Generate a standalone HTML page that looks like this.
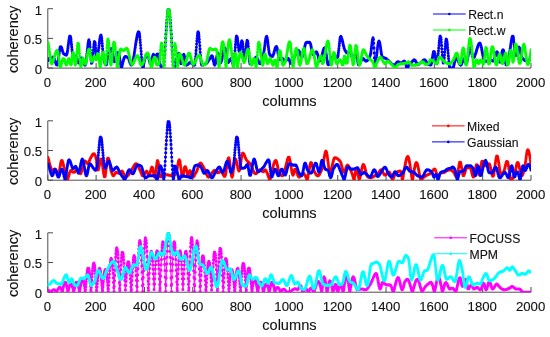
<!DOCTYPE html>
<html><head><meta charset="utf-8"><style>
html,body{margin:0;padding:0;background:#fff;width:550px;height:337px;overflow:hidden}
svg{display:block;filter:blur(0.45px)}
text{font-family:"Liberation Sans", Arial, sans-serif;fill:#111;stroke:#111;stroke-width:0.12px}
.tl{font-size:13.2px}
.lb{font-size:14.6px}
.lg{font-size:12.2px}
</style></head><body>
<svg width="550" height="337" viewBox="0 0 550 337">
<path d="M47.8 8.7V68.1H531.0" fill="none" stroke="#4d4d4d" stroke-width="1"/>
<path d="M47.8 68.10h5.2M47.8 38.40h5.2M47.8 8.70h5.2M47.80 68.1v-5.2M96.12 68.1v-5.2M144.44 68.1v-5.2M192.76 68.1v-5.2M241.08 68.1v-5.2M289.40 68.1v-5.2M337.72 68.1v-5.2M386.04 68.1v-5.2M434.36 68.1v-5.2M482.68 68.1v-5.2M531.00 68.1v-5.2" fill="none" stroke="#4d4d4d" stroke-width="1"/>
<clipPath id="cp0"><rect x="47.8" y="8.2" width="483.2" height="59.9"/></clipPath><g clip-path="url(#cp0)">
<path d="M47.8 60.7 48.0 60.0 48.3 59.4 48.5 58.9 48.8 58.5 49.0 58.4 49.2 58.5 49.5 58.6 49.7 58.8 50.0 59.0 50.2 59.3 50.5 59.5 50.7 59.7 50.9 59.7 51.2 59.7 51.4 59.5 51.7 59.1 51.9 58.6 52.1 58.1 52.4 57.7 52.6 57.3 52.9 57.1 53.1 57.1 53.4 57.2 53.6 57.5 53.8 57.9 54.1 58.5 54.3 59.1 54.6 59.7 54.8 60.4 55.0 61.2 55.3 61.9 55.5 62.6 55.8 63.2 56.0 63.8 56.3 64.3 56.5 64.7 56.7 65.0 57.0 65.1 57.2 64.9 57.5 64.3 57.7 63.4 57.9 62.1 58.2 60.5 58.4 58.8 58.7 57.0 58.9 55.1 59.2 53.2 59.4 51.5 59.6 49.9 59.9 48.5 60.1 47.4 60.4 46.7 60.6 46.4 60.8 46.5 61.1 46.8 61.3 47.2 61.6 47.8 61.8 48.6 62.1 49.3 62.3 50.2 62.5 51.0 62.8 51.8 63.0 52.5 63.3 53.0 63.5 53.5 63.7 53.8 64.0 54.0 64.2 54.1 64.5 54.3 64.7 54.5 65.0 54.6 65.2 54.8 65.4 54.9 65.7 55.0 65.9 55.0 66.2 55.1 66.4 55.1 66.6 54.8 66.9 54.1 67.1 53.1 67.4 51.7 67.6 50.2 67.9 48.4 68.1 46.6 68.3 44.7 68.6 42.9 68.8 41.1 69.1 39.5 69.3 38.1 69.5 36.9 69.8 36.1 70.0 35.7 70.3 35.8 70.5 36.6 70.8 38.0 71.0 39.8 71.2 42.0 71.5 44.4 71.7 46.8 72.0 49.2 72.2 51.4 72.4 53.3 72.7 54.7 72.9 55.6 73.2 55.8 73.4 55.9 73.7 55.9 73.9 56.0 74.1 56.0 74.4 56.1 74.6 56.1 74.9 56.2 75.1 56.2 75.3 56.3 75.6 56.3 75.8 56.5 76.1 56.7 76.3 57.1 76.6 57.6 76.8 58.2 77.0 58.9 77.3 59.5 77.5 60.2 77.8 60.9 78.0 61.6 78.2 62.1 78.5 62.6 78.7 62.9 79.0 63.1 79.2 63.0 79.4 62.8 79.7 62.4 79.9 61.8 80.2 61.1 80.4 60.4 80.7 59.7 80.9 59.0 81.1 58.4 81.4 58.0 81.6 57.8 81.9 57.8 82.1 58.0 82.3 58.4 82.6 58.9 82.8 59.6 83.1 60.3 83.3 61.1 83.6 61.9 83.8 62.6 84.0 63.4 84.3 64.0 84.5 64.5 84.8 64.9 85.0 65.1 85.2 65.0 85.5 64.4 85.7 63.4 86.0 61.9 86.2 60.2 86.5 58.3 86.7 56.1 86.9 53.9 87.2 51.6 87.4 49.3 87.7 47.1 87.9 45.1 88.1 43.3 88.4 41.8 88.6 40.7 88.9 39.9 89.1 39.7 89.4 40.3 89.6 41.9 89.8 44.2 90.1 47.0 90.3 50.2 90.6 53.4 90.8 56.6 91.0 59.4 91.3 61.7 91.5 63.2 91.8 63.8 92.0 63.3 92.3 62.1 92.5 60.3 92.7 58.0 93.0 55.4 93.2 52.6 93.5 49.9 93.7 47.2 93.9 44.9 94.2 43.0 94.4 41.6 94.7 41.1 94.9 41.5 95.2 42.9 95.4 45.2 95.6 48.0 95.9 50.9 96.1 53.7 96.4 56.1 96.6 57.8 96.8 58.4 97.1 58.2 97.3 57.5 97.6 56.5 97.8 55.1 98.1 53.5 98.3 51.7 98.5 49.8 98.8 47.7 99.0 45.6 99.3 43.6 99.5 41.6 99.7 39.8 100.0 38.2 100.2 36.9 100.5 35.9 100.7 35.2 101.0 35.0 101.2 35.5 101.4 36.7 101.7 38.4 101.9 40.7 102.2 43.2 102.4 45.9 102.6 48.7 102.9 51.4 103.1 53.9 103.4 56.1 103.6 57.7 103.9 58.9 104.1 59.9 104.3 60.9 104.6 61.9 104.8 62.8 105.1 63.5 105.3 64.2 105.5 64.7 105.8 65.0 106.0 65.1 106.3 64.8 106.5 63.9 106.8 62.8 107.0 61.3 107.2 59.8 107.5 58.3 107.7 57.0 108.0 55.9 108.2 55.2 108.4 54.4 108.7 53.7 108.9 52.9 109.2 52.2 109.4 51.5 109.6 50.9 109.9 50.3 110.1 49.8 110.4 49.3 110.6 48.9 110.9 48.6 111.1 48.5 111.3 48.4 111.6 48.6 111.8 49.1 112.1 49.9 112.3 51.0 112.5 52.3 112.8 53.6 113.0 55.1 113.3 56.5 113.5 57.9 113.8 59.2 114.0 60.2 114.2 61.1 114.5 61.6 114.7 61.7 115.0 61.6 115.2 61.2 115.4 60.6 115.7 59.8 115.9 58.9 116.2 57.9 116.4 56.9 116.7 55.9 116.9 54.9 117.1 54.1 117.4 53.3 117.6 52.8 117.9 52.5 118.1 52.4 118.3 52.7 118.6 53.3 118.8 54.1 119.1 55.2 119.3 56.4 119.6 57.8 119.8 59.3 120.0 60.8 120.3 62.3 120.5 63.8 120.8 65.2 121.0 66.5 121.2 67.6 121.5 67.7 121.7 66.8 122.0 65.9 122.2 64.9 122.5 63.9 122.7 63.0 122.9 62.1 123.2 61.2 123.4 60.3 123.7 59.5 123.9 58.8 124.1 58.1 124.4 57.6 124.6 57.1 124.9 56.7 125.1 56.5 125.4 56.4 125.6 56.4 125.8 56.5 126.1 56.5 126.3 56.6 126.6 56.7 126.8 56.8 127.0 57.0 127.3 57.2 127.5 57.3 127.8 57.5 128.0 57.7 128.3 57.9 128.5 58.3 128.7 58.9 129.0 59.5 129.2 60.2 129.5 60.9 129.7 61.7 129.9 62.4 130.2 63.1 130.4 63.7 130.7 64.3 130.9 64.7 131.2 65.0 131.4 65.1 131.6 65.0 131.9 64.7 132.1 64.2 132.4 63.5 132.6 62.7 132.8 61.8 133.1 60.7 133.3 59.4 133.6 58.1 133.8 56.7 134.1 55.2 134.3 53.7 134.5 52.1 134.8 50.5 135.0 48.8 135.3 47.2 135.5 45.5 135.7 43.9 136.0 42.3 136.2 40.8 136.5 39.4 136.7 38.0 137.0 36.7 137.2 35.6 137.4 34.5 137.7 33.6 137.9 32.9 138.2 32.3 138.4 31.9 138.6 31.7 138.9 31.8 139.1 32.4 139.4 33.6 139.6 35.3 139.8 37.3 140.1 39.7 140.3 42.4 140.6 45.3 140.8 48.3 141.1 51.3 141.3 54.3 141.5 57.3 141.8 60.0 142.0 62.6 142.3 64.8 142.5 66.6 142.7 68.0 143.0 67.0 143.2 65.9 143.5 64.8 143.7 63.8 144.0 62.7 144.2 61.7 144.4 60.7 144.7 59.7 144.9 58.8 145.2 58.0 145.4 57.2 145.6 56.5 145.9 55.8 146.1 55.3 146.4 54.8 146.6 54.4 146.9 54.1 147.1 53.8 147.3 53.7 147.6 53.8 147.8 54.2 148.1 54.8 148.3 55.7 148.5 56.7 148.8 57.8 149.0 59.0 149.3 60.2 149.5 61.3 149.8 62.2 150.0 63.0 150.2 63.5 150.5 63.8 150.7 63.6 151.0 63.2 151.2 62.4 151.4 61.5 151.7 60.5 151.9 59.3 152.2 58.2 152.4 57.1 152.7 56.1 152.9 55.3 153.1 54.7 153.4 54.4 153.6 54.5 153.9 54.9 154.1 55.4 154.3 56.0 154.6 56.6 154.8 57.0 155.1 57.1 155.3 56.9 155.6 56.7 155.8 56.4 156.0 56.0 156.3 55.5 156.5 55.1 156.8 54.6 157.0 54.3 157.2 54.0 157.5 53.8 157.7 53.7 158.0 54.1 158.2 54.8 158.5 55.8 158.7 57.1 158.9 58.5 159.2 59.9 159.4 61.4 159.7 62.7 159.9 63.8 160.1 64.6 160.4 65.2 160.6 65.5 160.9 65.8 161.1 66.2 161.4 66.5 161.6 66.8 161.8 67.0 162.1 67.3 162.3 67.5 162.6 67.7 162.8 67.8 163.0 67.9 163.3 68.0 163.5 68.1 163.8 68.1 164.0 65.0 164.3 61.6 164.5 58.0 164.7 54.2 165.0 50.3 165.2 46.2 165.5 42.2 165.7 38.1 165.9 34.1 166.2 30.3 166.4 26.6 166.7 23.1 166.9 20.0 167.2 17.1 167.4 14.6 167.6 12.5 167.9 10.9 168.1 9.7 168.4 8.9 168.6 8.7 168.8 8.9 169.1 9.7 169.3 10.9 169.6 12.5 169.8 14.6 170.0 17.1 170.3 20.0 170.5 23.1 170.8 26.6 171.0 30.3 171.3 34.1 171.5 38.1 171.7 42.2 172.0 46.2 172.2 50.3 172.5 54.2 172.7 58.0 172.9 61.6 173.2 65.0 173.4 68.1 173.7 68.0 173.9 67.8 174.2 67.4 174.4 66.9 174.6 66.3 174.9 65.6 175.1 64.8 175.4 64.0 175.6 63.1 175.8 62.2 176.1 61.2 176.3 60.2 176.6 59.3 176.8 58.3 177.1 57.4 177.3 56.6 177.5 55.8 177.8 55.0 178.0 54.4 178.3 53.9 178.5 53.5 178.7 53.2 179.0 53.1 179.2 53.3 179.5 54.3 179.7 55.8 180.0 57.6 180.2 59.5 180.4 61.3 180.7 62.8 180.9 63.6 181.2 63.7 181.4 63.3 181.6 62.6 181.9 61.6 182.1 60.5 182.4 59.2 182.6 57.9 182.9 56.8 183.1 55.7 183.3 55.0 183.6 54.5 183.8 54.4 184.1 54.9 184.3 55.7 184.5 56.8 184.8 58.1 185.0 59.5 185.3 60.9 185.5 62.3 185.8 63.5 186.0 64.4 186.2 65.0 186.5 65.1 186.7 65.0 187.0 65.0 187.2 64.8 187.4 64.6 187.7 64.4 187.9 64.2 188.2 64.0 188.4 63.8 188.7 63.5 188.9 63.3 189.1 63.1 189.4 62.9 189.6 62.7 189.9 62.6 190.1 62.5 190.3 62.4 190.6 62.4 190.8 62.5 191.1 62.6 191.3 62.8 191.6 62.9 191.8 63.2 192.0 63.4 192.3 63.6 192.5 63.9 192.8 64.1 193.0 64.3 193.2 64.5 193.5 64.7 193.7 64.9 194.0 65.0 194.2 65.1 194.5 65.1 194.7 64.6 194.9 63.4 195.2 61.6 195.4 59.3 195.7 56.6 195.9 53.6 196.1 50.4 196.4 47.2 196.6 44.0 196.9 40.9 197.1 38.2 197.4 35.7 197.6 33.8 197.8 32.4 198.1 31.7 198.3 31.9 198.6 32.8 198.8 34.4 199.0 36.6 199.3 39.3 199.5 42.3 199.8 45.6 200.0 48.9 200.2 52.3 200.5 55.4 200.7 58.4 201.0 60.9 201.2 63.0 201.5 64.4 201.7 65.0 201.9 65.1 202.2 65.1 202.4 65.0 202.7 65.0 202.9 65.0 203.1 64.9 203.4 64.8 203.6 64.7 203.9 64.6 204.1 64.6 204.4 64.5 204.6 64.3 204.8 64.2 205.1 64.1 205.3 64.0 205.6 63.9 205.8 63.7 206.0 63.6 206.3 63.4 206.5 63.2 206.8 62.9 207.0 62.7 207.3 62.4 207.5 62.0 207.7 61.7 208.0 61.4 208.2 61.0 208.5 60.6 208.7 60.3 208.9 59.9 209.2 59.5 209.4 59.2 209.7 58.9 209.9 58.5 210.2 58.2 210.4 57.8 210.6 57.4 210.9 57.0 211.1 56.6 211.4 56.2 211.6 55.9 211.8 55.8 212.1 55.8 212.3 56.1 212.6 56.8 212.8 57.8 213.1 58.9 213.3 60.2 213.5 61.4 213.8 62.6 214.0 63.7 214.3 64.5 214.5 65.0 214.7 65.1 215.0 64.8 215.2 64.2 215.5 63.4 215.7 62.3 216.0 61.2 216.2 59.9 216.4 58.6 216.7 57.3 216.9 56.1 217.2 55.0 217.4 54.1 217.6 53.5 217.9 53.1 218.1 53.1 218.4 53.5 218.6 54.2 218.9 55.2 219.1 56.4 219.3 57.6 219.6 58.9 219.8 60.1 220.1 61.1 220.3 61.9 220.5 62.3 220.8 62.4 221.0 62.1 221.3 61.6 221.5 60.8 221.8 59.9 222.0 58.8 222.2 57.6 222.5 56.3 222.7 54.9 223.0 53.6 223.2 52.3 223.4 51.1 223.7 50.1 223.9 49.1 224.2 48.4 224.4 47.9 224.7 47.7 224.9 47.9 225.1 48.4 225.4 49.3 225.6 50.4 225.9 51.8 226.1 53.3 226.3 54.9 226.6 56.5 226.8 58.0 227.1 59.4 227.3 60.6 227.6 61.6 227.8 62.2 228.0 62.4 228.3 62.4 228.5 62.2 228.8 61.9 229.0 61.6 229.2 61.2 229.5 60.8 229.7 60.4 230.0 60.0 230.2 59.5 230.4 59.2 230.7 58.9 230.9 58.6 231.2 58.5 231.4 58.4 231.7 58.8 231.9 59.5 232.1 60.6 232.4 61.7 232.6 62.9 232.9 64.0 233.1 64.7 233.3 65.1 233.6 64.8 233.8 63.7 234.1 61.9 234.3 59.5 234.6 56.8 234.8 53.8 235.0 50.6 235.3 47.4 235.5 44.4 235.8 41.6 236.0 39.2 236.2 37.3 236.5 36.1 236.7 35.7 237.0 36.1 237.2 37.1 237.5 38.6 237.7 40.5 237.9 42.6 238.2 44.8 238.4 46.9 238.7 48.7 238.9 50.3 239.1 51.3 239.4 51.7 239.6 51.5 239.9 50.8 240.1 49.7 240.4 48.4 240.6 46.9 240.8 45.4 241.1 43.9 241.3 42.6 241.6 41.4 241.8 40.7 242.0 40.4 242.3 40.8 242.5 42.1 242.8 44.0 243.0 46.5 243.3 49.2 243.5 51.8 243.7 54.3 244.0 56.4 244.2 57.8 244.5 58.4 244.7 58.1 244.9 57.1 245.2 55.7 245.4 53.8 245.7 51.7 245.9 49.4 246.2 47.1 246.4 44.9 246.6 43.0 246.9 41.4 247.1 40.2 247.4 39.7 247.6 40.0 247.8 41.3 248.1 43.5 248.3 46.2 248.6 49.2 248.8 52.5 249.1 55.7 249.3 58.6 249.5 61.1 249.8 62.8 250.0 63.7 250.3 63.7 250.5 63.7 250.7 63.6 251.0 63.6 251.2 63.4 251.5 63.3 251.7 63.2 252.0 63.0 252.2 62.8 252.4 62.7 252.7 62.5 252.9 62.3 253.2 62.0 253.4 61.6 253.6 61.1 253.9 60.6 254.1 60.1 254.4 59.6 254.6 59.0 254.9 58.5 255.1 58.1 255.3 57.7 255.6 57.4 255.8 57.2 256.1 57.1 256.3 57.1 256.5 57.3 256.8 57.6 257.0 58.0 257.3 58.4 257.5 59.0 257.8 59.5 258.0 60.1 258.2 60.7 258.5 61.3 258.7 61.9 259.0 62.4 259.2 62.9 259.4 63.3 259.7 63.5 259.9 63.7 260.2 63.8 260.4 63.6 260.6 63.4 260.9 63.0 261.1 62.5 261.4 61.9 261.6 61.2 261.9 60.4 262.1 59.6 262.3 58.7 262.6 57.8 262.8 56.8 263.1 55.9 263.3 55.0 263.5 54.0 263.8 52.8 264.0 51.3 264.3 49.7 264.5 47.9 264.8 46.0 265.0 44.1 265.2 42.3 265.5 40.6 265.7 39.1 266.0 37.9 266.2 37.0 266.4 36.5 266.7 36.4 266.9 36.9 267.2 37.9 267.4 39.3 267.7 40.9 267.9 42.8 268.1 44.9 268.4 46.9 268.6 48.9 268.9 50.7 269.1 52.3 269.3 53.5 269.6 54.2 269.8 54.6 270.1 54.9 270.3 55.2 270.6 55.4 270.8 55.7 271.0 55.9 271.3 56.0 271.5 56.2 271.8 56.3 272.0 56.4 272.2 56.4 272.5 56.4 272.7 56.2 273.0 55.8 273.2 55.2 273.5 54.5 273.7 53.8 273.9 52.9 274.2 52.0 274.4 51.1 274.7 50.2 274.9 49.4 275.1 48.6 275.4 47.9 275.6 47.3 275.9 46.8 276.1 46.5 276.4 46.4 276.6 46.6 276.8 47.1 277.1 48.0 277.3 49.1 277.6 50.3 277.8 51.7 278.0 53.2 278.3 54.6 278.5 56.0 278.8 57.2 279.0 58.3 279.3 59.1 279.5 59.6 279.7 59.7 280.0 59.7 280.2 59.6 280.5 59.5 280.7 59.3 280.9 59.1 281.2 59.0 281.4 58.8 281.7 58.6 281.9 58.5 282.2 58.4 282.4 58.4 282.6 58.5 282.9 58.7 283.1 58.9 283.4 59.2 283.6 59.6 283.8 59.9 284.1 60.3 284.3 60.6 284.6 60.9 284.8 61.0 285.1 61.1 285.3 61.0 285.5 60.9 285.8 60.8 286.0 60.5 286.3 60.3 286.5 60.0 286.7 59.7 287.0 59.4 287.2 59.2 287.5 58.9 287.7 58.7 288.0 58.5 288.2 58.4 288.4 58.4 288.7 58.6 288.9 59.0 289.2 59.5 289.4 60.1 289.6 60.8 289.9 61.6 290.1 62.3 290.4 62.9 290.6 63.3 290.8 63.7 291.1 63.8 291.3 63.6 291.6 63.4 291.8 63.0 292.1 62.5 292.3 61.9 292.5 61.3 292.8 60.7 293.0 60.0 293.3 59.4 293.5 58.9 293.7 58.4 294.0 57.9 294.2 57.4 294.5 56.9 294.7 56.4 295.0 55.8 295.2 55.3 295.4 54.7 295.7 54.2 295.9 53.6 296.2 53.1 296.4 52.6 296.6 52.2 296.9 51.8 297.1 51.4 297.4 51.1 297.6 50.8 297.9 50.6 298.1 50.5 298.3 50.4 298.6 50.4 298.8 50.7 299.1 51.1 299.3 51.6 299.5 52.2 299.8 52.9 300.0 53.6 300.3 54.3 300.5 55.0 300.8 55.6 301.0 56.2 301.2 56.7 301.5 56.9 301.7 57.1 302.0 57.0 302.2 56.7 302.4 56.2 302.7 55.5 302.9 54.7 303.2 53.8 303.4 52.8 303.7 51.7 303.9 50.6 304.1 49.5 304.4 48.4 304.6 47.3 304.9 46.2 305.1 45.2 305.3 44.4 305.6 43.6 305.8 43.0 306.1 42.6 306.3 42.4 306.6 42.4 306.8 42.4 307.0 42.4 307.3 42.4 307.5 42.4 307.8 42.4 308.0 42.4 308.2 42.4 308.5 42.4 308.7 42.4 309.0 42.4 309.2 42.4 309.5 42.4 309.7 42.4 309.9 42.5 310.2 42.9 310.4 43.6 310.7 44.5 310.9 45.6 311.1 46.8 311.4 48.1 311.6 49.4 311.9 50.7 312.1 51.8 312.4 52.8 312.6 53.6 312.8 54.2 313.1 54.4 313.3 54.4 313.6 54.3 313.8 54.1 314.0 53.9 314.3 53.6 314.5 53.4 314.8 53.1 315.0 52.8 315.3 52.5 315.5 52.3 315.7 52.0 316.0 51.9 316.2 51.8 316.5 51.7 316.7 51.9 316.9 52.3 317.2 52.9 317.4 53.7 317.7 54.5 317.9 55.5 318.2 56.5 318.4 57.5 318.6 58.5 318.9 59.4 319.1 60.1 319.4 60.7 319.6 61.0 319.8 61.1 320.1 60.9 320.3 60.6 320.6 60.2 320.8 59.6 321.0 58.9 321.3 58.1 321.5 57.2 321.8 56.3 322.0 55.3 322.3 54.3 322.5 53.3 322.7 52.4 323.0 51.4 323.2 50.6 323.5 49.8 323.7 49.1 323.9 48.5 324.2 48.1 324.4 47.8 324.7 47.7 324.9 47.9 325.2 48.5 325.4 49.5 325.6 50.7 325.9 52.2 326.1 53.8 326.4 55.4 326.6 57.2 326.8 58.8 327.1 60.4 327.3 61.9 327.6 63.1 327.8 64.0 328.1 64.6 328.3 64.8 328.5 64.7 328.8 64.5 329.0 64.1 329.3 63.7 329.5 63.1 329.7 62.5 330.0 61.8 330.2 61.1 330.5 60.4 330.7 59.7 331.0 59.0 331.2 58.4 331.4 57.9 331.7 57.5 331.9 57.2 332.2 57.0 332.4 56.8 332.6 56.6 332.9 56.4 333.1 56.3 333.4 56.1 333.6 56.0 333.9 55.9 334.1 55.8 334.3 55.8 334.6 55.7 334.8 55.7 335.1 55.8 335.3 56.0 335.5 56.2 335.8 56.5 336.0 56.7 336.3 57.0 336.5 57.3 336.8 57.5 337.0 57.6 337.2 57.7 337.5 57.7 337.7 57.1 338.0 56.0 338.2 54.4 338.4 52.5 338.7 50.4 338.9 48.2 339.2 45.8 339.4 43.6 339.7 41.5 339.9 39.6 340.1 38.1 340.4 37.0 340.6 36.4 340.9 36.4 341.1 36.7 341.3 37.1 341.6 37.7 341.8 38.5 342.1 39.4 342.3 40.4 342.6 41.4 342.8 42.5 343.0 43.6 343.3 44.7 343.5 45.8 343.8 46.8 344.0 47.7 344.2 48.5 344.5 49.2 344.7 49.7 345.0 50.2 345.2 50.6 345.5 51.0 345.7 51.4 345.9 51.8 346.2 52.1 346.4 52.4 346.7 52.7 346.9 52.9 347.1 53.0 347.4 53.1 347.6 53.0 347.9 52.9 348.1 52.7 348.4 52.5 348.6 52.2 348.8 51.9 349.1 51.7 349.3 51.4 349.6 51.3 349.8 51.1 350.0 51.1 350.3 51.2 350.5 51.6 350.8 52.2 351.0 52.9 351.2 53.8 351.5 54.8 351.7 55.8 352.0 56.8 352.2 57.6 352.5 58.4 352.7 59.0 352.9 59.4 353.2 59.5 353.4 59.3 353.7 58.9 353.9 58.3 354.1 57.6 354.4 56.7 354.6 55.9 354.9 55.0 355.1 54.2 355.4 53.5 355.6 52.9 355.8 52.5 356.1 52.4 356.3 52.7 356.6 53.5 356.8 54.7 357.0 56.2 357.3 57.8 357.5 59.5 357.8 61.2 358.0 62.7 358.3 63.9 358.5 64.8 358.7 65.1 359.0 65.0 359.2 64.8 359.5 64.5 359.7 64.1 359.9 63.7 360.2 63.1 360.4 62.6 360.7 62.0 360.9 61.4 361.2 60.8 361.4 60.2 361.6 59.7 361.9 59.2 362.1 58.9 362.4 58.6 362.6 58.4 362.8 58.4 363.1 58.5 363.3 58.6 363.6 58.8 363.8 59.0 364.1 59.3 364.3 59.6 364.5 59.9 364.8 60.2 365.0 60.4 365.3 60.7 365.5 60.9 365.7 61.0 366.0 61.1 366.2 61.1 366.5 61.0 366.7 60.9 367.0 60.8 367.2 60.6 367.4 60.4 367.7 60.1 367.9 59.8 368.2 59.5 368.4 59.1 368.6 58.7 368.9 58.3 369.1 57.8 369.4 57.3 369.6 56.8 369.9 56.3 370.1 55.8 370.3 55.0 370.6 53.9 370.8 52.4 371.1 50.6 371.3 48.7 371.5 46.7 371.8 44.8 372.0 42.9 372.3 41.1 372.5 39.7 372.8 38.6 373.0 37.9 373.2 37.7 373.5 39.5 373.7 43.1 374.0 47.9 374.2 53.0 374.4 57.9 374.7 61.7 374.9 63.6 375.2 63.6 375.4 63.1 375.7 62.2 375.9 60.9 376.1 59.3 376.4 57.6 376.6 55.6 376.9 53.6 377.1 51.6 377.3 49.6 377.6 47.6 377.8 45.8 378.1 44.2 378.3 42.9 378.6 41.9 378.8 41.2 379.0 41.0 379.3 41.3 379.5 42.0 379.8 43.0 380.0 44.3 380.2 45.8 380.5 47.4 380.7 49.1 381.0 50.7 381.2 52.4 381.4 53.9 381.7 55.1 381.9 56.1 382.2 56.8 382.4 57.1 382.7 57.3 382.9 57.4 383.1 57.5 383.4 57.6 383.6 57.7 383.9 57.8 384.1 57.9 384.3 57.9 384.6 58.0 384.8 58.1 385.1 58.1 385.3 58.2 385.6 58.3 385.8 58.5 386.0 58.6 386.3 58.8 386.5 58.9 386.8 59.1 387.0 59.3 387.2 59.5 387.5 59.7 387.7 59.9 388.0 60.1 388.2 60.3 388.5 60.6 388.7 60.8 388.9 61.0 389.2 61.2 389.4 61.5 389.7 61.7 389.9 62.0 390.1 62.2 390.4 62.5 390.6 62.8 390.9 63.0 391.1 63.3 391.4 63.5 391.6 63.7 391.8 63.8 392.1 64.0 392.3 64.2 392.6 64.3 392.8 64.5 393.0 64.6 393.3 64.8 393.5 64.9 393.8 65.0 394.0 65.1 394.3 65.1 394.5 65.1 394.7 65.0 395.0 64.8 395.2 64.6 395.5 64.3 395.7 63.9 395.9 63.6 396.2 63.2 396.4 62.9 396.7 62.5 396.9 62.2 397.2 62.0 397.4 61.8 397.6 61.8 397.9 61.8 398.1 61.8 398.4 61.9 398.6 62.0 398.8 62.1 399.1 62.2 399.3 62.4 399.6 62.5 399.8 62.7 400.1 62.8 400.3 62.9 400.5 63.0 400.8 63.1 401.0 63.1 401.3 63.1 401.5 63.0 401.7 62.9 402.0 62.7 402.2 62.5 402.5 62.3 402.7 62.1 403.0 61.9 403.2 61.7 403.4 61.5 403.7 61.3 403.9 61.2 404.2 61.1 404.4 61.1 404.6 61.2 404.9 61.6 405.1 62.1 405.4 62.8 405.6 63.6 405.9 64.4 406.1 65.3 406.3 66.1 406.6 66.9 406.8 67.6 407.1 68.1 407.3 67.7 407.5 67.3 407.8 67.0 408.0 66.6 408.3 66.3 408.5 66.0 408.8 65.7 409.0 65.4 409.2 65.1 409.5 64.8 409.7 64.5 410.0 64.3 410.2 64.0 410.4 63.7 410.7 63.4 410.9 63.1 411.2 62.8 411.4 62.5 411.6 62.2 411.9 61.9 412.1 61.5 412.4 61.2 412.6 60.9 412.9 60.7 413.1 60.4 413.3 60.2 413.6 60.0 413.8 59.9 414.1 59.8 414.3 59.8 414.5 59.8 414.8 59.9 415.0 60.2 415.3 60.5 415.5 60.9 415.8 61.4 416.0 61.9 416.2 62.4 416.5 62.9 416.7 63.3 417.0 63.7 417.2 64.1 417.4 64.3 417.7 64.4 417.9 64.4 418.2 64.4 418.4 64.3 418.7 64.2 418.9 64.1 419.1 63.9 419.4 63.7 419.6 63.6 419.9 63.4 420.1 63.2 420.3 63.0 420.6 62.8 420.8 62.6 421.1 62.4 421.3 62.3 421.6 62.1 421.8 61.8 422.0 61.6 422.3 61.3 422.5 61.1 422.8 60.8 423.0 60.6 423.2 60.3 423.5 60.1 423.7 60.0 424.0 59.9 424.2 59.8 424.5 59.7 424.7 59.8 424.9 59.9 425.2 60.2 425.4 60.4 425.7 60.8 425.9 61.1 426.1 61.5 426.4 61.9 426.6 62.3 426.9 62.7 427.1 63.0 427.4 63.4 427.6 63.6 427.8 63.8 428.1 63.9 428.3 64.1 428.6 64.3 428.8 64.4 429.0 64.6 429.3 64.7 429.5 64.8 429.8 64.9 430.0 65.0 430.3 65.0 430.5 65.1 430.7 65.1 431.0 64.8 431.2 64.1 431.5 63.1 431.7 61.9 431.9 60.5 432.2 59.0 432.4 57.5 432.7 56.0 432.9 54.6 433.2 53.4 433.4 52.3 433.6 51.5 433.9 51.1 434.1 51.1 434.4 51.7 434.6 52.7 434.8 54.0 435.1 55.6 435.3 57.3 435.6 59.0 435.8 60.6 436.1 62.0 436.3 63.0 436.5 63.6 436.8 63.7 437.0 63.1 437.3 62.0 437.5 60.3 437.7 58.3 438.0 55.9 438.2 53.4 438.5 50.7 438.7 48.0 439.0 45.3 439.2 42.8 439.4 40.5 439.7 38.6 439.9 37.1 440.2 36.1 440.4 35.7 440.6 36.1 440.9 37.5 441.1 39.6 441.4 42.3 441.6 45.4 441.8 48.8 442.1 52.1 442.3 55.3 442.6 58.2 442.8 60.6 443.1 62.3 443.3 63.0 443.5 62.8 443.8 61.8 444.0 60.0 444.3 57.7 444.5 55.0 444.7 52.1 445.0 49.1 445.2 46.3 445.5 43.7 445.7 41.5 446.0 40.0 446.2 39.1 446.4 39.1 446.7 39.9 446.9 41.2 447.2 42.9 447.4 45.1 447.6 47.6 447.9 50.3 448.1 53.1 448.4 55.9 448.6 58.6 448.9 61.2 449.1 63.4 449.3 65.4 449.6 66.9 449.8 67.8 450.1 68.1 450.3 68.1 450.5 68.1 450.8 68.1 451.0 68.1 451.3 68.1 451.5 68.1 451.8 68.1 452.0 68.1 452.2 68.1 452.5 68.1 452.7 68.1 453.0 67.9 453.2 67.5 453.4 66.8 453.7 66.0 453.9 65.0 454.2 63.9 454.4 62.8 454.7 61.7 454.9 60.6 455.1 59.7 455.4 58.9 455.6 58.2 455.9 57.8 456.1 57.7 456.3 57.8 456.6 58.0 456.8 58.3 457.1 58.6 457.3 59.0 457.6 59.5 457.8 60.0 458.0 60.6 458.3 61.1 458.5 61.7 458.8 62.3 459.0 62.8 459.2 63.3 459.5 63.8 459.7 64.2 460.0 64.6 460.2 64.8 460.5 65.0 460.7 65.1 460.9 65.0 461.2 64.8 461.4 64.4 461.7 63.9 461.9 63.3 462.1 62.6 462.4 61.9 462.6 61.3 462.9 60.6 463.1 60.0 463.4 59.5 463.6 59.0 463.8 58.8 464.1 58.7 464.3 58.9 464.6 59.4 464.8 60.2 465.0 61.1 465.3 62.0 465.5 62.8 465.8 63.4 466.0 63.7 466.3 63.7 466.5 63.3 466.7 62.7 467.0 61.8 467.2 60.8 467.5 59.6 467.7 58.3 467.9 56.9 468.2 55.5 468.4 54.1 468.7 52.8 468.9 51.6 469.2 50.5 469.4 49.6 469.6 48.9 469.9 48.5 470.1 48.4 470.4 48.6 470.6 49.0 470.8 49.6 471.1 50.4 471.3 51.3 471.6 52.2 471.8 53.3 472.0 54.3 472.3 55.2 472.5 56.1 472.8 56.8 473.0 57.3 473.3 57.7 473.5 57.7 473.7 57.6 474.0 57.4 474.2 57.1 474.5 56.7 474.7 56.2 474.9 55.6 475.2 54.9 475.4 54.2 475.7 53.5 475.9 52.7 476.2 51.8 476.4 51.0 476.6 50.2 476.9 49.3 477.1 48.5 477.4 47.7 477.6 46.9 477.8 46.2 478.1 45.5 478.3 44.9 478.6 44.3 478.8 43.9 479.1 43.5 479.3 43.2 479.5 43.1 479.8 43.1 480.0 43.2 480.3 43.6 480.5 44.2 480.7 45.0 481.0 45.9 481.2 46.9 481.5 48.0 481.7 49.2 482.0 50.5 482.2 51.8 482.4 53.1 482.7 54.3 482.9 55.5 483.2 56.7 483.4 57.8 483.6 58.7 483.9 59.6 484.1 60.2 484.4 60.7 484.6 61.0 484.9 61.1 485.1 61.1 485.3 61.1 485.6 61.1 485.8 61.1 486.1 61.1 486.3 61.1 486.5 61.1 486.8 61.1 487.0 61.1 487.3 61.1 487.5 61.1 487.8 61.1 488.0 61.0 488.2 60.9 488.5 60.8 488.7 60.6 489.0 60.4 489.2 60.3 489.4 60.1 489.7 59.9 489.9 59.8 490.2 59.8 490.4 59.7 490.7 59.8 490.9 59.9 491.1 60.0 491.4 60.2 491.6 60.4 491.9 60.5 492.1 60.7 492.3 60.9 492.6 61.0 492.8 61.1 493.1 61.1 493.3 60.9 493.6 60.6 493.8 60.2 494.0 59.6 494.3 58.9 494.5 58.1 494.8 57.3 495.0 56.5 495.2 55.6 495.5 54.8 495.7 54.0 496.0 53.3 496.2 52.7 496.5 52.3 496.7 51.9 496.9 51.7 497.2 51.8 497.4 52.3 497.7 53.2 497.9 54.4 498.1 55.8 498.4 57.2 498.6 58.6 498.9 60.0 499.1 61.1 499.4 61.9 499.6 62.4 499.8 62.4 500.1 62.0 500.3 61.3 500.6 60.3 500.8 59.2 501.0 57.9 501.3 56.6 501.5 55.2 501.8 53.9 502.0 52.6 502.2 51.5 502.5 50.6 502.7 50.0 503.0 49.7 503.2 49.8 503.5 50.4 503.7 51.3 503.9 52.5 504.2 53.9 504.4 55.4 504.7 57.1 504.9 58.8 505.1 60.4 505.4 61.8 505.6 63.1 505.9 64.1 506.1 64.8 506.4 65.1 506.6 65.0 506.8 64.6 507.1 64.1 507.3 63.3 507.6 62.4 507.8 61.4 508.0 60.4 508.3 59.2 508.5 58.1 508.8 57.0 509.0 55.9 509.3 54.8 509.5 53.5 509.7 52.1 510.0 50.5 510.2 48.8 510.5 47.1 510.7 45.3 510.9 43.6 511.2 42.0 511.4 40.4 511.7 39.0 511.9 37.8 512.2 36.9 512.4 36.2 512.6 35.8 512.9 35.7 513.1 36.4 513.4 37.6 513.6 39.4 513.8 41.5 514.1 43.9 514.3 46.4 514.6 48.8 514.8 51.0 515.1 53.0 515.3 54.5 515.5 55.5 515.8 55.7 516.0 55.6 516.3 55.2 516.5 54.6 516.7 53.8 517.0 53.0 517.2 52.1 517.5 51.1 517.7 50.2 518.0 49.3 518.2 48.5 518.4 47.9 518.7 47.4 518.9 47.1 519.2 47.1 519.4 47.4 519.6 48.1 519.9 49.0 520.1 50.1 520.4 51.3 520.6 52.6 520.9 53.8 521.1 55.0 521.3 55.9 521.6 56.7 521.8 57.2 522.1 57.6 522.3 57.9 522.5 58.2 522.8 58.5 523.0 58.8 523.3 59.1 523.5 59.3 523.8 59.6 524.0 59.8 524.2 59.9 524.5 60.1 524.7 60.2 525.0 60.4 525.2 60.5 525.4 60.5 525.7 60.6 525.9 60.7 526.2 60.8 526.4 60.9 526.7 60.9 526.9 61.0 527.1 61.0 527.4 61.1 527.6 61.1 527.9 61.1 528.1 61.0 528.3 60.9 528.6 60.8 528.8 60.5 529.1 60.3 529.3 60.0 529.6 59.6 529.8 59.3 530.0 58.9 530.3 58.4 530.5 57.9 530.8 57.4 531.0 56.9" fill="none" stroke="#0000ff" stroke-width="1" stroke-linejoin="round"/><path d="M47.8 60.7h0M48.0 60.0h0M48.5 58.9h0M49.2 58.5h0M50.0 59.0h0M50.7 59.7h0M51.4 59.5h0M51.9 58.6h0M52.4 57.7h0M52.9 57.1h0M53.6 57.5h0M54.1 58.5h0M54.6 59.7h0M54.8 60.4h0M55.0 61.2h0M55.3 61.9h0M55.5 62.6h0M56.0 63.8h0M56.5 64.7h0M57.2 64.9h0M57.7 63.4h0M57.9 62.1h0M58.2 60.5h0M58.4 58.8h0M58.7 57.0h0M58.9 55.1h0M59.2 53.2h0M59.4 51.5h0M59.6 49.9h0M59.9 48.5h0M60.1 47.4h0M60.4 46.7h0M61.1 46.8h0M61.6 47.8h0M61.8 48.6h0M62.1 49.3h0M62.3 50.2h0M62.5 51.0h0M62.8 51.8h0M63.0 52.5h0M63.5 53.5h0M64.2 54.1h0M65.0 54.6h0M65.7 55.0h0M66.4 55.1h0M66.9 54.1h0M67.1 53.1h0M67.4 51.7h0M67.6 50.2h0M67.9 48.4h0M68.1 46.6h0M68.3 44.7h0M68.6 42.9h0M68.8 41.1h0M69.1 39.5h0M69.3 38.1h0M69.5 36.9h0M69.8 36.1h0M70.5 36.6h0M70.8 38.0h0M71.0 39.8h0M71.2 42.0h0M71.5 44.4h0M71.7 46.8h0M72.0 49.2h0M72.2 51.4h0M72.4 53.3h0M72.7 54.7h0M72.9 55.6h0M73.7 55.9h0M74.4 56.1h0M75.1 56.2h0M75.8 56.5h0M76.3 57.1h0M76.8 58.2h0M77.3 59.5h0M77.5 60.2h0M77.8 60.9h0M78.2 62.1h0M78.7 62.9h0M79.4 62.8h0M79.9 61.8h0M80.2 61.1h0M80.4 60.4h0M80.7 59.7h0M80.9 59.0h0M81.4 58.0h0M82.1 58.0h0M82.6 58.9h0M83.1 60.3h0M83.3 61.1h0M83.6 61.9h0M83.8 62.6h0M84.0 63.4h0M84.5 64.5h0M85.0 65.1h0M85.5 64.4h0M85.7 63.4h0M86.0 61.9h0M86.2 60.2h0M86.5 58.3h0M86.7 56.1h0M86.9 53.9h0M87.2 51.6h0M87.4 49.3h0M87.7 47.1h0M87.9 45.1h0M88.1 43.3h0M88.4 41.8h0M88.6 40.7h0M88.9 39.9h0M89.6 41.9h0M89.8 44.2h0M90.1 47.0h0M90.3 50.2h0M90.6 53.4h0M90.8 56.6h0M91.0 59.4h0M91.3 61.7h0M91.5 63.2h0M92.3 62.1h0M92.5 60.3h0M92.7 58.0h0M93.0 55.4h0M93.2 52.6h0M93.5 49.9h0M93.7 47.2h0M93.9 44.9h0M94.2 43.0h0M94.4 41.6h0M95.2 42.9h0M95.4 45.2h0M95.6 48.0h0M95.9 50.9h0M96.1 53.7h0M96.4 56.1h0M96.6 57.8h0M97.3 57.5h0M97.6 56.5h0M97.8 55.1h0M98.1 53.5h0M98.3 51.7h0M98.5 49.8h0M98.8 47.7h0M99.0 45.6h0M99.3 43.6h0M99.5 41.6h0M99.7 39.8h0M100.0 38.2h0M100.2 36.9h0M100.5 35.9h0M101.0 35.0h0M101.4 36.7h0M101.7 38.4h0M101.9 40.7h0M102.2 43.2h0M102.4 45.9h0M102.6 48.7h0M102.9 51.4h0M103.1 53.9h0M103.4 56.1h0M103.6 57.7h0M103.9 58.9h0M104.1 59.9h0M104.3 60.9h0M104.6 61.9h0M104.8 62.8h0M105.1 63.5h0M105.5 64.7h0M106.3 64.8h0M106.5 63.9h0M106.8 62.8h0M107.0 61.3h0M107.2 59.8h0M107.5 58.3h0M107.7 57.0h0M108.0 55.9h0M108.2 55.2h0M108.4 54.4h0M108.7 53.7h0M108.9 52.9h0M109.2 52.2h0M109.4 51.5h0M109.9 50.3h0M110.4 49.3h0M110.9 48.6h0M111.6 48.6h0M112.1 49.9h0M112.3 51.0h0M112.5 52.3h0M112.8 53.6h0M113.0 55.1h0M113.3 56.5h0M113.5 57.9h0M113.8 59.2h0M114.0 60.2h0M114.2 61.1h0M114.7 61.7h0M115.2 61.2h0M115.7 59.8h0M115.9 58.9h0M116.2 57.9h0M116.4 56.9h0M116.7 55.9h0M116.9 54.9h0M117.1 54.1h0M117.4 53.3h0M117.9 52.5h0M118.6 53.3h0M118.8 54.1h0M119.1 55.2h0M119.3 56.4h0M119.6 57.8h0M119.8 59.3h0M120.0 60.8h0M120.3 62.3h0M120.5 63.8h0M120.8 65.2h0M121.0 66.5h0M121.2 67.6h0M121.7 66.8h0M122.0 65.9h0M122.2 64.9h0M122.5 63.9h0M122.7 63.0h0M122.9 62.1h0M123.2 61.2h0M123.4 60.3h0M123.7 59.5h0M123.9 58.8h0M124.1 58.1h0M124.6 57.1h0M125.1 56.5h0M125.8 56.5h0M126.6 56.7h0M127.3 57.2h0M128.0 57.7h0M128.5 58.3h0M129.0 59.5h0M129.2 60.2h0M129.5 60.9h0M129.7 61.7h0M129.9 62.4h0M130.2 63.1h0M130.7 64.3h0M131.2 65.0h0M131.9 64.7h0M132.4 63.5h0M132.6 62.7h0M132.8 61.8h0M133.1 60.7h0M133.3 59.4h0M133.6 58.1h0M133.8 56.7h0M134.1 55.2h0M134.3 53.7h0M134.5 52.1h0M134.8 50.5h0M135.0 48.8h0M135.3 47.2h0M135.5 45.5h0M135.7 43.9h0M136.0 42.3h0M136.2 40.8h0M136.5 39.4h0M136.7 38.0h0M137.0 36.7h0M137.2 35.6h0M137.4 34.5h0M137.7 33.6h0M137.9 32.9h0M138.4 31.9h0M139.1 32.4h0M139.4 33.6h0M139.6 35.3h0M139.8 37.3h0M140.1 39.7h0M140.3 42.4h0M140.6 45.3h0M140.8 48.3h0M141.1 51.3h0M141.3 54.3h0M141.5 57.3h0M141.8 60.0h0M142.0 62.6h0M142.3 64.8h0M142.5 66.6h0M142.7 68.0h0M143.0 67.0h0M143.2 65.9h0M143.5 64.8h0M143.7 63.8h0M144.0 62.7h0M144.2 61.7h0M144.4 60.7h0M144.7 59.7h0M144.9 58.8h0M145.2 58.0h0M145.4 57.2h0M145.6 56.5h0M146.1 55.3h0M146.6 54.4h0M147.1 53.8h0M147.8 54.2h0M148.3 55.7h0M148.5 56.7h0M148.8 57.8h0M149.0 59.0h0M149.3 60.2h0M149.5 61.3h0M149.8 62.2h0M150.0 63.0h0M150.5 63.8h0M151.0 63.2h0M151.2 62.4h0M151.4 61.5h0M151.7 60.5h0M151.9 59.3h0M152.2 58.2h0M152.4 57.1h0M152.7 56.1h0M152.9 55.3h0M153.4 54.4h0M154.1 55.4h0M154.6 56.6h0M155.3 56.9h0M155.8 56.4h0M156.3 55.5h0M156.8 54.6h0M157.2 54.0h0M158.0 54.1h0M158.2 54.8h0M158.5 55.8h0M158.7 57.1h0M158.9 58.5h0M159.2 59.9h0M159.4 61.4h0M159.7 62.7h0M159.9 63.8h0M160.1 64.6h0M160.6 65.5h0M161.1 66.2h0M161.6 66.8h0M162.3 67.5h0M163.0 67.9h0M163.8 68.1h0M164.0 65.0h0M164.3 61.6h0M164.5 58.0h0M164.7 54.2h0M165.0 50.3h0M165.2 46.2h0M165.5 42.2h0M165.7 38.1h0M165.9 34.1h0M166.2 30.3h0M166.4 26.6h0M166.7 23.1h0M166.9 20.0h0M167.2 17.1h0M167.4 14.6h0M167.6 12.5h0M167.9 10.9h0M168.1 9.7h0M168.4 8.9h0M169.1 9.7h0M169.3 10.9h0M169.6 12.5h0M169.8 14.6h0M170.0 17.1h0M170.3 20.0h0M170.5 23.1h0M170.8 26.6h0M171.0 30.3h0M171.3 34.1h0M171.5 38.1h0M171.7 42.2h0M172.0 46.2h0M172.2 50.3h0M172.5 54.2h0M172.7 58.0h0M172.9 61.6h0M173.2 65.0h0M173.4 68.1h0M174.2 67.4h0M174.6 66.3h0M174.9 65.6h0M175.1 64.8h0M175.4 64.0h0M175.6 63.1h0M175.8 62.2h0M176.1 61.2h0M176.3 60.2h0M176.6 59.3h0M176.8 58.3h0M177.1 57.4h0M177.3 56.6h0M177.5 55.8h0M177.8 55.0h0M178.3 53.9h0M178.7 53.2h0M179.5 54.3h0M179.7 55.8h0M180.0 57.6h0M180.2 59.5h0M180.4 61.3h0M180.7 62.8h0M180.9 63.6h0M181.6 62.6h0M181.9 61.6h0M182.1 60.5h0M182.4 59.2h0M182.6 57.9h0M182.9 56.8h0M183.1 55.7h0M183.3 55.0h0M183.8 54.4h0M184.3 55.7h0M184.5 56.8h0M184.8 58.1h0M185.0 59.5h0M185.3 60.9h0M185.5 62.3h0M185.8 63.5h0M186.0 64.4h0M186.5 65.1h0M187.2 64.8h0M187.9 64.2h0M188.7 63.5h0M189.4 62.9h0M190.1 62.5h0M190.8 62.5h0M191.6 62.9h0M192.3 63.6h0M193.0 64.3h0M193.7 64.9h0M194.5 65.1h0M194.9 63.4h0M195.2 61.6h0M195.4 59.3h0M195.7 56.6h0M195.9 53.6h0M196.1 50.4h0M196.4 47.2h0M196.6 44.0h0M196.9 40.9h0M197.1 38.2h0M197.4 35.7h0M197.6 33.8h0M197.8 32.4h0M198.1 31.7h0M198.6 32.8h0M198.8 34.4h0M199.0 36.6h0M199.3 39.3h0M199.5 42.3h0M199.8 45.6h0M200.0 48.9h0M200.2 52.3h0M200.5 55.4h0M200.7 58.4h0M201.0 60.9h0M201.2 63.0h0M201.5 64.4h0M201.7 65.0h0M202.4 65.0h0M203.1 64.9h0M203.9 64.6h0M204.6 64.3h0M205.3 64.0h0M206.0 63.6h0M206.8 62.9h0M207.3 62.4h0M207.7 61.7h0M208.2 61.0h0M208.7 60.3h0M209.2 59.5h0M209.7 58.9h0M210.2 58.2h0M210.6 57.4h0M211.1 56.6h0M211.6 55.9h0M212.3 56.1h0M212.6 56.8h0M212.8 57.8h0M213.1 58.9h0M213.3 60.2h0M213.5 61.4h0M213.8 62.6h0M214.0 63.7h0M214.3 64.5h0M214.7 65.1h0M215.2 64.2h0M215.5 63.4h0M215.7 62.3h0M216.0 61.2h0M216.2 59.9h0M216.4 58.6h0M216.7 57.3h0M216.9 56.1h0M217.2 55.0h0M217.4 54.1h0M217.9 53.1h0M218.6 54.2h0M218.9 55.2h0M219.1 56.4h0M219.3 57.6h0M219.6 58.9h0M219.8 60.1h0M220.1 61.1h0M220.3 61.9h0M220.8 62.4h0M221.3 61.6h0M221.5 60.8h0M221.8 59.9h0M222.0 58.8h0M222.2 57.6h0M222.5 56.3h0M222.7 54.9h0M223.0 53.6h0M223.2 52.3h0M223.4 51.1h0M223.7 50.1h0M223.9 49.1h0M224.2 48.4h0M224.7 47.7h0M225.1 48.4h0M225.4 49.3h0M225.6 50.4h0M225.9 51.8h0M226.1 53.3h0M226.3 54.9h0M226.6 56.5h0M226.8 58.0h0M227.1 59.4h0M227.3 60.6h0M227.6 61.6h0M228.0 62.4h0M228.8 61.9h0M229.2 61.2h0M229.7 60.4h0M230.2 59.5h0M230.7 58.9h0M231.4 58.4h0M231.9 59.5h0M232.1 60.6h0M232.4 61.7h0M232.6 62.9h0M232.9 64.0h0M233.1 64.7h0M233.8 63.7h0M234.1 61.9h0M234.3 59.5h0M234.6 56.8h0M234.8 53.8h0M235.0 50.6h0M235.3 47.4h0M235.5 44.4h0M235.8 41.6h0M236.0 39.2h0M236.2 37.3h0M236.5 36.1h0M237.2 37.1h0M237.5 38.6h0M237.7 40.5h0M237.9 42.6h0M238.2 44.8h0M238.4 46.9h0M238.7 48.7h0M238.9 50.3h0M239.1 51.3h0M239.9 50.8h0M240.1 49.7h0M240.4 48.4h0M240.6 46.9h0M240.8 45.4h0M241.1 43.9h0M241.3 42.6h0M241.6 41.4h0M241.8 40.7h0M242.5 42.1h0M242.8 44.0h0M243.0 46.5h0M243.3 49.2h0M243.5 51.8h0M243.7 54.3h0M244.0 56.4h0M244.2 57.8h0M244.9 57.1h0M245.2 55.7h0M245.4 53.8h0M245.7 51.7h0M245.9 49.4h0M246.2 47.1h0M246.4 44.9h0M246.6 43.0h0M246.9 41.4h0M247.1 40.2h0M247.8 41.3h0M248.1 43.5h0M248.3 46.2h0M248.6 49.2h0M248.8 52.5h0M249.1 55.7h0M249.3 58.6h0M249.5 61.1h0M249.8 62.8h0M250.0 63.7h0M250.7 63.6h0M251.5 63.3h0M252.2 62.8h0M252.9 62.3h0M253.4 61.6h0M253.9 60.6h0M254.4 59.6h0M254.9 58.5h0M255.3 57.7h0M255.8 57.2h0M256.5 57.3h0M257.0 58.0h0M257.5 59.0h0M258.0 60.1h0M258.5 61.3h0M259.0 62.4h0M259.4 63.3h0M260.2 63.8h0M260.9 63.0h0M261.4 61.9h0M261.6 61.2h0M261.9 60.4h0M262.1 59.6h0M262.3 58.7h0M262.6 57.8h0M262.8 56.8h0M263.1 55.9h0M263.3 55.0h0M263.5 54.0h0M263.8 52.8h0M264.0 51.3h0M264.3 49.7h0M264.5 47.9h0M264.8 46.0h0M265.0 44.1h0M265.2 42.3h0M265.5 40.6h0M265.7 39.1h0M266.0 37.9h0M266.2 37.0h0M266.7 36.4h0M267.2 37.9h0M267.4 39.3h0M267.7 40.9h0M267.9 42.8h0M268.1 44.9h0M268.4 46.9h0M268.6 48.9h0M268.9 50.7h0M269.1 52.3h0M269.3 53.5h0M269.6 54.2h0M270.1 54.9h0M270.6 55.4h0M271.3 56.0h0M272.0 56.4h0M272.7 56.2h0M273.2 55.2h0M273.5 54.5h0M273.7 53.8h0M273.9 52.9h0M274.2 52.0h0M274.4 51.1h0M274.7 50.2h0M274.9 49.4h0M275.1 48.6h0M275.4 47.9h0M275.9 46.8h0M276.6 46.6h0M277.1 48.0h0M277.3 49.1h0M277.6 50.3h0M277.8 51.7h0M278.0 53.2h0M278.3 54.6h0M278.5 56.0h0M278.8 57.2h0M279.0 58.3h0M279.3 59.1h0M279.7 59.7h0M280.5 59.5h0M281.2 59.0h0M281.9 58.5h0M282.6 58.5h0M283.4 59.2h0M283.8 59.9h0M284.3 60.6h0M285.1 61.1h0M285.8 60.8h0M286.5 60.0h0M287.0 59.4h0M287.5 58.9h0M288.2 58.4h0M288.9 59.0h0M289.4 60.1h0M289.6 60.8h0M289.9 61.6h0M290.1 62.3h0M290.6 63.3h0M291.3 63.6h0M291.8 63.0h0M292.3 61.9h0M292.8 60.7h0M293.3 59.4h0M293.7 58.4h0M294.2 57.4h0M294.7 56.4h0M295.2 55.3h0M295.7 54.2h0M296.2 53.1h0M296.6 52.2h0M297.1 51.4h0M297.6 50.8h0M298.3 50.4h0M299.1 51.1h0M299.5 52.2h0M299.8 52.9h0M300.0 53.6h0M300.3 54.3h0M300.5 55.0h0M301.0 56.2h0M301.5 56.9h0M302.2 56.7h0M302.7 55.5h0M302.9 54.7h0M303.2 53.8h0M303.4 52.8h0M303.7 51.7h0M303.9 50.6h0M304.1 49.5h0M304.4 48.4h0M304.6 47.3h0M304.9 46.2h0M305.1 45.2h0M305.3 44.4h0M305.6 43.6h0M306.1 42.6h0M306.8 42.4h0M307.5 42.4h0M308.2 42.4h0M309.0 42.4h0M309.7 42.4h0M310.4 43.6h0M310.7 44.5h0M310.9 45.6h0M311.1 46.8h0M311.4 48.1h0M311.6 49.4h0M311.9 50.7h0M312.1 51.8h0M312.4 52.8h0M312.6 53.6h0M313.1 54.4h0M313.8 54.1h0M314.5 53.4h0M315.0 52.8h0M315.5 52.3h0M316.2 51.8h0M316.9 52.3h0M317.4 53.7h0M317.7 54.5h0M317.9 55.5h0M318.2 56.5h0M318.4 57.5h0M318.6 58.5h0M318.9 59.4h0M319.1 60.1h0M319.6 61.0h0M320.3 60.6h0M320.8 59.6h0M321.0 58.9h0M321.3 58.1h0M321.5 57.2h0M321.8 56.3h0M322.0 55.3h0M322.3 54.3h0M322.5 53.3h0M322.7 52.4h0M323.0 51.4h0M323.2 50.6h0M323.5 49.8h0M323.7 49.1h0M324.2 48.1h0M324.9 47.9h0M325.4 49.5h0M325.6 50.7h0M325.9 52.2h0M326.1 53.8h0M326.4 55.4h0M326.6 57.2h0M326.8 58.8h0M327.1 60.4h0M327.3 61.9h0M327.6 63.1h0M327.8 64.0h0M328.3 64.8h0M329.0 64.1h0M329.5 63.1h0M330.0 61.8h0M330.2 61.1h0M330.5 60.4h0M330.7 59.7h0M331.2 58.4h0M331.7 57.5h0M332.2 57.0h0M332.9 56.4h0M333.6 56.0h0M334.3 55.8h0M335.1 55.8h0M335.8 56.5h0M336.3 57.0h0M337.0 57.6h0M337.7 57.1h0M338.0 56.0h0M338.2 54.4h0M338.4 52.5h0M338.7 50.4h0M338.9 48.2h0M339.2 45.8h0M339.4 43.6h0M339.7 41.5h0M339.9 39.6h0M340.1 38.1h0M340.4 37.0h0M340.9 36.4h0M341.3 37.1h0M341.8 38.5h0M342.1 39.4h0M342.3 40.4h0M342.6 41.4h0M342.8 42.5h0M343.0 43.6h0M343.3 44.7h0M343.5 45.8h0M343.8 46.8h0M344.0 47.7h0M344.2 48.5h0M344.5 49.2h0M345.0 50.2h0M345.5 51.0h0M345.9 51.8h0M346.4 52.4h0M347.1 53.0h0M347.9 52.9h0M348.6 52.2h0M349.1 51.7h0M349.8 51.1h0M350.5 51.6h0M351.0 52.9h0M351.2 53.8h0M351.5 54.8h0M351.7 55.8h0M352.0 56.8h0M352.2 57.6h0M352.5 58.4h0M352.9 59.4h0M353.7 58.9h0M354.1 57.6h0M354.4 56.7h0M354.6 55.9h0M354.9 55.0h0M355.1 54.2h0M355.4 53.5h0M355.8 52.5h0M356.6 53.5h0M356.8 54.7h0M357.0 56.2h0M357.3 57.8h0M357.5 59.5h0M357.8 61.2h0M358.0 62.7h0M358.3 63.9h0M358.5 64.8h0M359.2 64.8h0M359.7 64.1h0M360.2 63.1h0M360.7 62.0h0M361.2 60.8h0M361.6 59.7h0M362.1 58.9h0M362.8 58.4h0M363.6 58.8h0M364.3 59.6h0M364.8 60.2h0M365.5 60.9h0M366.2 61.1h0M367.0 60.8h0M367.7 60.1h0M368.2 59.5h0M368.6 58.7h0M369.1 57.8h0M369.6 56.8h0M370.1 55.8h0M370.3 55.0h0M370.6 53.9h0M370.8 52.4h0M371.1 50.6h0M371.3 48.7h0M371.5 46.7h0M371.8 44.8h0M372.0 42.9h0M372.3 41.1h0M372.5 39.7h0M372.8 38.6h0M373.0 37.9h0M373.5 39.5h0M373.7 43.1h0M374.0 47.9h0M374.2 53.0h0M374.4 57.9h0M374.7 61.7h0M374.9 63.6h0M375.4 63.1h0M375.7 62.2h0M375.9 60.9h0M376.1 59.3h0M376.4 57.6h0M376.6 55.6h0M376.9 53.6h0M377.1 51.6h0M377.3 49.6h0M377.6 47.6h0M377.8 45.8h0M378.1 44.2h0M378.3 42.9h0M378.6 41.9h0M379.0 41.0h0M379.5 42.0h0M379.8 43.0h0M380.0 44.3h0M380.2 45.8h0M380.5 47.4h0M380.7 49.1h0M381.0 50.7h0M381.2 52.4h0M381.4 53.9h0M381.7 55.1h0M381.9 56.1h0M382.2 56.8h0M382.9 57.4h0M383.6 57.7h0M384.3 57.9h0M385.1 58.1h0M385.8 58.5h0M386.5 58.9h0M387.2 59.5h0M388.0 60.1h0M388.7 60.8h0M389.4 61.5h0M389.9 62.0h0M390.4 62.5h0M390.9 63.0h0M391.6 63.7h0M392.3 64.2h0M393.0 64.6h0M393.8 65.0h0M394.5 65.1h0M395.2 64.6h0M395.7 63.9h0M396.2 63.2h0M396.7 62.5h0M397.2 62.0h0M397.9 61.8h0M398.6 62.0h0M399.3 62.4h0M400.1 62.8h0M400.8 63.1h0M401.5 63.0h0M402.2 62.5h0M403.0 61.9h0M403.7 61.3h0M404.4 61.1h0M405.1 62.1h0M405.4 62.8h0M405.6 63.6h0M405.9 64.4h0M406.1 65.3h0M406.3 66.1h0M406.6 66.9h0M406.8 67.6h0M407.5 67.3h0M408.0 66.6h0M408.5 66.0h0M409.0 65.4h0M409.5 64.8h0M410.0 64.3h0M410.4 63.7h0M410.9 63.1h0M411.4 62.5h0M411.9 61.9h0M412.4 61.2h0M412.9 60.7h0M413.6 60.0h0M414.3 59.8h0M415.0 60.2h0M415.5 60.9h0M416.0 61.9h0M416.5 62.9h0M417.0 63.7h0M417.4 64.3h0M418.2 64.4h0M418.9 64.1h0M419.6 63.6h0M420.3 63.0h0M421.1 62.4h0M421.8 61.8h0M422.5 61.1h0M423.2 60.3h0M424.0 59.9h0M424.7 59.8h0M425.4 60.4h0M425.9 61.1h0M426.4 61.9h0M426.9 62.7h0M427.4 63.4h0M428.1 63.9h0M428.8 64.4h0M429.5 64.8h0M430.3 65.0h0M431.0 64.8h0M431.2 64.1h0M431.5 63.1h0M431.7 61.9h0M431.9 60.5h0M432.2 59.0h0M432.4 57.5h0M432.7 56.0h0M432.9 54.6h0M433.2 53.4h0M433.4 52.3h0M433.6 51.5h0M434.4 51.7h0M434.6 52.7h0M434.8 54.0h0M435.1 55.6h0M435.3 57.3h0M435.6 59.0h0M435.8 60.6h0M436.1 62.0h0M436.3 63.0h0M436.8 63.7h0M437.3 62.0h0M437.5 60.3h0M437.7 58.3h0M438.0 55.9h0M438.2 53.4h0M438.5 50.7h0M438.7 48.0h0M439.0 45.3h0M439.2 42.8h0M439.4 40.5h0M439.7 38.6h0M439.9 37.1h0M440.2 36.1h0M440.9 37.5h0M441.1 39.6h0M441.4 42.3h0M441.6 45.4h0M441.8 48.8h0M442.1 52.1h0M442.3 55.3h0M442.6 58.2h0M442.8 60.6h0M443.1 62.3h0M443.3 63.0h0M443.8 61.8h0M444.0 60.0h0M444.3 57.7h0M444.5 55.0h0M444.7 52.1h0M445.0 49.1h0M445.2 46.3h0M445.5 43.7h0M445.7 41.5h0M446.0 40.0h0M446.2 39.1h0M446.7 39.9h0M446.9 41.2h0M447.2 42.9h0M447.4 45.1h0M447.6 47.6h0M447.9 50.3h0M448.1 53.1h0M448.4 55.9h0M448.6 58.6h0M448.9 61.2h0M449.1 63.4h0M449.3 65.4h0M449.6 66.9h0M449.8 67.8h0M450.5 68.1h0M451.3 68.1h0M452.0 68.1h0M452.7 68.1h0M453.2 67.5h0M453.4 66.8h0M453.7 66.0h0M453.9 65.0h0M454.2 63.9h0M454.4 62.8h0M454.7 61.7h0M454.9 60.6h0M455.1 59.7h0M455.4 58.9h0M455.9 57.8h0M456.6 58.0h0M457.1 58.6h0M457.6 59.5h0M458.0 60.6h0M458.5 61.7h0M459.0 62.8h0M459.5 63.8h0M460.0 64.6h0M460.7 65.1h0M461.4 64.4h0M461.9 63.3h0M462.1 62.6h0M462.4 61.9h0M462.6 61.3h0M462.9 60.6h0M463.4 59.5h0M463.8 58.8h0M464.6 59.4h0M464.8 60.2h0M465.0 61.1h0M465.3 62.0h0M465.5 62.8h0M466.0 63.7h0M466.7 62.7h0M467.0 61.8h0M467.2 60.8h0M467.5 59.6h0M467.7 58.3h0M467.9 56.9h0M468.2 55.5h0M468.4 54.1h0M468.7 52.8h0M468.9 51.6h0M469.2 50.5h0M469.4 49.6h0M469.6 48.9h0M470.1 48.4h0M470.6 49.0h0M471.1 50.4h0M471.3 51.3h0M471.6 52.2h0M471.8 53.3h0M472.0 54.3h0M472.3 55.2h0M472.5 56.1h0M472.8 56.8h0M473.3 57.7h0M474.0 57.4h0M474.5 56.7h0M474.9 55.6h0M475.4 54.2h0M475.7 53.5h0M475.9 52.7h0M476.2 51.8h0M476.4 51.0h0M476.6 50.2h0M476.9 49.3h0M477.1 48.5h0M477.4 47.7h0M477.6 46.9h0M477.8 46.2h0M478.1 45.5h0M478.6 44.3h0M479.1 43.5h0M479.8 43.1h0M480.3 43.6h0M480.7 45.0h0M481.0 45.9h0M481.2 46.9h0M481.5 48.0h0M481.7 49.2h0M482.0 50.5h0M482.2 51.8h0M482.4 53.1h0M482.7 54.3h0M482.9 55.5h0M483.2 56.7h0M483.4 57.8h0M483.6 58.7h0M483.9 59.6h0M484.1 60.2h0M484.6 61.0h0M485.3 61.1h0M486.1 61.1h0M486.8 61.1h0M487.5 61.1h0M488.2 60.9h0M489.0 60.4h0M489.7 59.9h0M490.4 59.7h0M491.1 60.0h0M491.9 60.5h0M492.6 61.0h0M493.3 60.9h0M493.8 60.2h0M494.3 58.9h0M494.5 58.1h0M494.8 57.3h0M495.0 56.5h0M495.2 55.6h0M495.5 54.8h0M495.7 54.0h0M496.0 53.3h0M496.5 52.3h0M496.9 51.7h0M497.4 52.3h0M497.7 53.2h0M497.9 54.4h0M498.1 55.8h0M498.4 57.2h0M498.6 58.6h0M498.9 60.0h0M499.1 61.1h0M499.4 61.9h0M500.1 62.0h0M500.3 61.3h0M500.6 60.3h0M500.8 59.2h0M501.0 57.9h0M501.3 56.6h0M501.5 55.2h0M501.8 53.9h0M502.0 52.6h0M502.2 51.5h0M502.5 50.6h0M503.0 49.7h0M503.5 50.4h0M503.7 51.3h0M503.9 52.5h0M504.2 53.9h0M504.4 55.4h0M504.7 57.1h0M504.9 58.8h0M505.1 60.4h0M505.4 61.8h0M505.6 63.1h0M505.9 64.1h0M506.1 64.8h0M506.8 64.6h0M507.3 63.3h0M507.6 62.4h0M507.8 61.4h0M508.0 60.4h0M508.3 59.2h0M508.5 58.1h0M508.8 57.0h0M509.0 55.9h0M509.3 54.8h0M509.5 53.5h0M509.7 52.1h0M510.0 50.5h0M510.2 48.8h0M510.5 47.1h0M510.7 45.3h0M510.9 43.6h0M511.2 42.0h0M511.4 40.4h0M511.7 39.0h0M511.9 37.8h0M512.2 36.9h0M512.4 36.2h0M513.1 36.4h0M513.4 37.6h0M513.6 39.4h0M513.8 41.5h0M514.1 43.9h0M514.3 46.4h0M514.6 48.8h0M514.8 51.0h0M515.1 53.0h0M515.3 54.5h0M515.5 55.5h0M516.3 55.2h0M516.7 53.8h0M517.0 53.0h0M517.2 52.1h0M517.5 51.1h0M517.7 50.2h0M518.0 49.3h0M518.2 48.5h0M518.4 47.9h0M518.9 47.1h0M519.6 48.1h0M519.9 49.0h0M520.1 50.1h0M520.4 51.3h0M520.6 52.6h0M520.9 53.8h0M521.1 55.0h0M521.3 55.9h0M521.6 56.7h0M522.1 57.6h0M522.5 58.2h0M523.0 58.8h0M523.5 59.3h0M524.2 59.9h0M525.0 60.4h0M525.7 60.6h0M526.4 60.9h0M527.1 61.0h0M527.9 61.1h0M528.6 60.8h0M529.3 60.0h0M529.8 59.3h0M530.3 58.4h0M530.8 57.4h0" fill="none" stroke="#0000ff" stroke-width="3.1" stroke-linecap="round"/>
<path d="M47.8 42.2 48.0 43.0 48.3 44.1 48.5 45.4 48.8 47.0 49.0 48.7 49.2 50.5 49.5 52.3 49.7 54.2 50.0 56.0 50.2 57.8 50.5 59.4 50.7 60.8 50.9 62.0 51.2 62.9 51.4 63.5 51.7 63.8 51.9 63.7 52.1 63.4 52.4 62.9 52.6 62.4 52.9 61.7 53.1 60.9 53.4 60.2 53.6 59.3 53.8 58.6 54.1 57.8 54.3 57.2 54.6 56.5 54.8 55.8 55.0 55.0 55.3 54.2 55.5 53.4 55.8 52.6 56.0 51.9 56.3 51.3 56.5 50.9 56.7 50.5 57.0 50.4 57.2 50.5 57.5 51.0 57.7 51.9 57.9 53.0 58.2 54.3 58.4 55.9 58.7 57.5 58.9 59.2 59.2 60.9 59.4 62.6 59.6 64.3 59.9 65.7 60.1 67.0 60.4 68.1 60.6 67.2 60.8 66.2 61.1 65.3 61.3 64.3 61.6 63.4 61.8 62.5 62.1 61.6 62.3 60.9 62.5 60.1 62.8 59.5 63.0 59.1 63.3 58.7 63.5 58.5 63.7 58.4 64.0 58.6 64.2 59.1 64.5 59.7 64.7 60.5 65.0 61.4 65.2 62.3 65.4 63.2 65.7 63.9 65.9 64.6 66.2 65.0 66.4 65.1 66.6 64.9 66.9 64.5 67.1 63.8 67.4 63.0 67.6 62.2 67.9 61.2 68.1 60.4 68.3 59.6 68.6 59.0 68.8 58.6 69.1 58.4 69.3 58.7 69.5 59.4 69.8 60.4 70.0 61.6 70.3 62.8 70.5 63.9 70.8 64.7 71.0 65.1 71.2 64.8 71.5 63.7 71.7 61.9 72.0 59.7 72.2 57.4 72.4 55.3 72.7 53.6 72.9 52.6 73.2 52.5 73.4 53.1 73.7 54.3 73.9 55.9 74.1 57.7 74.4 59.6 74.6 61.4 74.9 63.1 75.1 64.3 75.3 65.0 75.6 65.0 75.8 64.0 76.1 62.3 76.3 59.9 76.6 57.2 76.8 54.2 77.0 51.3 77.3 48.5 77.5 46.1 77.8 44.3 78.0 43.2 78.2 43.1 78.5 43.9 78.7 45.5 79.0 47.7 79.2 50.3 79.4 53.3 79.7 56.3 79.9 59.4 80.2 62.3 80.4 64.9 80.7 67.0 80.9 67.6 81.1 66.2 81.4 64.7 81.6 63.3 81.9 62.0 82.1 60.9 82.3 59.9 82.6 59.1 82.8 58.6 83.1 58.4 83.3 58.6 83.6 59.2 83.8 60.1 84.0 61.2 84.3 62.3 84.5 63.2 84.8 64.0 85.0 64.4 85.2 64.4 85.5 64.0 85.7 63.4 86.0 62.5 86.2 61.5 86.5 60.3 86.7 59.0 86.9 57.6 87.2 56.2 87.4 54.9 87.7 53.6 87.9 52.3 88.1 51.2 88.4 50.3 88.6 49.6 88.9 49.2 89.1 49.1 89.4 49.4 89.6 50.2 89.8 51.4 90.1 52.9 90.3 54.6 90.6 56.3 90.8 58.0 91.0 59.4 91.3 60.6 91.5 61.5 91.8 61.7 92.0 61.6 92.3 61.2 92.5 60.6 92.7 59.9 93.0 59.1 93.2 58.3 93.5 57.5 93.7 56.9 93.9 56.5 94.2 56.4 94.4 56.5 94.7 56.8 94.9 57.3 95.2 57.8 95.4 58.4 95.6 59.0 95.9 59.4 96.1 59.8 96.4 60.0 96.6 59.8 96.8 58.6 97.1 56.8 97.3 55.0 97.6 53.6 97.8 53.1 98.1 53.4 98.3 54.4 98.5 55.7 98.8 57.4 99.0 59.4 99.3 61.4 99.5 63.5 99.7 65.4 100.0 67.2 100.2 67.5 100.5 66.0 100.7 64.3 101.0 62.6 101.2 60.9 101.4 59.2 101.7 57.6 101.9 56.2 102.2 54.9 102.4 53.8 102.6 53.0 102.9 52.5 103.1 52.4 103.4 53.0 103.6 54.2 103.9 55.8 104.1 57.8 104.3 59.8 104.6 61.7 104.8 63.4 105.1 64.5 105.3 65.1 105.5 64.7 105.8 63.2 106.0 60.9 106.3 57.9 106.5 54.6 106.8 51.1 107.0 47.6 107.2 44.5 107.5 41.8 107.7 40.0 108.0 39.1 108.2 39.3 108.4 40.5 108.7 42.4 108.9 44.9 109.2 47.9 109.4 51.0 109.6 54.2 109.9 57.3 110.1 60.1 110.4 62.4 110.6 64.1 110.9 65.0 111.1 64.9 111.3 64.1 111.6 62.6 111.8 60.6 112.1 58.2 112.3 55.5 112.5 52.8 112.8 50.1 113.0 47.5 113.3 45.3 113.5 43.5 113.8 42.2 114.0 41.7 114.2 41.9 114.5 42.7 114.7 43.9 115.0 45.5 115.2 47.4 115.4 49.6 115.7 52.0 115.9 54.5 116.2 57.1 116.4 59.6 116.7 62.0 116.9 64.3 117.1 66.4 117.4 68.0 117.6 66.4 117.9 64.6 118.1 62.8 118.3 60.9 118.6 59.1 118.8 57.3 119.1 55.6 119.3 54.0 119.6 52.6 119.8 51.4 120.0 50.4 120.3 49.6 120.5 49.2 120.8 49.1 121.0 49.1 121.2 49.2 121.5 49.3 121.7 49.5 122.0 49.7 122.2 49.8 122.5 50.0 122.7 50.2 122.9 50.3 123.2 50.4 123.4 50.4 123.7 50.4 123.9 50.3 124.1 50.1 124.4 50.0 124.6 49.8 124.9 49.6 125.1 49.3 125.4 49.1 125.6 48.9 125.8 48.7 126.1 48.6 126.3 48.5 126.6 48.4 126.8 48.4 127.0 48.5 127.3 48.9 127.5 49.4 127.8 50.0 128.0 50.7 128.3 51.6 128.5 52.5 128.7 53.5 129.0 54.5 129.2 55.6 129.5 56.7 129.7 57.8 129.9 58.8 130.2 59.8 130.4 60.8 130.7 61.7 130.9 62.5 131.2 63.2 131.4 63.7 131.6 64.1 131.9 64.4 132.1 64.4 132.4 64.4 132.6 64.2 132.8 63.9 133.1 63.6 133.3 63.2 133.6 62.8 133.8 62.3 134.1 61.7 134.3 61.2 134.5 60.6 134.8 60.0 135.0 59.4 135.3 58.8 135.5 58.3 135.7 57.8 136.0 57.3 136.2 56.8 136.5 56.5 136.7 56.2 137.0 55.9 137.2 55.8 137.4 55.7 137.7 55.8 137.9 56.1 138.2 56.6 138.4 57.1 138.6 57.8 138.9 58.6 139.1 59.4 139.4 60.2 139.6 61.1 139.8 61.9 140.1 62.7 140.3 63.4 140.6 64.0 140.8 64.5 141.1 64.9 141.3 65.1 141.5 65.1 141.8 65.0 142.0 64.8 142.3 64.5 142.5 64.1 142.7 63.6 143.0 63.1 143.2 62.5 143.5 61.9 143.7 61.2 144.0 60.5 144.2 59.8 144.4 59.1 144.7 58.3 144.9 57.6 145.2 56.9 145.4 56.3 145.6 55.6 145.9 55.1 146.1 54.5 146.4 54.1 146.6 53.7 146.9 53.4 147.1 53.2 147.3 53.1 147.6 53.1 147.8 53.3 148.1 53.8 148.3 54.3 148.5 55.1 148.8 56.0 149.0 56.9 149.3 58.0 149.5 59.2 149.8 60.3 150.0 61.5 150.2 62.7 150.5 63.9 150.7 65.1 151.0 66.2 151.2 67.2 151.4 68.1 151.7 67.2 151.9 66.3 152.2 65.2 152.4 64.2 152.7 63.1 152.9 62.1 153.1 61.1 153.4 60.1 153.6 59.2 153.9 58.5 154.1 57.9 154.3 57.4 154.6 57.1 154.8 57.1 155.1 57.4 155.3 58.2 155.6 59.3 155.8 60.5 156.0 61.8 156.3 63.1 156.5 64.1 156.8 64.8 157.0 65.1 157.2 65.1 157.5 65.0 157.7 64.9 158.0 64.7 158.2 64.6 158.5 64.3 158.7 64.1 158.9 63.8 159.2 63.3 159.4 62.1 159.7 60.2 159.9 57.9 160.1 55.3 160.4 52.5 160.6 49.9 160.9 47.4 161.1 45.4 161.4 43.9 161.6 43.1 161.8 43.4 162.1 45.0 162.3 47.6 162.6 51.0 162.8 54.9 163.0 58.7 163.3 62.3 163.5 65.3 163.8 67.3 164.0 68.1 164.3 64.8 164.5 61.2 164.7 57.4 165.0 53.4 165.2 49.2 165.5 45.0 165.7 40.7 165.9 36.4 166.2 32.3 166.4 28.3 166.7 24.6 166.9 21.1 167.2 18.0 167.4 15.2 167.6 12.9 167.9 11.1 168.1 9.8 168.4 9.0 168.6 8.7 168.8 9.0 169.1 9.8 169.3 11.1 169.6 12.9 169.8 15.2 170.0 18.0 170.3 21.1 170.5 24.6 170.8 28.3 171.0 32.3 171.3 36.4 171.5 40.7 171.7 45.0 172.0 49.2 172.2 53.4 172.5 57.4 172.7 61.2 172.9 64.8 173.2 68.1 173.4 66.9 173.7 63.9 173.9 59.6 174.2 54.8 174.4 50.1 174.6 46.1 174.9 43.6 175.1 43.1 175.4 44.0 175.6 45.7 175.8 48.1 176.1 51.1 176.3 54.4 176.6 57.7 176.8 61.1 177.1 64.1 177.3 66.8 177.5 67.4 177.8 65.4 178.0 63.3 178.3 61.3 178.5 59.3 178.7 57.5 179.0 56.0 179.2 54.8 179.5 54.0 179.7 53.7 180.0 53.8 180.2 54.1 180.4 54.4 180.7 55.0 180.9 55.6 181.2 56.3 181.4 57.1 181.6 57.9 181.9 58.8 182.1 59.7 182.4 60.5 182.6 61.4 182.9 62.2 183.1 62.9 183.3 63.6 183.6 64.2 183.8 64.6 184.1 64.9 184.3 65.1 184.5 65.1 184.8 64.9 185.0 64.5 185.3 64.0 185.5 63.4 185.8 62.7 186.0 61.8 186.2 61.0 186.5 60.1 186.7 59.1 187.0 58.2 187.2 57.3 187.4 56.4 187.7 55.6 187.9 54.9 188.2 54.2 188.4 53.7 188.7 53.3 188.9 53.1 189.1 53.1 189.4 53.2 189.6 53.6 189.9 54.2 190.1 54.9 190.3 55.7 190.6 56.7 190.8 57.7 191.1 58.7 191.3 59.7 191.6 60.7 191.8 61.6 192.0 62.5 192.3 63.2 192.5 63.8 192.8 64.2 193.0 64.4 193.2 64.4 193.5 64.3 193.7 64.1 194.0 63.9 194.2 63.6 194.5 63.2 194.7 62.8 194.9 62.3 195.2 61.8 195.4 61.3 195.7 60.8 195.9 60.2 196.1 59.6 196.4 59.1 196.6 58.5 196.9 58.0 197.1 57.5 197.4 57.0 197.6 56.5 197.8 56.1 198.1 55.8 198.3 55.5 198.6 55.3 198.8 55.1 199.0 55.1 199.3 55.1 199.5 55.3 199.8 55.7 200.0 56.2 200.2 56.9 200.5 57.6 200.7 58.3 201.0 59.2 201.2 60.0 201.5 60.8 201.7 61.7 201.9 62.5 202.2 63.2 202.4 63.8 202.7 64.4 202.9 64.8 203.1 65.0 203.4 65.1 203.6 65.1 203.9 65.0 204.1 64.9 204.4 64.8 204.6 64.7 204.8 64.5 205.1 64.3 205.3 64.2 205.6 63.9 205.8 63.7 206.0 63.4 206.3 62.8 206.5 62.0 206.8 61.1 207.0 60.0 207.3 58.9 207.5 57.6 207.7 56.4 208.0 55.1 208.2 53.9 208.5 52.7 208.7 51.6 208.9 50.6 209.2 49.8 209.4 49.1 209.7 48.6 209.9 48.4 210.2 48.4 210.4 48.5 210.6 48.6 210.9 48.7 211.1 48.9 211.4 49.1 211.6 49.3 211.8 49.4 212.1 49.6 212.3 49.7 212.6 49.7 212.8 49.7 213.1 49.7 213.3 49.7 213.5 49.6 213.8 49.6 214.0 49.5 214.3 49.4 214.5 49.3 214.7 49.3 215.0 49.2 215.2 49.1 215.5 49.1 215.7 49.1 216.0 49.1 216.2 49.2 216.4 49.7 216.7 50.6 216.9 51.8 217.2 53.2 217.4 54.9 217.6 56.7 217.9 58.7 218.1 60.7 218.4 62.6 218.6 64.6 218.9 66.4 219.1 68.1 219.3 66.3 219.6 64.3 219.8 62.2 220.1 59.9 220.3 57.6 220.5 55.2 220.8 52.9 221.0 50.6 221.3 48.5 221.5 46.6 221.8 45.0 222.0 43.6 222.2 42.5 222.5 41.9 222.7 41.7 223.0 42.0 223.2 42.8 223.4 44.0 223.7 45.6 223.9 47.5 224.2 49.6 224.4 51.9 224.7 54.4 224.9 56.9 225.1 59.4 225.4 61.9 225.6 64.3 225.9 66.6 226.1 67.6 226.3 65.4 226.6 62.9 226.8 60.3 227.1 57.6 227.3 54.9 227.6 52.2 227.8 49.6 228.0 47.1 228.3 44.9 228.5 43.0 228.8 41.5 229.0 40.4 229.2 39.8 229.5 39.7 229.7 40.1 230.0 40.8 230.2 41.9 230.4 43.2 230.7 44.7 230.9 46.5 231.2 48.5 231.4 50.5 231.7 52.7 231.9 55.0 232.1 57.3 232.4 59.5 232.6 61.8 232.9 63.9 233.1 65.9 233.3 67.8 233.6 66.5 233.8 64.2 234.1 61.8 234.3 59.5 234.6 57.2 234.8 55.3 235.0 53.9 235.3 53.2 235.5 53.2 235.8 54.1 236.0 55.7 236.2 57.7 236.5 60.1 236.7 62.5 237.0 64.8 237.2 66.9 237.5 67.7 237.7 66.3 237.9 64.7 238.2 63.2 238.4 61.7 238.7 60.2 238.9 58.7 239.1 57.3 239.4 56.1 239.6 55.0 239.9 54.0 240.1 53.3 240.4 52.7 240.6 52.4 240.8 52.4 241.1 52.7 241.3 53.2 241.6 53.9 241.8 54.8 242.0 55.8 242.3 56.9 242.5 58.0 242.8 59.0 243.0 60.0 243.3 60.9 243.5 61.6 243.7 62.1 244.0 62.4 244.2 62.4 244.5 62.1 244.7 61.5 244.9 60.8 245.2 59.9 245.4 58.9 245.7 57.8 245.9 56.6 246.2 55.4 246.4 54.2 246.6 53.0 246.9 52.0 247.1 51.0 247.4 50.2 247.6 49.6 247.8 49.2 248.1 49.1 248.3 49.3 248.6 50.0 248.8 51.0 249.1 52.3 249.3 53.8 249.5 55.5 249.8 57.2 250.0 58.9 250.3 60.6 250.5 62.1 250.7 63.4 251.0 64.3 251.2 64.9 251.5 65.1 251.7 64.9 252.0 64.4 252.2 63.8 252.4 63.0 252.7 62.1 252.9 61.2 253.2 60.3 253.4 59.5 253.6 58.9 253.9 58.5 254.1 58.4 254.4 58.7 254.6 59.4 254.9 60.4 255.1 61.6 255.3 63.1 255.6 64.6 255.8 66.2 256.1 67.8 256.3 66.6 256.5 64.3 256.8 61.6 257.0 58.5 257.3 55.4 257.5 52.3 257.8 49.3 258.0 46.7 258.2 44.6 258.5 43.1 258.7 42.4 259.0 42.5 259.2 43.1 259.4 44.0 259.7 45.3 259.9 46.9 260.2 48.7 260.4 50.6 260.6 52.6 260.9 54.7 261.1 56.7 261.4 58.6 261.6 60.4 261.9 62.0 262.1 63.3 262.3 64.3 262.6 64.9 262.8 65.1 263.1 64.6 263.3 63.5 263.5 62.0 263.8 60.2 264.0 58.3 264.3 56.6 264.5 55.1 264.8 54.1 265.0 53.7 265.2 54.0 265.5 54.6 265.7 55.5 266.0 56.7 266.2 58.0 266.4 59.4 266.7 60.7 266.9 61.9 267.2 62.8 267.4 63.5 267.7 63.8 267.9 63.6 268.1 63.3 268.4 62.8 268.6 62.2 268.9 61.5 269.1 60.8 269.3 60.1 269.6 59.5 269.8 58.9 270.1 58.6 270.3 58.4 270.6 58.5 270.8 58.9 271.0 59.5 271.3 60.3 271.5 61.2 271.8 62.1 272.0 62.9 272.2 63.7 272.5 64.4 272.7 64.9 273.0 65.1 273.2 64.9 273.5 64.4 273.7 63.7 273.9 62.7 274.2 61.8 274.4 60.9 274.7 60.2 274.9 59.8 275.1 59.8 275.4 60.2 275.6 60.9 275.9 61.9 276.1 63.1 276.4 64.4 276.6 65.8 276.8 67.1 277.1 67.8 277.3 66.3 277.6 64.5 277.8 62.5 278.0 60.4 278.3 58.2 278.5 56.2 278.8 54.3 279.0 52.6 279.3 51.4 279.5 50.6 279.7 50.4 280.0 50.7 280.2 51.3 280.5 52.3 280.7 53.6 280.9 55.0 281.2 56.5 281.4 58.1 281.7 59.7 281.9 61.2 282.2 62.5 282.4 63.6 282.6 64.5 282.9 65.0 283.1 65.1 283.4 65.0 283.6 64.8 283.8 64.5 284.1 64.2 284.3 63.8 284.6 63.3 284.8 62.9 285.1 62.4 285.3 61.8 285.5 61.0 285.8 60.1 286.0 58.9 286.3 57.7 286.5 56.3 286.7 54.9 287.0 53.4 287.2 51.9 287.5 50.4 287.7 49.0 288.0 47.6 288.2 46.3 288.4 45.1 288.7 44.0 288.9 43.1 289.2 42.4 289.4 41.9 289.6 41.7 289.9 41.8 290.1 42.5 290.4 43.6 290.6 45.1 290.8 47.0 291.1 49.1 291.3 51.5 291.6 54.0 291.8 56.5 292.1 59.0 292.3 61.5 292.5 63.9 292.8 66.0 293.0 67.8 293.3 66.7 293.5 64.9 293.7 63.0 294.0 61.1 294.2 59.2 294.5 57.3 294.7 55.6 295.0 53.9 295.2 52.4 295.4 51.0 295.7 49.9 295.9 49.1 296.2 48.6 296.4 48.4 296.6 48.6 296.9 49.3 297.1 50.4 297.4 51.8 297.6 53.4 297.9 55.1 298.1 56.9 298.3 58.7 298.6 60.4 298.8 62.0 299.1 63.3 299.3 64.3 299.5 64.9 299.8 65.1 300.0 64.8 300.3 64.3 300.5 63.5 300.8 62.4 301.0 61.2 301.2 59.9 301.5 58.4 301.7 56.9 302.0 55.4 302.2 53.9 302.4 52.6 302.7 51.3 302.9 50.2 303.2 49.3 303.4 48.7 303.7 48.4 303.9 48.5 304.1 48.9 304.4 49.8 304.6 51.0 304.9 52.3 305.1 53.9 305.3 55.5 305.6 57.2 305.8 58.8 306.1 60.3 306.3 61.6 306.6 62.7 306.8 63.4 307.0 63.7 307.3 63.7 307.5 63.5 307.8 63.2 308.0 62.7 308.2 62.1 308.5 61.4 308.7 60.6 309.0 59.8 309.2 58.9 309.5 58.0 309.7 57.0 309.9 56.1 310.2 55.1 310.4 54.2 310.7 53.4 310.9 52.5 311.1 51.8 311.4 51.1 311.6 50.6 311.9 50.2 312.1 49.9 312.4 49.7 312.6 49.8 312.8 50.1 313.1 50.7 313.3 51.5 313.6 52.5 313.8 53.6 314.0 54.9 314.3 56.3 314.5 57.7 314.8 59.2 315.0 60.7 315.3 62.2 315.5 63.6 315.7 64.9 316.0 66.1 316.2 67.2 316.5 68.1 316.7 67.2 316.9 66.4 317.2 65.5 317.4 64.6 317.7 63.7 317.9 62.9 318.2 62.0 318.4 61.2 318.6 60.4 318.9 59.6 319.1 58.9 319.4 58.2 319.6 57.6 319.8 57.1 320.1 56.6 320.3 56.3 320.6 56.0 320.8 55.8 321.0 55.7 321.3 56.2 321.5 57.4 321.8 59.0 322.0 60.8 322.3 62.4 322.5 63.5 322.7 63.7 323.0 63.5 323.2 63.1 323.5 62.4 323.7 61.5 323.9 60.5 324.2 59.3 324.4 58.0 324.7 56.6 324.9 55.1 325.2 53.6 325.4 52.1 325.6 50.5 325.9 49.0 326.1 47.6 326.4 46.2 326.6 45.0 326.8 43.8 327.1 42.9 327.3 42.1 327.6 41.5 327.8 41.1 328.1 41.0 328.3 41.5 328.5 42.6 328.8 44.2 329.0 46.2 329.3 48.6 329.5 51.1 329.7 53.7 330.0 56.3 330.2 58.7 330.5 60.9 330.7 62.7 331.0 64.1 331.2 64.9 331.4 65.1 331.7 64.6 331.9 63.6 332.2 62.3 332.4 60.8 332.6 59.1 332.9 57.4 333.1 55.8 333.4 54.3 333.6 53.2 333.9 52.6 334.1 52.4 334.3 52.8 334.6 53.6 334.8 54.8 335.1 56.2 335.3 57.7 335.5 59.2 335.8 60.7 336.0 61.9 336.3 63.0 336.5 63.6 336.8 63.8 337.0 63.7 337.2 63.5 337.5 63.2 337.7 62.9 338.0 62.5 338.2 62.1 338.4 61.6 338.7 61.2 338.9 60.8 339.2 60.4 339.4 60.1 339.7 59.9 339.9 59.8 340.1 59.8 340.4 60.0 340.6 60.4 340.9 60.9 341.1 61.6 341.3 62.3 341.6 63.0 341.8 63.7 342.1 64.3 342.3 64.8 342.6 65.0 342.8 65.1 343.0 64.5 343.3 63.3 343.5 61.8 343.8 60.1 344.0 58.5 344.2 57.1 344.5 56.1 344.7 55.7 345.0 56.1 345.2 56.9 345.5 58.1 345.7 59.6 345.9 61.0 346.2 62.3 346.4 63.2 346.7 63.7 346.9 63.6 347.1 63.0 347.4 61.9 347.6 60.4 347.9 58.7 348.1 56.8 348.4 54.8 348.6 52.8 348.8 50.8 349.1 49.0 349.3 47.5 349.6 46.2 349.8 45.4 350.0 45.0 350.3 45.3 350.5 46.1 350.8 47.3 351.0 48.9 351.2 50.8 351.5 52.9 351.7 55.0 352.0 57.2 352.2 59.2 352.5 61.1 352.7 62.8 352.9 64.0 353.2 64.8 353.4 65.1 353.7 64.6 353.9 63.3 354.1 61.3 354.4 59.0 354.6 56.3 354.9 53.6 355.1 51.0 355.4 48.7 355.6 46.8 355.8 45.5 356.1 45.0 356.3 45.3 356.6 46.2 356.8 47.5 357.0 49.1 357.3 51.0 357.5 53.1 357.8 55.3 358.0 57.4 358.3 59.5 358.5 61.3 358.7 62.9 359.0 64.1 359.2 64.9 359.5 65.1 359.7 64.9 359.9 64.4 360.2 63.6 360.4 62.7 360.7 61.5 360.9 60.3 361.2 59.0 361.4 57.6 361.6 56.2 361.9 54.8 362.1 53.6 362.4 52.4 362.6 51.4 362.8 50.6 363.1 50.0 363.3 49.8 363.6 49.7 363.8 49.9 364.1 50.1 364.3 50.5 364.5 50.9 364.8 51.4 365.0 51.9 365.3 52.5 365.5 53.1 365.7 53.6 366.0 54.2 366.2 54.7 366.5 55.2 366.7 55.6 367.0 56.0 367.2 56.4 367.4 56.7 367.7 57.1 367.9 57.4 368.2 57.7 368.4 58.0 368.6 58.3 368.9 58.5 369.1 58.7 369.4 58.9 369.6 59.1 369.9 59.3 370.1 59.4 370.3 59.6 370.6 59.7 370.8 59.9 371.1 60.1 371.3 60.3 371.5 60.5 371.8 60.7 372.0 61.0 372.3 61.3 372.5 61.7 372.8 62.1 373.0 62.7 373.2 63.2 373.5 63.9 373.7 64.5 374.0 65.2 374.2 65.9 374.4 66.6 374.7 67.2 374.9 67.9 375.2 67.6 375.4 66.9 375.7 66.2 375.9 65.5 376.1 64.7 376.4 64.0 376.6 63.3 376.9 62.7 377.1 62.2 377.3 61.7 377.6 61.2 377.8 60.6 378.1 60.1 378.3 59.6 378.6 59.1 378.8 58.7 379.0 58.2 379.3 57.9 379.5 57.6 379.8 57.3 380.0 57.2 380.2 57.1 380.5 57.1 380.7 57.2 381.0 57.5 381.2 57.8 381.4 58.2 381.7 58.6 381.9 59.1 382.2 59.6 382.4 60.1 382.7 60.5 382.9 60.9 383.1 61.3 383.4 61.7 383.6 62.1 383.9 62.5 384.1 62.9 384.3 63.3 384.6 63.5 384.8 63.7 385.1 63.8 385.3 63.7 385.6 63.5 385.8 63.2 386.0 62.9 386.3 62.5 386.5 62.2 386.8 61.8 387.0 61.5 387.2 61.3 387.5 61.1 387.7 61.1 388.0 61.1 388.2 61.2 388.5 61.3 388.7 61.5 388.9 61.7 389.2 61.9 389.4 62.1 389.7 62.3 389.9 62.6 390.1 62.8 390.4 63.1 390.6 63.4 390.9 63.6 391.1 63.8 391.4 64.1 391.6 64.3 391.8 64.5 392.1 64.8 392.3 65.0 392.6 65.3 392.8 65.6 393.0 65.8 393.3 66.1 393.5 66.4 393.8 66.7 394.0 66.9 394.3 67.2 394.5 67.5 394.7 67.8 395.0 68.0 395.2 67.9 395.5 67.6 395.7 67.3 395.9 67.0 396.2 66.7 396.4 66.3 396.7 66.0 396.9 65.7 397.2 65.4 397.4 65.1 397.6 64.9 397.9 64.7 398.1 64.5 398.4 64.4 398.6 64.4 398.8 64.3 399.1 64.2 399.3 64.2 399.6 64.1 399.8 64.1 400.1 64.0 400.3 64.0 400.5 63.9 400.8 63.9 401.0 63.9 401.3 63.8 401.5 63.8 401.7 63.8 402.0 63.7 402.2 63.7 402.5 63.6 402.7 63.6 403.0 63.6 403.2 63.5 403.4 63.5 403.7 63.5 403.9 63.4 404.2 63.4 404.4 63.4 404.6 63.3 404.9 63.3 405.1 63.2 405.4 63.2 405.6 63.1 405.9 63.1 406.1 63.0 406.3 62.8 406.6 62.7 406.8 62.5 407.1 62.3 407.3 62.2 407.5 62.0 407.8 61.9 408.0 61.8 408.3 61.8 408.5 61.8 408.8 61.8 409.0 62.0 409.2 62.3 409.5 62.6 409.7 62.9 410.0 63.2 410.2 63.6 410.4 64.0 410.7 64.3 410.9 64.6 411.2 64.8 411.4 65.0 411.6 65.1 411.9 65.1 412.1 65.1 412.4 65.1 412.6 65.1 412.9 65.1 413.1 65.1 413.3 65.1 413.6 65.1 413.8 65.1 414.1 65.1 414.3 65.1 414.5 65.1 414.8 65.1 415.0 65.1 415.3 65.1 415.5 65.1 415.8 65.1 416.0 65.1 416.2 65.0 416.5 65.0 416.7 64.9 417.0 64.8 417.2 64.7 417.4 64.6 417.7 64.5 417.9 64.4 418.2 64.2 418.4 64.1 418.7 64.0 418.9 63.9 419.1 63.7 419.4 63.6 419.6 63.4 419.9 63.3 420.1 63.1 420.3 62.9 420.6 62.7 420.8 62.5 421.1 62.3 421.3 62.2 421.6 62.0 421.8 61.9 422.0 61.8 422.3 61.8 422.5 61.8 422.8 61.8 423.0 62.0 423.2 62.1 423.5 62.4 423.7 62.6 424.0 62.9 424.2 63.2 424.5 63.5 424.7 63.8 424.9 64.0 425.2 64.2 425.4 64.3 425.7 64.4 425.9 64.4 426.1 64.4 426.4 64.4 426.6 64.3 426.9 64.3 427.1 64.2 427.4 64.2 427.6 64.1 427.8 63.9 428.1 63.8 428.3 63.7 428.6 63.5 428.8 63.3 429.0 63.2 429.3 62.7 429.5 61.5 429.8 60.3 430.0 59.7 430.3 59.8 430.5 59.8 430.7 59.8 431.0 59.9 431.2 60.0 431.5 60.1 431.7 60.2 431.9 60.3 432.2 60.4 432.4 60.6 432.7 60.7 432.9 60.8 433.2 61.0 433.4 61.1 433.6 61.3 433.9 61.5 434.1 61.7 434.4 61.9 434.6 62.2 434.8 62.5 435.1 62.7 435.3 63.0 435.6 63.2 435.8 63.4 436.1 63.6 436.3 63.7 436.5 63.7 436.8 63.7 437.0 63.5 437.3 63.0 437.5 62.3 437.7 61.4 438.0 60.5 438.2 59.6 438.5 58.8 438.7 58.1 439.0 57.5 439.2 57.1 439.4 57.1 439.7 57.1 439.9 57.2 440.2 57.3 440.4 57.5 440.6 57.7 440.9 57.9 441.1 58.1 441.4 58.4 441.6 58.6 441.8 58.9 442.1 59.2 442.3 59.4 442.6 59.6 442.8 59.9 443.1 60.1 443.3 60.4 443.5 60.7 443.8 60.9 444.0 61.2 444.3 61.5 444.5 61.8 444.7 62.1 445.0 62.4 445.2 62.6 445.5 62.8 445.7 62.9 446.0 63.1 446.2 63.1 446.4 63.2 446.7 63.3 446.9 63.3 447.2 63.4 447.4 63.4 447.6 63.5 447.9 63.5 448.1 63.6 448.4 63.6 448.6 63.7 448.9 63.7 449.1 63.7 449.3 63.7 449.6 63.7 449.8 63.8 450.1 63.8 450.3 63.7 450.5 63.6 450.8 63.4 451.0 63.2 451.3 63.0 451.5 62.7 451.8 62.3 452.0 62.0 452.2 61.6 452.5 61.2 452.7 60.8 453.0 60.4 453.2 60.0 453.4 59.7 453.7 59.2 453.9 58.7 454.2 58.1 454.4 57.5 454.7 56.9 454.9 56.2 455.1 55.6 455.4 55.0 455.6 54.4 455.9 53.9 456.1 53.5 456.3 53.2 456.6 53.1 456.8 53.1 457.1 53.4 457.3 53.9 457.6 54.7 457.8 55.6 458.0 56.7 458.3 57.8 458.5 59.0 458.8 60.1 459.0 61.2 459.2 62.1 459.5 62.9 459.7 63.4 460.0 63.7 460.2 63.7 460.5 63.2 460.7 62.3 460.9 61.1 461.2 59.6 461.4 58.0 461.7 56.3 461.9 54.6 462.1 52.9 462.4 51.3 462.6 49.9 462.9 48.8 463.1 48.1 463.4 47.7 463.6 48.0 463.8 48.9 464.1 50.4 464.3 52.4 464.6 54.6 464.8 57.0 465.0 59.3 465.3 61.4 465.5 63.2 465.8 64.4 466.0 65.1 466.3 65.0 466.5 64.3 466.7 63.2 467.0 61.7 467.2 59.9 467.5 57.8 467.7 55.5 467.9 53.2 468.2 50.8 468.4 48.4 468.7 46.1 468.9 44.0 469.2 42.1 469.4 40.5 469.6 39.3 469.9 38.6 470.1 38.4 470.4 38.7 470.6 39.4 470.8 40.6 471.1 42.1 471.3 44.0 471.6 46.0 471.8 48.3 472.0 50.6 472.3 53.1 472.5 55.5 472.8 58.0 473.0 60.3 473.3 62.5 473.5 64.4 473.7 66.2 474.0 67.6 474.2 67.6 474.5 66.5 474.7 65.4 474.9 64.4 475.2 63.4 475.4 62.5 475.7 61.7 475.9 61.0 476.2 60.4 476.4 60.0 476.6 59.8 476.9 59.8 477.1 60.1 477.4 60.6 477.6 61.2 477.8 62.0 478.1 62.7 478.3 63.2 478.6 63.6 478.8 63.8 479.1 63.5 479.3 63.1 479.5 62.5 479.8 61.7 480.0 61.0 480.3 60.4 480.5 60.0 480.7 59.7 481.0 59.8 481.2 60.1 481.5 60.5 481.7 61.1 482.0 61.7 482.2 62.3 482.4 62.9 482.7 63.5 482.9 63.9 483.2 64.3 483.4 64.4 483.6 64.2 483.9 63.1 484.1 61.5 484.4 59.5 484.6 57.2 484.9 54.8 485.1 52.5 485.3 50.4 485.6 48.7 485.8 47.5 486.1 47.1 486.3 47.4 486.5 48.3 486.8 49.7 487.0 51.4 487.3 53.4 487.5 55.5 487.8 57.6 488.0 59.6 488.2 61.5 488.5 62.9 488.7 64.0 489.0 64.4 489.2 64.2 489.4 63.6 489.7 62.5 489.9 61.1 490.2 59.4 490.4 57.6 490.7 55.6 490.9 53.7 491.1 51.8 491.4 50.1 491.6 48.6 491.9 47.4 492.1 46.7 492.3 46.4 492.6 46.6 492.8 47.1 493.1 48.0 493.3 49.1 493.6 50.4 493.8 51.9 494.0 53.5 494.3 55.2 494.5 56.9 494.8 58.5 495.0 60.1 495.2 61.5 495.5 62.8 495.7 63.8 496.0 64.6 496.2 65.0 496.5 65.1 496.7 64.8 496.9 64.2 497.2 63.4 497.4 62.4 497.7 61.3 497.9 60.1 498.1 58.8 498.4 57.6 498.6 56.5 498.9 55.5 499.1 54.7 499.4 54.1 499.6 53.8 499.8 53.8 500.1 54.3 500.3 55.1 500.6 56.2 500.8 57.4 501.0 58.8 501.3 60.1 501.5 61.4 501.8 62.4 502.0 63.2 502.2 63.7 502.5 63.7 502.7 63.4 503.0 62.8 503.2 62.1 503.5 61.1 503.7 60.0 503.9 58.9 504.2 57.7 504.4 56.6 504.7 55.6 504.9 54.6 505.1 53.9 505.4 53.3 505.6 53.1 505.9 53.3 506.1 54.3 506.4 56.0 506.6 58.0 506.8 60.2 507.1 62.2 507.3 63.9 507.6 64.9 507.8 65.1 508.0 64.7 508.3 63.9 508.5 62.8 508.8 61.5 509.0 59.9 509.3 58.3 509.5 56.7 509.7 55.0 510.0 53.5 510.2 52.1 510.5 51.0 510.7 50.2 510.9 49.8 511.2 49.9 511.4 50.9 511.7 52.6 511.9 54.7 512.2 57.0 512.4 59.1 512.6 60.9 512.9 62.1 513.1 62.4 513.4 61.8 513.6 60.4 513.8 58.5 514.1 56.3 514.3 53.8 514.6 51.3 514.8 48.9 515.1 46.7 515.3 45.1 515.5 44.0 515.8 43.7 516.0 44.0 516.3 44.7 516.5 45.6 516.7 46.9 517.0 48.3 517.2 50.0 517.5 51.7 517.7 53.5 518.0 55.3 518.2 57.1 518.4 58.7 518.7 60.3 518.9 61.6 519.2 62.6 519.4 63.3 519.6 63.7 519.9 63.7 520.1 63.3 520.4 62.5 520.6 61.4 520.9 60.1 521.1 58.6 521.3 57.0 521.6 55.3 521.8 53.6 522.1 51.8 522.3 50.2 522.5 48.6 522.8 47.2 523.0 46.1 523.3 45.2 523.5 44.6 523.8 44.4 524.0 44.6 524.2 45.2 524.5 46.1 524.7 47.3 525.0 48.7 525.2 50.3 525.4 52.1 525.7 53.8 525.9 55.7 526.2 57.4 526.4 59.1 526.7 60.6 526.9 62.0 527.1 63.1 527.4 63.9 527.6 64.3 527.9 64.4 528.1 64.3 528.3 63.9 528.6 63.5 528.8 62.8 529.1 62.0 529.3 61.0 529.6 59.9 529.8 58.6 530.0 57.2 530.3 55.6 530.5 53.8 530.8 51.9 531.0 49.9" fill="none" stroke="#00ff00" stroke-width="1" stroke-linejoin="round"/><path d="M47.8 42.2h0M48.0 43.0h0M48.3 44.1h0M48.5 45.4h0M48.8 47.0h0M49.0 48.7h0M49.2 50.5h0M49.5 52.3h0M49.7 54.2h0M50.0 56.0h0M50.2 57.8h0M50.5 59.4h0M50.7 60.8h0M50.9 62.0h0M51.2 62.9h0M51.7 63.8h0M52.4 62.9h0M52.9 61.7h0M53.1 60.9h0M53.4 60.2h0M53.6 59.3h0M53.8 58.6h0M54.1 57.8h0M54.3 57.2h0M54.8 55.8h0M55.0 55.0h0M55.3 54.2h0M55.5 53.4h0M55.8 52.6h0M56.0 51.9h0M56.5 50.9h0M57.2 50.5h0M57.7 51.9h0M57.9 53.0h0M58.2 54.3h0M58.4 55.9h0M58.7 57.5h0M58.9 59.2h0M59.2 60.9h0M59.4 62.6h0M59.6 64.3h0M59.9 65.7h0M60.1 67.0h0M60.4 68.1h0M60.6 67.2h0M60.8 66.2h0M61.1 65.3h0M61.3 64.3h0M61.6 63.4h0M61.8 62.5h0M62.1 61.6h0M62.3 60.9h0M62.5 60.1h0M63.0 59.1h0M63.5 58.5h0M64.2 59.1h0M64.5 59.7h0M64.7 60.5h0M65.0 61.4h0M65.2 62.3h0M65.4 63.2h0M65.7 63.9h0M66.2 65.0h0M66.9 64.5h0M67.4 63.0h0M67.6 62.2h0M67.9 61.2h0M68.1 60.4h0M68.3 59.6h0M68.8 58.6h0M69.5 59.4h0M69.8 60.4h0M70.0 61.6h0M70.3 62.8h0M70.5 63.9h0M70.8 64.7h0M71.5 63.7h0M71.7 61.9h0M72.0 59.7h0M72.2 57.4h0M72.4 55.3h0M72.7 53.6h0M72.9 52.6h0M73.4 53.1h0M73.7 54.3h0M73.9 55.9h0M74.1 57.7h0M74.4 59.6h0M74.6 61.4h0M74.9 63.1h0M75.1 64.3h0M75.3 65.0h0M75.8 64.0h0M76.1 62.3h0M76.3 59.9h0M76.6 57.2h0M76.8 54.2h0M77.0 51.3h0M77.3 48.5h0M77.5 46.1h0M77.8 44.3h0M78.0 43.2h0M78.5 43.9h0M78.7 45.5h0M79.0 47.7h0M79.2 50.3h0M79.4 53.3h0M79.7 56.3h0M79.9 59.4h0M80.2 62.3h0M80.4 64.9h0M80.7 67.0h0M81.1 66.2h0M81.4 64.7h0M81.6 63.3h0M81.9 62.0h0M82.1 60.9h0M82.3 59.9h0M82.6 59.1h0M83.1 58.4h0M83.6 59.2h0M83.8 60.1h0M84.0 61.2h0M84.3 62.3h0M84.5 63.2h0M84.8 64.0h0M85.5 64.0h0M86.0 62.5h0M86.2 61.5h0M86.5 60.3h0M86.7 59.0h0M86.9 57.6h0M87.2 56.2h0M87.4 54.9h0M87.7 53.6h0M87.9 52.3h0M88.1 51.2h0M88.4 50.3h0M88.6 49.6h0M89.1 49.1h0M89.6 50.2h0M89.8 51.4h0M90.1 52.9h0M90.3 54.6h0M90.6 56.3h0M90.8 58.0h0M91.0 59.4h0M91.3 60.6h0M91.5 61.5h0M92.3 61.2h0M92.7 59.9h0M93.0 59.1h0M93.2 58.3h0M93.5 57.5h0M93.9 56.5h0M94.7 56.8h0M95.2 57.8h0M95.6 59.0h0M96.1 59.8h0M96.8 58.6h0M97.1 56.8h0M97.3 55.0h0M97.6 53.6h0M98.3 54.4h0M98.5 55.7h0M98.8 57.4h0M99.0 59.4h0M99.3 61.4h0M99.5 63.5h0M99.7 65.4h0M100.0 67.2h0M100.5 66.0h0M100.7 64.3h0M101.0 62.6h0M101.2 60.9h0M101.4 59.2h0M101.7 57.6h0M101.9 56.2h0M102.2 54.9h0M102.4 53.8h0M102.6 53.0h0M103.1 52.4h0M103.6 54.2h0M103.9 55.8h0M104.1 57.8h0M104.3 59.8h0M104.6 61.7h0M104.8 63.4h0M105.1 64.5h0M105.8 63.2h0M106.0 60.9h0M106.3 57.9h0M106.5 54.6h0M106.8 51.1h0M107.0 47.6h0M107.2 44.5h0M107.5 41.8h0M107.7 40.0h0M108.0 39.1h0M108.4 40.5h0M108.7 42.4h0M108.9 44.9h0M109.2 47.9h0M109.4 51.0h0M109.6 54.2h0M109.9 57.3h0M110.1 60.1h0M110.4 62.4h0M110.6 64.1h0M110.9 65.0h0M111.3 64.1h0M111.6 62.6h0M111.8 60.6h0M112.1 58.2h0M112.3 55.5h0M112.5 52.8h0M112.8 50.1h0M113.0 47.5h0M113.3 45.3h0M113.5 43.5h0M113.8 42.2h0M114.5 42.7h0M114.7 43.9h0M115.0 45.5h0M115.2 47.4h0M115.4 49.6h0M115.7 52.0h0M115.9 54.5h0M116.2 57.1h0M116.4 59.6h0M116.7 62.0h0M116.9 64.3h0M117.1 66.4h0M117.4 68.0h0M117.6 66.4h0M117.9 64.6h0M118.1 62.8h0M118.3 60.9h0M118.6 59.1h0M118.8 57.3h0M119.1 55.6h0M119.3 54.0h0M119.6 52.6h0M119.8 51.4h0M120.0 50.4h0M120.3 49.6h0M120.8 49.1h0M121.5 49.3h0M122.2 49.8h0M122.9 50.3h0M123.7 50.4h0M124.4 50.0h0M125.1 49.3h0M125.8 48.7h0M126.6 48.4h0M127.3 48.9h0M127.8 50.0h0M128.0 50.7h0M128.3 51.6h0M128.5 52.5h0M128.7 53.5h0M129.0 54.5h0M129.2 55.6h0M129.5 56.7h0M129.7 57.8h0M129.9 58.8h0M130.2 59.8h0M130.4 60.8h0M130.7 61.7h0M130.9 62.5h0M131.2 63.2h0M131.6 64.1h0M132.4 64.4h0M133.1 63.6h0M133.6 62.8h0M134.1 61.7h0M134.5 60.6h0M135.0 59.4h0M135.5 58.3h0M136.0 57.3h0M136.5 56.5h0M137.0 55.9h0M137.7 55.8h0M138.2 56.6h0M138.6 57.8h0M138.9 58.6h0M139.1 59.4h0M139.4 60.2h0M139.6 61.1h0M139.8 61.9h0M140.1 62.7h0M140.3 63.4h0M140.8 64.5h0M141.3 65.1h0M142.0 64.8h0M142.5 64.1h0M143.0 63.1h0M143.5 61.9h0M143.7 61.2h0M144.0 60.5h0M144.2 59.8h0M144.4 59.1h0M144.7 58.3h0M144.9 57.6h0M145.2 56.9h0M145.4 56.3h0M145.9 55.1h0M146.4 54.1h0M146.9 53.4h0M147.6 53.1h0M148.1 53.8h0M148.5 55.1h0M148.8 56.0h0M149.0 56.9h0M149.3 58.0h0M149.5 59.2h0M149.8 60.3h0M150.0 61.5h0M150.2 62.7h0M150.5 63.9h0M150.7 65.1h0M151.0 66.2h0M151.2 67.2h0M151.4 68.1h0M151.7 67.2h0M151.9 66.3h0M152.2 65.2h0M152.4 64.2h0M152.7 63.1h0M152.9 62.1h0M153.1 61.1h0M153.4 60.1h0M153.6 59.2h0M153.9 58.5h0M154.3 57.4h0M155.1 57.4h0M155.3 58.2h0M155.6 59.3h0M155.8 60.5h0M156.0 61.8h0M156.3 63.1h0M156.5 64.1h0M156.8 64.8h0M157.5 65.0h0M158.2 64.6h0M158.9 63.8h0M159.4 62.1h0M159.7 60.2h0M159.9 57.9h0M160.1 55.3h0M160.4 52.5h0M160.6 49.9h0M160.9 47.4h0M161.1 45.4h0M161.4 43.9h0M161.6 43.1h0M162.1 45.0h0M162.3 47.6h0M162.6 51.0h0M162.8 54.9h0M163.0 58.7h0M163.3 62.3h0M163.5 65.3h0M163.8 67.3h0M164.0 68.1h0M164.3 64.8h0M164.5 61.2h0M164.7 57.4h0M165.0 53.4h0M165.2 49.2h0M165.5 45.0h0M165.7 40.7h0M165.9 36.4h0M166.2 32.3h0M166.4 28.3h0M166.7 24.6h0M166.9 21.1h0M167.2 18.0h0M167.4 15.2h0M167.6 12.9h0M167.9 11.1h0M168.1 9.8h0M168.4 9.0h0M169.1 9.8h0M169.3 11.1h0M169.6 12.9h0M169.8 15.2h0M170.0 18.0h0M170.3 21.1h0M170.5 24.6h0M170.8 28.3h0M171.0 32.3h0M171.3 36.4h0M171.5 40.7h0M171.7 45.0h0M172.0 49.2h0M172.2 53.4h0M172.5 57.4h0M172.7 61.2h0M172.9 64.8h0M173.2 68.1h0M173.4 66.9h0M173.7 63.9h0M173.9 59.6h0M174.2 54.8h0M174.4 50.1h0M174.6 46.1h0M174.9 43.6h0M175.6 45.7h0M175.8 48.1h0M176.1 51.1h0M176.3 54.4h0M176.6 57.7h0M176.8 61.1h0M177.1 64.1h0M177.3 66.8h0M177.8 65.4h0M178.0 63.3h0M178.3 61.3h0M178.5 59.3h0M178.7 57.5h0M179.0 56.0h0M179.2 54.8h0M179.5 54.0h0M180.2 54.1h0M180.7 55.0h0M181.2 56.3h0M181.4 57.1h0M181.6 57.9h0M181.9 58.8h0M182.1 59.7h0M182.4 60.5h0M182.6 61.4h0M182.9 62.2h0M183.1 62.9h0M183.3 63.6h0M183.8 64.6h0M184.5 65.1h0M185.0 64.5h0M185.5 63.4h0M185.8 62.7h0M186.0 61.8h0M186.2 61.0h0M186.5 60.1h0M186.7 59.1h0M187.0 58.2h0M187.2 57.3h0M187.4 56.4h0M187.7 55.6h0M187.9 54.9h0M188.4 53.7h0M188.9 53.1h0M189.6 53.6h0M190.1 54.9h0M190.3 55.7h0M190.6 56.7h0M190.8 57.7h0M191.1 58.7h0M191.3 59.7h0M191.6 60.7h0M191.8 61.6h0M192.0 62.5h0M192.3 63.2h0M192.8 64.2h0M193.5 64.3h0M194.2 63.6h0M194.7 62.8h0M195.2 61.8h0M195.7 60.8h0M196.1 59.6h0M196.6 58.5h0M197.1 57.5h0M197.6 56.5h0M198.1 55.8h0M198.6 55.3h0M199.3 55.1h0M199.8 55.7h0M200.2 56.9h0M200.5 57.6h0M200.7 58.3h0M201.0 59.2h0M201.2 60.0h0M201.5 60.8h0M201.7 61.7h0M201.9 62.5h0M202.2 63.2h0M202.7 64.4h0M203.1 65.0h0M203.9 65.0h0M204.6 64.7h0M205.3 64.2h0M206.0 63.4h0M206.5 62.0h0M206.8 61.1h0M207.0 60.0h0M207.3 58.9h0M207.5 57.6h0M207.7 56.4h0M208.0 55.1h0M208.2 53.9h0M208.5 52.7h0M208.7 51.6h0M208.9 50.6h0M209.2 49.8h0M209.4 49.1h0M209.9 48.4h0M210.6 48.6h0M211.4 49.1h0M212.1 49.6h0M212.8 49.7h0M213.5 49.6h0M214.3 49.4h0M215.0 49.2h0M215.7 49.1h0M216.4 49.7h0M216.7 50.6h0M216.9 51.8h0M217.2 53.2h0M217.4 54.9h0M217.6 56.7h0M217.9 58.7h0M218.1 60.7h0M218.4 62.6h0M218.6 64.6h0M218.9 66.4h0M219.1 68.1h0M219.3 66.3h0M219.6 64.3h0M219.8 62.2h0M220.1 59.9h0M220.3 57.6h0M220.5 55.2h0M220.8 52.9h0M221.0 50.6h0M221.3 48.5h0M221.5 46.6h0M221.8 45.0h0M222.0 43.6h0M222.2 42.5h0M222.7 41.7h0M223.2 42.8h0M223.4 44.0h0M223.7 45.6h0M223.9 47.5h0M224.2 49.6h0M224.4 51.9h0M224.7 54.4h0M224.9 56.9h0M225.1 59.4h0M225.4 61.9h0M225.6 64.3h0M225.9 66.6h0M226.1 67.6h0M226.3 65.4h0M226.6 62.9h0M226.8 60.3h0M227.1 57.6h0M227.3 54.9h0M227.6 52.2h0M227.8 49.6h0M228.0 47.1h0M228.3 44.9h0M228.5 43.0h0M228.8 41.5h0M229.0 40.4h0M229.5 39.7h0M230.0 40.8h0M230.2 41.9h0M230.4 43.2h0M230.7 44.7h0M230.9 46.5h0M231.2 48.5h0M231.4 50.5h0M231.7 52.7h0M231.9 55.0h0M232.1 57.3h0M232.4 59.5h0M232.6 61.8h0M232.9 63.9h0M233.1 65.9h0M233.3 67.8h0M233.6 66.5h0M233.8 64.2h0M234.1 61.8h0M234.3 59.5h0M234.6 57.2h0M234.8 55.3h0M235.0 53.9h0M235.3 53.2h0M235.8 54.1h0M236.0 55.7h0M236.2 57.7h0M236.5 60.1h0M236.7 62.5h0M237.0 64.8h0M237.2 66.9h0M237.5 67.7h0M237.7 66.3h0M237.9 64.7h0M238.2 63.2h0M238.4 61.7h0M238.7 60.2h0M238.9 58.7h0M239.1 57.3h0M239.4 56.1h0M239.6 55.0h0M239.9 54.0h0M240.1 53.3h0M240.6 52.4h0M241.3 53.2h0M241.6 53.9h0M241.8 54.8h0M242.0 55.8h0M242.3 56.9h0M242.5 58.0h0M242.8 59.0h0M243.0 60.0h0M243.3 60.9h0M243.5 61.6h0M244.0 62.4h0M244.7 61.5h0M244.9 60.8h0M245.2 59.9h0M245.4 58.9h0M245.7 57.8h0M245.9 56.6h0M246.2 55.4h0M246.4 54.2h0M246.6 53.0h0M246.9 52.0h0M247.1 51.0h0M247.4 50.2h0M247.8 49.2h0M248.6 50.0h0M248.8 51.0h0M249.1 52.3h0M249.3 53.8h0M249.5 55.5h0M249.8 57.2h0M250.0 58.9h0M250.3 60.6h0M250.5 62.1h0M250.7 63.4h0M251.0 64.3h0M251.5 65.1h0M252.0 64.4h0M252.2 63.8h0M252.4 63.0h0M252.7 62.1h0M252.9 61.2h0M253.2 60.3h0M253.4 59.5h0M253.9 58.5h0M254.6 59.4h0M254.9 60.4h0M255.1 61.6h0M255.3 63.1h0M255.6 64.6h0M255.8 66.2h0M256.1 67.8h0M256.3 66.6h0M256.5 64.3h0M256.8 61.6h0M257.0 58.5h0M257.3 55.4h0M257.5 52.3h0M257.8 49.3h0M258.0 46.7h0M258.2 44.6h0M258.5 43.1h0M258.7 42.4h0M259.2 43.1h0M259.4 44.0h0M259.7 45.3h0M259.9 46.9h0M260.2 48.7h0M260.4 50.6h0M260.6 52.6h0M260.9 54.7h0M261.1 56.7h0M261.4 58.6h0M261.6 60.4h0M261.9 62.0h0M262.1 63.3h0M262.3 64.3h0M262.8 65.1h0M263.3 63.5h0M263.5 62.0h0M263.8 60.2h0M264.0 58.3h0M264.3 56.6h0M264.5 55.1h0M264.8 54.1h0M265.5 54.6h0M265.7 55.5h0M266.0 56.7h0M266.2 58.0h0M266.4 59.4h0M266.7 60.7h0M266.9 61.9h0M267.2 62.8h0M267.4 63.5h0M268.1 63.3h0M268.6 62.2h0M268.9 61.5h0M269.1 60.8h0M269.3 60.1h0M269.8 58.9h0M270.3 58.4h0M271.0 59.5h0M271.3 60.3h0M271.5 61.2h0M271.8 62.1h0M272.0 62.9h0M272.2 63.7h0M272.5 64.4h0M273.0 65.1h0M273.5 64.4h0M273.7 63.7h0M273.9 62.7h0M274.2 61.8h0M274.4 60.9h0M274.7 60.2h0M275.4 60.2h0M275.6 60.9h0M275.9 61.9h0M276.1 63.1h0M276.4 64.4h0M276.6 65.8h0M276.8 67.1h0M277.1 67.8h0M277.3 66.3h0M277.6 64.5h0M277.8 62.5h0M278.0 60.4h0M278.3 58.2h0M278.5 56.2h0M278.8 54.3h0M279.0 52.6h0M279.3 51.4h0M279.5 50.6h0M280.2 51.3h0M280.5 52.3h0M280.7 53.6h0M280.9 55.0h0M281.2 56.5h0M281.4 58.1h0M281.7 59.7h0M281.9 61.2h0M282.2 62.5h0M282.4 63.6h0M282.6 64.5h0M283.1 65.1h0M283.8 64.5h0M284.3 63.8h0M284.8 62.9h0M285.3 61.8h0M285.5 61.0h0M285.8 60.1h0M286.0 58.9h0M286.3 57.7h0M286.5 56.3h0M286.7 54.9h0M287.0 53.4h0M287.2 51.9h0M287.5 50.4h0M287.7 49.0h0M288.0 47.6h0M288.2 46.3h0M288.4 45.1h0M288.7 44.0h0M288.9 43.1h0M289.2 42.4h0M289.6 41.7h0M290.1 42.5h0M290.4 43.6h0M290.6 45.1h0M290.8 47.0h0M291.1 49.1h0M291.3 51.5h0M291.6 54.0h0M291.8 56.5h0M292.1 59.0h0M292.3 61.5h0M292.5 63.9h0M292.8 66.0h0M293.0 67.8h0M293.3 66.7h0M293.5 64.9h0M293.7 63.0h0M294.0 61.1h0M294.2 59.2h0M294.5 57.3h0M294.7 55.6h0M295.0 53.9h0M295.2 52.4h0M295.4 51.0h0M295.7 49.9h0M295.9 49.1h0M296.4 48.4h0M296.9 49.3h0M297.1 50.4h0M297.4 51.8h0M297.6 53.4h0M297.9 55.1h0M298.1 56.9h0M298.3 58.7h0M298.6 60.4h0M298.8 62.0h0M299.1 63.3h0M299.3 64.3h0M299.8 65.1h0M300.3 64.3h0M300.5 63.5h0M300.8 62.4h0M301.0 61.2h0M301.2 59.9h0M301.5 58.4h0M301.7 56.9h0M302.0 55.4h0M302.2 53.9h0M302.4 52.6h0M302.7 51.3h0M302.9 50.2h0M303.2 49.3h0M303.7 48.4h0M304.1 48.9h0M304.4 49.8h0M304.6 51.0h0M304.9 52.3h0M305.1 53.9h0M305.3 55.5h0M305.6 57.2h0M305.8 58.8h0M306.1 60.3h0M306.3 61.6h0M306.6 62.7h0M306.8 63.4h0M307.5 63.5h0M308.0 62.7h0M308.5 61.4h0M308.7 60.6h0M309.0 59.8h0M309.2 58.9h0M309.5 58.0h0M309.7 57.0h0M309.9 56.1h0M310.2 55.1h0M310.4 54.2h0M310.7 53.4h0M310.9 52.5h0M311.1 51.8h0M311.6 50.6h0M312.1 49.9h0M312.8 50.1h0M313.3 51.5h0M313.6 52.5h0M313.8 53.6h0M314.0 54.9h0M314.3 56.3h0M314.5 57.7h0M314.8 59.2h0M315.0 60.7h0M315.3 62.2h0M315.5 63.6h0M315.7 64.9h0M316.0 66.1h0M316.2 67.2h0M316.5 68.1h0M316.7 67.2h0M316.9 66.4h0M317.2 65.5h0M317.4 64.6h0M317.7 63.7h0M317.9 62.9h0M318.2 62.0h0M318.4 61.2h0M318.6 60.4h0M318.9 59.6h0M319.1 58.9h0M319.4 58.2h0M319.8 57.1h0M320.3 56.3h0M321.0 55.7h0M321.5 57.4h0M321.8 59.0h0M322.0 60.8h0M322.3 62.4h0M322.5 63.5h0M323.2 63.1h0M323.5 62.4h0M323.7 61.5h0M323.9 60.5h0M324.2 59.3h0M324.4 58.0h0M324.7 56.6h0M324.9 55.1h0M325.2 53.6h0M325.4 52.1h0M325.6 50.5h0M325.9 49.0h0M326.1 47.6h0M326.4 46.2h0M326.6 45.0h0M326.8 43.8h0M327.1 42.9h0M327.3 42.1h0M327.8 41.1h0M328.5 42.6h0M328.8 44.2h0M329.0 46.2h0M329.3 48.6h0M329.5 51.1h0M329.7 53.7h0M330.0 56.3h0M330.2 58.7h0M330.5 60.9h0M330.7 62.7h0M331.0 64.1h0M331.2 64.9h0M331.9 63.6h0M332.2 62.3h0M332.4 60.8h0M332.6 59.1h0M332.9 57.4h0M333.1 55.8h0M333.4 54.3h0M333.6 53.2h0M333.9 52.6h0M334.6 53.6h0M334.8 54.8h0M335.1 56.2h0M335.3 57.7h0M335.5 59.2h0M335.8 60.7h0M336.0 61.9h0M336.3 63.0h0M336.8 63.8h0M337.5 63.2h0M338.0 62.5h0M338.4 61.6h0M338.9 60.8h0M339.4 60.1h0M340.1 59.8h0M340.6 60.4h0M341.1 61.6h0M341.3 62.3h0M341.6 63.0h0M341.8 63.7h0M342.3 64.8h0M343.0 64.5h0M343.3 63.3h0M343.5 61.8h0M343.8 60.1h0M344.0 58.5h0M344.2 57.1h0M344.5 56.1h0M345.2 56.9h0M345.5 58.1h0M345.7 59.6h0M345.9 61.0h0M346.2 62.3h0M346.4 63.2h0M347.1 63.0h0M347.4 61.9h0M347.6 60.4h0M347.9 58.7h0M348.1 56.8h0M348.4 54.8h0M348.6 52.8h0M348.8 50.8h0M349.1 49.0h0M349.3 47.5h0M349.6 46.2h0M349.8 45.4h0M350.5 46.1h0M350.8 47.3h0M351.0 48.9h0M351.2 50.8h0M351.5 52.9h0M351.7 55.0h0M352.0 57.2h0M352.2 59.2h0M352.5 61.1h0M352.7 62.8h0M352.9 64.0h0M353.2 64.8h0M353.9 63.3h0M354.1 61.3h0M354.4 59.0h0M354.6 56.3h0M354.9 53.6h0M355.1 51.0h0M355.4 48.7h0M355.6 46.8h0M355.8 45.5h0M356.6 46.2h0M356.8 47.5h0M357.0 49.1h0M357.3 51.0h0M357.5 53.1h0M357.8 55.3h0M358.0 57.4h0M358.3 59.5h0M358.5 61.3h0M358.7 62.9h0M359.0 64.1h0M359.2 64.9h0M359.9 64.4h0M360.2 63.6h0M360.4 62.7h0M360.7 61.5h0M360.9 60.3h0M361.2 59.0h0M361.4 57.6h0M361.6 56.2h0M361.9 54.8h0M362.1 53.6h0M362.4 52.4h0M362.6 51.4h0M362.8 50.6h0M363.3 49.8h0M364.1 50.1h0M364.5 50.9h0M365.0 51.9h0M365.5 53.1h0M366.0 54.2h0M366.5 55.2h0M367.0 56.0h0M367.4 56.7h0M367.9 57.4h0M368.4 58.0h0M368.9 58.5h0M369.6 59.1h0M370.3 59.6h0M371.1 60.1h0M371.8 60.7h0M372.3 61.3h0M372.8 62.1h0M373.2 63.2h0M373.7 64.5h0M374.0 65.2h0M374.2 65.9h0M374.4 66.6h0M374.7 67.2h0M374.9 67.9h0M375.4 66.9h0M375.7 66.2h0M375.9 65.5h0M376.1 64.7h0M376.4 64.0h0M376.6 63.3h0M377.1 62.2h0M377.6 61.2h0M378.1 60.1h0M378.6 59.1h0M379.0 58.2h0M379.5 57.6h0M380.2 57.1h0M381.0 57.5h0M381.4 58.2h0M381.9 59.1h0M382.4 60.1h0M382.9 60.9h0M383.4 61.7h0M383.9 62.5h0M384.3 63.3h0M385.1 63.8h0M385.8 63.2h0M386.3 62.5h0M386.8 61.8h0M387.2 61.3h0M388.0 61.1h0M388.7 61.5h0M389.4 62.1h0M390.1 62.8h0M390.6 63.4h0M391.4 64.1h0M392.1 64.8h0M392.6 65.3h0M393.0 65.8h0M393.5 66.4h0M394.0 66.9h0M394.5 67.5h0M395.0 68.0h0M395.7 67.3h0M396.2 66.7h0M396.7 66.0h0M397.2 65.4h0M397.9 64.7h0M398.6 64.4h0M399.3 64.2h0M400.1 64.0h0M400.8 63.9h0M401.5 63.8h0M402.2 63.7h0M403.0 63.6h0M403.7 63.5h0M404.4 63.4h0M405.1 63.2h0M405.9 63.1h0M406.6 62.7h0M407.3 62.2h0M408.0 61.8h0M408.8 61.8h0M409.5 62.6h0M410.0 63.2h0M410.4 64.0h0M410.9 64.6h0M411.6 65.1h0M412.4 65.1h0M413.1 65.1h0M413.8 65.1h0M414.5 65.1h0M415.3 65.1h0M416.0 65.1h0M416.7 64.9h0M417.4 64.6h0M418.2 64.2h0M418.9 63.9h0M419.6 63.4h0M420.3 62.9h0M421.1 62.3h0M421.8 61.9h0M422.5 61.8h0M423.2 62.1h0M424.0 62.9h0M424.5 63.5h0M425.2 64.2h0M425.9 64.4h0M426.6 64.3h0M427.4 64.2h0M428.1 63.8h0M428.8 63.3h0M429.3 62.7h0M429.5 61.5h0M429.8 60.3h0M430.3 59.8h0M431.0 59.9h0M431.7 60.2h0M432.4 60.6h0M433.2 61.0h0M433.9 61.5h0M434.6 62.2h0M435.1 62.7h0M435.8 63.4h0M436.5 63.7h0M437.3 63.0h0M437.5 62.3h0M437.7 61.4h0M438.0 60.5h0M438.2 59.6h0M438.5 58.8h0M438.7 58.1h0M439.2 57.1h0M439.9 57.2h0M440.6 57.7h0M441.4 58.4h0M441.8 58.9h0M442.6 59.6h0M443.3 60.4h0M443.8 60.9h0M444.3 61.5h0M444.7 62.1h0M445.5 62.8h0M446.2 63.1h0M446.9 63.3h0M447.6 63.5h0M448.4 63.6h0M449.1 63.7h0M449.8 63.8h0M450.5 63.6h0M451.3 63.0h0M451.8 62.3h0M452.2 61.6h0M452.7 60.8h0M453.2 60.0h0M453.7 59.2h0M454.2 58.1h0M454.7 56.9h0M455.1 55.6h0M455.6 54.4h0M456.1 53.5h0M456.8 53.1h0M457.3 53.9h0M457.6 54.7h0M457.8 55.6h0M458.0 56.7h0M458.3 57.8h0M458.5 59.0h0M458.8 60.1h0M459.0 61.2h0M459.2 62.1h0M459.5 62.9h0M460.0 63.7h0M460.5 63.2h0M460.7 62.3h0M460.9 61.1h0M461.2 59.6h0M461.4 58.0h0M461.7 56.3h0M461.9 54.6h0M462.1 52.9h0M462.4 51.3h0M462.6 49.9h0M462.9 48.8h0M463.1 48.1h0M463.8 48.9h0M464.1 50.4h0M464.3 52.4h0M464.6 54.6h0M464.8 57.0h0M465.0 59.3h0M465.3 61.4h0M465.5 63.2h0M465.8 64.4h0M466.3 65.0h0M466.7 63.2h0M467.0 61.7h0M467.2 59.9h0M467.5 57.8h0M467.7 55.5h0M467.9 53.2h0M468.2 50.8h0M468.4 48.4h0M468.7 46.1h0M468.9 44.0h0M469.2 42.1h0M469.4 40.5h0M469.6 39.3h0M469.9 38.6h0M470.6 39.4h0M470.8 40.6h0M471.1 42.1h0M471.3 44.0h0M471.6 46.0h0M471.8 48.3h0M472.0 50.6h0M472.3 53.1h0M472.5 55.5h0M472.8 58.0h0M473.0 60.3h0M473.3 62.5h0M473.5 64.4h0M473.7 66.2h0M474.0 67.6h0M474.5 66.5h0M474.7 65.4h0M474.9 64.4h0M475.2 63.4h0M475.4 62.5h0M475.7 61.7h0M475.9 61.0h0M476.4 60.0h0M477.1 60.1h0M477.6 61.2h0M477.8 62.0h0M478.1 62.7h0M478.6 63.6h0M479.3 63.1h0M479.8 61.7h0M480.0 61.0h0M480.5 60.0h0M481.2 60.1h0M481.7 61.1h0M482.2 62.3h0M482.7 63.5h0M483.2 64.3h0M483.9 63.1h0M484.1 61.5h0M484.4 59.5h0M484.6 57.2h0M484.9 54.8h0M485.1 52.5h0M485.3 50.4h0M485.6 48.7h0M485.8 47.5h0M486.5 48.3h0M486.8 49.7h0M487.0 51.4h0M487.3 53.4h0M487.5 55.5h0M487.8 57.6h0M488.0 59.6h0M488.2 61.5h0M488.5 62.9h0M488.7 64.0h0M489.4 63.6h0M489.7 62.5h0M489.9 61.1h0M490.2 59.4h0M490.4 57.6h0M490.7 55.6h0M490.9 53.7h0M491.1 51.8h0M491.4 50.1h0M491.6 48.6h0M491.9 47.4h0M492.1 46.7h0M492.8 47.1h0M493.1 48.0h0M493.3 49.1h0M493.6 50.4h0M493.8 51.9h0M494.0 53.5h0M494.3 55.2h0M494.5 56.9h0M494.8 58.5h0M495.0 60.1h0M495.2 61.5h0M495.5 62.8h0M495.7 63.8h0M496.0 64.6h0M496.7 64.8h0M497.2 63.4h0M497.4 62.4h0M497.7 61.3h0M497.9 60.1h0M498.1 58.8h0M498.4 57.6h0M498.6 56.5h0M498.9 55.5h0M499.1 54.7h0M499.6 53.8h0M500.3 55.1h0M500.6 56.2h0M500.8 57.4h0M501.0 58.8h0M501.3 60.1h0M501.5 61.4h0M501.8 62.4h0M502.0 63.2h0M502.7 63.4h0M503.2 62.1h0M503.5 61.1h0M503.7 60.0h0M503.9 58.9h0M504.2 57.7h0M504.4 56.6h0M504.7 55.6h0M504.9 54.6h0M505.1 53.9h0M505.6 53.1h0M506.1 54.3h0M506.4 56.0h0M506.6 58.0h0M506.8 60.2h0M507.1 62.2h0M507.3 63.9h0M507.6 64.9h0M508.3 63.9h0M508.5 62.8h0M508.8 61.5h0M509.0 59.9h0M509.3 58.3h0M509.5 56.7h0M509.7 55.0h0M510.0 53.5h0M510.2 52.1h0M510.5 51.0h0M510.7 50.2h0M511.4 50.9h0M511.7 52.6h0M511.9 54.7h0M512.2 57.0h0M512.4 59.1h0M512.6 60.9h0M512.9 62.1h0M513.6 60.4h0M513.8 58.5h0M514.1 56.3h0M514.3 53.8h0M514.6 51.3h0M514.8 48.9h0M515.1 46.7h0M515.3 45.1h0M515.5 44.0h0M516.3 44.7h0M516.5 45.6h0M516.7 46.9h0M517.0 48.3h0M517.2 50.0h0M517.5 51.7h0M517.7 53.5h0M518.0 55.3h0M518.2 57.1h0M518.4 58.7h0M518.7 60.3h0M518.9 61.6h0M519.2 62.6h0M519.4 63.3h0M520.1 63.3h0M520.4 62.5h0M520.6 61.4h0M520.9 60.1h0M521.1 58.6h0M521.3 57.0h0M521.6 55.3h0M521.8 53.6h0M522.1 51.8h0M522.3 50.2h0M522.5 48.6h0M522.8 47.2h0M523.0 46.1h0M523.3 45.2h0M523.8 44.4h0M524.2 45.2h0M524.5 46.1h0M524.7 47.3h0M525.0 48.7h0M525.2 50.3h0M525.4 52.1h0M525.7 53.8h0M525.9 55.7h0M526.2 57.4h0M526.4 59.1h0M526.7 60.6h0M526.9 62.0h0M527.1 63.1h0M527.4 63.9h0M527.9 64.4h0M528.6 63.5h0M529.1 62.0h0M529.3 61.0h0M529.6 59.9h0M529.8 58.6h0M530.0 57.2h0M530.3 55.6h0M530.5 53.8h0M530.8 51.9h0M531.0 49.9h0" fill="none" stroke="#00ff00" stroke-width="3.1" stroke-linecap="round"/>
</g>
<text x="42.2" y="73.90" text-anchor="end" class="tl">0</text>
<text x="42.2" y="44.20" text-anchor="end" class="tl">0.5</text>
<text x="42.2" y="14.50" text-anchor="end" class="tl">1</text>
<text x="47.40" y="86.50" text-anchor="middle" class="tl">0</text>
<text x="95.72" y="86.50" text-anchor="middle" class="tl">200</text>
<text x="144.04" y="86.50" text-anchor="middle" class="tl">400</text>
<text x="192.36" y="86.50" text-anchor="middle" class="tl">600</text>
<text x="240.68" y="86.50" text-anchor="middle" class="tl">800</text>
<text x="289.00" y="86.50" text-anchor="middle" class="tl">1000</text>
<text x="337.32" y="86.50" text-anchor="middle" class="tl">1200</text>
<text x="385.64" y="86.50" text-anchor="middle" class="tl">1400</text>
<text x="433.96" y="86.50" text-anchor="middle" class="tl">1600</text>
<text x="482.28" y="86.50" text-anchor="middle" class="tl">1800</text>
<text x="530.60" y="86.50" text-anchor="middle" class="tl">2000</text>
<text x="289.40" y="106.10" text-anchor="middle" class="lb">columns</text>
<text transform="translate(18 39.30) rotate(-90)" text-anchor="middle" class="lb">coherency</text>
<path d="M433 14.0H465.7" stroke="#0000ff" stroke-width="1"/>
<circle cx="449.35" cy="14.0" r="1.3" fill="#0000ff"/>
<text x="468.2" y="18.80" class="lg">Rect.n</text>
<path d="M433 30.0H465.7" stroke="#00ff00" stroke-width="1"/>
<circle cx="449.35" cy="30.0" r="1.3" fill="#00ff00"/>
<text x="468.2" y="34.80" class="lg">Rect.w</text>
<path d="M47.8 120.8V180.2H531.0" fill="none" stroke="#4d4d4d" stroke-width="1"/>
<path d="M47.8 180.20h5.2M47.8 150.50h5.2M47.8 120.80h5.2M47.80 180.2v-5.2M96.12 180.2v-5.2M144.44 180.2v-5.2M192.76 180.2v-5.2M241.08 180.2v-5.2M289.40 180.2v-5.2M337.72 180.2v-5.2M386.04 180.2v-5.2M434.36 180.2v-5.2M482.68 180.2v-5.2M531.00 180.2v-5.2" fill="none" stroke="#4d4d4d" stroke-width="1"/>
<clipPath id="cp1"><rect x="47.8" y="120.3" width="483.2" height="59.9"/></clipPath><g clip-path="url(#cp1)">
<path d="M47.8 157.4 48.0 157.9 48.3 158.6 48.5 159.4 48.8 160.4 49.0 161.4 49.2 162.4 49.5 163.4 49.7 164.4 50.0 165.3 50.2 166.1 50.5 166.7 50.7 167.3 50.9 168.0 51.2 168.6 51.4 169.2 51.7 169.7 51.9 170.1 52.1 170.3 52.4 170.4 52.6 170.4 52.9 170.3 53.1 170.1 53.4 170.0 53.6 169.8 53.8 169.6 54.1 169.5 54.3 169.3 54.6 169.2 54.8 169.1 55.0 169.1 55.3 169.2 55.5 169.4 55.8 169.8 56.0 170.2 56.3 170.7 56.5 171.3 56.7 171.9 57.0 172.4 57.2 173.0 57.5 173.5 57.7 173.9 57.9 174.2 58.2 174.4 58.4 174.4 58.7 174.1 58.9 173.4 59.2 172.4 59.4 171.2 59.6 169.8 59.9 168.4 60.1 166.9 60.4 165.4 60.6 163.9 60.8 162.7 61.1 161.6 61.3 160.9 61.6 160.5 61.8 160.4 62.1 160.6 62.3 161.0 62.5 161.6 62.8 162.3 63.0 163.2 63.3 164.2 63.5 165.2 63.7 166.2 64.0 167.3 64.2 168.4 64.5 169.5 64.7 170.5 65.0 171.4 65.2 172.3 65.4 173.1 65.7 174.0 65.9 174.9 66.2 175.8 66.4 176.6 66.6 177.5 66.9 178.4 67.1 179.2 67.4 179.9 67.6 179.7 67.9 178.9 68.1 178.0 68.3 177.2 68.6 176.3 68.8 175.4 69.1 174.6 69.3 173.8 69.5 173.0 69.8 172.3 70.0 171.7 70.3 171.2 70.5 170.8 70.8 170.5 71.0 170.4 71.2 170.4 71.5 170.5 71.7 170.7 72.0 170.9 72.2 171.2 72.4 171.5 72.7 171.7 72.9 172.0 73.2 172.2 73.4 172.3 73.7 172.4 73.9 172.4 74.1 172.3 74.4 172.2 74.6 171.9 74.9 171.7 75.1 171.4 75.3 171.1 75.6 170.9 75.8 170.6 76.1 170.3 76.3 170.1 76.6 169.9 76.8 169.8 77.0 169.7 77.3 169.8 77.5 169.9 77.8 170.2 78.0 170.5 78.2 170.9 78.5 171.3 78.7 171.7 79.0 172.1 79.2 172.6 79.4 172.9 79.7 173.3 79.9 173.5 80.2 173.7 80.4 173.7 80.7 173.6 80.9 173.4 81.1 172.9 81.4 172.3 81.6 171.6 81.9 170.8 82.1 170.0 82.3 169.0 82.6 168.1 82.8 167.1 83.1 166.1 83.3 165.2 83.6 164.3 83.8 163.4 84.0 162.7 84.3 162.1 84.5 161.6 84.8 161.2 85.0 161.1 85.2 161.1 85.5 161.2 85.7 161.4 86.0 161.7 86.2 162.1 86.5 162.4 86.7 162.8 86.9 163.1 87.2 163.4 87.4 163.6 87.7 163.7 87.9 163.7 88.1 163.5 88.4 163.2 88.6 162.7 88.9 162.2 89.1 161.6 89.4 160.9 89.6 160.3 89.8 159.7 90.1 159.1 90.3 158.6 90.6 158.2 90.8 157.7 91.0 157.3 91.3 156.8 91.5 156.4 91.8 155.9 92.0 155.5 92.3 155.1 92.5 154.7 92.7 154.4 93.0 154.1 93.2 153.9 93.5 153.8 93.7 153.7 93.9 153.7 94.2 153.9 94.4 154.2 94.7 154.5 94.9 155.0 95.2 155.5 95.4 156.0 95.6 156.7 95.9 157.4 96.1 158.7 96.4 160.5 96.6 162.7 96.8 165.0 97.1 167.1 97.3 168.8 97.6 170.0 97.8 170.4 98.1 170.2 98.3 169.7 98.5 168.9 98.8 167.9 99.0 166.8 99.3 165.6 99.5 164.3 99.7 163.1 100.0 161.9 100.2 160.9 100.5 160.1 100.7 159.4 101.0 159.1 101.2 159.1 101.4 159.6 101.7 160.4 101.9 161.6 102.2 163.0 102.4 164.6 102.6 166.4 102.9 168.2 103.1 170.0 103.4 171.7 103.6 173.3 103.9 174.7 104.1 175.8 104.3 176.6 104.6 177.0 104.8 177.0 105.1 176.4 105.3 175.3 105.5 173.9 105.8 172.1 106.0 170.2 106.3 168.1 106.5 166.0 106.8 164.0 107.0 162.1 107.2 160.4 107.5 159.1 107.7 158.2 108.0 157.7 108.2 157.8 108.4 158.2 108.7 158.9 108.9 159.8 109.2 160.9 109.4 162.1 109.6 163.4 109.9 164.8 110.1 166.2 110.4 167.5 110.6 168.8 110.9 169.9 111.1 170.9 111.3 171.7 111.6 172.3 111.8 173.0 112.1 173.7 112.3 174.3 112.5 174.8 112.8 175.3 113.0 175.6 113.3 175.7 113.5 175.7 113.8 175.6 114.0 175.3 114.2 174.9 114.5 174.5 114.7 174.0 115.0 173.6 115.2 173.2 115.4 172.8 115.7 172.6 115.9 172.4 116.2 172.4 116.4 172.4 116.7 172.5 116.9 172.6 117.1 172.7 117.4 172.8 117.6 172.8 117.9 172.9 118.1 173.0 118.3 173.0 118.6 173.1 118.8 173.1 119.1 173.0 119.3 172.9 119.6 172.8 119.8 172.6 120.0 172.4 120.3 172.2 120.5 172.0 120.8 171.7 121.0 171.5 121.2 171.4 121.5 171.2 121.7 171.1 122.0 171.1 122.2 171.1 122.5 171.3 122.7 171.7 122.9 172.1 123.2 172.7 123.4 173.3 123.7 173.9 123.9 174.6 124.1 175.2 124.4 175.8 124.6 176.3 124.9 176.7 125.1 177.0 125.4 177.1 125.6 177.1 125.8 177.0 126.1 176.9 126.3 176.8 126.6 176.6 126.8 176.4 127.0 176.2 127.3 176.0 127.5 175.7 127.8 175.5 128.0 175.2 128.3 174.9 128.5 174.7 128.7 174.4 129.0 174.1 129.2 173.8 129.5 173.5 129.7 173.1 129.9 172.7 130.2 172.3 130.4 171.9 130.7 171.4 130.9 171.0 131.2 170.6 131.4 170.2 131.6 169.8 131.9 169.4 132.1 169.0 132.4 168.6 132.6 168.2 132.8 167.8 133.1 167.4 133.3 167.0 133.6 166.5 133.8 166.1 134.1 165.7 134.3 165.3 134.5 165.0 134.8 164.6 135.0 164.4 135.3 164.1 135.5 163.9 135.7 163.8 136.0 163.7 136.2 163.7 136.5 163.8 136.7 164.0 137.0 164.3 137.2 164.6 137.4 164.9 137.7 165.4 137.9 165.8 138.2 166.3 138.4 166.8 138.6 167.3 138.9 167.9 139.1 168.4 139.4 168.9 139.6 169.5 139.8 169.9 140.1 170.4 140.3 170.9 140.6 171.5 140.8 172.1 141.1 172.7 141.3 173.4 141.5 174.0 141.8 174.5 142.0 175.0 142.3 175.4 142.5 175.7 142.7 175.8 143.0 175.7 143.2 175.6 143.5 175.4 143.7 175.1 144.0 174.8 144.2 174.4 144.4 174.0 144.7 173.6 144.9 173.1 145.2 172.7 145.4 172.3 145.6 172.0 145.9 171.7 146.1 171.4 146.4 171.2 146.6 171.1 146.9 171.1 147.1 171.4 147.3 172.0 147.6 172.7 147.8 173.6 148.1 174.4 148.3 175.1 148.5 175.6 148.8 175.8 149.0 175.6 149.3 175.2 149.5 174.7 149.8 174.0 150.0 173.1 150.2 172.2 150.5 171.3 150.7 170.4 151.0 169.5 151.2 168.7 151.4 168.0 151.7 167.5 151.9 167.1 152.2 167.1 152.4 167.4 152.7 168.1 152.9 169.1 153.1 170.3 153.4 171.7 153.6 173.0 153.9 174.3 154.1 175.4 154.3 176.3 154.6 176.9 154.8 177.1 155.1 176.6 155.3 175.6 155.6 174.2 155.8 172.4 156.0 170.4 156.3 168.3 156.5 166.3 156.8 164.3 157.0 162.7 157.2 161.4 157.5 160.6 157.7 160.4 158.0 161.0 158.2 162.1 158.5 163.8 158.7 165.8 158.9 168.1 159.2 170.3 159.4 172.5 159.7 174.4 159.9 175.9 160.1 176.8 160.4 177.1 160.6 177.0 160.9 176.8 161.1 176.6 161.4 176.2 161.6 175.9 161.8 175.5 162.1 175.2 162.3 174.9 162.6 174.6 162.8 174.5 163.0 174.4 163.3 174.4 163.5 174.4 163.8 174.4 164.0 174.5 164.3 174.5 164.5 174.5 164.7 174.5 165.0 174.5 165.2 174.6 165.5 174.6 165.7 174.6 165.9 174.7 166.2 174.7 166.4 174.7 166.7 174.8 166.9 174.8 167.2 174.9 167.4 174.9 167.6 175.0 167.9 175.0 168.1 175.0 168.4 175.1 168.6 175.1 168.8 175.2 169.1 175.2 169.3 175.3 169.6 175.3 169.8 175.4 170.0 175.4 170.3 175.4 170.5 175.5 170.8 175.5 171.0 175.5 171.3 175.6 171.5 175.6 171.7 175.6 172.0 175.7 172.2 175.7 172.5 175.7 172.7 175.7 172.9 175.7 173.2 175.7 173.4 175.8 173.7 175.8 173.9 175.7 174.2 175.6 174.4 175.4 174.6 175.1 174.9 174.7 175.1 174.3 175.4 173.9 175.6 173.4 175.8 172.9 176.1 172.4 176.3 171.9 176.6 171.2 176.8 170.4 177.1 169.3 177.3 168.0 177.5 166.7 177.8 165.3 178.0 164.0 178.3 162.7 178.5 161.6 178.7 160.7 179.0 160.1 179.2 159.7 179.5 159.8 179.7 160.5 180.0 161.6 180.2 163.1 180.4 164.9 180.7 166.9 180.9 168.9 181.2 171.0 181.4 172.8 181.6 174.5 181.9 175.8 182.1 176.7 182.4 177.1 182.6 176.9 182.9 176.3 183.1 175.3 183.3 174.0 183.6 172.7 183.8 171.2 184.1 169.8 184.3 168.5 184.5 167.5 184.8 166.7 185.0 166.4 185.3 166.5 185.5 166.9 185.8 167.4 186.0 168.2 186.2 169.0 186.5 170.0 186.7 171.0 187.0 172.0 187.2 173.0 187.4 173.9 187.7 174.6 187.9 175.2 188.2 175.6 188.4 175.8 188.7 175.4 188.9 174.6 189.1 173.5 189.4 172.3 189.6 171.2 189.9 170.5 190.1 170.4 190.3 170.7 190.6 171.2 190.8 171.9 191.1 172.7 191.3 173.6 191.6 174.5 191.8 175.4 192.0 176.1 192.3 176.7 192.5 177.0 192.8 177.1 193.0 177.0 193.2 176.9 193.5 176.7 193.7 176.4 194.0 176.1 194.2 175.8 194.5 175.4 194.7 175.0 194.9 174.5 195.2 174.1 195.4 173.6 195.7 173.2 195.9 172.7 196.1 172.3 196.4 171.8 196.6 171.4 196.9 170.9 197.1 170.3 197.4 169.6 197.6 169.0 197.8 168.3 198.1 167.6 198.3 166.9 198.6 166.2 198.8 165.5 199.0 164.9 199.3 164.4 199.5 163.9 199.8 163.5 200.0 163.3 200.2 163.1 200.5 163.1 200.7 163.1 201.0 163.2 201.2 163.4 201.5 163.7 201.7 164.0 201.9 164.4 202.2 164.8 202.4 165.2 202.7 165.6 202.9 166.1 203.1 166.6 203.4 167.1 203.6 167.5 203.9 168.0 204.1 168.5 204.4 168.9 204.6 169.3 204.8 169.8 205.1 170.4 205.3 171.0 205.6 171.6 205.8 172.2 206.0 172.9 206.3 173.5 206.5 174.1 206.8 174.7 207.0 175.3 207.3 175.8 207.5 176.2 207.7 176.6 208.0 176.9 208.2 177.0 208.5 177.1 208.7 177.1 208.9 177.0 209.2 176.8 209.4 176.6 209.7 176.4 209.9 176.2 210.2 175.9 210.4 175.5 210.6 175.2 210.9 174.8 211.1 174.5 211.4 174.1 211.6 173.7 211.8 173.3 212.1 172.9 212.3 172.5 212.6 172.2 212.8 171.8 213.1 171.5 213.3 171.3 213.5 171.0 213.8 170.8 214.0 170.6 214.3 170.5 214.5 170.4 214.7 170.4 215.0 170.5 215.2 170.6 215.5 170.8 215.7 171.0 216.0 171.2 216.2 171.4 216.4 171.7 216.7 172.0 216.9 172.2 217.2 172.4 217.4 172.6 217.6 172.7 217.9 172.8 218.1 172.8 218.4 172.7 218.6 172.6 218.9 172.4 219.1 172.2 219.3 172.0 219.6 171.7 219.8 171.5 220.1 171.3 220.3 171.2 220.5 171.1 220.8 171.1 221.0 171.2 221.3 171.4 221.5 171.7 221.8 172.0 222.0 172.4 222.2 172.8 222.5 173.3 222.7 173.8 223.0 174.3 223.2 174.7 223.4 175.2 223.7 175.6 223.9 175.9 224.2 176.2 224.4 176.3 224.7 176.4 224.9 176.3 225.1 175.8 225.4 175.0 225.6 173.9 225.9 172.6 226.1 171.2 226.3 169.6 226.6 167.9 226.8 166.2 227.1 164.6 227.3 163.0 227.6 161.5 227.8 160.2 228.0 159.1 228.3 158.3 228.5 157.8 228.8 157.7 229.0 158.1 229.2 159.0 229.5 160.4 229.7 162.0 230.0 163.9 230.2 165.9 230.4 168.0 230.7 170.1 230.9 172.0 231.2 173.8 231.4 175.3 231.7 176.4 231.9 177.0 232.1 177.1 232.4 176.6 232.6 175.7 232.9 174.4 233.1 172.8 233.3 171.0 233.6 169.1 233.8 167.2 234.1 165.3 234.3 163.5 234.6 161.9 234.8 160.6 235.0 159.6 235.3 159.1 235.5 159.1 235.8 159.4 236.0 159.9 236.2 160.7 236.5 161.6 236.7 162.6 237.0 163.7 237.2 164.8 237.5 166.0 237.7 167.1 237.9 168.2 238.2 169.1 238.4 169.9 238.7 170.6 238.9 170.9 239.1 171.1 239.4 170.8 239.6 170.1 239.9 169.1 240.1 167.8 240.4 166.3 240.6 164.6 240.8 162.8 241.1 161.0 241.3 159.2 241.6 157.5 241.8 156.0 242.0 154.8 242.3 153.8 242.5 153.2 242.8 153.0 243.0 153.1 243.3 153.3 243.5 153.6 243.7 153.9 244.0 154.4 244.2 154.9 244.5 155.4 244.7 156.0 244.9 156.6 245.2 157.2 245.4 157.8 245.7 158.3 245.9 158.9 246.2 159.4 246.4 159.8 246.6 160.2 246.9 160.5 247.1 160.8 247.4 161.1 247.6 161.3 247.8 161.6 248.1 161.8 248.3 162.0 248.6 162.2 248.8 162.4 249.1 162.6 249.3 162.8 249.5 163.1 249.8 163.4 250.0 163.6 250.3 164.0 250.5 164.3 250.7 164.8 251.0 165.3 251.2 165.8 251.5 166.3 251.7 166.9 252.0 167.5 252.2 168.1 252.4 168.8 252.7 169.4 252.9 170.0 253.2 170.6 253.4 171.1 253.6 171.6 253.9 172.1 254.1 172.5 254.4 172.9 254.6 173.2 254.9 173.5 255.1 173.7 255.3 173.7 255.6 173.7 255.8 173.7 256.1 173.6 256.3 173.4 256.5 173.2 256.8 172.9 257.0 172.7 257.3 172.4 257.5 172.1 257.8 171.8 258.0 171.5 258.2 171.2 258.5 170.9 258.7 170.6 259.0 170.4 259.2 170.1 259.4 170.0 259.7 169.8 259.9 169.8 260.2 169.7 260.4 169.8 260.6 169.9 260.9 170.0 261.1 170.2 261.4 170.4 261.6 170.6 261.9 170.8 262.1 171.0 262.3 171.2 262.6 171.4 262.8 171.6 263.1 171.7 263.3 171.7 263.5 171.7 263.8 171.5 264.0 171.1 264.3 170.7 264.5 170.2 264.8 169.9 265.0 169.7 265.2 169.8 265.5 169.9 265.7 170.2 266.0 170.5 266.2 170.9 266.4 171.3 266.7 171.8 266.9 172.4 267.2 173.0 267.4 173.6 267.7 174.3 267.9 175.0 268.1 175.7 268.4 176.4 268.6 177.2 268.9 177.9 269.1 178.6 269.3 179.3 269.6 180.0 269.8 179.8 270.1 179.0 270.3 178.2 270.6 177.4 270.8 176.4 271.0 175.5 271.3 174.4 271.5 173.4 271.8 172.4 272.0 171.3 272.2 170.2 272.5 169.2 272.7 168.1 273.0 167.1 273.2 166.1 273.5 165.2 273.7 164.3 273.9 163.5 274.2 162.8 274.4 162.1 274.7 161.5 274.9 161.1 275.1 160.7 275.4 160.5 275.6 160.4 275.9 160.5 276.1 160.8 276.4 161.3 276.6 162.0 276.8 162.9 277.1 163.9 277.3 164.9 277.6 166.1 277.8 167.2 278.0 168.4 278.3 169.5 278.5 170.5 278.8 171.4 279.0 172.2 279.3 172.8 279.5 173.2 279.7 173.5 280.0 173.8 280.2 174.1 280.5 174.4 280.7 174.7 280.9 175.0 281.2 175.2 281.4 175.4 281.7 175.5 281.9 175.7 282.2 175.7 282.4 175.8 282.6 175.6 282.9 175.3 283.1 174.9 283.4 174.3 283.6 173.7 283.8 172.9 284.1 172.1 284.3 171.3 284.6 170.5 284.8 169.8 285.1 169.1 285.3 168.3 285.5 167.5 285.8 166.6 286.0 165.6 286.3 164.5 286.5 163.5 286.7 162.5 287.0 161.5 287.2 160.5 287.5 159.6 287.7 158.8 288.0 158.2 288.2 157.6 288.4 157.3 288.7 157.1 288.9 157.1 289.2 157.4 289.4 158.1 289.6 158.9 289.9 160.0 290.1 161.2 290.4 162.6 290.6 164.1 290.8 165.6 291.1 167.1 291.3 168.6 291.6 170.0 291.8 171.4 292.1 172.6 292.3 173.6 292.5 174.3 292.8 174.9 293.0 175.1 293.3 174.9 293.5 174.3 293.7 173.5 294.0 172.4 294.2 171.3 294.5 170.3 294.7 169.6 295.0 169.1 295.2 169.1 295.4 169.3 295.7 169.6 295.9 170.0 296.2 170.5 296.4 171.2 296.6 171.8 296.9 172.5 297.1 173.3 297.4 174.0 297.6 174.7 297.9 175.3 298.1 175.9 298.3 176.4 298.6 176.8 298.8 177.0 299.1 177.1 299.3 177.1 299.5 176.9 299.8 176.8 300.0 176.5 300.3 176.2 300.5 175.9 300.8 175.6 301.0 175.2 301.2 174.9 301.5 174.5 301.7 174.2 302.0 173.8 302.2 173.6 302.4 173.4 302.7 173.2 302.9 173.1 303.2 173.1 303.4 173.2 303.7 173.3 303.9 173.5 304.1 173.8 304.4 174.1 304.6 174.5 304.9 174.9 305.1 175.4 305.3 175.9 305.6 176.4 305.8 177.0 306.1 177.6 306.3 178.2 306.6 178.8 306.8 179.4 307.0 180.1 307.3 179.7 307.5 178.8 307.8 177.7 308.0 176.5 308.2 175.2 308.5 173.8 308.7 172.3 309.0 170.8 309.2 169.4 309.5 168.0 309.7 166.6 309.9 165.4 310.2 164.4 310.4 163.5 310.7 162.9 310.9 162.5 311.1 162.4 311.4 162.6 311.6 163.0 311.9 163.7 312.1 164.5 312.4 165.4 312.6 166.4 312.8 167.4 313.1 168.3 313.3 169.2 313.6 169.9 313.8 170.5 314.0 170.9 314.3 171.4 314.5 171.8 314.8 172.3 315.0 172.7 315.3 173.2 315.5 173.6 315.7 174.0 316.0 174.3 316.2 174.6 316.5 174.9 316.7 175.2 316.9 175.4 317.2 175.6 317.4 175.7 317.7 175.7 317.9 175.7 318.2 175.7 318.4 175.6 318.6 175.4 318.9 175.1 319.1 174.9 319.4 174.5 319.6 174.2 319.8 173.7 320.1 173.3 320.3 172.8 320.6 172.3 320.8 171.8 321.0 171.3 321.3 170.7 321.5 170.2 321.8 169.6 322.0 169.0 322.3 168.3 322.5 167.4 322.7 166.3 323.0 165.1 323.2 163.7 323.5 162.2 323.7 160.7 323.9 159.2 324.2 157.8 324.4 156.4 324.7 155.0 324.9 153.8 325.2 152.8 325.4 152.0 325.6 151.4 325.9 151.1 326.1 151.1 326.4 151.5 326.6 152.3 326.8 153.5 327.1 154.9 327.3 156.5 327.6 158.4 327.8 160.3 328.1 162.2 328.3 164.2 328.5 166.1 328.8 167.8 329.0 169.4 329.3 170.8 329.5 171.8 329.7 172.5 330.0 172.8 330.2 172.7 330.5 172.4 330.7 171.9 331.0 171.3 331.2 170.4 331.4 169.5 331.7 168.5 331.9 167.4 332.2 166.2 332.4 165.1 332.6 163.9 332.9 162.8 333.1 161.7 333.4 160.7 333.6 159.8 333.9 159.0 334.1 158.4 334.3 158.0 334.6 157.7 334.8 157.7 335.1 157.7 335.3 157.8 335.5 157.8 335.8 157.9 336.0 158.0 336.3 158.1 336.5 158.2 336.8 158.3 337.0 158.4 337.2 158.6 337.5 158.8 337.7 158.9 338.0 159.1 338.2 159.3 338.4 159.5 338.7 159.7 338.9 159.9 339.2 160.2 339.4 160.4 339.7 160.6 339.9 160.9 340.1 161.2 340.4 161.6 340.6 162.1 340.9 162.8 341.1 163.6 341.3 164.5 341.6 165.4 341.8 166.4 342.1 167.3 342.3 168.3 342.6 169.2 342.8 170.0 343.0 170.8 343.3 171.4 343.5 171.9 343.8 172.3 344.0 172.4 344.2 172.3 344.5 172.1 344.7 171.6 345.0 171.1 345.2 170.4 345.5 169.6 345.7 168.8 345.9 168.1 346.2 167.3 346.4 166.6 346.7 166.0 346.9 165.5 347.1 165.2 347.4 165.1 347.6 165.1 347.9 165.2 348.1 165.4 348.4 165.7 348.6 166.1 348.8 166.5 349.1 166.9 349.3 167.4 349.6 167.9 349.8 168.4 350.0 168.9 350.3 169.4 350.5 170.0 350.8 170.5 351.0 171.0 351.2 171.5 351.5 172.1 351.7 172.7 352.0 173.4 352.2 174.1 352.5 174.8 352.7 175.5 352.9 176.2 353.2 177.0 353.4 177.9 353.7 178.7 353.9 179.6 354.1 179.9 354.4 178.7 354.6 177.3 354.9 175.7 355.1 174.1 355.4 172.7 355.6 171.5 355.8 170.7 356.1 170.4 356.3 170.5 356.6 170.8 356.8 171.2 357.0 171.7 357.3 172.4 357.5 173.1 357.8 174.0 358.0 174.9 358.3 175.8 358.5 176.7 358.7 177.7 359.0 178.6 359.2 179.5 359.5 180.1 359.7 179.2 359.9 178.1 360.2 177.0 360.4 175.8 360.7 174.6 360.9 173.3 361.2 172.0 361.4 170.8 361.6 169.6 361.9 168.4 362.1 167.4 362.4 166.5 362.6 165.7 362.8 165.1 363.1 164.6 363.3 164.4 363.6 164.4 363.8 164.7 364.1 165.1 364.3 165.7 364.5 166.5 364.8 167.4 365.0 168.3 365.3 169.3 365.5 170.4 365.7 171.4 366.0 172.4 366.2 173.4 366.5 174.3 366.7 175.0 367.0 175.7 367.2 176.1 367.4 176.4 367.7 176.6 367.9 176.7 368.2 176.9 368.4 177.0 368.6 177.2 368.9 177.3 369.1 177.4 369.4 177.5 369.6 177.6 369.9 177.6 370.1 177.7 370.3 177.7 370.6 177.8 370.8 177.8 371.1 177.7 371.3 177.7 371.5 177.6 371.8 177.6 372.0 177.5 372.3 177.3 372.5 177.2 372.8 177.1 373.0 176.9 373.2 176.8 373.5 176.6 373.7 176.5 374.0 176.3 374.2 176.1 374.4 176.0 374.7 175.8 374.9 175.7 375.2 175.5 375.4 175.4 375.7 175.2 375.9 175.0 376.1 174.9 376.4 174.7 376.6 174.5 376.9 174.4 377.1 174.2 377.3 174.0 377.6 173.8 377.8 173.6 378.1 173.3 378.3 173.1 378.6 172.9 378.8 172.5 379.0 172.2 379.3 171.8 379.5 171.4 379.8 171.0 380.0 170.6 380.2 170.3 380.5 170.0 380.7 169.8 381.0 169.7 381.2 169.8 381.4 169.9 381.7 170.1 381.9 170.5 382.2 170.8 382.4 171.2 382.7 171.7 382.9 172.2 383.1 172.7 383.4 173.1 383.6 173.6 383.9 174.0 384.1 174.4 384.3 174.7 384.6 174.9 384.8 175.1 385.1 175.1 385.3 175.0 385.6 174.9 385.8 174.8 386.0 174.6 386.3 174.4 386.5 174.1 386.8 173.8 387.0 173.6 387.2 173.3 387.5 173.0 387.7 172.8 388.0 172.5 388.2 172.3 388.5 172.2 388.7 172.1 388.9 172.0 389.2 172.0 389.4 172.2 389.7 172.5 389.9 172.9 390.1 173.4 390.4 173.9 390.6 174.6 390.9 175.2 391.1 175.9 391.4 176.7 391.6 177.4 391.8 178.1 392.1 178.8 392.3 179.4 392.6 180.0 392.8 179.8 393.0 179.3 393.3 178.7 393.5 178.1 393.8 177.4 394.0 176.8 394.3 176.2 394.5 175.6 394.7 175.0 395.0 174.5 395.2 174.0 395.5 173.5 395.7 173.1 395.9 172.8 396.2 172.6 396.4 172.4 396.7 172.2 396.9 172.1 397.2 172.0 397.4 171.9 397.6 171.8 397.9 171.7 398.1 171.6 398.4 171.5 398.6 171.4 398.8 171.3 399.1 171.2 399.3 171.2 399.6 171.1 399.8 171.1 400.1 171.1 400.3 171.1 400.5 171.2 400.8 171.7 401.0 172.6 401.3 173.8 401.5 175.1 401.7 176.6 402.0 178.0 402.2 179.4 402.5 179.9 402.7 178.7 403.0 177.5 403.2 176.2 403.4 174.8 403.7 173.4 403.9 172.0 404.2 170.6 404.4 169.1 404.6 167.7 404.9 166.3 405.1 165.0 405.4 163.7 405.6 162.4 405.9 161.3 406.1 160.2 406.3 159.2 406.6 158.4 406.8 157.7 407.1 157.1 407.3 156.7 407.5 156.4 407.8 156.4 408.0 156.6 408.3 157.0 408.5 157.6 408.8 158.4 409.0 159.4 409.2 160.6 409.5 161.9 409.7 163.3 410.0 164.7 410.2 166.3 410.4 167.9 410.7 169.5 410.9 171.2 411.2 172.8 411.4 174.4 411.6 175.9 411.9 177.4 412.1 178.8 412.4 180.0 412.6 179.2 412.9 178.0 413.1 176.6 413.3 175.2 413.6 173.8 413.8 172.4 414.1 170.9 414.3 169.6 414.5 168.2 414.8 167.0 415.0 165.9 415.3 164.8 415.5 164.0 415.8 163.3 416.0 162.8 416.2 162.5 416.5 162.4 416.7 162.6 417.0 163.0 417.2 163.5 417.4 164.3 417.7 165.2 417.9 166.2 418.2 167.4 418.4 168.6 418.7 169.8 418.9 171.1 419.1 172.4 419.4 173.7 419.6 174.9 419.9 176.1 420.1 177.2 420.3 178.1 420.6 179.0 420.8 179.7 421.1 180.1 421.3 179.9 421.6 179.5 421.8 179.2 422.0 178.9 422.3 178.6 422.5 178.4 422.8 178.1 423.0 177.9 423.2 177.6 423.5 177.4 423.7 177.2 424.0 177.0 424.2 176.8 424.5 176.7 424.7 176.5 424.9 176.3 425.2 176.2 425.4 176.0 425.7 175.8 425.9 175.7 426.1 175.5 426.4 175.4 426.6 175.3 426.9 175.2 427.1 175.0 427.4 174.9 427.6 174.8 427.8 174.7 428.1 174.6 428.3 174.5 428.6 174.4 428.8 174.3 429.0 174.2 429.3 174.1 429.5 173.9 429.8 173.8 430.0 173.6 430.3 173.4 430.5 173.2 430.7 172.9 431.0 172.6 431.2 172.3 431.5 172.0 431.7 171.7 431.9 171.4 432.2 171.1 432.4 170.8 432.7 170.5 432.9 170.2 433.2 169.9 433.4 169.7 433.6 169.5 433.9 169.3 434.1 169.2 434.4 169.1 434.6 169.1 434.8 169.1 435.1 169.4 435.3 169.9 435.6 170.5 435.8 171.2 436.1 172.0 436.3 172.9 436.5 173.8 436.8 174.6 437.0 175.4 437.3 176.0 437.5 176.6 437.7 176.9 438.0 177.1 438.2 177.0 438.5 176.8 438.7 176.5 439.0 176.0 439.2 175.6 439.4 175.0 439.7 174.5 439.9 174.0 440.2 173.6 440.4 173.3 440.6 173.1 440.9 173.0 441.1 172.9 441.4 172.9 441.6 172.8 441.8 172.8 442.1 172.8 442.3 172.7 442.6 172.7 442.8 172.7 443.1 172.6 443.3 172.6 443.5 172.5 443.8 172.5 444.0 172.4 444.3 172.3 444.5 172.2 444.7 172.1 445.0 171.9 445.2 171.8 445.5 171.6 445.7 171.4 446.0 171.2 446.2 171.1 446.4 170.9 446.7 170.7 446.9 170.6 447.2 170.5 447.4 170.4 447.6 170.3 447.9 170.2 448.1 170.1 448.4 170.1 448.6 170.0 448.9 169.9 449.1 169.9 449.3 169.8 449.6 169.8 449.8 169.7 450.1 169.7 450.3 169.8 450.5 169.8 450.8 169.9 451.0 170.0 451.3 170.1 451.5 170.2 451.8 170.4 452.0 170.6 452.2 170.8 452.5 171.0 452.7 171.2 453.0 171.4 453.2 171.6 453.4 171.8 453.7 172.1 453.9 172.5 454.2 172.9 454.4 173.4 454.7 173.9 454.9 174.4 455.1 175.0 455.4 175.5 455.6 175.9 455.9 176.3 456.1 176.7 456.3 176.9 456.6 177.1 456.8 177.0 457.1 176.6 457.3 175.8 457.6 174.7 457.8 173.4 458.0 171.9 458.3 170.2 458.5 168.6 458.8 166.9 459.0 165.4 459.2 164.1 459.5 163.0 459.7 162.2 460.0 161.8 460.2 161.8 460.5 162.2 460.7 163.0 460.9 164.1 461.2 165.3 461.4 166.8 461.7 168.2 461.9 169.8 462.1 171.2 462.4 172.6 462.6 173.8 462.9 174.8 463.1 175.4 463.4 175.7 463.6 175.7 463.8 175.4 464.1 174.9 464.3 174.3 464.6 173.6 464.8 172.7 465.0 171.9 465.3 171.0 465.5 170.2 465.8 169.4 466.0 168.7 466.3 168.2 466.5 167.9 466.7 167.7 467.0 167.7 467.2 167.7 467.5 167.7 467.7 167.7 467.9 167.7 468.2 167.7 468.4 167.7 468.7 167.7 468.9 167.7 469.2 167.7 469.4 167.7 469.6 167.7 469.9 167.7 470.1 167.7 470.4 167.9 470.6 168.3 470.8 168.9 471.1 169.7 471.3 170.6 471.6 171.6 471.8 172.6 472.0 173.6 472.3 174.6 472.5 175.4 472.8 176.1 473.0 176.7 473.3 177.0 473.5 177.1 473.7 176.8 474.0 176.2 474.2 175.3 474.5 174.2 474.7 173.0 474.9 171.6 475.2 170.2 475.4 168.9 475.7 167.6 475.9 166.5 476.2 165.5 476.4 164.8 476.6 164.5 476.9 164.4 477.1 164.9 477.4 165.7 477.6 166.9 477.8 168.2 478.1 169.6 478.3 171.1 478.6 172.4 478.8 173.6 479.1 174.5 479.3 175.0 479.5 175.0 479.8 174.5 480.0 173.4 480.3 171.9 480.5 170.2 480.7 168.3 481.0 166.5 481.2 164.7 481.5 163.1 481.7 161.9 482.0 161.2 482.2 161.1 482.4 161.2 482.7 161.4 482.9 161.7 483.2 162.0 483.4 162.5 483.6 162.9 483.9 163.4 484.1 163.9 484.4 164.3 484.6 164.7 484.9 165.1 485.1 165.4 485.3 165.6 485.6 165.7 485.8 165.7 486.1 165.7 486.3 165.5 486.5 165.4 486.8 165.2 487.0 165.0 487.3 164.8 487.5 164.6 487.8 164.4 488.0 164.2 488.2 164.0 488.5 163.9 488.7 163.8 489.0 163.7 489.2 163.8 489.4 164.1 489.7 164.7 489.9 165.4 490.2 166.3 490.4 167.3 490.7 168.4 490.9 169.5 491.1 170.7 491.4 171.8 491.6 172.9 491.9 173.9 492.1 174.7 492.3 175.5 492.6 176.0 492.8 176.3 493.1 176.4 493.3 176.1 493.6 175.4 493.8 174.4 494.0 173.1 494.3 171.6 494.5 169.9 494.8 168.1 495.0 166.2 495.2 164.4 495.5 162.5 495.7 160.8 496.0 159.3 496.2 157.9 496.5 156.9 496.7 156.1 496.9 155.7 497.2 155.8 497.4 156.2 497.7 157.0 497.9 158.0 498.1 159.2 498.4 160.7 498.6 162.3 498.9 163.9 499.1 165.6 499.4 167.3 499.6 168.9 499.8 170.4 500.1 171.7 500.3 172.8 500.6 173.7 500.8 174.2 501.0 174.4 501.3 174.4 501.5 174.3 501.8 174.1 502.0 174.0 502.2 173.7 502.5 173.4 502.7 173.1 503.0 172.8 503.2 172.5 503.5 172.1 503.7 171.8 503.9 171.3 504.2 170.6 504.4 169.8 504.7 168.9 504.9 167.9 505.1 166.8 505.4 165.7 505.6 164.7 505.9 163.7 506.1 162.8 506.4 162.1 506.6 161.5 506.8 161.2 507.1 161.1 507.3 161.3 507.6 161.8 507.8 162.6 508.0 163.7 508.3 164.9 508.5 166.3 508.8 167.9 509.0 169.5 509.3 171.1 509.5 172.7 509.7 174.3 510.0 175.8 510.2 177.1 510.5 178.3 510.7 179.3 510.9 180.0 511.2 180.0 511.4 179.6 511.7 179.3 511.9 179.1 512.2 178.8 512.4 178.6 512.6 178.4 512.9 178.2 513.1 177.9 513.4 177.6 513.6 177.3 513.8 176.9 514.1 176.3 514.3 175.5 514.6 174.5 514.8 173.5 515.1 172.3 515.3 171.1 515.5 169.9 515.8 168.7 516.0 167.5 516.3 166.3 516.5 165.3 516.7 164.3 517.0 163.6 517.2 163.0 517.5 162.6 517.7 162.4 518.0 162.5 518.2 162.9 518.4 163.5 518.7 164.2 518.9 165.2 519.2 166.2 519.4 167.4 519.6 168.6 519.9 169.8 520.1 171.0 520.4 172.1 520.6 173.1 520.9 174.0 521.1 174.8 521.3 175.4 521.6 175.7 521.8 175.7 522.1 175.6 522.3 175.3 522.5 174.9 522.8 174.4 523.0 173.7 523.3 173.0 523.5 172.2 523.8 171.4 524.0 170.6 524.2 169.7 524.5 168.9 524.7 167.8 525.0 166.4 525.2 164.8 525.4 163.1 525.7 161.2 525.9 159.3 526.2 157.4 526.4 155.5 526.7 153.9 526.9 152.4 527.1 151.2 527.4 150.3 527.6 149.8 527.9 149.7 528.1 149.9 528.3 150.2 528.6 150.8 528.8 151.6 529.1 152.5 529.3 153.7 529.6 155.0 529.8 156.5 530.0 158.3 530.3 160.2 530.5 162.4 530.8 164.7 531.0 167.2" fill="none" stroke="#ff0000" stroke-width="1" stroke-linejoin="round"/><path d="M47.8 157.4h0M48.3 158.6h0M48.5 159.4h0M48.8 160.4h0M49.0 161.4h0M49.2 162.4h0M49.5 163.4h0M49.7 164.4h0M50.0 165.3h0M50.2 166.1h0M50.7 167.3h0M51.2 168.6h0M51.7 169.7h0M52.1 170.3h0M52.9 170.3h0M53.6 169.8h0M54.3 169.3h0M55.0 169.1h0M55.8 169.8h0M56.3 170.7h0M56.7 171.9h0M57.2 173.0h0M57.7 173.9h0M58.4 174.4h0M58.9 173.4h0M59.2 172.4h0M59.4 171.2h0M59.6 169.8h0M59.9 168.4h0M60.1 166.9h0M60.4 165.4h0M60.6 163.9h0M60.8 162.7h0M61.1 161.6h0M61.3 160.9h0M62.1 160.6h0M62.5 161.6h0M62.8 162.3h0M63.0 163.2h0M63.3 164.2h0M63.5 165.2h0M63.7 166.2h0M64.0 167.3h0M64.2 168.4h0M64.5 169.5h0M64.7 170.5h0M65.0 171.4h0M65.2 172.3h0M65.4 173.1h0M65.7 174.0h0M65.9 174.9h0M66.2 175.8h0M66.4 176.6h0M66.6 177.5h0M66.9 178.4h0M67.1 179.2h0M67.4 179.9h0M67.9 178.9h0M68.1 178.0h0M68.3 177.2h0M68.6 176.3h0M68.8 175.4h0M69.1 174.6h0M69.3 173.8h0M69.5 173.0h0M69.8 172.3h0M70.3 171.2h0M70.8 170.5h0M71.5 170.5h0M72.2 171.2h0M72.7 171.7h0M73.4 172.3h0M74.1 172.3h0M74.9 171.7h0M75.3 171.1h0M75.8 170.6h0M76.6 169.9h0M77.3 169.8h0M78.0 170.5h0M78.5 171.3h0M79.0 172.1h0M79.4 172.9h0M79.9 173.5h0M80.7 173.6h0M81.1 172.9h0M81.6 171.6h0M81.9 170.8h0M82.1 170.0h0M82.3 169.0h0M82.6 168.1h0M82.8 167.1h0M83.1 166.1h0M83.3 165.2h0M83.6 164.3h0M83.8 163.4h0M84.0 162.7h0M84.5 161.6h0M85.2 161.1h0M86.0 161.7h0M86.5 162.4h0M86.9 163.1h0M87.7 163.7h0M88.4 163.2h0M88.9 162.2h0M89.4 160.9h0M89.8 159.7h0M90.3 158.6h0M90.8 157.7h0M91.3 156.8h0M91.8 155.9h0M92.3 155.1h0M92.7 154.4h0M93.5 153.8h0M94.2 153.9h0M94.7 154.5h0M95.2 155.5h0M95.6 156.7h0M95.9 157.4h0M96.1 158.7h0M96.4 160.5h0M96.6 162.7h0M96.8 165.0h0M97.1 167.1h0M97.3 168.8h0M97.6 170.0h0M98.3 169.7h0M98.5 168.9h0M98.8 167.9h0M99.0 166.8h0M99.3 165.6h0M99.5 164.3h0M99.7 163.1h0M100.0 161.9h0M100.2 160.9h0M100.5 160.1h0M101.0 159.1h0M101.7 160.4h0M101.9 161.6h0M102.2 163.0h0M102.4 164.6h0M102.6 166.4h0M102.9 168.2h0M103.1 170.0h0M103.4 171.7h0M103.6 173.3h0M103.9 174.7h0M104.1 175.8h0M104.3 176.6h0M105.1 176.4h0M105.3 175.3h0M105.5 173.9h0M105.8 172.1h0M106.0 170.2h0M106.3 168.1h0M106.5 166.0h0M106.8 164.0h0M107.0 162.1h0M107.2 160.4h0M107.5 159.1h0M107.7 158.2h0M108.4 158.2h0M108.7 158.9h0M108.9 159.8h0M109.2 160.9h0M109.4 162.1h0M109.6 163.4h0M109.9 164.8h0M110.1 166.2h0M110.4 167.5h0M110.6 168.8h0M110.9 169.9h0M111.1 170.9h0M111.3 171.7h0M111.8 173.0h0M112.3 174.3h0M112.8 175.3h0M113.5 175.7h0M114.2 174.9h0M114.7 174.0h0M115.2 173.2h0M115.7 172.6h0M116.4 172.4h0M117.1 172.7h0M117.9 172.9h0M118.6 173.1h0M119.3 172.9h0M120.0 172.4h0M120.8 171.7h0M121.5 171.2h0M122.2 171.1h0M122.7 171.7h0M123.2 172.7h0M123.7 173.9h0M124.1 175.2h0M124.6 176.3h0M125.1 177.0h0M125.8 177.0h0M126.6 176.6h0M127.3 176.0h0M127.8 175.5h0M128.3 174.9h0M128.7 174.4h0M129.2 173.8h0M129.7 173.1h0M130.2 172.3h0M130.7 171.4h0M131.2 170.6h0M131.6 169.8h0M132.1 169.0h0M132.6 168.2h0M133.1 167.4h0M133.6 166.5h0M134.1 165.7h0M134.5 165.0h0M135.0 164.4h0M135.7 163.8h0M136.5 163.8h0M137.2 164.6h0M137.7 165.4h0M138.2 166.3h0M138.6 167.3h0M139.1 168.4h0M139.6 169.5h0M140.1 170.4h0M140.6 171.5h0M141.1 172.7h0M141.5 174.0h0M142.0 175.0h0M142.5 175.7h0M143.2 175.6h0M144.0 174.8h0M144.4 174.0h0M144.9 173.1h0M145.4 172.3h0M145.9 171.7h0M146.6 171.1h0M147.3 172.0h0M147.6 172.7h0M147.8 173.6h0M148.1 174.4h0M148.3 175.1h0M148.8 175.8h0M149.3 175.2h0M149.8 174.0h0M150.0 173.1h0M150.2 172.2h0M150.5 171.3h0M150.7 170.4h0M151.0 169.5h0M151.2 168.7h0M151.4 168.0h0M151.9 167.1h0M152.7 168.1h0M152.9 169.1h0M153.1 170.3h0M153.4 171.7h0M153.6 173.0h0M153.9 174.3h0M154.1 175.4h0M154.3 176.3h0M154.8 177.1h0M155.3 175.6h0M155.6 174.2h0M155.8 172.4h0M156.0 170.4h0M156.3 168.3h0M156.5 166.3h0M156.8 164.3h0M157.0 162.7h0M157.2 161.4h0M157.5 160.6h0M158.2 162.1h0M158.5 163.8h0M158.7 165.8h0M158.9 168.1h0M159.2 170.3h0M159.4 172.5h0M159.7 174.4h0M159.9 175.9h0M160.1 176.8h0M160.9 176.8h0M161.4 176.2h0M161.8 175.5h0M162.3 174.9h0M163.0 174.4h0M163.8 174.4h0M164.5 174.5h0M165.2 174.6h0M165.9 174.7h0M166.7 174.8h0M167.4 174.9h0M168.1 175.0h0M168.8 175.2h0M169.6 175.3h0M170.3 175.4h0M171.0 175.5h0M171.7 175.6h0M172.5 175.7h0M173.2 175.7h0M173.9 175.7h0M174.6 175.1h0M175.1 174.3h0M175.6 173.4h0M176.1 172.4h0M176.6 171.2h0M176.8 170.4h0M177.1 169.3h0M177.3 168.0h0M177.5 166.7h0M177.8 165.3h0M178.0 164.0h0M178.3 162.7h0M178.5 161.6h0M178.7 160.7h0M179.2 159.7h0M179.7 160.5h0M180.0 161.6h0M180.2 163.1h0M180.4 164.9h0M180.7 166.9h0M180.9 168.9h0M181.2 171.0h0M181.4 172.8h0M181.6 174.5h0M181.9 175.8h0M182.1 176.7h0M182.9 176.3h0M183.1 175.3h0M183.3 174.0h0M183.6 172.7h0M183.8 171.2h0M184.1 169.8h0M184.3 168.5h0M184.5 167.5h0M184.8 166.7h0M185.5 166.9h0M186.0 168.2h0M186.2 169.0h0M186.5 170.0h0M186.7 171.0h0M187.0 172.0h0M187.2 173.0h0M187.4 173.9h0M187.7 174.6h0M188.2 175.6h0M188.9 174.6h0M189.1 173.5h0M189.4 172.3h0M189.6 171.2h0M189.9 170.5h0M190.6 171.2h0M190.8 171.9h0M191.1 172.7h0M191.3 173.6h0M191.6 174.5h0M191.8 175.4h0M192.0 176.1h0M192.5 177.0h0M193.2 176.9h0M194.0 176.1h0M194.5 175.4h0M194.9 174.5h0M195.4 173.6h0M195.9 172.7h0M196.4 171.8h0M196.9 170.9h0M197.4 169.6h0M197.6 169.0h0M197.8 168.3h0M198.1 167.6h0M198.3 166.9h0M198.6 166.2h0M199.0 164.9h0M199.5 163.9h0M200.0 163.3h0M200.7 163.1h0M201.5 163.7h0M201.9 164.4h0M202.4 165.2h0M202.9 166.1h0M203.4 167.1h0M203.9 168.0h0M204.4 168.9h0M204.8 169.8h0M205.3 171.0h0M205.8 172.2h0M206.3 173.5h0M206.8 174.7h0M207.3 175.8h0M207.7 176.6h0M208.5 177.1h0M209.2 176.8h0M209.9 176.2h0M210.4 175.5h0M210.9 174.8h0M211.4 174.1h0M211.8 173.3h0M212.3 172.5h0M212.8 171.8h0M213.3 171.3h0M214.0 170.6h0M214.7 170.4h0M215.5 170.8h0M216.2 171.4h0M216.7 172.0h0M217.4 172.6h0M218.1 172.8h0M218.9 172.4h0M219.6 171.7h0M220.3 171.2h0M221.0 171.2h0M221.8 172.0h0M222.2 172.8h0M222.7 173.8h0M223.2 174.7h0M223.7 175.6h0M224.2 176.2h0M224.9 176.3h0M225.4 175.0h0M225.6 173.9h0M225.9 172.6h0M226.1 171.2h0M226.3 169.6h0M226.6 167.9h0M226.8 166.2h0M227.1 164.6h0M227.3 163.0h0M227.6 161.5h0M227.8 160.2h0M228.0 159.1h0M228.3 158.3h0M228.8 157.7h0M229.2 159.0h0M229.5 160.4h0M229.7 162.0h0M230.0 163.9h0M230.2 165.9h0M230.4 168.0h0M230.7 170.1h0M230.9 172.0h0M231.2 173.8h0M231.4 175.3h0M231.7 176.4h0M232.1 177.1h0M232.6 175.7h0M232.9 174.4h0M233.1 172.8h0M233.3 171.0h0M233.6 169.1h0M233.8 167.2h0M234.1 165.3h0M234.3 163.5h0M234.6 161.9h0M234.8 160.6h0M235.0 159.6h0M235.5 159.1h0M236.0 159.9h0M236.2 160.7h0M236.5 161.6h0M236.7 162.6h0M237.0 163.7h0M237.2 164.8h0M237.5 166.0h0M237.7 167.1h0M237.9 168.2h0M238.2 169.1h0M238.4 169.9h0M238.9 170.9h0M239.6 170.1h0M239.9 169.1h0M240.1 167.8h0M240.4 166.3h0M240.6 164.6h0M240.8 162.8h0M241.1 161.0h0M241.3 159.2h0M241.6 157.5h0M241.8 156.0h0M242.0 154.8h0M242.3 153.8h0M242.8 153.0h0M243.5 153.6h0M244.0 154.4h0M244.5 155.4h0M244.9 156.6h0M245.4 157.8h0M245.9 158.9h0M246.4 159.8h0M246.9 160.5h0M247.4 161.1h0M248.1 161.8h0M248.8 162.4h0M249.5 163.1h0M250.0 163.6h0M250.5 164.3h0M251.0 165.3h0M251.5 166.3h0M252.0 167.5h0M252.4 168.8h0M252.9 170.0h0M253.4 171.1h0M253.9 172.1h0M254.4 172.9h0M254.9 173.5h0M255.6 173.7h0M256.3 173.4h0M257.0 172.7h0M257.5 172.1h0M258.0 171.5h0M258.5 170.9h0M259.0 170.4h0M259.7 169.8h0M260.4 169.8h0M261.1 170.2h0M261.9 170.8h0M262.6 171.4h0M263.3 171.7h0M264.0 171.1h0M264.5 170.2h0M265.2 169.8h0M266.0 170.5h0M266.4 171.3h0M266.9 172.4h0M267.4 173.6h0M267.7 174.3h0M267.9 175.0h0M268.1 175.7h0M268.4 176.4h0M268.6 177.2h0M268.9 177.9h0M269.1 178.6h0M269.3 179.3h0M269.6 180.0h0M270.1 179.0h0M270.3 178.2h0M270.6 177.4h0M270.8 176.4h0M271.0 175.5h0M271.3 174.4h0M271.5 173.4h0M271.8 172.4h0M272.0 171.3h0M272.2 170.2h0M272.5 169.2h0M272.7 168.1h0M273.0 167.1h0M273.2 166.1h0M273.5 165.2h0M273.7 164.3h0M273.9 163.5h0M274.2 162.8h0M274.7 161.5h0M275.1 160.7h0M275.9 160.5h0M276.4 161.3h0M276.6 162.0h0M276.8 162.9h0M277.1 163.9h0M277.3 164.9h0M277.6 166.1h0M277.8 167.2h0M278.0 168.4h0M278.3 169.5h0M278.5 170.5h0M278.8 171.4h0M279.0 172.2h0M279.5 173.2h0M280.0 173.8h0M280.5 174.4h0M280.9 175.0h0M281.7 175.5h0M282.4 175.8h0M283.1 174.9h0M283.6 173.7h0M283.8 172.9h0M284.1 172.1h0M284.3 171.3h0M284.6 170.5h0M284.8 169.8h0M285.1 169.1h0M285.3 168.3h0M285.5 167.5h0M285.8 166.6h0M286.0 165.6h0M286.3 164.5h0M286.5 163.5h0M286.7 162.5h0M287.0 161.5h0M287.2 160.5h0M287.5 159.6h0M287.7 158.8h0M288.0 158.2h0M288.4 157.3h0M289.2 157.4h0M289.6 158.9h0M289.9 160.0h0M290.1 161.2h0M290.4 162.6h0M290.6 164.1h0M290.8 165.6h0M291.1 167.1h0M291.3 168.6h0M291.6 170.0h0M291.8 171.4h0M292.1 172.6h0M292.3 173.6h0M292.5 174.3h0M293.0 175.1h0M293.5 174.3h0M293.7 173.5h0M294.0 172.4h0M294.2 171.3h0M294.5 170.3h0M294.7 169.6h0M295.4 169.3h0M295.9 170.0h0M296.4 171.2h0M296.6 171.8h0M296.9 172.5h0M297.1 173.3h0M297.4 174.0h0M297.6 174.7h0M298.1 175.9h0M298.6 176.8h0M299.3 177.1h0M300.0 176.5h0M300.5 175.9h0M301.0 175.2h0M301.5 174.5h0M302.0 173.8h0M302.7 173.2h0M303.4 173.2h0M304.1 173.8h0M304.6 174.5h0M305.1 175.4h0M305.6 176.4h0M306.1 177.6h0M306.6 178.8h0M307.0 180.1h0M307.5 178.8h0M307.8 177.7h0M308.0 176.5h0M308.2 175.2h0M308.5 173.8h0M308.7 172.3h0M309.0 170.8h0M309.2 169.4h0M309.5 168.0h0M309.7 166.6h0M309.9 165.4h0M310.2 164.4h0M310.4 163.5h0M310.9 162.5h0M311.6 163.0h0M312.1 164.5h0M312.4 165.4h0M312.6 166.4h0M312.8 167.4h0M313.1 168.3h0M313.3 169.2h0M313.6 169.9h0M314.0 170.9h0M314.5 171.8h0M315.0 172.7h0M315.5 173.6h0M316.0 174.3h0M316.5 174.9h0M317.2 175.6h0M317.9 175.7h0M318.6 175.4h0M319.1 174.9h0M319.6 174.2h0M320.1 173.3h0M320.6 172.3h0M321.0 171.3h0M321.5 170.2h0M322.0 169.0h0M322.3 168.3h0M322.5 167.4h0M322.7 166.3h0M323.0 165.1h0M323.2 163.7h0M323.5 162.2h0M323.7 160.7h0M323.9 159.2h0M324.2 157.8h0M324.4 156.4h0M324.7 155.0h0M324.9 153.8h0M325.2 152.8h0M325.4 152.0h0M325.9 151.1h0M326.6 152.3h0M326.8 153.5h0M327.1 154.9h0M327.3 156.5h0M327.6 158.4h0M327.8 160.3h0M328.1 162.2h0M328.3 164.2h0M328.5 166.1h0M328.8 167.8h0M329.0 169.4h0M329.3 170.8h0M329.5 171.8h0M329.7 172.5h0M330.5 172.4h0M331.0 171.3h0M331.2 170.4h0M331.4 169.5h0M331.7 168.5h0M331.9 167.4h0M332.2 166.2h0M332.4 165.1h0M332.6 163.9h0M332.9 162.8h0M333.1 161.7h0M333.4 160.7h0M333.6 159.8h0M333.9 159.0h0M334.3 158.0h0M335.1 157.7h0M335.8 157.9h0M336.5 158.2h0M337.2 158.6h0M338.0 159.1h0M338.7 159.7h0M339.4 160.4h0M340.1 161.2h0M340.6 162.1h0M340.9 162.8h0M341.1 163.6h0M341.3 164.5h0M341.6 165.4h0M341.8 166.4h0M342.1 167.3h0M342.3 168.3h0M342.6 169.2h0M342.8 170.0h0M343.0 170.8h0M343.5 171.9h0M344.2 172.3h0M344.7 171.6h0M345.2 170.4h0M345.5 169.6h0M345.7 168.8h0M345.9 168.1h0M346.2 167.3h0M346.4 166.6h0M346.9 165.5h0M347.6 165.1h0M348.4 165.7h0M348.8 166.5h0M349.3 167.4h0M349.8 168.4h0M350.3 169.4h0M350.8 170.5h0M351.2 171.5h0M351.7 172.7h0M352.2 174.1h0M352.5 174.8h0M352.7 175.5h0M352.9 176.2h0M353.2 177.0h0M353.4 177.9h0M353.7 178.7h0M353.9 179.6h0M354.4 178.7h0M354.6 177.3h0M354.9 175.7h0M355.1 174.1h0M355.4 172.7h0M355.6 171.5h0M355.8 170.7h0M356.6 170.8h0M357.0 171.7h0M357.3 172.4h0M357.5 173.1h0M357.8 174.0h0M358.0 174.9h0M358.3 175.8h0M358.5 176.7h0M358.7 177.7h0M359.0 178.6h0M359.2 179.5h0M359.9 178.1h0M360.2 177.0h0M360.4 175.8h0M360.7 174.6h0M360.9 173.3h0M361.2 172.0h0M361.4 170.8h0M361.6 169.6h0M361.9 168.4h0M362.1 167.4h0M362.4 166.5h0M362.6 165.7h0M363.1 164.6h0M363.8 164.7h0M364.3 165.7h0M364.5 166.5h0M364.8 167.4h0M365.0 168.3h0M365.3 169.3h0M365.5 170.4h0M365.7 171.4h0M366.0 172.4h0M366.2 173.4h0M366.5 174.3h0M366.7 175.0h0M367.2 176.1h0M367.9 176.7h0M368.6 177.2h0M369.4 177.5h0M370.1 177.7h0M370.8 177.8h0M371.5 177.6h0M372.3 177.3h0M373.0 176.9h0M373.7 176.5h0M374.4 176.0h0M375.2 175.5h0M375.9 175.0h0M376.6 174.5h0M377.3 174.0h0M378.1 173.3h0M378.8 172.5h0M379.3 171.8h0M379.8 171.0h0M380.2 170.3h0M381.0 169.7h0M381.7 170.1h0M382.2 170.8h0M382.7 171.7h0M383.1 172.7h0M383.6 173.6h0M384.1 174.4h0M384.6 174.9h0M385.3 175.0h0M386.0 174.6h0M386.8 173.8h0M387.2 173.3h0M387.7 172.8h0M388.5 172.2h0M389.2 172.0h0M389.9 172.9h0M390.4 173.9h0M390.9 175.2h0M391.1 175.9h0M391.4 176.7h0M391.6 177.4h0M391.8 178.1h0M392.1 178.8h0M392.6 180.0h0M393.0 179.3h0M393.5 178.1h0M394.0 176.8h0M394.5 175.6h0M395.0 174.5h0M395.5 173.5h0M395.9 172.8h0M396.7 172.2h0M397.4 171.9h0M398.1 171.6h0M398.8 171.3h0M399.6 171.1h0M400.3 171.1h0M400.8 171.7h0M401.0 172.6h0M401.3 173.8h0M401.5 175.1h0M401.7 176.6h0M402.0 178.0h0M402.2 179.4h0M402.7 178.7h0M403.0 177.5h0M403.2 176.2h0M403.4 174.8h0M403.7 173.4h0M403.9 172.0h0M404.2 170.6h0M404.4 169.1h0M404.6 167.7h0M404.9 166.3h0M405.1 165.0h0M405.4 163.7h0M405.6 162.4h0M405.9 161.3h0M406.1 160.2h0M406.3 159.2h0M406.6 158.4h0M406.8 157.7h0M407.3 156.7h0M408.0 156.6h0M408.5 157.6h0M408.8 158.4h0M409.0 159.4h0M409.2 160.6h0M409.5 161.9h0M409.7 163.3h0M410.0 164.7h0M410.2 166.3h0M410.4 167.9h0M410.7 169.5h0M410.9 171.2h0M411.2 172.8h0M411.4 174.4h0M411.6 175.9h0M411.9 177.4h0M412.1 178.8h0M412.4 180.0h0M412.6 179.2h0M412.9 178.0h0M413.1 176.6h0M413.3 175.2h0M413.6 173.8h0M413.8 172.4h0M414.1 170.9h0M414.3 169.6h0M414.5 168.2h0M414.8 167.0h0M415.0 165.9h0M415.3 164.8h0M415.5 164.0h0M415.8 163.3h0M416.2 162.5h0M417.0 163.0h0M417.4 164.3h0M417.7 165.2h0M417.9 166.2h0M418.2 167.4h0M418.4 168.6h0M418.7 169.8h0M418.9 171.1h0M419.1 172.4h0M419.4 173.7h0M419.6 174.9h0M419.9 176.1h0M420.1 177.2h0M420.3 178.1h0M420.6 179.0h0M420.8 179.7h0M421.6 179.5h0M422.0 178.9h0M422.5 178.4h0M423.2 177.6h0M424.0 177.0h0M424.7 176.5h0M425.4 176.0h0M426.1 175.5h0M426.9 175.2h0M427.6 174.8h0M428.3 174.5h0M429.0 174.2h0M429.8 173.8h0M430.5 173.2h0M431.0 172.6h0M431.5 172.0h0M431.9 171.4h0M432.4 170.8h0M432.9 170.2h0M433.6 169.5h0M434.4 169.1h0M435.1 169.4h0M435.6 170.5h0M435.8 171.2h0M436.1 172.0h0M436.3 172.9h0M436.5 173.8h0M436.8 174.6h0M437.0 175.4h0M437.3 176.0h0M437.7 176.9h0M438.5 176.8h0M439.0 176.0h0M439.4 175.0h0M439.9 174.0h0M440.4 173.3h0M441.1 172.9h0M441.8 172.8h0M442.6 172.7h0M443.3 172.6h0M444.0 172.4h0M444.7 172.1h0M445.5 171.6h0M446.2 171.1h0M446.9 170.6h0M447.6 170.3h0M448.4 170.1h0M449.1 169.9h0M449.8 169.7h0M450.5 169.8h0M451.3 170.1h0M452.0 170.6h0M452.7 171.2h0M453.4 171.8h0M453.9 172.5h0M454.4 173.4h0M454.9 174.4h0M455.4 175.5h0M455.9 176.3h0M456.3 176.9h0M457.1 176.6h0M457.3 175.8h0M457.6 174.7h0M457.8 173.4h0M458.0 171.9h0M458.3 170.2h0M458.5 168.6h0M458.8 166.9h0M459.0 165.4h0M459.2 164.1h0M459.5 163.0h0M459.7 162.2h0M460.5 162.2h0M460.7 163.0h0M460.9 164.1h0M461.2 165.3h0M461.4 166.8h0M461.7 168.2h0M461.9 169.8h0M462.1 171.2h0M462.4 172.6h0M462.6 173.8h0M462.9 174.8h0M463.1 175.4h0M463.8 175.4h0M464.3 174.3h0M464.6 173.6h0M464.8 172.7h0M465.0 171.9h0M465.3 171.0h0M465.5 170.2h0M465.8 169.4h0M466.0 168.7h0M466.5 167.9h0M467.2 167.7h0M467.9 167.7h0M468.7 167.7h0M469.4 167.7h0M470.1 167.7h0M470.6 168.3h0M471.1 169.7h0M471.3 170.6h0M471.6 171.6h0M471.8 172.6h0M472.0 173.6h0M472.3 174.6h0M472.5 175.4h0M472.8 176.1h0M473.3 177.0h0M474.0 176.2h0M474.2 175.3h0M474.5 174.2h0M474.7 173.0h0M474.9 171.6h0M475.2 170.2h0M475.4 168.9h0M475.7 167.6h0M475.9 166.5h0M476.2 165.5h0M476.4 164.8h0M477.1 164.9h0M477.4 165.7h0M477.6 166.9h0M477.8 168.2h0M478.1 169.6h0M478.3 171.1h0M478.6 172.4h0M478.8 173.6h0M479.1 174.5h0M479.5 175.0h0M480.0 173.4h0M480.3 171.9h0M480.5 170.2h0M480.7 168.3h0M481.0 166.5h0M481.2 164.7h0M481.5 163.1h0M481.7 161.9h0M482.0 161.2h0M482.7 161.4h0M483.2 162.0h0M483.6 162.9h0M484.1 163.9h0M484.6 164.7h0M485.1 165.4h0M485.8 165.7h0M486.5 165.4h0M487.3 164.8h0M488.0 164.2h0M488.7 163.8h0M489.4 164.1h0M489.9 165.4h0M490.2 166.3h0M490.4 167.3h0M490.7 168.4h0M490.9 169.5h0M491.1 170.7h0M491.4 171.8h0M491.6 172.9h0M491.9 173.9h0M492.1 174.7h0M492.3 175.5h0M492.8 176.3h0M493.6 175.4h0M493.8 174.4h0M494.0 173.1h0M494.3 171.6h0M494.5 169.9h0M494.8 168.1h0M495.0 166.2h0M495.2 164.4h0M495.5 162.5h0M495.7 160.8h0M496.0 159.3h0M496.2 157.9h0M496.5 156.9h0M496.7 156.1h0M497.4 156.2h0M497.7 157.0h0M497.9 158.0h0M498.1 159.2h0M498.4 160.7h0M498.6 162.3h0M498.9 163.9h0M499.1 165.6h0M499.4 167.3h0M499.6 168.9h0M499.8 170.4h0M500.1 171.7h0M500.3 172.8h0M500.6 173.7h0M501.0 174.4h0M501.8 174.1h0M502.5 173.4h0M503.0 172.8h0M503.5 172.1h0M503.9 171.3h0M504.2 170.6h0M504.4 169.8h0M504.7 168.9h0M504.9 167.9h0M505.1 166.8h0M505.4 165.7h0M505.6 164.7h0M505.9 163.7h0M506.1 162.8h0M506.4 162.1h0M506.8 161.2h0M507.6 161.8h0M507.8 162.6h0M508.0 163.7h0M508.3 164.9h0M508.5 166.3h0M508.8 167.9h0M509.0 169.5h0M509.3 171.1h0M509.5 172.7h0M509.7 174.3h0M510.0 175.8h0M510.2 177.1h0M510.5 178.3h0M510.7 179.3h0M510.9 180.0h0M511.7 179.3h0M512.4 178.6h0M513.1 177.9h0M513.6 177.3h0M514.1 176.3h0M514.3 175.5h0M514.6 174.5h0M514.8 173.5h0M515.1 172.3h0M515.3 171.1h0M515.5 169.9h0M515.8 168.7h0M516.0 167.5h0M516.3 166.3h0M516.5 165.3h0M516.7 164.3h0M517.0 163.6h0M517.5 162.6h0M518.2 162.9h0M518.7 164.2h0M518.9 165.2h0M519.2 166.2h0M519.4 167.4h0M519.6 168.6h0M519.9 169.8h0M520.1 171.0h0M520.4 172.1h0M520.6 173.1h0M520.9 174.0h0M521.1 174.8h0M521.6 175.7h0M522.3 175.3h0M522.8 174.4h0M523.3 173.0h0M523.5 172.2h0M523.8 171.4h0M524.0 170.6h0M524.2 169.7h0M524.5 168.9h0M524.7 167.8h0M525.0 166.4h0M525.2 164.8h0M525.4 163.1h0M525.7 161.2h0M525.9 159.3h0M526.2 157.4h0M526.4 155.5h0M526.7 153.9h0M526.9 152.4h0M527.1 151.2h0M527.4 150.3h0M527.9 149.7h0M528.3 150.2h0M528.8 151.6h0M529.1 152.5h0M529.3 153.7h0M529.6 155.0h0M529.8 156.5h0M530.0 158.3h0M530.3 160.2h0M530.5 162.4h0M530.8 164.7h0M531.0 167.2h0" fill="none" stroke="#ff0000" stroke-width="3.1" stroke-linecap="round"/>
<path d="M47.8 163.9 48.0 164.3 48.3 164.7 48.5 165.3 48.8 166.0 49.0 166.7 49.2 167.5 49.5 168.3 49.7 169.2 50.0 170.1 50.2 171.0 50.5 171.8 50.7 172.6 50.9 173.4 51.2 174.1 51.4 174.6 51.7 175.1 51.9 175.5 52.1 175.7 52.4 175.7 52.6 175.5 52.9 175.1 53.1 174.4 53.4 173.6 53.6 172.7 53.8 171.8 54.1 171.0 54.3 170.2 54.6 169.6 54.8 169.2 55.0 169.1 55.3 169.2 55.5 169.6 55.8 170.1 56.0 170.8 56.3 171.5 56.5 172.4 56.7 173.2 57.0 174.1 57.2 174.9 57.5 175.7 57.7 176.3 57.9 176.7 58.2 177.0 58.4 177.1 58.7 176.9 58.9 176.5 59.2 176.0 59.4 175.3 59.6 174.5 59.9 173.6 60.1 172.8 60.4 171.9 60.6 171.1 60.8 170.4 61.1 169.8 61.3 169.4 61.6 169.1 61.8 169.1 62.1 169.3 62.3 169.7 62.5 170.2 62.8 170.8 63.0 171.6 63.3 172.5 63.5 173.5 63.7 174.5 64.0 175.6 64.2 176.7 64.5 177.7 64.7 178.8 65.0 179.8 65.2 179.6 65.4 178.4 65.7 177.0 65.9 175.6 66.2 174.0 66.4 172.4 66.6 170.7 66.9 169.1 67.1 167.4 67.4 165.9 67.6 164.4 67.9 163.1 68.1 162.0 68.3 161.0 68.6 160.3 68.8 159.9 69.1 159.7 69.3 159.8 69.5 160.1 69.8 160.5 70.0 161.0 70.3 161.6 70.5 162.3 70.8 163.1 71.0 163.8 71.2 164.6 71.5 165.4 71.7 166.1 72.0 166.8 72.2 167.4 72.4 167.8 72.7 168.2 72.9 168.4 73.2 168.4 73.4 168.3 73.7 168.2 73.9 167.9 74.1 167.7 74.4 167.4 74.6 167.2 74.9 166.9 75.1 166.7 75.3 166.5 75.6 166.4 75.8 166.4 76.1 166.7 76.3 167.2 76.6 167.9 76.8 168.7 77.0 169.6 77.3 170.5 77.5 171.3 77.8 172.1 78.0 172.7 78.2 173.0 78.5 173.1 78.7 172.8 79.0 172.3 79.2 171.6 79.4 170.7 79.7 169.7 79.9 168.5 80.2 167.3 80.4 166.1 80.7 164.8 80.9 163.6 81.1 162.4 81.4 161.4 81.6 160.5 81.9 159.8 82.1 159.3 82.3 159.1 82.6 159.1 82.8 159.5 83.1 160.2 83.3 161.2 83.6 162.3 83.8 163.6 84.0 165.0 84.3 166.5 84.5 168.0 84.8 169.5 85.0 170.9 85.2 172.3 85.5 173.4 85.7 174.4 86.0 175.2 86.2 175.6 86.5 175.8 86.7 175.5 86.9 175.0 87.2 174.2 87.4 173.2 87.7 172.0 87.9 170.8 88.1 169.5 88.4 168.2 88.6 167.0 88.9 165.9 89.1 164.9 89.4 164.2 89.6 163.8 89.8 163.7 90.1 163.8 90.3 163.9 90.6 164.1 90.8 164.4 91.0 164.7 91.3 165.1 91.5 165.4 91.8 165.8 92.0 166.2 92.3 166.6 92.5 166.9 92.7 167.3 93.0 167.6 93.2 167.9 93.5 168.2 93.7 168.5 93.9 168.8 94.2 169.1 94.4 169.4 94.7 169.7 94.9 170.0 95.2 170.2 95.4 170.3 95.6 170.4 95.9 170.3 96.1 169.1 96.4 168.3 96.6 168.1 96.8 167.4 97.1 166.2 97.3 164.6 97.6 162.7 97.8 160.4 98.1 158.0 98.3 155.3 98.5 152.6 98.8 149.8 99.0 147.2 99.3 144.7 99.5 142.5 99.7 140.5 100.0 138.9 100.2 137.8 100.5 137.1 100.7 136.8 101.0 137.1 101.2 137.8 101.4 138.9 101.7 140.5 101.9 142.5 102.2 144.7 102.4 147.2 102.6 149.8 102.9 152.6 103.1 155.3 103.4 158.0 103.6 160.4 103.9 162.7 104.1 164.6 104.3 166.2 104.6 167.4 104.8 168.1 105.1 168.3 105.3 168.2 105.5 168.0 105.8 167.6 106.0 167.0 106.3 166.4 106.5 165.8 106.8 165.1 107.0 164.3 107.2 163.6 107.5 162.9 107.7 162.3 108.0 161.8 108.2 161.4 108.4 161.1 108.7 161.1 108.9 161.1 109.2 161.4 109.4 161.9 109.6 162.4 109.9 163.1 110.1 163.8 110.4 164.6 110.6 165.5 110.9 166.3 111.1 167.1 111.3 167.9 111.6 168.6 111.8 169.3 112.1 169.8 112.3 170.2 112.5 170.4 112.8 170.4 113.0 170.3 113.3 170.2 113.5 170.0 113.8 169.8 114.0 169.6 114.2 169.3 114.5 169.0 114.7 168.7 115.0 168.4 115.2 168.1 115.4 167.8 115.7 167.6 115.9 167.4 116.2 167.2 116.4 167.1 116.7 167.1 116.9 167.1 117.1 167.3 117.4 167.5 117.6 167.9 117.9 168.3 118.1 168.8 118.3 169.3 118.6 169.9 118.8 170.5 119.1 171.0 119.3 171.6 119.6 172.1 119.8 172.6 120.0 173.1 120.3 173.5 120.5 173.8 120.8 174.2 121.0 174.6 121.2 174.9 121.5 175.3 121.7 175.6 122.0 176.0 122.2 176.3 122.5 176.7 122.7 177.0 122.9 177.3 123.2 177.7 123.4 178.1 123.7 178.4 123.9 178.8 124.1 179.2 124.4 179.6 124.6 180.0 124.9 179.9 125.1 179.4 125.4 178.8 125.6 178.2 125.8 177.5 126.1 176.8 126.3 176.1 126.6 175.4 126.8 174.7 127.0 174.0 127.3 173.3 127.5 172.6 127.8 172.0 128.0 171.4 128.3 170.9 128.5 170.5 128.7 170.2 129.0 169.9 129.2 169.8 129.5 169.7 129.7 169.8 129.9 170.0 130.2 170.3 130.4 170.6 130.7 171.0 130.9 171.5 131.2 171.9 131.4 172.3 131.6 172.7 131.9 173.1 132.1 173.4 132.4 173.6 132.6 173.7 132.8 173.7 133.1 173.6 133.3 173.4 133.6 173.0 133.8 172.6 134.1 172.1 134.3 171.5 134.5 170.9 134.8 170.2 135.0 169.6 135.3 168.9 135.5 168.2 135.7 167.6 136.0 167.0 136.2 166.5 136.5 166.0 136.7 165.6 137.0 165.3 137.2 165.1 137.4 165.1 137.7 165.1 137.9 165.1 138.2 165.1 138.4 165.1 138.6 165.2 138.9 165.2 139.1 165.3 139.4 165.3 139.6 165.4 139.8 165.4 140.1 165.5 140.3 165.6 140.6 165.7 140.8 165.8 141.1 166.0 141.3 166.3 141.5 166.8 141.8 167.4 142.0 168.1 142.3 168.9 142.5 169.8 142.7 170.6 143.0 171.5 143.2 172.5 143.5 173.4 143.7 174.2 144.0 175.0 144.2 175.8 144.4 176.4 144.7 177.0 144.9 177.4 145.2 177.6 145.4 177.8 145.6 177.7 145.9 177.7 146.1 177.6 146.4 177.5 146.6 177.3 146.9 177.2 147.1 177.0 147.3 176.8 147.6 176.7 147.8 176.5 148.1 176.3 148.3 176.1 148.5 176.0 148.8 175.9 149.0 175.8 149.3 175.8 149.5 175.8 149.8 175.8 150.0 175.8 150.2 175.8 150.5 175.8 150.7 175.8 151.0 175.8 151.2 175.8 151.4 175.8 151.7 175.8 151.9 175.8 152.2 175.8 152.4 175.8 152.7 175.8 152.9 175.8 153.1 175.8 153.4 175.8 153.6 175.8 153.9 175.8 154.1 175.8 154.3 175.8 154.6 175.8 154.8 175.8 155.1 175.9 155.3 176.1 155.6 176.5 155.8 177.0 156.0 177.6 156.3 178.2 156.5 178.9 156.8 179.5 157.0 180.2 157.2 179.4 157.5 178.4 157.7 177.3 158.0 176.0 158.2 174.6 158.5 173.2 158.7 171.7 158.9 170.4 159.2 169.1 159.4 168.0 159.7 167.0 159.9 166.3 160.1 165.9 160.4 165.7 160.6 165.9 160.9 166.3 161.1 166.8 161.4 167.5 161.6 168.3 161.8 169.3 162.1 170.2 162.3 171.3 162.6 172.3 162.8 173.3 163.0 174.8 163.3 176.6 163.5 178.3 163.8 179.7 164.0 180.2 164.3 176.9 164.5 173.3 164.7 169.5 165.0 165.5 165.2 161.3 165.5 157.1 165.7 152.8 165.9 148.5 166.2 144.4 166.4 140.4 166.7 136.7 166.9 133.2 167.2 130.1 167.4 127.3 167.6 125.0 167.9 123.2 168.1 121.9 168.4 121.1 168.6 120.8 168.8 121.1 169.1 121.9 169.3 123.2 169.6 125.0 169.8 127.3 170.0 130.1 170.3 133.2 170.5 136.7 170.8 140.4 171.0 144.4 171.3 148.5 171.5 152.8 171.7 157.1 172.0 161.3 172.2 165.5 172.5 169.5 172.7 173.3 172.9 176.9 173.2 180.2 173.4 179.5 173.7 177.8 173.9 175.3 174.2 172.5 174.4 169.8 174.6 167.5 174.9 166.1 175.1 165.7 175.4 166.0 175.6 166.5 175.8 167.2 176.1 168.1 176.3 169.0 176.6 170.0 176.8 170.9 177.1 171.8 177.3 172.6 177.5 173.5 177.8 174.5 178.0 175.5 178.3 176.5 178.5 177.5 178.7 178.4 179.0 179.2 179.2 180.0 179.5 179.8 179.7 179.2 180.0 178.6 180.2 178.0 180.4 177.4 180.7 176.9 180.9 176.5 181.2 176.1 181.4 175.9 181.6 175.8 181.9 175.8 182.1 175.8 182.4 175.8 182.6 175.8 182.9 175.8 183.1 175.9 183.3 175.9 183.6 176.0 183.8 176.0 184.1 176.1 184.3 176.1 184.5 176.2 184.8 176.2 185.0 176.3 185.3 176.3 185.5 176.4 185.8 176.4 186.0 176.5 186.2 176.5 186.5 176.6 186.7 176.6 187.0 176.6 187.2 176.7 187.4 176.7 187.7 176.8 187.9 176.8 188.2 176.9 188.4 176.9 188.7 177.0 188.9 177.0 189.1 177.1 189.4 177.2 189.6 177.3 189.9 177.4 190.1 177.5 190.3 177.6 190.6 177.7 190.8 177.7 191.1 177.8 191.3 177.7 191.6 177.3 191.8 176.8 192.0 176.1 192.3 175.3 192.5 174.4 192.8 173.4 193.0 172.3 193.2 171.3 193.5 170.2 193.7 169.2 194.0 168.3 194.2 167.5 194.5 166.8 194.7 166.2 194.9 165.8 195.2 165.7 195.4 165.6 195.7 165.5 195.9 165.4 196.1 165.3 196.4 165.3 196.6 165.2 196.9 165.2 197.1 165.1 197.4 165.1 197.6 165.1 197.8 165.1 198.1 165.1 198.3 165.1 198.6 165.2 198.8 165.3 199.0 165.4 199.3 165.6 199.5 165.7 199.8 165.9 200.0 166.1 200.2 166.3 200.5 166.4 200.7 166.7 201.0 167.0 201.2 167.5 201.5 167.9 201.7 168.5 201.9 169.0 202.2 169.6 202.4 170.2 202.7 170.8 202.9 171.3 203.1 171.9 203.4 172.3 203.6 172.7 203.9 173.0 204.1 173.2 204.4 173.3 204.6 173.3 204.8 173.2 205.1 172.9 205.3 172.6 205.6 172.2 205.8 171.8 206.0 171.4 206.3 171.1 206.5 170.8 206.8 170.5 207.0 170.4 207.3 170.4 207.5 170.5 207.7 170.7 208.0 171.0 208.2 171.4 208.5 171.8 208.7 172.2 208.9 172.7 209.2 173.3 209.4 173.8 209.7 174.3 209.9 174.9 210.2 175.4 210.4 175.9 210.6 176.4 210.9 176.8 211.1 177.1 211.4 177.4 211.6 177.6 211.8 177.7 212.1 177.8 212.3 177.7 212.6 177.5 212.8 177.2 213.1 176.8 213.3 176.4 213.5 176.0 213.8 175.5 214.0 175.0 214.3 174.5 214.5 173.9 214.7 173.5 215.0 173.0 215.2 172.6 215.5 172.2 215.7 171.8 216.0 171.4 216.2 171.0 216.4 170.6 216.7 170.2 216.9 169.7 217.2 169.3 217.4 168.9 217.6 168.5 217.9 168.2 218.1 167.9 218.4 167.6 218.6 167.4 218.9 167.2 219.1 167.1 219.3 167.1 219.6 167.1 219.8 167.3 220.1 167.7 220.3 168.1 220.5 168.6 220.8 169.2 221.0 169.7 221.3 170.3 221.5 170.9 221.8 171.4 222.0 171.8 222.2 172.1 222.5 172.3 222.7 172.4 223.0 172.3 223.2 172.0 223.4 171.6 223.7 171.1 223.9 170.5 224.2 169.7 224.4 169.0 224.7 168.1 224.9 167.2 225.1 166.4 225.4 165.5 225.6 164.7 225.9 163.9 226.1 163.1 226.3 162.5 226.6 161.9 226.8 161.5 227.1 161.2 227.3 161.1 227.6 161.1 227.8 161.4 228.0 161.9 228.3 162.6 228.5 163.4 228.8 164.3 229.0 165.3 229.2 166.3 229.5 167.4 229.7 168.4 230.0 169.5 230.2 170.4 230.4 171.2 230.7 171.9 230.9 172.4 231.2 172.7 231.4 172.8 231.7 172.2 231.9 171.1 232.1 169.8 232.4 168.8 232.6 168.3 232.9 168.1 233.1 167.4 233.3 166.2 233.6 164.6 233.8 162.7 234.1 160.4 234.3 158.0 234.6 155.3 234.8 152.6 235.0 149.8 235.3 147.2 235.5 144.7 235.8 142.5 236.0 140.5 236.2 138.9 236.5 137.8 236.7 137.1 237.0 136.8 237.2 137.1 237.5 137.8 237.7 138.9 237.9 140.5 238.2 142.5 238.4 144.7 238.7 147.2 238.9 149.8 239.1 152.6 239.4 155.3 239.6 158.0 239.9 160.4 240.1 162.7 240.4 164.6 240.6 166.2 240.8 167.4 241.1 168.1 241.3 168.3 241.6 168.3 241.8 168.3 242.0 168.3 242.3 168.3 242.5 168.2 242.8 168.2 243.0 168.2 243.3 168.1 243.5 168.1 243.7 168.0 244.0 168.0 244.2 167.9 244.5 167.8 244.7 167.7 244.9 167.6 245.2 167.4 245.4 167.1 245.7 166.7 245.9 166.3 246.2 165.8 246.4 165.4 246.6 165.0 246.9 164.7 247.1 164.5 247.4 164.4 247.6 164.6 247.8 165.2 248.1 166.2 248.3 167.4 248.6 168.9 248.8 170.4 249.1 171.9 249.3 173.3 249.5 174.5 249.8 175.3 250.0 175.7 250.3 175.7 250.5 175.3 250.7 174.6 251.0 173.6 251.2 172.5 251.5 171.2 251.7 169.8 252.0 168.3 252.2 166.8 252.4 165.3 252.7 163.9 252.9 162.5 253.2 161.4 253.4 160.4 253.6 159.7 253.9 159.2 254.1 159.1 254.4 159.2 254.6 159.6 254.9 160.2 255.1 161.0 255.3 161.9 255.6 162.9 255.8 164.0 256.1 165.2 256.3 166.3 256.5 167.4 256.8 168.5 257.0 169.5 257.3 170.3 257.5 171.0 257.8 171.5 258.0 171.7 258.2 171.7 258.5 171.7 258.7 171.6 259.0 171.6 259.2 171.4 259.4 171.3 259.7 171.1 259.9 170.9 260.2 170.7 260.4 170.5 260.6 170.3 260.9 170.0 261.1 169.7 261.4 169.5 261.6 169.2 261.9 168.9 262.1 168.6 262.3 168.3 262.6 168.1 262.8 167.8 263.1 167.5 263.3 167.2 263.5 167.0 263.8 166.7 264.0 166.3 264.3 166.0 264.5 165.6 264.8 165.2 265.0 164.7 265.2 164.3 265.5 163.8 265.7 163.4 266.0 162.9 266.2 162.5 266.4 162.1 266.7 161.7 266.9 161.3 267.2 160.9 267.4 160.6 267.7 160.3 267.9 160.1 268.1 159.9 268.4 159.8 268.6 159.7 268.9 159.8 269.1 160.5 269.3 161.6 269.6 163.2 269.8 165.1 270.1 167.2 270.3 169.3 270.6 171.4 270.8 173.3 271.0 175.0 271.3 176.2 271.5 176.9 271.8 177.1 272.0 176.9 272.2 176.5 272.5 175.9 272.7 175.2 273.0 174.4 273.2 173.6 273.5 172.7 273.7 171.9 273.9 171.1 274.2 170.3 274.4 169.8 274.7 169.3 274.9 169.1 275.1 169.1 275.4 169.3 275.6 169.7 275.9 170.1 276.1 170.7 276.4 171.4 276.6 172.1 276.8 172.8 277.1 173.5 277.3 174.2 277.6 174.8 277.8 175.3 278.0 175.6 278.3 175.7 278.5 175.7 278.8 175.5 279.0 175.1 279.3 174.6 279.5 174.0 279.7 173.3 280.0 172.6 280.2 171.9 280.5 171.2 280.7 170.5 280.9 170.0 281.2 169.5 281.4 169.2 281.7 169.1 281.9 169.1 282.2 169.4 282.4 169.7 282.6 170.2 282.9 170.8 283.1 171.4 283.4 172.0 283.6 172.7 283.8 173.3 284.1 173.9 284.3 174.4 284.6 174.8 284.8 175.0 285.1 175.1 285.3 175.0 285.5 174.6 285.8 174.1 286.0 173.4 286.3 172.6 286.5 171.7 286.7 170.7 287.0 169.7 287.2 168.7 287.5 167.7 287.7 166.7 288.0 165.8 288.2 165.1 288.4 164.5 288.7 164.0 288.9 163.8 289.2 163.7 289.4 163.8 289.6 163.8 289.9 163.9 290.1 164.0 290.4 164.1 290.6 164.2 290.8 164.3 291.1 164.4 291.3 164.5 291.6 164.6 291.8 164.8 292.1 164.9 292.3 164.9 292.5 165.0 292.8 165.0 293.0 165.1 293.3 165.1 293.5 165.1 293.7 165.1 294.0 165.1 294.2 165.1 294.5 165.1 294.7 165.1 295.0 165.1 295.2 165.1 295.4 165.1 295.7 165.1 295.9 165.1 296.2 165.4 296.4 165.8 296.6 166.3 296.9 166.9 297.1 167.6 297.4 168.4 297.6 169.2 297.9 170.0 298.1 170.7 298.3 171.5 298.6 172.1 298.8 172.6 299.1 173.1 299.3 173.4 299.5 173.7 299.8 174.1 300.0 174.4 300.3 174.7 300.5 175.0 300.8 175.2 301.0 175.4 301.2 175.6 301.5 175.7 301.7 175.8 302.0 175.6 302.2 175.1 302.4 174.3 302.7 173.3 302.9 172.1 303.2 170.8 303.4 169.5 303.7 168.1 303.9 166.8 304.1 165.6 304.4 164.5 304.6 163.7 304.9 163.2 305.1 163.1 305.3 163.2 305.6 163.6 305.8 164.2 306.1 165.0 306.3 165.9 306.6 166.8 306.8 167.7 307.0 168.6 307.3 169.4 307.5 170.0 307.8 170.4 308.0 170.7 308.2 171.0 308.5 171.3 308.7 171.6 309.0 171.8 309.2 172.1 309.5 172.3 309.7 172.5 309.9 172.7 310.2 172.8 310.4 172.9 310.7 173.0 310.9 173.1 311.1 173.1 311.4 173.0 311.6 172.7 311.9 172.4 312.1 171.9 312.4 171.3 312.6 170.7 312.8 170.0 313.1 169.2 313.3 168.5 313.6 167.7 313.8 166.9 314.0 166.2 314.3 165.5 314.5 164.8 314.8 164.3 315.0 163.8 315.3 163.4 315.5 163.2 315.7 163.1 316.0 163.2 316.2 163.5 316.5 164.1 316.7 164.8 316.9 165.7 317.2 166.6 317.4 167.6 317.7 168.6 317.9 169.6 318.2 170.5 318.4 171.3 318.6 171.9 318.9 172.3 319.1 172.4 319.4 172.2 319.6 171.5 319.8 170.5 320.1 169.3 320.3 167.9 320.6 166.4 320.8 164.9 321.0 163.5 321.3 162.2 321.5 161.2 321.8 160.6 322.0 160.4 322.3 160.5 322.5 160.9 322.7 161.4 323.0 162.0 323.2 162.8 323.5 163.6 323.7 164.5 323.9 165.4 324.2 166.3 324.4 167.1 324.7 167.8 324.9 168.4 325.2 168.9 325.4 169.1 325.6 169.3 325.9 169.4 326.1 169.5 326.4 169.6 326.6 169.7 326.8 169.8 327.1 169.9 327.3 170.0 327.6 170.1 327.8 170.3 328.1 170.4 328.3 170.8 328.5 171.4 328.8 172.2 329.0 173.1 329.3 174.0 329.5 175.0 329.7 175.8 330.0 176.6 330.2 177.2 330.5 177.6 330.7 177.8 331.0 177.6 331.2 177.1 331.4 176.4 331.7 175.5 331.9 174.5 332.2 173.4 332.4 172.4 332.6 171.3 332.9 170.4 333.1 169.6 333.4 169.1 333.6 168.6 333.9 168.2 334.1 167.7 334.3 167.3 334.6 166.9 334.8 166.5 335.1 166.1 335.3 165.8 335.5 165.5 335.8 165.2 336.0 164.9 336.3 164.7 336.5 164.6 336.8 164.5 337.0 164.4 337.2 164.4 337.5 164.5 337.7 164.8 338.0 165.1 338.2 165.5 338.4 166.0 338.7 166.5 338.9 167.1 339.2 167.7 339.4 168.4 339.7 169.0 339.9 169.7 340.1 170.3 340.4 170.9 340.6 171.5 340.9 172.1 341.1 172.6 341.3 173.2 341.6 173.8 341.8 174.4 342.1 174.9 342.3 175.5 342.6 176.2 342.8 176.8 343.0 177.4 343.3 178.1 343.5 178.7 343.8 179.4 344.0 180.0 344.2 179.6 344.5 178.8 344.7 177.9 345.0 176.9 345.2 175.9 345.5 174.8 345.7 173.8 345.9 172.7 346.2 171.7 346.4 170.8 346.7 169.9 346.9 169.1 347.1 168.4 347.4 167.8 347.6 167.4 347.9 167.1 348.1 167.1 348.4 167.1 348.6 167.2 348.8 167.3 349.1 167.5 349.3 167.7 349.6 167.9 349.8 168.1 350.0 168.3 350.3 168.5 350.5 168.7 350.8 168.9 351.0 169.0 351.2 169.1 351.5 169.1 351.7 169.1 352.0 169.1 352.2 169.1 352.5 169.1 352.7 169.1 352.9 169.1 353.2 169.1 353.4 169.1 353.7 169.1 353.9 169.1 354.1 169.1 354.4 169.0 354.6 169.0 354.9 168.9 355.1 168.8 355.4 168.6 355.6 168.5 355.8 168.3 356.1 168.2 356.3 168.1 356.6 168.0 356.8 167.9 357.0 167.8 357.3 167.7 357.5 167.8 357.8 167.9 358.0 168.3 358.3 168.8 358.5 169.4 358.7 170.0 359.0 170.8 359.2 171.5 359.5 172.2 359.7 172.8 359.9 173.4 360.2 173.9 360.4 174.2 360.7 174.4 360.9 174.4 361.2 174.3 361.4 174.2 361.6 174.1 361.9 173.9 362.1 173.7 362.4 173.5 362.6 173.3 362.8 173.0 363.1 172.9 363.3 172.7 363.6 172.5 363.8 172.5 364.1 172.4 364.3 172.4 364.5 172.5 364.8 172.6 365.0 172.8 365.3 173.0 365.5 173.2 365.7 173.5 366.0 173.7 366.2 173.9 366.5 174.2 366.7 174.4 367.0 174.6 367.2 174.8 367.4 175.0 367.7 175.3 367.9 175.5 368.2 175.8 368.4 176.0 368.6 176.3 368.9 176.5 369.1 176.7 369.4 176.9 369.6 177.0 369.9 177.1 370.1 177.1 370.3 177.0 370.6 176.8 370.8 176.5 371.1 176.1 371.3 175.5 371.5 175.0 371.8 174.3 372.0 173.7 372.3 173.0 372.5 172.4 372.8 171.7 373.0 171.2 373.2 170.7 373.5 170.3 373.7 170.0 374.0 169.8 374.2 169.7 374.4 169.9 374.7 170.1 374.9 170.3 375.2 170.6 375.4 171.1 375.7 171.7 375.9 172.4 376.1 173.1 376.4 173.9 376.6 174.6 376.9 175.3 377.1 175.8 377.3 176.2 377.6 176.4 377.8 176.4 378.1 176.3 378.3 176.2 378.6 176.0 378.8 175.7 379.0 175.4 379.3 175.0 379.5 174.7 379.8 174.3 380.0 173.9 380.2 173.5 380.5 173.2 380.7 172.8 381.0 172.5 381.2 172.2 381.4 171.8 381.7 171.4 381.9 171.0 382.2 170.6 382.4 170.2 382.7 169.7 382.9 169.3 383.1 168.9 383.4 168.5 383.6 168.2 383.9 167.8 384.1 167.6 384.3 167.4 384.6 167.2 384.8 167.1 385.1 167.1 385.3 167.2 385.6 167.4 385.8 167.8 386.0 168.3 386.3 168.8 386.5 169.4 386.8 170.0 387.0 170.7 387.2 171.4 387.5 172.0 387.7 172.6 388.0 173.1 388.2 173.5 388.5 173.9 388.7 174.2 388.9 174.5 389.2 174.9 389.4 175.2 389.7 175.5 389.9 175.8 390.1 176.1 390.4 176.4 390.6 176.6 390.9 176.8 391.1 176.9 391.4 177.0 391.6 177.1 391.8 177.1 392.1 176.9 392.3 176.6 392.6 176.2 392.8 175.7 393.0 175.2 393.3 174.6 393.5 174.0 393.8 173.5 394.0 173.0 394.3 172.5 394.5 172.1 394.7 171.9 395.0 171.8 395.2 171.8 395.5 171.9 395.7 172.2 395.9 172.5 396.2 172.8 396.4 173.2 396.7 173.7 396.9 174.1 397.2 174.5 397.4 174.9 397.6 175.2 397.9 175.5 398.1 175.7 398.4 175.8 398.6 175.7 398.8 175.7 399.1 175.6 399.3 175.5 399.6 175.4 399.8 175.3 400.1 175.1 400.3 175.0 400.5 174.8 400.8 174.6 401.0 174.4 401.3 174.1 401.5 173.9 401.7 173.7 402.0 173.5 402.2 173.2 402.5 173.0 402.7 172.7 403.0 172.4 403.2 172.0 403.4 171.6 403.7 171.1 403.9 170.6 404.2 170.1 404.4 169.6 404.6 169.1 404.9 168.7 405.1 168.3 405.4 167.9 405.6 167.6 405.9 167.3 406.1 167.2 406.3 167.1 406.6 167.1 406.8 167.2 407.1 167.4 407.3 167.7 407.5 168.0 407.8 168.4 408.0 168.8 408.3 169.2 408.5 169.6 408.8 170.0 409.0 170.3 409.2 170.6 409.5 170.9 409.7 171.1 410.0 171.2 410.2 171.3 410.4 171.4 410.7 171.5 410.9 171.6 411.2 171.6 411.4 171.7 411.6 171.7 411.9 171.8 412.1 171.9 412.4 171.9 412.6 172.0 412.9 172.1 413.1 172.1 413.3 172.2 413.6 172.3 413.8 172.4 414.1 172.6 414.3 172.8 414.5 172.9 414.8 173.1 415.0 173.4 415.3 173.6 415.5 173.8 415.8 174.1 416.0 174.3 416.2 174.6 416.5 174.8 416.7 175.0 417.0 175.2 417.2 175.4 417.4 175.6 417.7 175.7 417.9 175.8 418.2 176.0 418.4 176.1 418.7 176.2 418.9 176.3 419.1 176.4 419.4 176.5 419.6 176.6 419.9 176.7 420.1 176.8 420.3 176.9 420.6 176.9 420.8 177.0 421.1 177.0 421.3 177.1 421.6 177.1 421.8 177.1 422.0 177.0 422.3 176.9 422.5 176.7 422.8 176.4 423.0 176.1 423.2 175.7 423.5 175.3 423.7 174.9 424.0 174.4 424.2 173.9 424.5 173.4 424.7 172.9 424.9 172.4 425.2 171.9 425.4 171.5 425.7 171.1 425.9 170.7 426.1 170.4 426.4 170.1 426.6 169.9 426.9 169.8 427.1 169.7 427.4 169.7 427.6 169.8 427.8 169.8 428.1 169.9 428.3 169.9 428.6 170.0 428.8 170.1 429.0 170.2 429.3 170.3 429.5 170.5 429.8 170.6 430.0 170.8 430.3 170.9 430.5 171.1 430.7 171.3 431.0 171.5 431.2 171.7 431.5 171.9 431.7 172.1 431.9 172.4 432.2 172.7 432.4 173.2 432.7 173.9 432.9 174.7 433.2 175.5 433.4 176.2 433.6 176.7 433.9 177.0 434.1 177.1 434.4 176.9 434.6 176.5 434.8 176.1 435.1 175.6 435.3 175.1 435.6 174.8 435.8 174.5 436.1 174.4 436.3 174.6 436.5 175.1 436.8 175.8 437.0 176.6 437.3 177.5 437.5 178.4 437.7 179.3 438.0 180.1 438.2 179.6 438.5 178.8 438.7 177.9 439.0 177.0 439.2 176.1 439.4 175.3 439.7 174.5 439.9 173.8 440.2 173.2 440.4 172.7 440.6 172.4 440.9 172.3 441.1 172.2 441.4 172.1 441.6 172.0 441.8 171.9 442.1 171.8 442.3 171.8 442.6 171.7 442.8 171.6 443.1 171.6 443.3 171.5 443.5 171.5 443.8 171.4 444.0 171.3 444.3 171.3 444.5 171.2 444.7 171.1 445.0 170.9 445.2 170.7 445.5 170.5 445.7 170.3 446.0 170.1 446.2 169.9 446.4 169.7 446.7 169.5 446.9 169.3 447.2 169.2 447.4 169.1 447.6 169.0 447.9 168.9 448.1 168.8 448.4 168.8 448.6 168.7 448.9 168.7 449.1 168.6 449.3 168.6 449.6 168.5 449.8 168.5 450.1 168.4 450.3 168.3 450.5 168.2 450.8 168.0 451.0 167.9 451.3 167.7 451.5 167.5 451.8 167.4 452.0 167.3 452.2 167.2 452.5 167.1 452.7 167.1 453.0 167.1 453.2 167.2 453.4 167.4 453.7 167.6 453.9 167.9 454.2 168.2 454.4 168.6 454.7 169.0 454.9 169.4 455.1 170.1 455.4 170.9 455.6 171.9 455.9 173.0 456.1 174.2 456.3 175.4 456.6 176.6 456.8 177.8 457.1 178.9 457.3 179.9 457.6 179.6 457.8 178.7 458.0 177.7 458.3 176.7 458.5 175.7 458.8 174.8 459.0 173.9 459.2 173.2 459.5 172.6 459.7 172.1 460.0 171.8 460.2 171.7 460.5 171.6 460.7 171.6 460.9 171.5 461.2 171.5 461.4 171.4 461.7 171.4 461.9 171.4 462.1 171.4 462.4 171.3 462.6 171.3 462.9 171.2 463.1 171.2 463.4 171.1 463.6 171.0 463.8 170.7 464.1 170.4 464.3 169.9 464.6 169.4 464.8 168.9 465.0 168.3 465.3 167.8 465.5 167.3 465.8 166.8 466.0 166.4 466.3 166.0 466.5 165.8 466.7 165.7 467.0 165.7 467.2 165.7 467.5 165.7 467.7 165.7 467.9 165.7 468.2 165.7 468.4 165.7 468.7 165.7 468.9 165.7 469.2 165.7 469.4 165.7 469.6 165.7 469.9 165.7 470.1 165.7 470.4 165.8 470.6 165.8 470.8 165.9 471.1 166.1 471.3 166.3 471.6 166.5 471.8 166.7 472.0 166.9 472.3 167.2 472.5 167.5 472.8 167.7 473.0 168.2 473.3 168.9 473.5 169.7 473.7 170.6 474.0 171.7 474.2 172.7 474.5 173.6 474.7 174.5 474.9 175.1 475.2 175.6 475.4 175.8 475.7 175.5 475.9 174.9 476.2 174.0 476.4 172.8 476.6 171.5 476.9 170.1 477.1 168.8 477.4 167.6 477.6 166.7 477.8 166.0 478.1 165.7 478.3 165.9 478.6 166.5 478.8 167.5 479.1 168.6 479.3 169.9 479.5 171.3 479.8 172.6 480.0 173.8 480.3 174.8 480.5 175.5 480.7 175.7 481.0 175.6 481.2 175.2 481.5 174.5 481.7 173.6 482.0 172.5 482.2 171.3 482.4 170.1 482.7 168.9 482.9 167.8 483.2 166.7 483.4 165.9 483.6 165.2 483.9 164.4 484.1 163.6 484.4 162.8 484.6 162.1 484.9 161.5 485.1 161.0 485.3 160.6 485.6 160.4 485.8 160.5 486.1 160.8 486.3 161.5 486.5 162.4 486.8 163.4 487.0 164.6 487.3 165.9 487.5 167.1 487.8 168.4 488.0 169.5 488.2 170.6 488.5 171.4 488.7 172.0 489.0 172.4 489.2 172.5 489.4 172.6 489.7 172.7 489.9 172.8 490.2 172.9 490.4 172.9 490.7 173.0 490.9 173.0 491.1 173.0 491.4 173.1 491.6 173.1 491.9 173.0 492.1 172.9 492.3 172.6 492.6 172.3 492.8 171.9 493.1 171.4 493.3 170.9 493.6 170.4 493.8 169.8 494.0 169.3 494.3 168.8 494.5 168.3 494.8 167.9 495.0 167.5 495.2 167.3 495.5 167.1 495.7 167.1 496.0 167.2 496.2 167.6 496.5 168.1 496.7 168.7 496.9 169.5 497.2 170.4 497.4 171.3 497.7 172.3 497.9 173.2 498.1 174.2 498.4 175.1 498.6 175.9 498.9 176.6 499.1 177.1 499.4 177.5 499.6 177.7 499.8 177.7 500.1 177.7 500.3 177.6 500.6 177.4 500.8 177.2 501.0 176.9 501.3 176.6 501.5 176.3 501.8 176.0 502.0 175.6 502.2 175.3 502.5 174.9 502.7 174.5 503.0 174.2 503.2 173.9 503.5 173.5 503.7 173.3 503.9 173.0 504.2 172.8 504.4 172.6 504.7 172.5 504.9 172.4 505.1 172.4 505.4 172.6 505.6 172.9 505.9 173.2 506.1 173.7 506.4 174.2 506.6 174.8 506.8 175.4 507.1 176.0 507.3 176.5 507.6 176.9 507.8 177.3 508.0 177.6 508.3 177.7 508.5 177.7 508.8 177.3 509.0 176.6 509.3 175.7 509.5 174.7 509.7 173.4 510.0 172.2 510.2 170.9 510.5 169.6 510.7 168.4 510.9 167.4 511.2 166.6 511.4 166.0 511.7 165.7 511.9 165.9 512.2 166.5 512.4 167.5 512.6 168.8 512.9 170.2 513.1 171.8 513.4 173.3 513.6 174.7 513.8 175.8 514.1 176.7 514.3 177.1 514.6 177.0 514.8 176.7 515.1 176.3 515.3 175.7 515.5 175.0 515.8 174.3 516.0 173.6 516.3 172.9 516.5 172.4 516.7 172.0 517.0 171.8 517.2 171.8 517.5 172.0 517.7 172.4 518.0 172.9 518.2 173.6 518.4 174.3 518.7 175.1 518.9 176.0 519.2 177.0 519.4 177.9 519.6 178.8 519.9 179.7 520.1 179.8 520.4 178.7 520.6 177.4 520.9 176.0 521.1 174.5 521.3 172.9 521.6 171.4 521.8 170.0 522.1 168.7 522.3 167.5 522.5 166.6 522.8 166.0 523.0 165.7 523.3 165.8 523.5 166.3 523.8 166.9 524.0 167.7 524.2 168.6 524.5 169.4 524.7 170.0 525.0 170.4 525.2 170.4 525.4 170.2 525.7 169.9 525.9 169.5 526.2 168.9 526.4 168.3 526.7 167.7 526.9 167.0 527.1 166.4 527.4 165.8 527.6 165.3 527.9 164.9 528.1 164.6 528.3 164.4 528.6 164.4 528.8 164.5 529.1 164.8 529.3 165.1 529.6 165.6 529.8 166.1 530.0 166.7 530.3 167.4 530.5 168.2 530.8 169.1 531.0 170.0" fill="none" stroke="#0000ff" stroke-width="1" stroke-linejoin="round"/><path d="M47.8 163.9h0M48.3 164.7h0M48.8 166.0h0M49.0 166.7h0M49.2 167.5h0M49.5 168.3h0M49.7 169.2h0M50.0 170.1h0M50.2 171.0h0M50.5 171.8h0M50.7 172.6h0M50.9 173.4h0M51.2 174.1h0M51.7 175.1h0M52.1 175.7h0M52.9 175.1h0M53.1 174.4h0M53.4 173.6h0M53.6 172.7h0M53.8 171.8h0M54.1 171.0h0M54.3 170.2h0M54.8 169.2h0M55.5 169.6h0M56.0 170.8h0M56.3 171.5h0M56.5 172.4h0M56.7 173.2h0M57.0 174.1h0M57.2 174.9h0M57.5 175.7h0M57.9 176.7h0M58.7 176.9h0M59.2 176.0h0M59.4 175.3h0M59.6 174.5h0M59.9 173.6h0M60.1 172.8h0M60.4 171.9h0M60.6 171.1h0M60.8 170.4h0M61.3 169.4h0M62.1 169.3h0M62.5 170.2h0M62.8 170.8h0M63.0 171.6h0M63.3 172.5h0M63.5 173.5h0M63.7 174.5h0M64.0 175.6h0M64.2 176.7h0M64.5 177.7h0M64.7 178.8h0M65.0 179.8h0M65.4 178.4h0M65.7 177.0h0M65.9 175.6h0M66.2 174.0h0M66.4 172.4h0M66.6 170.7h0M66.9 169.1h0M67.1 167.4h0M67.4 165.9h0M67.6 164.4h0M67.9 163.1h0M68.1 162.0h0M68.3 161.0h0M68.6 160.3h0M69.1 159.7h0M69.8 160.5h0M70.3 161.6h0M70.5 162.3h0M70.8 163.1h0M71.0 163.8h0M71.2 164.6h0M71.5 165.4h0M71.7 166.1h0M72.0 166.8h0M72.4 167.8h0M72.9 168.4h0M73.7 168.2h0M74.4 167.4h0M74.9 166.9h0M75.6 166.4h0M76.3 167.2h0M76.6 167.9h0M76.8 168.7h0M77.0 169.6h0M77.3 170.5h0M77.5 171.3h0M77.8 172.1h0M78.2 173.0h0M79.0 172.3h0M79.2 171.6h0M79.4 170.7h0M79.7 169.7h0M79.9 168.5h0M80.2 167.3h0M80.4 166.1h0M80.7 164.8h0M80.9 163.6h0M81.1 162.4h0M81.4 161.4h0M81.6 160.5h0M81.9 159.8h0M82.3 159.1h0M83.1 160.2h0M83.3 161.2h0M83.6 162.3h0M83.8 163.6h0M84.0 165.0h0M84.3 166.5h0M84.5 168.0h0M84.8 169.5h0M85.0 170.9h0M85.2 172.3h0M85.5 173.4h0M85.7 174.4h0M86.0 175.2h0M86.5 175.8h0M86.9 175.0h0M87.2 174.2h0M87.4 173.2h0M87.7 172.0h0M87.9 170.8h0M88.1 169.5h0M88.4 168.2h0M88.6 167.0h0M88.9 165.9h0M89.1 164.9h0M89.4 164.2h0M90.1 163.8h0M90.8 164.4h0M91.3 165.1h0M91.8 165.8h0M92.3 166.6h0M92.7 167.3h0M93.2 167.9h0M93.7 168.5h0M94.2 169.1h0M94.7 169.7h0M95.4 170.3h0M96.1 169.1h0M96.4 168.3h0M96.8 167.4h0M97.1 166.2h0M97.3 164.6h0M97.6 162.7h0M97.8 160.4h0M98.1 158.0h0M98.3 155.3h0M98.5 152.6h0M98.8 149.8h0M99.0 147.2h0M99.3 144.7h0M99.5 142.5h0M99.7 140.5h0M100.0 138.9h0M100.2 137.8h0M100.5 137.1h0M101.2 137.8h0M101.4 138.9h0M101.7 140.5h0M101.9 142.5h0M102.2 144.7h0M102.4 147.2h0M102.6 149.8h0M102.9 152.6h0M103.1 155.3h0M103.4 158.0h0M103.6 160.4h0M103.9 162.7h0M104.1 164.6h0M104.3 166.2h0M104.6 167.4h0M104.8 168.1h0M105.5 168.0h0M106.0 167.0h0M106.5 165.8h0M106.8 165.1h0M107.0 164.3h0M107.2 163.6h0M107.5 162.9h0M108.0 161.8h0M108.4 161.1h0M109.2 161.4h0M109.6 162.4h0M109.9 163.1h0M110.1 163.8h0M110.4 164.6h0M110.6 165.5h0M110.9 166.3h0M111.1 167.1h0M111.3 167.9h0M111.6 168.6h0M112.1 169.8h0M112.5 170.4h0M113.3 170.2h0M114.0 169.6h0M114.5 169.0h0M115.0 168.4h0M115.4 167.8h0M116.2 167.2h0M116.9 167.1h0M117.6 167.9h0M118.1 168.8h0M118.6 169.9h0M119.1 171.0h0M119.6 172.1h0M120.0 173.1h0M120.5 173.8h0M121.0 174.6h0M121.5 175.3h0M122.0 176.0h0M122.5 176.7h0M122.9 177.3h0M123.4 178.1h0M123.9 178.8h0M124.4 179.6h0M125.1 179.4h0M125.6 178.2h0M125.8 177.5h0M126.1 176.8h0M126.3 176.1h0M126.6 175.4h0M126.8 174.7h0M127.0 174.0h0M127.3 173.3h0M127.5 172.6h0M128.0 171.4h0M128.5 170.5h0M129.0 169.9h0M129.7 169.8h0M130.4 170.6h0M130.9 171.5h0M131.4 172.3h0M131.9 173.1h0M132.4 173.6h0M133.1 173.6h0M133.6 173.0h0M134.1 172.1h0M134.5 170.9h0M135.0 169.6h0M135.3 168.9h0M135.5 168.2h0M136.0 167.0h0M136.5 166.0h0M137.0 165.3h0M137.7 165.1h0M138.4 165.1h0M139.1 165.3h0M139.8 165.4h0M140.6 165.7h0M141.3 166.3h0M141.8 167.4h0M142.0 168.1h0M142.3 168.9h0M142.5 169.8h0M142.7 170.6h0M143.0 171.5h0M143.2 172.5h0M143.5 173.4h0M143.7 174.2h0M144.0 175.0h0M144.2 175.8h0M144.7 177.0h0M145.2 177.6h0M145.9 177.7h0M146.6 177.3h0M147.3 176.8h0M148.1 176.3h0M148.8 175.9h0M149.5 175.8h0M150.2 175.8h0M151.0 175.8h0M151.7 175.8h0M152.4 175.8h0M153.1 175.8h0M153.9 175.8h0M154.6 175.8h0M155.3 176.1h0M155.8 177.0h0M156.3 178.2h0M156.5 178.9h0M156.8 179.5h0M157.0 180.2h0M157.2 179.4h0M157.5 178.4h0M157.7 177.3h0M158.0 176.0h0M158.2 174.6h0M158.5 173.2h0M158.7 171.7h0M158.9 170.4h0M159.2 169.1h0M159.4 168.0h0M159.7 167.0h0M159.9 166.3h0M160.4 165.7h0M160.9 166.3h0M161.4 167.5h0M161.6 168.3h0M161.8 169.3h0M162.1 170.2h0M162.3 171.3h0M162.6 172.3h0M162.8 173.3h0M163.0 174.8h0M163.3 176.6h0M163.5 178.3h0M163.8 179.7h0M164.3 176.9h0M164.5 173.3h0M164.7 169.5h0M165.0 165.5h0M165.2 161.3h0M165.5 157.1h0M165.7 152.8h0M165.9 148.5h0M166.2 144.4h0M166.4 140.4h0M166.7 136.7h0M166.9 133.2h0M167.2 130.1h0M167.4 127.3h0M167.6 125.0h0M167.9 123.2h0M168.1 121.9h0M168.4 121.1h0M169.1 121.9h0M169.3 123.2h0M169.6 125.0h0M169.8 127.3h0M170.0 130.1h0M170.3 133.2h0M170.5 136.7h0M170.8 140.4h0M171.0 144.4h0M171.3 148.5h0M171.5 152.8h0M171.7 157.1h0M172.0 161.3h0M172.2 165.5h0M172.5 169.5h0M172.7 173.3h0M172.9 176.9h0M173.2 180.2h0M173.4 179.5h0M173.7 177.8h0M173.9 175.3h0M174.2 172.5h0M174.4 169.8h0M174.6 167.5h0M174.9 166.1h0M175.6 166.5h0M175.8 167.2h0M176.1 168.1h0M176.3 169.0h0M176.6 170.0h0M176.8 170.9h0M177.1 171.8h0M177.3 172.6h0M177.5 173.5h0M177.8 174.5h0M178.0 175.5h0M178.3 176.5h0M178.5 177.5h0M178.7 178.4h0M179.0 179.2h0M179.2 180.0h0M179.7 179.2h0M180.2 178.0h0M180.7 176.9h0M181.2 176.1h0M181.9 175.8h0M182.6 175.8h0M183.3 175.9h0M184.1 176.1h0M184.8 176.2h0M185.5 176.4h0M186.2 176.5h0M187.0 176.6h0M187.7 176.8h0M188.4 176.9h0M189.1 177.1h0M189.9 177.4h0M190.6 177.7h0M191.3 177.7h0M191.8 176.8h0M192.0 176.1h0M192.3 175.3h0M192.5 174.4h0M192.8 173.4h0M193.0 172.3h0M193.2 171.3h0M193.5 170.2h0M193.7 169.2h0M194.0 168.3h0M194.2 167.5h0M194.5 166.8h0M194.9 165.8h0M195.7 165.5h0M196.4 165.3h0M197.1 165.1h0M197.8 165.1h0M198.6 165.2h0M199.3 165.6h0M200.0 166.1h0M200.7 166.7h0M201.2 167.5h0M201.7 168.5h0M202.2 169.6h0M202.7 170.8h0M203.1 171.9h0M203.6 172.7h0M204.1 173.2h0M204.8 173.2h0M205.3 172.6h0M205.8 171.8h0M206.3 171.1h0M206.8 170.5h0M207.5 170.5h0M208.2 171.4h0M208.7 172.2h0M209.2 173.3h0M209.7 174.3h0M210.2 175.4h0M210.6 176.4h0M211.1 177.1h0M211.8 177.7h0M212.6 177.5h0M213.1 176.8h0M213.5 176.0h0M214.0 175.0h0M214.5 173.9h0M215.0 173.0h0M215.5 172.2h0M216.0 171.4h0M216.4 170.6h0M216.9 169.7h0M217.4 168.9h0M217.9 168.2h0M218.4 167.6h0M219.1 167.1h0M219.8 167.3h0M220.3 168.1h0M220.8 169.2h0M221.3 170.3h0M221.8 171.4h0M222.2 172.1h0M223.0 172.3h0M223.4 171.6h0M223.9 170.5h0M224.2 169.7h0M224.4 169.0h0M224.7 168.1h0M224.9 167.2h0M225.1 166.4h0M225.4 165.5h0M225.6 164.7h0M225.9 163.9h0M226.1 163.1h0M226.6 161.9h0M227.1 161.2h0M227.8 161.4h0M228.3 162.6h0M228.5 163.4h0M228.8 164.3h0M229.0 165.3h0M229.2 166.3h0M229.5 167.4h0M229.7 168.4h0M230.0 169.5h0M230.2 170.4h0M230.4 171.2h0M230.7 171.9h0M231.2 172.7h0M231.9 171.1h0M232.1 169.8h0M232.4 168.8h0M232.9 168.1h0M233.1 167.4h0M233.3 166.2h0M233.6 164.6h0M233.8 162.7h0M234.1 160.4h0M234.3 158.0h0M234.6 155.3h0M234.8 152.6h0M235.0 149.8h0M235.3 147.2h0M235.5 144.7h0M235.8 142.5h0M236.0 140.5h0M236.2 138.9h0M236.5 137.8h0M236.7 137.1h0M237.5 137.8h0M237.7 138.9h0M237.9 140.5h0M238.2 142.5h0M238.4 144.7h0M238.7 147.2h0M238.9 149.8h0M239.1 152.6h0M239.4 155.3h0M239.6 158.0h0M239.9 160.4h0M240.1 162.7h0M240.4 164.6h0M240.6 166.2h0M240.8 167.4h0M241.1 168.1h0M241.8 168.3h0M242.5 168.2h0M243.3 168.1h0M244.0 168.0h0M244.7 167.7h0M245.4 167.1h0M245.9 166.3h0M246.4 165.4h0M246.9 164.7h0M247.6 164.6h0M248.1 166.2h0M248.3 167.4h0M248.6 168.9h0M248.8 170.4h0M249.1 171.9h0M249.3 173.3h0M249.5 174.5h0M249.8 175.3h0M250.5 175.3h0M250.7 174.6h0M251.0 173.6h0M251.2 172.5h0M251.5 171.2h0M251.7 169.8h0M252.0 168.3h0M252.2 166.8h0M252.4 165.3h0M252.7 163.9h0M252.9 162.5h0M253.2 161.4h0M253.4 160.4h0M253.6 159.7h0M254.1 159.1h0M254.6 159.6h0M255.1 161.0h0M255.3 161.9h0M255.6 162.9h0M255.8 164.0h0M256.1 165.2h0M256.3 166.3h0M256.5 167.4h0M256.8 168.5h0M257.0 169.5h0M257.3 170.3h0M257.5 171.0h0M258.0 171.7h0M258.7 171.6h0M259.4 171.3h0M260.2 170.7h0M260.9 170.0h0M261.4 169.5h0M261.9 168.9h0M262.3 168.3h0M262.8 167.8h0M263.3 167.2h0M263.8 166.7h0M264.3 166.0h0M264.8 165.2h0M265.2 164.3h0M265.7 163.4h0M266.2 162.5h0M266.7 161.7h0M267.2 160.9h0M267.7 160.3h0M268.4 159.8h0M269.1 160.5h0M269.3 161.6h0M269.6 163.2h0M269.8 165.1h0M270.1 167.2h0M270.3 169.3h0M270.6 171.4h0M270.8 173.3h0M271.0 175.0h0M271.3 176.2h0M271.5 176.9h0M272.2 176.5h0M272.7 175.2h0M273.0 174.4h0M273.2 173.6h0M273.5 172.7h0M273.7 171.9h0M273.9 171.1h0M274.2 170.3h0M274.7 169.3h0M275.4 169.3h0M275.9 170.1h0M276.4 171.4h0M276.6 172.1h0M276.8 172.8h0M277.1 173.5h0M277.3 174.2h0M277.8 175.3h0M278.5 175.7h0M279.0 175.1h0M279.5 174.0h0M279.7 173.3h0M280.0 172.6h0M280.2 171.9h0M280.5 171.2h0M280.9 170.0h0M281.4 169.2h0M282.2 169.4h0M282.6 170.2h0M283.1 171.4h0M283.6 172.7h0M284.1 173.9h0M284.6 174.8h0M285.3 175.0h0M285.8 174.1h0M286.0 173.4h0M286.3 172.6h0M286.5 171.7h0M286.7 170.7h0M287.0 169.7h0M287.2 168.7h0M287.5 167.7h0M287.7 166.7h0M288.0 165.8h0M288.2 165.1h0M288.7 164.0h0M289.4 163.8h0M290.1 164.0h0M290.8 164.3h0M291.6 164.6h0M292.3 164.9h0M293.0 165.1h0M293.7 165.1h0M294.5 165.1h0M295.2 165.1h0M295.9 165.1h0M296.4 165.8h0M296.9 166.9h0M297.1 167.6h0M297.4 168.4h0M297.6 169.2h0M297.9 170.0h0M298.1 170.7h0M298.3 171.5h0M298.8 172.6h0M299.3 173.4h0M299.8 174.1h0M300.3 174.7h0M300.8 175.2h0M301.5 175.7h0M302.2 175.1h0M302.4 174.3h0M302.7 173.3h0M302.9 172.1h0M303.2 170.8h0M303.4 169.5h0M303.7 168.1h0M303.9 166.8h0M304.1 165.6h0M304.4 164.5h0M304.6 163.7h0M305.1 163.1h0M305.6 163.6h0M306.1 165.0h0M306.3 165.9h0M306.6 166.8h0M306.8 167.7h0M307.0 168.6h0M307.3 169.4h0M307.8 170.4h0M308.2 171.0h0M308.7 171.6h0M309.5 172.3h0M310.2 172.8h0M310.9 173.1h0M311.6 172.7h0M312.1 171.9h0M312.6 170.7h0M312.8 170.0h0M313.1 169.2h0M313.3 168.5h0M313.6 167.7h0M313.8 166.9h0M314.0 166.2h0M314.3 165.5h0M314.8 164.3h0M315.3 163.4h0M316.0 163.2h0M316.5 164.1h0M316.7 164.8h0M316.9 165.7h0M317.2 166.6h0M317.4 167.6h0M317.7 168.6h0M317.9 169.6h0M318.2 170.5h0M318.4 171.3h0M318.9 172.3h0M319.6 171.5h0M319.8 170.5h0M320.1 169.3h0M320.3 167.9h0M320.6 166.4h0M320.8 164.9h0M321.0 163.5h0M321.3 162.2h0M321.5 161.2h0M322.0 160.4h0M322.7 161.4h0M323.2 162.8h0M323.5 163.6h0M323.7 164.5h0M323.9 165.4h0M324.2 166.3h0M324.4 167.1h0M324.7 167.8h0M325.2 168.9h0M325.9 169.4h0M326.6 169.7h0M327.3 170.0h0M328.1 170.4h0M328.5 171.4h0M328.8 172.2h0M329.0 173.1h0M329.3 174.0h0M329.5 175.0h0M329.7 175.8h0M330.0 176.6h0M330.5 177.6h0M331.2 177.1h0M331.4 176.4h0M331.7 175.5h0M331.9 174.5h0M332.2 173.4h0M332.4 172.4h0M332.6 171.3h0M332.9 170.4h0M333.1 169.6h0M333.6 168.6h0M334.1 167.7h0M334.6 166.9h0M335.1 166.1h0M335.5 165.5h0M336.0 164.9h0M336.8 164.5h0M337.5 164.5h0M338.0 165.1h0M338.4 166.0h0M338.9 167.1h0M339.4 168.4h0M339.9 169.7h0M340.4 170.9h0M340.9 172.1h0M341.3 173.2h0M341.8 174.4h0M342.3 175.5h0M342.8 176.8h0M343.3 178.1h0M343.8 179.4h0M344.0 180.0h0M344.5 178.8h0M344.7 177.9h0M345.0 176.9h0M345.2 175.9h0M345.5 174.8h0M345.7 173.8h0M345.9 172.7h0M346.2 171.7h0M346.4 170.8h0M346.7 169.9h0M346.9 169.1h0M347.1 168.4h0M347.6 167.4h0M348.4 167.1h0M349.1 167.5h0M349.8 168.1h0M350.5 168.7h0M351.2 169.1h0M352.0 169.1h0M352.7 169.1h0M353.4 169.1h0M354.1 169.1h0M354.9 168.9h0M355.6 168.5h0M356.3 168.1h0M357.0 167.8h0M357.8 167.9h0M358.3 168.8h0M358.7 170.0h0M359.0 170.8h0M359.2 171.5h0M359.5 172.2h0M359.7 172.8h0M360.2 173.9h0M360.9 174.4h0M361.6 174.1h0M362.4 173.5h0M363.1 172.9h0M363.8 172.5h0M364.5 172.5h0M365.3 173.0h0M366.0 173.7h0M366.7 174.4h0M367.4 175.0h0M367.9 175.5h0M368.4 176.0h0M369.1 176.7h0M369.9 177.1h0M370.6 176.8h0M371.1 176.1h0M371.5 175.0h0M372.0 173.7h0M372.3 173.0h0M372.8 171.7h0M373.2 170.7h0M373.7 170.0h0M374.4 169.9h0M375.2 170.6h0M375.7 171.7h0M375.9 172.4h0M376.1 173.1h0M376.4 173.9h0M376.6 174.6h0M377.1 175.8h0M377.6 176.4h0M378.3 176.2h0M379.0 175.4h0M379.5 174.7h0M380.0 173.9h0M380.5 173.2h0M381.0 172.5h0M381.4 171.8h0M381.9 171.0h0M382.4 170.2h0M382.9 169.3h0M383.4 168.5h0M383.9 167.8h0M384.6 167.2h0M385.3 167.2h0M385.8 167.8h0M386.3 168.8h0M386.8 170.0h0M387.2 171.4h0M387.7 172.6h0M388.2 173.5h0M388.7 174.2h0M389.2 174.9h0M389.7 175.5h0M390.1 176.1h0M390.9 176.8h0M391.6 177.1h0M392.3 176.6h0M392.8 175.7h0M393.3 174.6h0M393.8 173.5h0M394.3 172.5h0M394.7 171.9h0M395.5 171.9h0M395.9 172.5h0M396.4 173.2h0M396.9 174.1h0M397.4 174.9h0M397.9 175.5h0M398.6 175.7h0M399.3 175.5h0M400.1 175.1h0M400.8 174.6h0M401.5 173.9h0M402.2 173.2h0M402.7 172.7h0M403.2 172.0h0M403.7 171.1h0M404.2 170.1h0M404.6 169.1h0M405.1 168.3h0M405.6 167.6h0M406.3 167.1h0M407.1 167.4h0M407.5 168.0h0M408.0 168.8h0M408.5 169.6h0M409.0 170.3h0M409.5 170.9h0M410.2 171.3h0M410.9 171.6h0M411.6 171.7h0M412.4 171.9h0M413.1 172.1h0M413.8 172.4h0M414.5 172.9h0M415.3 173.6h0M416.0 174.3h0M416.7 175.0h0M417.4 175.6h0M418.2 176.0h0M418.9 176.3h0M419.6 176.6h0M420.3 176.9h0M421.1 177.0h0M421.8 177.1h0M422.5 176.7h0M423.0 176.1h0M423.5 175.3h0M424.0 174.4h0M424.5 173.4h0M424.9 172.4h0M425.4 171.5h0M425.9 170.7h0M426.4 170.1h0M427.1 169.7h0M427.8 169.8h0M428.6 170.0h0M429.3 170.3h0M430.0 170.8h0M430.7 171.3h0M431.5 171.9h0M432.2 172.7h0M432.7 173.9h0M432.9 174.7h0M433.2 175.5h0M433.4 176.2h0M433.9 177.0h0M434.6 176.5h0M435.1 175.6h0M435.6 174.8h0M436.3 174.6h0M436.8 175.8h0M437.0 176.6h0M437.3 177.5h0M437.5 178.4h0M437.7 179.3h0M438.0 180.1h0M438.5 178.8h0M438.7 177.9h0M439.0 177.0h0M439.2 176.1h0M439.4 175.3h0M439.7 174.5h0M439.9 173.8h0M440.4 172.7h0M441.1 172.2h0M441.8 171.9h0M442.6 171.7h0M443.3 171.5h0M444.0 171.3h0M444.7 171.1h0M445.5 170.5h0M446.2 169.9h0M446.9 169.3h0M447.6 169.0h0M448.4 168.8h0M449.1 168.6h0M449.8 168.5h0M450.5 168.2h0M451.3 167.7h0M452.0 167.3h0M452.7 167.1h0M453.4 167.4h0M453.9 167.9h0M454.4 168.6h0M454.9 169.4h0M455.4 170.9h0M455.6 171.9h0M455.9 173.0h0M456.1 174.2h0M456.3 175.4h0M456.6 176.6h0M456.8 177.8h0M457.1 178.9h0M457.3 179.9h0M457.8 178.7h0M458.0 177.7h0M458.3 176.7h0M458.5 175.7h0M458.8 174.8h0M459.0 173.9h0M459.2 173.2h0M459.7 172.1h0M460.5 171.6h0M461.2 171.5h0M461.9 171.4h0M462.6 171.3h0M463.4 171.1h0M464.1 170.4h0M464.6 169.4h0M465.0 168.3h0M465.5 167.3h0M466.0 166.4h0M466.5 165.8h0M467.2 165.7h0M467.9 165.7h0M468.7 165.7h0M469.4 165.7h0M470.1 165.7h0M470.8 165.9h0M471.6 166.5h0M472.3 167.2h0M472.8 167.7h0M473.3 168.9h0M473.5 169.7h0M473.7 170.6h0M474.0 171.7h0M474.2 172.7h0M474.5 173.6h0M474.7 174.5h0M474.9 175.1h0M475.4 175.8h0M475.9 174.9h0M476.2 174.0h0M476.4 172.8h0M476.6 171.5h0M476.9 170.1h0M477.1 168.8h0M477.4 167.6h0M477.6 166.7h0M477.8 166.0h0M478.6 166.5h0M478.8 167.5h0M479.1 168.6h0M479.3 169.9h0M479.5 171.3h0M479.8 172.6h0M480.0 173.8h0M480.3 174.8h0M480.5 175.5h0M481.2 175.2h0M481.5 174.5h0M481.7 173.6h0M482.0 172.5h0M482.2 171.3h0M482.4 170.1h0M482.7 168.9h0M482.9 167.8h0M483.2 166.7h0M483.4 165.9h0M483.6 165.2h0M483.9 164.4h0M484.1 163.6h0M484.4 162.8h0M484.6 162.1h0M485.1 161.0h0M485.6 160.4h0M486.3 161.5h0M486.5 162.4h0M486.8 163.4h0M487.0 164.6h0M487.3 165.9h0M487.5 167.1h0M487.8 168.4h0M488.0 169.5h0M488.2 170.6h0M488.5 171.4h0M489.0 172.4h0M489.7 172.7h0M490.4 172.9h0M491.1 173.0h0M491.9 173.0h0M492.6 172.3h0M493.1 171.4h0M493.6 170.4h0M494.0 169.3h0M494.5 168.3h0M495.0 167.5h0M495.7 167.1h0M496.5 168.1h0M496.7 168.7h0M496.9 169.5h0M497.2 170.4h0M497.4 171.3h0M497.7 172.3h0M497.9 173.2h0M498.1 174.2h0M498.4 175.1h0M498.6 175.9h0M498.9 176.6h0M499.4 177.5h0M500.1 177.7h0M500.8 177.2h0M501.3 176.6h0M501.8 176.0h0M502.2 175.3h0M502.7 174.5h0M503.2 173.9h0M503.7 173.3h0M504.4 172.6h0M505.1 172.4h0M505.9 173.2h0M506.4 174.2h0M506.8 175.4h0M507.3 176.5h0M507.8 177.3h0M508.5 177.7h0M509.0 176.6h0M509.3 175.7h0M509.5 174.7h0M509.7 173.4h0M510.0 172.2h0M510.2 170.9h0M510.5 169.6h0M510.7 168.4h0M510.9 167.4h0M511.2 166.6h0M511.7 165.7h0M512.2 166.5h0M512.4 167.5h0M512.6 168.8h0M512.9 170.2h0M513.1 171.8h0M513.4 173.3h0M513.6 174.7h0M513.8 175.8h0M514.1 176.7h0M514.8 176.7h0M515.3 175.7h0M515.5 175.0h0M515.8 174.3h0M516.0 173.6h0M516.5 172.4h0M517.0 171.8h0M517.7 172.4h0M518.2 173.6h0M518.4 174.3h0M518.7 175.1h0M518.9 176.0h0M519.2 177.0h0M519.4 177.9h0M519.6 178.8h0M519.9 179.7h0M520.4 178.7h0M520.6 177.4h0M520.9 176.0h0M521.1 174.5h0M521.3 172.9h0M521.6 171.4h0M521.8 170.0h0M522.1 168.7h0M522.3 167.5h0M522.5 166.6h0M523.0 165.7h0M523.5 166.3h0M523.8 166.9h0M524.0 167.7h0M524.2 168.6h0M524.5 169.4h0M525.0 170.4h0M525.7 169.9h0M526.2 168.9h0M526.7 167.7h0M527.1 166.4h0M527.6 165.3h0M528.1 164.6h0M528.8 164.5h0M529.3 165.1h0M529.8 166.1h0M530.3 167.4h0M530.5 168.2h0M530.8 169.1h0M531.0 170.0h0" fill="none" stroke="#0000ff" stroke-width="3.1" stroke-linecap="round"/>
</g>
<text x="42.2" y="186.00" text-anchor="end" class="tl">0</text>
<text x="42.2" y="156.30" text-anchor="end" class="tl">0.5</text>
<text x="42.2" y="126.60" text-anchor="end" class="tl">1</text>
<text x="47.40" y="198.60" text-anchor="middle" class="tl">0</text>
<text x="95.72" y="198.60" text-anchor="middle" class="tl">200</text>
<text x="144.04" y="198.60" text-anchor="middle" class="tl">400</text>
<text x="192.36" y="198.60" text-anchor="middle" class="tl">600</text>
<text x="240.68" y="198.60" text-anchor="middle" class="tl">800</text>
<text x="289.00" y="198.60" text-anchor="middle" class="tl">1000</text>
<text x="337.32" y="198.60" text-anchor="middle" class="tl">1200</text>
<text x="385.64" y="198.60" text-anchor="middle" class="tl">1400</text>
<text x="433.96" y="198.60" text-anchor="middle" class="tl">1600</text>
<text x="482.28" y="198.60" text-anchor="middle" class="tl">1800</text>
<text x="530.60" y="198.60" text-anchor="middle" class="tl">2000</text>
<text x="289.40" y="218.20" text-anchor="middle" class="lb">columns</text>
<text transform="translate(18 151.40) rotate(-90)" text-anchor="middle" class="lb">coherency</text>
<path d="M432 125.9H464.6" stroke="#ff0000" stroke-width="1"/>
<circle cx="448.30" cy="125.9" r="1.3" fill="#ff0000"/>
<text x="467" y="130.70" class="lg">Mixed</text>
<path d="M432 141.9H464.6" stroke="#0000ff" stroke-width="1"/>
<circle cx="448.30" cy="141.9" r="1.3" fill="#0000ff"/>
<text x="467" y="146.70" class="lg">Gaussian</text>
<path d="M47.8 232.8V292.2H531.0" fill="none" stroke="#4d4d4d" stroke-width="1"/>
<path d="M47.8 292.20h5.2M47.8 262.50h5.2M47.8 232.80h5.2M47.80 292.2v-5.2M96.12 292.2v-5.2M144.44 292.2v-5.2M192.76 292.2v-5.2M241.08 292.2v-5.2M289.40 292.2v-5.2M337.72 292.2v-5.2M386.04 292.2v-5.2M434.36 292.2v-5.2M482.68 292.2v-5.2M531.00 292.2v-5.2" fill="none" stroke="#4d4d4d" stroke-width="1"/>
<clipPath id="cp2"><rect x="47.8" y="232.3" width="483.2" height="59.9"/></clipPath><g clip-path="url(#cp2)">
<path d="M47.8 290.4 48.0 290.4 48.3 290.5 48.5 290.5 48.8 290.6 49.0 290.7 49.2 290.9 49.5 291.1 49.7 291.2 50.0 291.5 50.2 291.7 50.5 291.9 50.7 292.2 50.9 292.0 51.2 291.7 51.4 291.4 51.7 291.2 51.9 290.9 52.1 290.7 52.4 290.5 52.6 290.3 52.9 290.1 53.1 290.0 53.4 289.9 53.6 289.8 53.8 289.8 54.1 289.8 54.3 289.9 54.6 290.0 54.8 290.1 55.0 290.3 55.3 290.5 55.5 290.8 55.8 291.1 56.0 291.4 56.3 291.8 56.5 292.2 56.7 291.7 57.0 291.2 57.2 290.8 57.5 290.3 57.7 289.8 57.9 289.3 58.2 288.9 58.4 288.5 58.7 288.1 58.9 287.8 59.2 287.6 59.4 287.4 59.6 287.3 59.9 287.3 60.1 287.3 60.4 287.5 60.6 287.7 60.8 288.0 61.1 288.5 61.3 289.1 61.6 289.8 61.8 290.6 62.1 291.5 62.3 291.9 62.5 290.8 62.8 289.7 63.0 288.5 63.3 287.3 63.5 286.2 63.7 285.2 64.0 284.3 64.2 283.5 64.5 282.8 64.7 282.4 65.0 282.1 65.2 282.1 65.4 282.3 65.7 282.7 65.9 283.2 66.2 283.9 66.4 284.7 66.6 285.7 66.9 286.8 67.1 287.9 67.4 289.1 67.6 290.4 67.9 291.6 68.1 291.6 68.3 290.4 68.6 289.3 68.8 288.3 69.1 287.3 69.3 286.5 69.5 285.7 69.8 285.1 70.0 284.6 70.3 284.2 70.5 284.0 70.8 283.9 71.0 283.9 71.2 284.1 71.5 284.3 71.7 284.7 72.0 285.3 72.2 285.9 72.4 286.7 72.7 287.6 72.9 288.5 73.2 289.6 73.4 290.7 73.7 291.8 73.9 291.4 74.1 290.2 74.4 289.0 74.6 287.8 74.9 286.7 75.1 285.7 75.3 284.8 75.6 284.0 75.8 283.3 76.1 282.7 76.3 282.3 76.6 282.1 76.8 282.1 77.0 282.2 77.3 282.5 77.5 283.0 77.8 283.7 78.0 284.5 78.2 285.5 78.5 286.6 78.7 287.8 79.0 289.2 79.2 290.6 79.4 292.1 79.7 290.9 79.9 289.3 80.2 287.9 80.4 286.4 80.7 285.0 80.9 283.7 81.1 282.6 81.4 281.5 81.6 280.7 81.9 279.9 82.1 279.4 82.3 279.1 82.6 279.0 82.8 279.1 83.1 279.4 83.3 279.8 83.6 280.6 83.8 281.5 84.0 282.7 84.3 284.2 84.5 285.9 84.8 287.9 85.0 290.1 85.2 292.0 85.5 289.4 85.7 286.8 86.0 284.1 86.2 281.5 86.5 278.8 86.7 276.4 86.9 274.1 87.2 272.1 87.4 270.4 87.7 269.1 87.9 268.2 88.1 267.8 88.4 267.8 88.6 268.3 88.9 269.2 89.1 270.5 89.4 272.2 89.6 274.4 89.8 276.9 90.1 279.7 90.3 282.8 90.6 286.2 90.8 289.7 91.0 291.1 91.3 287.4 91.5 283.8 91.8 280.3 92.0 276.9 92.3 273.8 92.5 271.0 92.7 268.5 93.0 266.5 93.2 264.9 93.5 263.8 93.7 263.2 93.9 263.1 94.2 263.6 94.4 264.7 94.7 266.2 94.9 268.2 95.2 270.7 95.4 273.4 95.6 276.5 95.9 279.8 96.1 283.3 96.4 286.9 96.6 290.4 96.8 290.5 97.1 287.0 97.3 283.8 97.6 280.8 97.8 278.1 98.1 275.6 98.3 273.5 98.5 271.7 98.8 270.3 99.0 269.3 99.3 268.7 99.5 268.4 99.7 268.6 100.0 269.1 100.2 270.0 100.5 271.3 100.7 273.0 101.0 275.0 101.2 277.2 101.4 279.7 101.7 282.4 101.9 285.3 102.2 288.3 102.4 291.3 102.6 290.1 102.9 287.1 103.1 284.2 103.4 281.5 103.6 279.0 103.9 276.7 104.1 274.7 104.3 273.0 104.6 271.6 104.8 270.6 105.1 269.9 105.3 269.6 105.5 269.7 105.8 270.1 106.0 270.9 106.3 271.9 106.5 273.3 106.8 275.1 107.0 277.1 107.2 279.5 107.5 282.2 107.7 285.2 108.0 288.4 108.2 291.8 108.4 289.0 108.7 285.3 108.9 281.5 109.2 277.8 109.4 274.2 109.6 270.8 109.9 267.6 110.1 264.8 110.4 262.4 110.6 260.5 110.9 259.1 111.1 258.3 111.3 258.2 111.6 258.6 111.8 259.6 112.1 261.2 112.3 263.4 112.5 266.1 112.8 269.5 113.0 273.3 113.3 277.7 113.5 282.4 113.8 287.5 114.0 291.7 114.2 286.2 114.5 280.8 114.7 275.4 115.0 270.2 115.2 265.3 115.4 260.9 115.7 256.9 115.9 253.6 116.2 250.9 116.4 249.0 116.7 247.9 116.9 247.7 117.1 248.2 117.4 249.6 117.6 251.7 117.9 254.5 118.1 258.0 118.3 262.0 118.6 266.6 118.8 271.6 119.1 277.0 119.3 282.5 119.6 288.2 119.8 290.5 120.0 284.9 120.3 279.4 120.5 274.3 120.8 269.5 121.0 265.1 121.2 261.3 121.5 258.1 121.7 255.5 122.0 253.6 122.2 252.3 122.5 251.8 122.7 252.0 122.9 252.9 123.2 254.5 123.4 256.8 123.7 259.7 123.9 263.2 124.1 267.1 124.4 271.3 124.6 275.8 124.9 280.4 125.1 285.2 125.4 289.9 125.6 289.9 125.8 285.5 126.1 281.3 126.3 277.4 126.6 273.9 126.8 270.8 127.0 268.1 127.3 265.8 127.5 264.0 127.8 262.6 128.0 261.8 128.3 261.3 128.5 261.4 128.7 262.0 129.0 263.0 129.2 264.6 129.5 266.6 129.7 269.0 129.9 271.9 130.2 275.1 130.4 278.7 130.7 282.6 130.9 286.7 131.2 290.9 131.4 289.2 131.6 284.8 131.9 280.5 132.1 276.3 132.4 272.3 132.6 268.5 132.8 265.2 133.1 262.2 133.3 259.7 133.6 257.7 133.8 256.3 134.1 255.5 134.3 255.3 134.5 255.7 134.8 256.7 135.0 258.3 135.3 260.5 135.5 263.4 135.7 266.8 136.0 270.8 136.2 275.4 136.5 280.4 136.7 285.9 137.0 291.6 137.2 286.8 137.4 280.7 137.7 274.7 137.9 268.7 138.2 263.0 138.4 257.8 138.6 253.0 138.9 248.9 139.1 245.5 139.4 242.9 139.6 241.2 139.8 240.5 140.1 240.8 140.3 241.9 140.6 244.0 140.8 246.9 141.1 250.6 141.3 255.1 141.5 260.2 141.8 266.0 142.0 272.3 142.3 278.9 142.5 285.8 142.7 291.5 143.0 284.4 143.2 277.4 143.5 270.7 143.7 264.2 144.0 258.3 144.2 253.0 144.4 248.3 144.7 244.4 144.9 241.3 145.2 239.1 145.4 237.9 145.6 237.6 145.9 238.3 146.1 240.2 146.4 243.0 146.6 246.7 146.9 251.2 147.1 256.4 147.3 262.2 147.6 268.3 147.8 274.7 148.1 281.2 148.3 287.7 148.5 290.3 148.8 284.2 149.0 278.5 149.3 273.2 149.5 268.4 149.8 264.2 150.0 260.5 150.2 257.4 150.5 255.0 150.7 253.2 151.0 252.0 151.2 251.3 151.4 251.3 151.7 251.9 151.9 253.2 152.2 255.3 152.4 257.9 152.7 261.2 152.9 265.0 153.1 269.2 153.4 273.9 153.6 278.9 153.9 284.1 154.1 289.5 154.3 289.5 154.6 284.1 154.8 278.8 155.1 273.8 155.3 269.1 155.6 264.8 155.8 260.9 156.0 257.6 156.3 254.9 156.5 252.8 156.8 251.4 157.0 250.7 157.2 250.7 157.5 251.4 157.7 252.8 158.0 254.8 158.2 257.4 158.5 260.7 158.7 264.6 158.9 268.9 159.2 273.8 159.4 279.0 159.7 284.6 159.9 290.4 160.1 288.0 160.4 282.0 160.6 276.0 160.9 270.2 161.1 264.7 161.4 259.5 161.6 254.9 161.8 250.8 162.1 247.4 162.3 244.7 162.6 242.8 162.8 241.8 163.0 241.7 163.3 242.4 163.5 244.0 163.8 246.5 164.0 249.8 164.3 253.9 164.5 258.8 164.7 264.4 165.0 270.5 165.2 277.1 165.5 284.2 165.7 291.5 165.9 285.5 166.2 278.1 166.4 270.8 166.7 263.8 166.9 257.2 167.2 251.2 167.4 245.8 167.6 241.3 167.9 237.6 168.1 235.0 168.4 233.3 168.6 232.8 168.8 233.3 169.1 235.0 169.3 237.6 169.6 241.3 169.8 245.8 170.0 251.2 170.3 257.2 170.5 263.8 170.8 270.8 171.0 278.1 171.3 285.5 171.5 291.5 171.7 284.2 172.0 277.1 172.2 270.5 172.5 264.4 172.7 258.8 172.9 253.9 173.2 249.8 173.4 246.5 173.7 244.0 173.9 242.4 174.2 241.7 174.4 241.8 174.6 242.8 174.9 244.7 175.1 247.4 175.4 250.8 175.6 254.9 175.8 259.5 176.1 264.7 176.3 270.2 176.6 276.0 176.8 282.0 177.1 288.0 177.3 290.4 177.5 284.6 177.8 279.0 178.0 273.8 178.3 268.9 178.5 264.6 178.7 260.7 179.0 257.4 179.2 254.8 179.5 252.8 179.7 251.4 180.0 250.7 180.2 250.7 180.4 251.4 180.7 252.8 180.9 254.9 181.2 257.6 181.4 260.9 181.6 264.8 181.9 269.1 182.1 273.8 182.4 278.8 182.6 284.1 182.9 289.5 183.1 289.5 183.3 284.1 183.6 278.9 183.8 273.9 184.1 269.2 184.3 265.0 184.5 261.2 184.8 257.9 185.0 255.3 185.3 253.2 185.5 251.9 185.8 251.3 186.0 251.3 186.2 252.0 186.5 253.2 186.7 255.0 187.0 257.4 187.2 260.5 187.4 264.2 187.7 268.4 187.9 273.2 188.2 278.5 188.4 284.2 188.7 290.3 188.9 287.7 189.1 281.2 189.4 274.7 189.6 268.3 189.9 262.2 190.1 256.4 190.3 251.2 190.6 246.7 190.8 243.0 191.1 240.2 191.3 238.3 191.6 237.6 191.8 237.9 192.0 239.1 192.3 241.3 192.5 244.4 192.8 248.3 193.0 253.0 193.2 258.3 193.5 264.2 193.7 270.7 194.0 277.4 194.2 284.4 194.5 291.5 194.7 285.8 194.9 278.9 195.2 272.3 195.4 266.0 195.7 260.2 195.9 255.1 196.1 250.6 196.4 246.9 196.6 244.0 196.9 241.9 197.1 240.8 197.4 240.5 197.6 241.2 197.8 242.9 198.1 245.5 198.3 248.9 198.6 253.0 198.8 257.8 199.0 263.0 199.3 268.7 199.5 274.7 199.8 280.7 200.0 286.8 200.2 291.6 200.5 285.9 200.7 280.4 201.0 275.4 201.2 270.8 201.5 266.8 201.7 263.4 201.9 260.5 202.2 258.3 202.4 256.7 202.7 255.7 202.9 255.3 203.1 255.5 203.4 256.3 203.6 257.7 203.9 259.7 204.1 262.2 204.4 265.2 204.6 268.5 204.8 272.3 205.1 276.3 205.3 280.5 205.6 284.8 205.8 289.2 206.0 290.9 206.3 286.7 206.5 282.6 206.8 278.7 207.0 275.1 207.3 271.9 207.5 269.0 207.7 266.6 208.0 264.6 208.2 263.0 208.5 262.0 208.7 261.4 208.9 261.3 209.2 261.8 209.4 262.6 209.7 264.0 209.9 265.8 210.2 268.1 210.4 270.8 210.6 273.9 210.9 277.4 211.1 281.3 211.4 285.5 211.6 289.9 211.8 289.9 212.1 285.2 212.3 280.4 212.6 275.8 212.8 271.3 213.1 267.1 213.3 263.2 213.5 259.7 213.8 256.8 214.0 254.5 214.3 252.9 214.5 252.0 214.7 251.8 215.0 252.3 215.2 253.6 215.5 255.5 215.7 258.1 216.0 261.3 216.2 265.1 216.4 269.5 216.7 274.3 216.9 279.4 217.2 284.9 217.4 290.5 217.6 288.2 217.9 282.5 218.1 277.0 218.4 271.6 218.6 266.6 218.9 262.0 219.1 258.0 219.3 254.5 219.6 251.7 219.8 249.6 220.1 248.2 220.3 247.7 220.5 247.9 220.8 249.0 221.0 250.9 221.3 253.6 221.5 256.9 221.8 260.9 222.0 265.3 222.2 270.2 222.5 275.4 222.7 280.8 223.0 286.2 223.2 291.7 223.4 287.5 223.7 282.4 223.9 277.7 224.2 273.3 224.4 269.5 224.7 266.1 224.9 263.4 225.1 261.2 225.4 259.6 225.6 258.6 225.9 258.2 226.1 258.3 226.3 259.1 226.6 260.5 226.8 262.4 227.1 264.8 227.3 267.6 227.6 270.8 227.8 274.2 228.0 277.8 228.3 281.5 228.5 285.3 228.8 289.0 229.0 291.8 229.2 288.4 229.5 285.2 229.7 282.2 230.0 279.5 230.2 277.1 230.4 275.1 230.7 273.3 230.9 271.9 231.2 270.9 231.4 270.1 231.7 269.7 231.9 269.6 232.1 269.9 232.4 270.6 232.6 271.6 232.9 273.0 233.1 274.7 233.3 276.7 233.6 279.0 233.8 281.5 234.1 284.2 234.3 287.1 234.6 290.1 234.8 291.3 235.0 288.3 235.3 285.3 235.5 282.4 235.8 279.7 236.0 277.2 236.2 275.0 236.5 273.0 236.7 271.3 237.0 270.0 237.2 269.1 237.5 268.6 237.7 268.4 237.9 268.7 238.2 269.3 238.4 270.3 238.7 271.7 238.9 273.5 239.1 275.6 239.4 278.1 239.6 280.8 239.9 283.8 240.1 287.0 240.4 290.5 240.6 290.4 240.8 286.9 241.1 283.3 241.3 279.8 241.6 276.5 241.8 273.4 242.0 270.7 242.3 268.2 242.5 266.2 242.8 264.7 243.0 263.6 243.3 263.1 243.5 263.2 243.7 263.8 244.0 264.9 244.2 266.5 244.5 268.5 244.7 271.0 244.9 273.8 245.2 276.9 245.4 280.3 245.7 283.8 245.9 287.4 246.2 291.1 246.4 289.7 246.6 286.2 246.9 282.8 247.1 279.7 247.4 276.9 247.6 274.4 247.8 272.2 248.1 270.5 248.3 269.2 248.6 268.3 248.8 267.8 249.1 267.8 249.3 268.2 249.5 269.1 249.8 270.4 250.0 272.1 250.3 274.1 250.5 276.4 250.7 278.8 251.0 281.5 251.2 284.1 251.5 286.8 251.7 289.4 252.0 292.0 252.2 290.1 252.4 287.9 252.7 285.9 252.9 284.2 253.2 282.7 253.4 281.5 253.6 280.6 253.9 279.8 254.1 279.4 254.4 279.1 254.6 279.0 254.9 279.1 255.1 279.4 255.3 279.9 255.6 280.7 255.8 281.5 256.1 282.6 256.3 283.7 256.5 285.0 256.8 286.4 257.0 287.9 257.3 289.3 257.5 290.9 257.8 292.1 258.0 290.6 258.2 289.2 258.5 287.8 258.7 286.6 259.0 285.5 259.2 284.5 259.4 283.7 259.7 283.0 259.9 282.5 260.2 282.2 260.4 282.1 260.6 282.1 260.9 282.3 261.1 282.7 261.4 283.3 261.6 284.0 261.9 284.8 262.1 285.7 262.3 286.7 262.6 287.8 262.8 289.0 263.1 290.2 263.3 291.4 263.5 291.8 263.8 290.7 264.0 289.6 264.3 288.5 264.5 287.6 264.8 286.7 265.0 285.9 265.2 285.3 265.5 284.7 265.7 284.3 266.0 284.1 266.2 283.9 266.4 283.9 266.7 284.0 266.9 284.2 267.2 284.6 267.4 285.1 267.7 285.7 267.9 286.5 268.1 287.3 268.4 288.3 268.6 289.3 268.9 290.4 269.1 291.6 269.3 291.6 269.6 290.4 269.8 289.1 270.1 287.9 270.3 286.8 270.6 285.7 270.8 284.7 271.0 283.9 271.3 283.2 271.5 282.7 271.8 282.3 272.0 282.1 272.2 282.1 272.5 282.4 272.7 282.8 273.0 283.5 273.2 284.3 273.5 285.2 273.7 286.2 273.9 287.4 274.2 288.5 274.4 289.7 274.7 290.8 274.9 291.9 275.1 291.5 275.4 290.6 275.6 289.8 275.9 289.1 276.1 288.5 276.4 288.1 276.6 287.7 276.8 287.5 277.1 287.4 277.3 287.3 277.6 287.3 277.8 287.4 278.0 287.6 278.3 287.8 278.5 288.1 278.8 288.4 279.0 288.8 279.3 289.2 279.5 289.7 279.7 290.2 280.0 290.7 280.2 291.2 280.5 291.7 280.7 292.2 280.9 291.8 281.2 291.4 281.4 291.0 281.7 290.6 281.9 290.3 282.2 290.0 282.4 289.8 282.6 289.6 282.9 289.4 283.1 289.3 283.4 289.3 283.6 289.2 283.8 289.3 284.1 289.3 284.3 289.4 284.6 289.6 284.8 289.8 285.1 290.0 285.3 290.3 285.5 290.6 285.8 290.9 286.0 291.3 286.3 291.8 286.5 292.2 286.7 292.2 287.0 292.2 287.2 292.2 287.5 292.2 287.7 292.2 288.0 292.2 288.2 292.2 288.4 292.2 288.7 292.1 288.9 292.1 289.2 292.0 289.4 291.9 289.6 291.8 289.9 291.7 290.1 291.5 290.4 291.4 290.6 291.2 290.8 291.1 291.1 290.9 291.3 290.7 291.6 290.6 291.8 290.4 292.1 290.2 292.3 290.1 292.5 289.9 292.8 289.8 293.0 289.6 293.3 289.5 293.5 289.4 293.7 289.3 294.0 289.1 294.2 289.0 294.5 288.9 294.7 288.8 295.0 288.8 295.2 288.8 295.4 288.8 295.7 288.9 295.9 288.9 296.2 289.0 296.4 289.1 296.6 289.2 296.9 289.3 297.1 289.4 297.4 289.4 297.6 289.4 297.9 289.4 298.1 289.2 298.3 288.8 298.6 288.3 298.8 287.8 299.1 287.3 299.3 286.8 299.5 286.3 299.8 285.9 300.0 285.6 300.3 285.4 300.5 285.5 300.8 285.8 301.0 286.2 301.2 286.8 301.5 287.6 301.7 288.4 302.0 289.2 302.2 290.0 302.4 290.8 302.7 291.5 302.9 292.0 303.2 291.9 303.4 291.5 303.7 291.1 303.9 290.7 304.1 290.2 304.4 289.9 304.6 289.5 304.9 289.2 305.1 289.0 305.3 288.8 305.6 288.8 305.8 288.8 306.1 288.9 306.3 289.1 306.6 289.3 306.8 289.7 307.0 290.0 307.3 290.4 307.5 290.8 307.8 291.2 308.0 291.7 308.2 292.0 308.5 292.0 308.7 291.6 309.0 291.2 309.2 290.7 309.5 290.2 309.7 289.7 309.9 289.2 310.2 288.8 310.4 288.5 310.7 288.2 310.9 288.1 311.1 288.1 311.4 288.2 311.6 288.4 311.9 288.7 312.1 289.1 312.4 289.5 312.6 290.0 312.8 290.5 313.1 290.9 313.3 291.4 313.6 291.9 313.8 292.0 314.0 291.5 314.3 290.9 314.5 290.3 314.8 289.6 315.0 288.9 315.3 288.2 315.5 287.4 315.7 286.7 316.0 286.0 316.2 285.2 316.5 284.5 316.7 283.9 316.9 283.3 317.2 282.8 317.4 282.3 317.7 281.9 317.9 281.6 318.2 281.5 318.4 281.4 318.6 281.5 318.9 281.8 319.1 282.2 319.4 282.7 319.6 283.4 319.8 284.2 320.1 285.1 320.3 286.0 320.6 287.0 320.8 288.1 321.0 289.2 321.3 290.3 321.5 291.3 321.8 292.0 322.0 290.6 322.3 288.9 322.5 286.9 322.7 284.8 323.0 282.7 323.2 280.7 323.5 279.1 323.7 277.7 323.9 276.9 324.2 276.7 324.4 277.1 324.7 277.7 324.9 278.7 325.2 280.0 325.4 281.5 325.6 283.1 325.9 284.8 326.1 286.5 326.4 288.1 326.6 289.7 326.8 291.1 327.1 292.1 327.3 291.0 327.6 289.8 327.8 288.5 328.1 287.3 328.3 286.0 328.5 284.8 328.8 283.7 329.0 282.8 329.3 282.0 329.5 281.3 329.7 280.9 330.0 280.7 330.2 280.9 330.5 281.2 330.7 281.8 331.0 282.6 331.2 283.6 331.4 284.7 331.7 285.8 331.9 287.0 332.2 288.2 332.4 289.4 332.6 290.5 332.9 291.5 333.1 292.1 333.4 291.2 333.6 290.2 333.9 289.3 334.1 288.3 334.3 287.3 334.6 286.5 334.8 285.7 335.1 285.0 335.3 284.5 335.5 284.2 335.8 284.1 336.0 284.4 336.3 285.1 336.5 286.1 336.8 287.3 337.0 288.6 337.2 289.9 337.5 291.1 337.7 292.1 338.0 291.6 338.2 290.7 338.4 289.9 338.7 289.1 338.9 288.3 339.2 287.5 339.4 286.9 339.7 286.3 339.9 285.9 340.1 285.6 340.4 285.4 340.6 285.5 340.9 285.7 341.1 286.0 341.3 286.5 341.6 287.1 341.8 287.8 342.1 288.6 342.3 289.4 342.6 290.3 342.8 291.1 343.0 291.9 343.3 291.6 343.5 290.4 343.8 289.0 344.0 287.5 344.2 285.9 344.5 284.1 344.7 282.4 345.0 280.8 345.2 279.2 345.5 277.8 345.7 276.6 345.9 275.6 346.2 275.0 346.4 274.7 346.7 274.9 346.9 275.3 347.1 276.1 347.4 277.2 347.6 278.4 347.9 279.8 348.1 281.4 348.4 283.0 348.6 284.7 348.8 286.4 349.1 288.0 349.3 289.6 349.6 291.0 349.8 292.2 350.0 290.9 350.3 289.6 350.5 288.2 350.8 286.8 351.0 285.4 351.2 283.9 351.5 282.6 351.7 281.3 352.0 280.1 352.2 279.0 352.5 278.1 352.7 277.4 352.9 277.0 353.2 276.7 353.4 276.8 353.7 277.1 353.9 277.6 354.1 278.3 354.4 279.2 354.6 280.1 354.9 281.2 355.1 282.3 355.4 283.5 355.6 284.7 355.8 285.8 356.1 286.8 356.3 287.7 356.6 288.5 356.8 289.2 357.0 289.6 357.3 289.8 357.5 289.8 357.8 289.8 358.0 289.7 358.3 289.7 358.5 289.6 358.7 289.6 359.0 289.5 359.2 289.4 359.5 289.3 359.7 289.3 359.9 289.2 360.2 289.1 360.4 289.1 360.7 289.0 360.9 289.0 361.2 289.0 361.4 289.0 361.6 289.0 361.9 289.0 362.1 289.0 362.4 289.1 362.6 289.1 362.8 289.2 363.1 289.3 363.3 289.3 363.6 289.4 363.8 289.5 364.1 289.5 364.3 289.6 364.5 289.7 364.8 289.7 365.0 289.7 365.3 289.8 365.5 289.8 365.7 289.8 366.0 289.7 366.2 289.6 366.5 289.4 366.7 289.2 367.0 289.0 367.2 288.8 367.4 288.5 367.7 288.2 367.9 287.8 368.2 287.5 368.4 287.1 368.6 286.8 368.9 286.4 369.1 286.0 369.4 285.6 369.6 285.3 369.9 284.9 370.1 284.5 370.3 284.2 370.6 283.8 370.8 283.4 371.1 282.9 371.3 282.4 371.5 281.9 371.8 281.4 372.0 280.8 372.3 280.2 372.5 279.6 372.8 279.0 373.0 278.4 373.2 277.8 373.5 277.2 373.7 276.7 374.0 276.1 374.2 275.6 374.4 275.2 374.7 274.7 374.9 274.4 375.2 274.0 375.4 273.8 375.7 273.6 375.9 273.5 376.1 273.5 376.4 273.6 376.6 274.1 376.9 274.8 377.1 275.7 377.3 276.8 377.6 278.0 377.8 279.4 378.1 280.7 378.3 282.1 378.6 283.4 378.8 284.7 379.0 285.9 379.3 287.0 379.5 287.8 379.8 288.5 380.0 288.9 380.2 289.0 380.5 288.7 380.7 288.2 381.0 287.4 381.2 286.5 381.4 285.6 381.7 284.6 381.9 283.8 382.2 283.1 382.4 282.6 382.7 282.4 382.9 282.5 383.1 282.5 383.4 282.6 383.6 282.8 383.9 283.0 384.1 283.2 384.3 283.4 384.6 283.6 384.8 283.8 385.1 284.0 385.3 284.2 385.6 284.4 385.8 284.6 386.0 284.7 386.3 284.8 386.5 284.9 386.8 284.9 387.0 284.9 387.2 284.9 387.5 284.9 387.7 284.9 388.0 284.9 388.2 284.9 388.5 284.9 388.7 284.9 388.9 284.9 389.2 284.9 389.4 284.9 389.7 284.9 389.9 284.9 390.1 284.9 390.4 285.1 390.6 285.4 390.9 285.8 391.1 286.2 391.4 286.8 391.6 287.4 391.8 288.1 392.1 288.8 392.3 289.6 392.6 290.3 392.8 291.0 393.0 291.7 393.3 292.1 393.5 291.4 393.8 290.7 394.0 289.9 394.3 289.0 394.5 288.1 394.7 287.1 395.0 286.2 395.2 285.2 395.5 284.2 395.7 283.3 395.9 282.4 396.2 281.5 396.4 280.7 396.7 279.9 396.9 279.3 397.2 278.7 397.4 278.2 397.6 277.9 397.9 277.6 398.1 277.5 398.4 277.6 398.6 278.0 398.8 278.5 399.1 279.2 399.3 280.0 399.6 281.0 399.8 282.0 400.1 283.1 400.3 284.1 400.5 285.2 400.8 286.2 401.0 287.2 401.3 288.0 401.5 288.8 401.7 289.3 402.0 289.7 402.2 289.8 402.5 289.6 402.7 289.2 403.0 288.6 403.2 287.8 403.4 286.9 403.7 286.0 403.9 285.0 404.2 284.0 404.4 283.1 404.6 282.4 404.9 281.8 405.1 281.4 405.4 281.1 405.6 280.7 405.9 280.4 406.1 280.1 406.3 279.8 406.6 279.6 406.8 279.4 407.1 279.3 407.3 279.2 407.5 279.2 407.8 279.3 408.0 279.5 408.3 279.8 408.5 280.3 408.8 280.8 409.0 281.4 409.2 282.0 409.5 282.7 409.7 283.5 410.0 284.3 410.2 285.1 410.4 285.9 410.7 286.8 410.9 287.6 411.2 288.5 411.4 289.3 411.6 290.1 411.9 290.9 412.1 291.6 412.4 292.1 412.6 291.4 412.9 290.7 413.1 289.9 413.3 289.1 413.6 288.3 413.8 287.4 414.1 286.6 414.3 285.7 414.5 284.9 414.8 284.1 415.0 283.3 415.3 282.5 415.5 281.8 415.8 281.2 416.0 280.6 416.2 280.1 416.5 279.7 416.7 279.4 417.0 279.3 417.2 279.2 417.4 279.2 417.7 279.4 417.9 279.7 418.2 280.1 418.4 280.6 418.7 281.2 418.9 281.9 419.1 282.6 419.4 283.4 419.6 284.2 419.9 285.1 420.1 286.0 420.3 286.8 420.6 287.7 420.8 288.5 421.1 289.3 421.3 290.1 421.6 290.8 421.8 291.4 422.0 292.0 422.3 291.9 422.5 291.4 422.8 291.0 423.0 290.5 423.2 290.1 423.5 289.6 423.7 289.2 424.0 288.8 424.2 288.4 424.5 288.0 424.7 287.6 424.9 287.2 425.2 286.9 425.4 286.6 425.7 286.3 425.9 286.0 426.1 285.8 426.4 285.5 426.6 285.3 426.9 285.1 427.1 284.8 427.4 284.6 427.6 284.4 427.8 284.2 428.1 284.0 428.3 283.8 428.6 283.6 428.8 283.4 429.0 283.2 429.3 283.1 429.5 282.9 429.8 282.8 430.0 282.7 430.3 282.6 430.5 282.5 430.7 282.5 431.0 282.4 431.2 282.5 431.5 282.6 431.7 283.0 431.9 283.5 432.2 284.1 432.4 284.9 432.7 285.7 432.9 286.6 433.2 287.5 433.4 288.5 433.6 289.4 433.9 290.4 434.1 291.3 434.4 292.1 434.6 291.4 434.8 290.4 435.1 289.4 435.3 288.2 435.6 287.0 435.8 285.8 436.1 284.6 436.3 283.4 436.5 282.2 436.8 281.1 437.0 280.1 437.3 279.1 437.5 278.3 437.7 277.6 438.0 277.1 438.2 276.8 438.5 276.7 438.7 276.8 439.0 277.2 439.2 277.7 439.4 278.4 439.7 279.2 439.9 280.1 440.2 281.2 440.4 282.3 440.6 283.5 440.9 284.7 441.1 285.9 441.4 287.1 441.6 288.3 441.8 289.4 442.1 290.5 442.3 291.5 442.6 292.1 442.8 291.2 443.1 290.3 443.3 289.4 443.5 288.4 443.8 287.4 444.0 286.5 444.3 285.6 444.5 284.8 444.7 284.1 445.0 283.4 445.2 283.0 445.5 282.6 445.7 282.4 446.0 282.5 446.2 282.6 446.4 282.9 446.7 283.2 446.9 283.6 447.2 284.1 447.4 284.7 447.6 285.2 447.9 285.8 448.1 286.4 448.4 286.9 448.6 287.5 448.9 287.9 449.1 288.3 449.3 288.6 449.6 288.9 449.8 289.0 450.1 289.0 450.3 288.9 450.5 288.8 450.8 288.7 451.0 288.6 451.3 288.5 451.5 288.4 451.8 288.3 452.0 288.2 452.2 288.2 452.5 288.2 452.7 288.2 453.0 288.4 453.2 288.6 453.4 288.8 453.7 289.1 453.9 289.4 454.2 289.8 454.4 290.1 454.7 290.5 454.9 291.0 455.1 291.4 455.4 291.8 455.6 292.2 455.9 291.6 456.1 291.0 456.3 290.2 456.6 289.3 456.8 288.3 457.1 287.2 457.3 286.1 457.6 285.0 457.8 283.9 458.0 282.8 458.3 281.8 458.5 280.8 458.8 279.9 459.0 279.1 459.2 278.5 459.5 278.0 459.7 277.7 460.0 277.5 460.2 277.7 460.5 278.3 460.7 279.3 460.9 280.5 461.2 281.8 461.4 283.1 461.7 284.3 461.9 285.4 462.1 286.1 462.4 286.5 462.6 286.5 462.9 286.2 463.1 285.7 463.4 285.1 463.6 284.4 463.8 283.7 464.1 282.9 464.3 282.0 464.6 281.3 464.8 280.6 465.0 280.0 465.3 279.5 465.5 279.2 465.8 279.2 466.0 279.6 466.3 280.4 466.5 281.5 466.7 282.9 467.0 284.3 467.2 285.7 467.5 287.0 467.7 288.1 467.9 288.7 468.2 289.0 468.4 288.9 468.7 288.7 468.9 288.4 469.2 288.1 469.4 287.7 469.6 287.2 469.9 286.8 470.1 286.3 470.4 285.9 470.6 285.5 470.8 285.2 471.1 285.0 471.3 284.9 471.6 284.9 471.8 285.2 472.0 285.5 472.3 286.1 472.5 286.6 472.8 287.2 473.0 287.8 473.3 288.3 473.5 288.7 473.7 288.9 474.0 289.0 474.2 288.9 474.5 288.8 474.7 288.7 474.9 288.5 475.2 288.4 475.4 288.2 475.7 288.0 475.9 287.8 476.2 287.7 476.4 287.5 476.6 287.4 476.9 287.4 477.1 287.3 477.4 287.4 477.6 287.5 477.8 287.6 478.1 287.8 478.3 288.1 478.6 288.3 478.8 288.6 479.1 288.9 479.3 289.1 479.5 289.4 479.8 289.5 480.0 289.7 480.3 289.8 480.5 289.8 480.7 289.6 481.0 289.2 481.2 288.7 481.5 288.1 481.7 287.5 482.0 286.8 482.2 286.0 482.4 285.3 482.7 284.7 482.9 284.1 483.2 283.7 483.4 283.4 483.6 283.3 483.9 283.4 484.1 283.9 484.4 284.6 484.6 285.4 484.9 286.4 485.1 287.3 485.3 288.2 485.6 289.0 485.8 289.5 486.1 289.8 486.3 289.7 486.5 289.4 486.8 288.9 487.0 288.2 487.3 287.4 487.5 286.6 487.8 285.7 488.0 284.8 488.2 283.9 488.5 283.1 488.7 282.5 489.0 282.0 489.2 281.7 489.4 281.6 489.7 281.8 489.9 282.2 490.2 282.7 490.4 283.4 490.7 284.1 490.9 284.9 491.1 285.7 491.4 286.5 491.6 287.3 491.9 287.9 492.1 288.4 492.3 288.8 492.6 289.0 492.8 288.9 493.1 288.8 493.3 288.6 493.6 288.3 493.8 288.0 494.0 287.6 494.3 287.2 494.5 286.8 494.8 286.4 495.0 285.9 495.2 285.5 495.5 285.1 495.7 284.8 496.0 284.5 496.2 284.3 496.5 284.1 496.7 284.1 496.9 284.1 497.2 284.2 497.4 284.4 497.7 284.6 497.9 284.8 498.1 285.1 498.4 285.4 498.6 285.8 498.9 286.1 499.1 286.4 499.4 286.7 499.6 287.0 499.8 287.2 500.1 287.4 500.3 287.6 500.6 287.8 500.8 288.0 501.0 288.2 501.3 288.4 501.5 288.6 501.8 288.8 502.0 288.9 502.2 289.1 502.5 289.2 502.7 289.4 503.0 289.5 503.2 289.6 503.5 289.7 503.7 289.7 503.9 289.8 504.2 289.8 504.4 289.8 504.7 289.8 504.9 289.7 505.1 289.7 505.4 289.7 505.6 289.6 505.9 289.6 506.1 289.5 506.4 289.5 506.6 289.4 506.8 289.3 507.1 289.3 507.3 289.2 507.6 289.1 507.8 289.1 508.0 289.0 508.3 288.9 508.5 288.8 508.8 288.7 509.0 288.5 509.3 288.3 509.5 288.2 509.7 288.0 510.0 287.8 510.2 287.6 510.5 287.4 510.7 287.2 510.9 287.0 511.2 286.9 511.4 286.7 511.7 286.6 511.9 286.6 512.2 286.5 512.4 286.5 512.6 286.6 512.9 286.7 513.1 286.8 513.4 287.0 513.6 287.2 513.8 287.4 514.1 287.6 514.3 287.8 514.6 288.0 514.8 288.2 515.1 288.4 515.3 288.6 515.5 288.7 515.8 288.9 516.0 288.9 516.3 289.0 516.5 289.0 516.7 289.0 517.0 289.0 517.2 289.0 517.5 289.0 517.7 289.0 518.0 289.0 518.2 289.0 518.4 289.0 518.7 289.0 518.9 289.0 519.2 289.0 519.4 289.0 519.6 289.0 519.9 289.0 520.1 289.2 520.4 289.4 520.6 289.7 520.9 290.1 521.1 290.4 521.3 290.8 521.6 291.1 521.8 291.5 522.1 291.7 522.3 292.0 522.5 292.1 522.8 292.2 523.0 292.2 523.3 292.2 523.5 292.2 523.8 292.2 524.0 292.2 524.2 292.2 524.5 292.2 524.7 292.2 525.0 292.2 525.2 292.2 525.4 292.2 525.7 292.2 525.9 292.2 526.2 292.2 526.4 292.2 526.7 292.2 526.9 292.2 527.1 292.2 527.4 292.2 527.6 292.2 527.9 292.2 528.1 292.2 528.3 292.2 528.6 292.2 528.8 292.2 529.1 292.2 529.3 292.2 529.6 292.2 529.8 292.2 530.0 292.2 530.3 292.2 530.5 292.2 530.8 292.2 531.0 292.2" fill="none" stroke="#ff00ff" stroke-width="1" stroke-linejoin="round"/><path d="M47.8 290.4h0M48.5 290.5h0M49.2 290.9h0M50.0 291.5h0M50.7 292.2h0M51.4 291.4h0M51.9 290.9h0M52.6 290.3h0M53.4 289.9h0M54.1 289.8h0M54.8 290.1h0M55.5 290.8h0M56.0 291.4h0M56.5 292.2h0M57.0 291.2h0M57.5 290.3h0M57.9 289.3h0M58.4 288.5h0M58.9 287.8h0M59.6 287.3h0M60.4 287.5h0M60.8 288.0h0M61.3 289.1h0M61.6 289.8h0M61.8 290.6h0M62.1 291.5h0M62.5 290.8h0M62.8 289.7h0M63.0 288.5h0M63.3 287.3h0M63.5 286.2h0M63.7 285.2h0M64.0 284.3h0M64.2 283.5h0M64.7 282.4h0M65.4 282.3h0M65.9 283.2h0M66.2 283.9h0M66.4 284.7h0M66.6 285.7h0M66.9 286.8h0M67.1 287.9h0M67.4 289.1h0M67.6 290.4h0M67.9 291.6h0M68.3 290.4h0M68.6 289.3h0M68.8 288.3h0M69.1 287.3h0M69.3 286.5h0M69.5 285.7h0M70.0 284.6h0M70.5 284.0h0M71.2 284.1h0M71.7 284.7h0M72.2 285.9h0M72.4 286.7h0M72.7 287.6h0M72.9 288.5h0M73.2 289.6h0M73.4 290.7h0M73.7 291.8h0M74.1 290.2h0M74.4 289.0h0M74.6 287.8h0M74.9 286.7h0M75.1 285.7h0M75.3 284.8h0M75.6 284.0h0M75.8 283.3h0M76.3 282.3h0M77.0 282.2h0M77.5 283.0h0M77.8 283.7h0M78.0 284.5h0M78.2 285.5h0M78.5 286.6h0M78.7 287.8h0M79.0 289.2h0M79.2 290.6h0M79.4 292.1h0M79.7 290.9h0M79.9 289.3h0M80.2 287.9h0M80.4 286.4h0M80.7 285.0h0M80.9 283.7h0M81.1 282.6h0M81.4 281.5h0M81.6 280.7h0M81.9 279.9h0M82.3 279.1h0M83.1 279.4h0M83.6 280.6h0M83.8 281.5h0M84.0 282.7h0M84.3 284.2h0M84.5 285.9h0M84.8 287.9h0M85.0 290.1h0M85.2 292.0h0M85.5 289.4h0M85.7 286.8h0M86.0 284.1h0M86.2 281.5h0M86.5 278.8h0M86.7 276.4h0M86.9 274.1h0M87.2 272.1h0M87.4 270.4h0M87.7 269.1h0M87.9 268.2h0M88.6 268.3h0M88.9 269.2h0M89.1 270.5h0M89.4 272.2h0M89.6 274.4h0M89.8 276.9h0M90.1 279.7h0M90.3 282.8h0M90.6 286.2h0M90.8 289.7h0M91.0 291.1h0M91.3 287.4h0M91.5 283.8h0M91.8 280.3h0M92.0 276.9h0M92.3 273.8h0M92.5 271.0h0M92.7 268.5h0M93.0 266.5h0M93.2 264.9h0M93.5 263.8h0M93.9 263.1h0M94.4 264.7h0M94.7 266.2h0M94.9 268.2h0M95.2 270.7h0M95.4 273.4h0M95.6 276.5h0M95.9 279.8h0M96.1 283.3h0M96.4 286.9h0M96.6 290.4h0M97.1 287.0h0M97.3 283.8h0M97.6 280.8h0M97.8 278.1h0M98.1 275.6h0M98.3 273.5h0M98.5 271.7h0M98.8 270.3h0M99.0 269.3h0M99.5 268.4h0M100.0 269.1h0M100.2 270.0h0M100.5 271.3h0M100.7 273.0h0M101.0 275.0h0M101.2 277.2h0M101.4 279.7h0M101.7 282.4h0M101.9 285.3h0M102.2 288.3h0M102.4 291.3h0M102.6 290.1h0M102.9 287.1h0M103.1 284.2h0M103.4 281.5h0M103.6 279.0h0M103.9 276.7h0M104.1 274.7h0M104.3 273.0h0M104.6 271.6h0M104.8 270.6h0M105.3 269.6h0M106.0 270.9h0M106.3 271.9h0M106.5 273.3h0M106.8 275.1h0M107.0 277.1h0M107.2 279.5h0M107.5 282.2h0M107.7 285.2h0M108.0 288.4h0M108.2 291.8h0M108.4 289.0h0M108.7 285.3h0M108.9 281.5h0M109.2 277.8h0M109.4 274.2h0M109.6 270.8h0M109.9 267.6h0M110.1 264.8h0M110.4 262.4h0M110.6 260.5h0M110.9 259.1h0M111.1 258.3h0M111.8 259.6h0M112.1 261.2h0M112.3 263.4h0M112.5 266.1h0M112.8 269.5h0M113.0 273.3h0M113.3 277.7h0M113.5 282.4h0M113.8 287.5h0M114.0 291.7h0M114.2 286.2h0M114.5 280.8h0M114.7 275.4h0M115.0 270.2h0M115.2 265.3h0M115.4 260.9h0M115.7 256.9h0M115.9 253.6h0M116.2 250.9h0M116.4 249.0h0M116.7 247.9h0M117.4 249.6h0M117.6 251.7h0M117.9 254.5h0M118.1 258.0h0M118.3 262.0h0M118.6 266.6h0M118.8 271.6h0M119.1 277.0h0M119.3 282.5h0M119.6 288.2h0M119.8 290.5h0M120.0 284.9h0M120.3 279.4h0M120.5 274.3h0M120.8 269.5h0M121.0 265.1h0M121.2 261.3h0M121.5 258.1h0M121.7 255.5h0M122.0 253.6h0M122.2 252.3h0M122.9 252.9h0M123.2 254.5h0M123.4 256.8h0M123.7 259.7h0M123.9 263.2h0M124.1 267.1h0M124.4 271.3h0M124.6 275.8h0M124.9 280.4h0M125.1 285.2h0M125.4 289.9h0M125.8 285.5h0M126.1 281.3h0M126.3 277.4h0M126.6 273.9h0M126.8 270.8h0M127.0 268.1h0M127.3 265.8h0M127.5 264.0h0M127.8 262.6h0M128.0 261.8h0M128.7 262.0h0M129.0 263.0h0M129.2 264.6h0M129.5 266.6h0M129.7 269.0h0M129.9 271.9h0M130.2 275.1h0M130.4 278.7h0M130.7 282.6h0M130.9 286.7h0M131.2 290.9h0M131.4 289.2h0M131.6 284.8h0M131.9 280.5h0M132.1 276.3h0M132.4 272.3h0M132.6 268.5h0M132.8 265.2h0M133.1 262.2h0M133.3 259.7h0M133.6 257.7h0M133.8 256.3h0M134.1 255.5h0M134.8 256.7h0M135.0 258.3h0M135.3 260.5h0M135.5 263.4h0M135.7 266.8h0M136.0 270.8h0M136.2 275.4h0M136.5 280.4h0M136.7 285.9h0M137.0 291.6h0M137.2 286.8h0M137.4 280.7h0M137.7 274.7h0M137.9 268.7h0M138.2 263.0h0M138.4 257.8h0M138.6 253.0h0M138.9 248.9h0M139.1 245.5h0M139.4 242.9h0M139.6 241.2h0M139.8 240.5h0M140.3 241.9h0M140.6 244.0h0M140.8 246.9h0M141.1 250.6h0M141.3 255.1h0M141.5 260.2h0M141.8 266.0h0M142.0 272.3h0M142.3 278.9h0M142.5 285.8h0M142.7 291.5h0M143.0 284.4h0M143.2 277.4h0M143.5 270.7h0M143.7 264.2h0M144.0 258.3h0M144.2 253.0h0M144.4 248.3h0M144.7 244.4h0M144.9 241.3h0M145.2 239.1h0M145.4 237.9h0M146.1 240.2h0M146.4 243.0h0M146.6 246.7h0M146.9 251.2h0M147.1 256.4h0M147.3 262.2h0M147.6 268.3h0M147.8 274.7h0M148.1 281.2h0M148.3 287.7h0M148.5 290.3h0M148.8 284.2h0M149.0 278.5h0M149.3 273.2h0M149.5 268.4h0M149.8 264.2h0M150.0 260.5h0M150.2 257.4h0M150.5 255.0h0M150.7 253.2h0M151.0 252.0h0M151.4 251.3h0M151.9 253.2h0M152.2 255.3h0M152.4 257.9h0M152.7 261.2h0M152.9 265.0h0M153.1 269.2h0M153.4 273.9h0M153.6 278.9h0M153.9 284.1h0M154.1 289.5h0M154.6 284.1h0M154.8 278.8h0M155.1 273.8h0M155.3 269.1h0M155.6 264.8h0M155.8 260.9h0M156.0 257.6h0M156.3 254.9h0M156.5 252.8h0M156.8 251.4h0M157.0 250.7h0M157.5 251.4h0M157.7 252.8h0M158.0 254.8h0M158.2 257.4h0M158.5 260.7h0M158.7 264.6h0M158.9 268.9h0M159.2 273.8h0M159.4 279.0h0M159.7 284.6h0M159.9 290.4h0M160.1 288.0h0M160.4 282.0h0M160.6 276.0h0M160.9 270.2h0M161.1 264.7h0M161.4 259.5h0M161.6 254.9h0M161.8 250.8h0M162.1 247.4h0M162.3 244.7h0M162.6 242.8h0M162.8 241.8h0M163.3 242.4h0M163.5 244.0h0M163.8 246.5h0M164.0 249.8h0M164.3 253.9h0M164.5 258.8h0M164.7 264.4h0M165.0 270.5h0M165.2 277.1h0M165.5 284.2h0M165.7 291.5h0M165.9 285.5h0M166.2 278.1h0M166.4 270.8h0M166.7 263.8h0M166.9 257.2h0M167.2 251.2h0M167.4 245.8h0M167.6 241.3h0M167.9 237.6h0M168.1 235.0h0M168.4 233.3h0M169.1 235.0h0M169.3 237.6h0M169.6 241.3h0M169.8 245.8h0M170.0 251.2h0M170.3 257.2h0M170.5 263.8h0M170.8 270.8h0M171.0 278.1h0M171.3 285.5h0M171.5 291.5h0M171.7 284.2h0M172.0 277.1h0M172.2 270.5h0M172.5 264.4h0M172.7 258.8h0M172.9 253.9h0M173.2 249.8h0M173.4 246.5h0M173.7 244.0h0M173.9 242.4h0M174.2 241.7h0M174.6 242.8h0M174.9 244.7h0M175.1 247.4h0M175.4 250.8h0M175.6 254.9h0M175.8 259.5h0M176.1 264.7h0M176.3 270.2h0M176.6 276.0h0M176.8 282.0h0M177.1 288.0h0M177.3 290.4h0M177.5 284.6h0M177.8 279.0h0M178.0 273.8h0M178.3 268.9h0M178.5 264.6h0M178.7 260.7h0M179.0 257.4h0M179.2 254.8h0M179.5 252.8h0M179.7 251.4h0M180.0 250.7h0M180.4 251.4h0M180.7 252.8h0M180.9 254.9h0M181.2 257.6h0M181.4 260.9h0M181.6 264.8h0M181.9 269.1h0M182.1 273.8h0M182.4 278.8h0M182.6 284.1h0M182.9 289.5h0M183.3 284.1h0M183.6 278.9h0M183.8 273.9h0M184.1 269.2h0M184.3 265.0h0M184.5 261.2h0M184.8 257.9h0M185.0 255.3h0M185.3 253.2h0M185.5 251.9h0M186.0 251.3h0M186.5 253.2h0M186.7 255.0h0M187.0 257.4h0M187.2 260.5h0M187.4 264.2h0M187.7 268.4h0M187.9 273.2h0M188.2 278.5h0M188.4 284.2h0M188.7 290.3h0M188.9 287.7h0M189.1 281.2h0M189.4 274.7h0M189.6 268.3h0M189.9 262.2h0M190.1 256.4h0M190.3 251.2h0M190.6 246.7h0M190.8 243.0h0M191.1 240.2h0M191.3 238.3h0M191.6 237.6h0M192.0 239.1h0M192.3 241.3h0M192.5 244.4h0M192.8 248.3h0M193.0 253.0h0M193.2 258.3h0M193.5 264.2h0M193.7 270.7h0M194.0 277.4h0M194.2 284.4h0M194.5 291.5h0M194.7 285.8h0M194.9 278.9h0M195.2 272.3h0M195.4 266.0h0M195.7 260.2h0M195.9 255.1h0M196.1 250.6h0M196.4 246.9h0M196.6 244.0h0M196.9 241.9h0M197.1 240.8h0M197.8 242.9h0M198.1 245.5h0M198.3 248.9h0M198.6 253.0h0M198.8 257.8h0M199.0 263.0h0M199.3 268.7h0M199.5 274.7h0M199.8 280.7h0M200.0 286.8h0M200.2 291.6h0M200.5 285.9h0M200.7 280.4h0M201.0 275.4h0M201.2 270.8h0M201.5 266.8h0M201.7 263.4h0M201.9 260.5h0M202.2 258.3h0M202.4 256.7h0M202.7 255.7h0M203.4 256.3h0M203.6 257.7h0M203.9 259.7h0M204.1 262.2h0M204.4 265.2h0M204.6 268.5h0M204.8 272.3h0M205.1 276.3h0M205.3 280.5h0M205.6 284.8h0M205.8 289.2h0M206.0 290.9h0M206.3 286.7h0M206.5 282.6h0M206.8 278.7h0M207.0 275.1h0M207.3 271.9h0M207.5 269.0h0M207.7 266.6h0M208.0 264.6h0M208.2 263.0h0M208.5 262.0h0M208.9 261.3h0M209.4 262.6h0M209.7 264.0h0M209.9 265.8h0M210.2 268.1h0M210.4 270.8h0M210.6 273.9h0M210.9 277.4h0M211.1 281.3h0M211.4 285.5h0M211.6 289.9h0M212.1 285.2h0M212.3 280.4h0M212.6 275.8h0M212.8 271.3h0M213.1 267.1h0M213.3 263.2h0M213.5 259.7h0M213.8 256.8h0M214.0 254.5h0M214.3 252.9h0M214.5 252.0h0M215.2 253.6h0M215.5 255.5h0M215.7 258.1h0M216.0 261.3h0M216.2 265.1h0M216.4 269.5h0M216.7 274.3h0M216.9 279.4h0M217.2 284.9h0M217.4 290.5h0M217.6 288.2h0M217.9 282.5h0M218.1 277.0h0M218.4 271.6h0M218.6 266.6h0M218.9 262.0h0M219.1 258.0h0M219.3 254.5h0M219.6 251.7h0M219.8 249.6h0M220.1 248.2h0M220.8 249.0h0M221.0 250.9h0M221.3 253.6h0M221.5 256.9h0M221.8 260.9h0M222.0 265.3h0M222.2 270.2h0M222.5 275.4h0M222.7 280.8h0M223.0 286.2h0M223.2 291.7h0M223.4 287.5h0M223.7 282.4h0M223.9 277.7h0M224.2 273.3h0M224.4 269.5h0M224.7 266.1h0M224.9 263.4h0M225.1 261.2h0M225.4 259.6h0M225.6 258.6h0M226.3 259.1h0M226.6 260.5h0M226.8 262.4h0M227.1 264.8h0M227.3 267.6h0M227.6 270.8h0M227.8 274.2h0M228.0 277.8h0M228.3 281.5h0M228.5 285.3h0M228.8 289.0h0M229.0 291.8h0M229.2 288.4h0M229.5 285.2h0M229.7 282.2h0M230.0 279.5h0M230.2 277.1h0M230.4 275.1h0M230.7 273.3h0M230.9 271.9h0M231.2 270.9h0M231.4 270.1h0M232.1 269.9h0M232.6 271.6h0M232.9 273.0h0M233.1 274.7h0M233.3 276.7h0M233.6 279.0h0M233.8 281.5h0M234.1 284.2h0M234.3 287.1h0M234.6 290.1h0M234.8 291.3h0M235.0 288.3h0M235.3 285.3h0M235.5 282.4h0M235.8 279.7h0M236.0 277.2h0M236.2 275.0h0M236.5 273.0h0M236.7 271.3h0M237.0 270.0h0M237.2 269.1h0M237.7 268.4h0M238.2 269.3h0M238.4 270.3h0M238.7 271.7h0M238.9 273.5h0M239.1 275.6h0M239.4 278.1h0M239.6 280.8h0M239.9 283.8h0M240.1 287.0h0M240.4 290.5h0M240.8 286.9h0M241.1 283.3h0M241.3 279.8h0M241.6 276.5h0M241.8 273.4h0M242.0 270.7h0M242.3 268.2h0M242.5 266.2h0M242.8 264.7h0M243.0 263.6h0M243.7 263.8h0M244.0 264.9h0M244.2 266.5h0M244.5 268.5h0M244.7 271.0h0M244.9 273.8h0M245.2 276.9h0M245.4 280.3h0M245.7 283.8h0M245.9 287.4h0M246.2 291.1h0M246.4 289.7h0M246.6 286.2h0M246.9 282.8h0M247.1 279.7h0M247.4 276.9h0M247.6 274.4h0M247.8 272.2h0M248.1 270.5h0M248.3 269.2h0M248.6 268.3h0M249.3 268.2h0M249.5 269.1h0M249.8 270.4h0M250.0 272.1h0M250.3 274.1h0M250.5 276.4h0M250.7 278.8h0M251.0 281.5h0M251.2 284.1h0M251.5 286.8h0M251.7 289.4h0M252.0 292.0h0M252.2 290.1h0M252.4 287.9h0M252.7 285.9h0M252.9 284.2h0M253.2 282.7h0M253.4 281.5h0M253.6 280.6h0M253.9 279.8h0M254.4 279.1h0M255.1 279.4h0M255.6 280.7h0M255.8 281.5h0M256.1 282.6h0M256.3 283.7h0M256.5 285.0h0M256.8 286.4h0M257.0 287.9h0M257.3 289.3h0M257.5 290.9h0M257.8 292.1h0M258.0 290.6h0M258.2 289.2h0M258.5 287.8h0M258.7 286.6h0M259.0 285.5h0M259.2 284.5h0M259.4 283.7h0M259.7 283.0h0M260.2 282.2h0M260.9 282.3h0M261.4 283.3h0M261.6 284.0h0M261.9 284.8h0M262.1 285.7h0M262.3 286.7h0M262.6 287.8h0M262.8 289.0h0M263.1 290.2h0M263.3 291.4h0M263.8 290.7h0M264.0 289.6h0M264.3 288.5h0M264.5 287.6h0M264.8 286.7h0M265.0 285.9h0M265.5 284.7h0M266.0 284.1h0M266.7 284.0h0M267.2 284.6h0M267.7 285.7h0M267.9 286.5h0M268.1 287.3h0M268.4 288.3h0M268.6 289.3h0M268.9 290.4h0M269.1 291.6h0M269.6 290.4h0M269.8 289.1h0M270.1 287.9h0M270.3 286.8h0M270.6 285.7h0M270.8 284.7h0M271.0 283.9h0M271.3 283.2h0M271.8 282.3h0M272.5 282.4h0M273.0 283.5h0M273.2 284.3h0M273.5 285.2h0M273.7 286.2h0M273.9 287.4h0M274.2 288.5h0M274.4 289.7h0M274.7 290.8h0M274.9 291.9h0M275.4 290.6h0M275.6 289.8h0M275.9 289.1h0M276.4 288.1h0M276.8 287.5h0M277.6 287.3h0M278.3 287.8h0M278.8 288.4h0M279.3 289.2h0M279.7 290.2h0M280.2 291.2h0M280.7 292.2h0M281.2 291.4h0M281.7 290.6h0M282.2 290.0h0M282.9 289.4h0M283.6 289.2h0M284.3 289.4h0M285.1 290.0h0M285.5 290.6h0M286.0 291.3h0M286.5 292.2h0M287.2 292.2h0M288.0 292.2h0M288.7 292.1h0M289.4 291.9h0M290.1 291.5h0M290.8 291.1h0M291.6 290.6h0M292.3 290.1h0M293.0 289.6h0M293.7 289.3h0M294.5 288.9h0M295.2 288.8h0M295.9 288.9h0M296.6 289.2h0M297.4 289.4h0M298.1 289.2h0M298.6 288.3h0M299.1 287.3h0M299.5 286.3h0M300.0 285.6h0M300.8 285.8h0M301.2 286.8h0M301.5 287.6h0M301.7 288.4h0M302.0 289.2h0M302.2 290.0h0M302.4 290.8h0M302.7 291.5h0M303.4 291.5h0M303.9 290.7h0M304.4 289.9h0M304.9 289.2h0M305.6 288.8h0M306.3 289.1h0M306.8 289.7h0M307.3 290.4h0M307.8 291.2h0M308.2 292.0h0M309.0 291.2h0M309.5 290.2h0M309.9 289.2h0M310.4 288.5h0M311.1 288.1h0M311.9 288.7h0M312.4 289.5h0M312.8 290.5h0M313.3 291.4h0M313.8 292.0h0M314.3 290.9h0M314.8 289.6h0M315.0 288.9h0M315.3 288.2h0M315.5 287.4h0M315.7 286.7h0M316.0 286.0h0M316.2 285.2h0M316.5 284.5h0M316.9 283.3h0M317.4 282.3h0M317.9 281.6h0M318.6 281.5h0M319.1 282.2h0M319.6 283.4h0M319.8 284.2h0M320.1 285.1h0M320.3 286.0h0M320.6 287.0h0M320.8 288.1h0M321.0 289.2h0M321.3 290.3h0M321.5 291.3h0M322.0 290.6h0M322.3 288.9h0M322.5 286.9h0M322.7 284.8h0M323.0 282.7h0M323.2 280.7h0M323.5 279.1h0M323.7 277.7h0M323.9 276.9h0M324.7 277.7h0M324.9 278.7h0M325.2 280.0h0M325.4 281.5h0M325.6 283.1h0M325.9 284.8h0M326.1 286.5h0M326.4 288.1h0M326.6 289.7h0M326.8 291.1h0M327.1 292.1h0M327.3 291.0h0M327.6 289.8h0M327.8 288.5h0M328.1 287.3h0M328.3 286.0h0M328.5 284.8h0M328.8 283.7h0M329.0 282.8h0M329.3 282.0h0M329.7 280.9h0M330.5 281.2h0M331.0 282.6h0M331.2 283.6h0M331.4 284.7h0M331.7 285.8h0M331.9 287.0h0M332.2 288.2h0M332.4 289.4h0M332.6 290.5h0M332.9 291.5h0M333.6 290.2h0M333.9 289.3h0M334.1 288.3h0M334.3 287.3h0M334.6 286.5h0M334.8 285.7h0M335.1 285.0h0M335.5 284.2h0M336.3 285.1h0M336.5 286.1h0M336.8 287.3h0M337.0 288.6h0M337.2 289.9h0M337.5 291.1h0M337.7 292.1h0M338.2 290.7h0M338.4 289.9h0M338.7 289.1h0M338.9 288.3h0M339.2 287.5h0M339.4 286.9h0M339.9 285.9h0M340.6 285.5h0M341.1 286.0h0M341.6 287.1h0M341.8 287.8h0M342.1 288.6h0M342.3 289.4h0M342.6 290.3h0M342.8 291.1h0M343.0 291.9h0M343.5 290.4h0M343.8 289.0h0M344.0 287.5h0M344.2 285.9h0M344.5 284.1h0M344.7 282.4h0M345.0 280.8h0M345.2 279.2h0M345.5 277.8h0M345.7 276.6h0M345.9 275.6h0M346.4 274.7h0M346.9 275.3h0M347.1 276.1h0M347.4 277.2h0M347.6 278.4h0M347.9 279.8h0M348.1 281.4h0M348.4 283.0h0M348.6 284.7h0M348.8 286.4h0M349.1 288.0h0M349.3 289.6h0M349.6 291.0h0M349.8 292.2h0M350.0 290.9h0M350.3 289.6h0M350.5 288.2h0M350.8 286.8h0M351.0 285.4h0M351.2 283.9h0M351.5 282.6h0M351.7 281.3h0M352.0 280.1h0M352.2 279.0h0M352.5 278.1h0M352.7 277.4h0M353.2 276.7h0M353.9 277.6h0M354.1 278.3h0M354.4 279.2h0M354.6 280.1h0M354.9 281.2h0M355.1 282.3h0M355.4 283.5h0M355.6 284.7h0M355.8 285.8h0M356.1 286.8h0M356.3 287.7h0M356.6 288.5h0M357.0 289.6h0M357.8 289.8h0M358.5 289.6h0M359.2 289.4h0M359.9 289.2h0M360.7 289.0h0M361.4 289.0h0M362.1 289.0h0M362.8 289.2h0M363.6 289.4h0M364.3 289.6h0M365.0 289.7h0M365.7 289.8h0M366.5 289.4h0M367.2 288.8h0M367.7 288.2h0M368.2 287.5h0M368.6 286.8h0M369.1 286.0h0M369.6 285.3h0M370.1 284.5h0M370.6 283.8h0M371.1 282.9h0M371.5 281.9h0M372.0 280.8h0M372.5 279.6h0M373.0 278.4h0M373.5 277.2h0M374.0 276.1h0M374.4 275.2h0M374.9 274.4h0M375.4 273.8h0M376.1 273.5h0M376.6 274.1h0M376.9 274.8h0M377.1 275.7h0M377.3 276.8h0M377.6 278.0h0M377.8 279.4h0M378.1 280.7h0M378.3 282.1h0M378.6 283.4h0M378.8 284.7h0M379.0 285.9h0M379.3 287.0h0M379.5 287.8h0M380.0 288.9h0M380.7 288.2h0M381.0 287.4h0M381.2 286.5h0M381.4 285.6h0M381.7 284.6h0M381.9 283.8h0M382.2 283.1h0M382.7 282.4h0M383.4 282.6h0M384.1 283.2h0M384.8 283.8h0M385.6 284.4h0M386.3 284.8h0M387.0 284.9h0M387.7 284.9h0M388.5 284.9h0M389.2 284.9h0M389.9 284.9h0M390.6 285.4h0M391.1 286.2h0M391.6 287.4h0M391.8 288.1h0M392.1 288.8h0M392.3 289.6h0M392.6 290.3h0M392.8 291.0h0M393.0 291.7h0M393.8 290.7h0M394.0 289.9h0M394.3 289.0h0M394.5 288.1h0M394.7 287.1h0M395.0 286.2h0M395.2 285.2h0M395.5 284.2h0M395.7 283.3h0M395.9 282.4h0M396.2 281.5h0M396.4 280.7h0M396.7 279.9h0M396.9 279.3h0M397.4 278.2h0M397.9 277.6h0M398.6 278.0h0M399.1 279.2h0M399.3 280.0h0M399.6 281.0h0M399.8 282.0h0M400.1 283.1h0M400.3 284.1h0M400.5 285.2h0M400.8 286.2h0M401.0 287.2h0M401.3 288.0h0M401.5 288.8h0M402.0 289.7h0M402.7 289.2h0M403.2 287.8h0M403.4 286.9h0M403.7 286.0h0M403.9 285.0h0M404.2 284.0h0M404.4 283.1h0M404.6 282.4h0M405.1 281.4h0M405.6 280.7h0M406.1 280.1h0M406.6 279.6h0M407.3 279.2h0M408.0 279.5h0M408.5 280.3h0M409.0 281.4h0M409.5 282.7h0M409.7 283.5h0M410.0 284.3h0M410.2 285.1h0M410.4 285.9h0M410.7 286.8h0M410.9 287.6h0M411.2 288.5h0M411.4 289.3h0M411.6 290.1h0M411.9 290.9h0M412.1 291.6h0M412.9 290.7h0M413.1 289.9h0M413.3 289.1h0M413.6 288.3h0M413.8 287.4h0M414.1 286.6h0M414.3 285.7h0M414.5 284.9h0M414.8 284.1h0M415.0 283.3h0M415.3 282.5h0M415.5 281.8h0M416.0 280.6h0M416.5 279.7h0M417.2 279.2h0M417.9 279.7h0M418.4 280.6h0M418.9 281.9h0M419.1 282.6h0M419.4 283.4h0M419.6 284.2h0M419.9 285.1h0M420.1 286.0h0M420.3 286.8h0M420.6 287.7h0M420.8 288.5h0M421.1 289.3h0M421.3 290.1h0M421.6 290.8h0M422.0 292.0h0M422.5 291.4h0M423.0 290.5h0M423.5 289.6h0M424.0 288.8h0M424.5 288.0h0M424.9 287.2h0M425.4 286.6h0M425.9 286.0h0M426.6 285.3h0M427.4 284.6h0M428.1 284.0h0M428.8 283.4h0M429.5 282.9h0M430.3 282.6h0M431.0 282.4h0M431.7 283.0h0M432.2 284.1h0M432.4 284.9h0M432.7 285.7h0M432.9 286.6h0M433.2 287.5h0M433.4 288.5h0M433.6 289.4h0M433.9 290.4h0M434.1 291.3h0M434.4 292.1h0M434.6 291.4h0M434.8 290.4h0M435.1 289.4h0M435.3 288.2h0M435.6 287.0h0M435.8 285.8h0M436.1 284.6h0M436.3 283.4h0M436.5 282.2h0M436.8 281.1h0M437.0 280.1h0M437.3 279.1h0M437.5 278.3h0M437.7 277.6h0M438.2 276.8h0M439.0 277.2h0M439.4 278.4h0M439.7 279.2h0M439.9 280.1h0M440.2 281.2h0M440.4 282.3h0M440.6 283.5h0M440.9 284.7h0M441.1 285.9h0M441.4 287.1h0M441.6 288.3h0M441.8 289.4h0M442.1 290.5h0M442.3 291.5h0M443.1 290.3h0M443.3 289.4h0M443.5 288.4h0M443.8 287.4h0M444.0 286.5h0M444.3 285.6h0M444.5 284.8h0M444.7 284.1h0M445.2 283.0h0M446.0 282.5h0M446.7 283.2h0M447.2 284.1h0M447.6 285.2h0M448.1 286.4h0M448.6 287.5h0M449.1 288.3h0M449.6 288.9h0M450.3 288.9h0M451.0 288.6h0M451.8 288.3h0M452.5 288.2h0M453.2 288.6h0M453.7 289.1h0M454.2 289.8h0M454.7 290.5h0M455.1 291.4h0M455.6 292.2h0M456.1 291.0h0M456.3 290.2h0M456.6 289.3h0M456.8 288.3h0M457.1 287.2h0M457.3 286.1h0M457.6 285.0h0M457.8 283.9h0M458.0 282.8h0M458.3 281.8h0M458.5 280.8h0M458.8 279.9h0M459.0 279.1h0M459.5 278.0h0M460.2 277.7h0M460.7 279.3h0M460.9 280.5h0M461.2 281.8h0M461.4 283.1h0M461.7 284.3h0M461.9 285.4h0M462.1 286.1h0M462.9 286.2h0M463.4 285.1h0M463.6 284.4h0M463.8 283.7h0M464.1 282.9h0M464.3 282.0h0M464.6 281.3h0M464.8 280.6h0M465.3 279.5h0M466.0 279.6h0M466.3 280.4h0M466.5 281.5h0M466.7 282.9h0M467.0 284.3h0M467.2 285.7h0M467.5 287.0h0M467.7 288.1h0M467.9 288.7h0M468.7 288.7h0M469.2 288.1h0M469.6 287.2h0M470.1 286.3h0M470.6 285.5h0M471.1 285.0h0M471.8 285.2h0M472.3 286.1h0M472.8 287.2h0M473.3 288.3h0M473.7 288.9h0M474.5 288.8h0M475.2 288.4h0M475.9 287.8h0M476.6 287.4h0M477.4 287.4h0M478.1 287.8h0M478.8 288.6h0M479.3 289.1h0M480.0 289.7h0M480.7 289.6h0M481.2 288.7h0M481.7 287.5h0M482.0 286.8h0M482.2 286.0h0M482.4 285.3h0M482.9 284.1h0M483.4 283.4h0M484.1 283.9h0M484.4 284.6h0M484.6 285.4h0M484.9 286.4h0M485.1 287.3h0M485.3 288.2h0M485.6 289.0h0M486.1 289.8h0M486.8 288.9h0M487.0 288.2h0M487.3 287.4h0M487.5 286.6h0M487.8 285.7h0M488.0 284.8h0M488.2 283.9h0M488.5 283.1h0M489.0 282.0h0M489.7 281.8h0M490.2 282.7h0M490.7 284.1h0M490.9 284.9h0M491.1 285.7h0M491.4 286.5h0M491.6 287.3h0M492.1 288.4h0M492.6 289.0h0M493.3 288.6h0M493.8 288.0h0M494.3 287.2h0M494.8 286.4h0M495.2 285.5h0M495.7 284.8h0M496.2 284.3h0M496.9 284.1h0M497.7 284.6h0M498.1 285.1h0M498.6 285.8h0M499.1 286.4h0M499.6 287.0h0M500.3 287.6h0M501.0 288.2h0M501.8 288.8h0M502.5 289.2h0M503.2 289.6h0M503.9 289.8h0M504.7 289.8h0M505.4 289.7h0M506.1 289.5h0M506.8 289.3h0M507.6 289.1h0M508.3 288.9h0M509.0 288.5h0M509.7 288.0h0M510.5 287.4h0M511.2 286.9h0M511.9 286.6h0M512.6 286.6h0M513.4 287.0h0M514.1 287.6h0M514.8 288.2h0M515.5 288.7h0M516.3 289.0h0M517.0 289.0h0M517.7 289.0h0M518.4 289.0h0M519.2 289.0h0M519.9 289.0h0M520.6 289.7h0M521.1 290.4h0M521.6 291.1h0M522.1 291.7h0M522.8 292.2h0M523.5 292.2h0M524.2 292.2h0M525.0 292.2h0M525.7 292.2h0M526.4 292.2h0M527.1 292.2h0M527.9 292.2h0M528.6 292.2h0M529.3 292.2h0M530.0 292.2h0M530.8 292.2h0" fill="none" stroke="#ff00ff" stroke-width="3.1" stroke-linecap="round"/>
<path d="M47.8 285.2 48.0 285.1 48.3 285.0 48.5 284.8 48.8 284.7 49.0 284.5 49.2 284.4 49.5 284.2 49.7 284.0 50.0 283.9 50.2 283.6 50.5 283.4 50.7 283.1 50.9 282.9 51.2 282.6 51.4 282.3 51.7 282.0 51.9 281.7 52.1 281.4 52.4 281.2 52.6 281.0 52.9 280.8 53.1 280.6 53.4 280.5 53.6 280.5 53.8 280.5 54.1 280.6 54.3 280.7 54.6 280.9 54.8 281.2 55.0 281.4 55.3 281.7 55.5 282.0 55.8 282.3 56.0 282.6 56.3 282.9 56.5 283.1 56.7 283.3 57.0 283.4 57.2 283.5 57.5 283.5 57.7 283.6 57.9 283.7 58.2 283.7 58.4 283.8 58.7 283.8 58.9 283.9 59.2 283.9 59.4 283.9 59.6 284.0 59.9 284.0 60.1 284.0 60.4 284.1 60.6 284.1 60.8 284.1 61.1 284.1 61.3 284.0 61.6 283.8 61.8 283.5 62.1 283.1 62.3 282.6 62.5 282.1 62.8 281.5 63.0 280.9 63.3 280.3 63.5 279.6 63.7 278.9 64.0 278.3 64.2 277.6 64.5 277.0 64.7 276.5 65.0 276.0 65.2 275.5 65.4 275.2 65.7 274.9 65.9 274.8 66.2 274.7 66.4 274.9 66.6 275.4 66.9 276.1 67.1 276.9 67.4 277.9 67.6 278.8 67.9 279.8 68.1 280.7 68.3 281.5 68.6 282.2 68.8 282.6 69.1 282.7 69.3 282.6 69.5 282.4 69.8 282.0 70.0 281.5 70.3 281.0 70.5 280.5 70.8 279.9 71.0 279.5 71.2 279.1 71.5 278.8 71.7 278.7 72.0 278.8 72.2 279.2 72.4 279.7 72.7 280.3 72.9 281.1 73.2 281.8 73.4 282.6 73.7 283.3 73.9 284.0 74.1 284.4 74.4 284.7 74.6 284.9 74.9 285.0 75.1 285.2 75.3 285.3 75.6 285.4 75.8 285.5 76.1 285.6 76.3 285.7 76.6 285.8 76.8 285.8 77.0 285.8 77.3 285.8 77.5 285.6 77.8 285.2 78.0 284.8 78.2 284.2 78.5 283.6 78.7 283.0 79.0 282.3 79.2 281.6 79.4 280.9 79.7 280.2 79.9 279.6 80.2 279.1 80.4 278.6 80.7 278.3 80.9 278.1 81.1 278.1 81.4 278.1 81.6 278.1 81.9 278.2 82.1 278.3 82.3 278.4 82.6 278.5 82.8 278.5 83.1 278.6 83.3 278.7 83.6 278.7 83.8 278.7 84.0 278.7 84.3 278.5 84.5 278.3 84.8 278.1 85.0 277.8 85.2 277.5 85.5 277.1 85.7 276.8 86.0 276.4 86.2 276.1 86.5 275.7 86.7 275.4 86.9 275.2 87.2 275.0 87.4 274.8 87.7 274.7 87.9 274.8 88.1 275.1 88.4 275.7 88.6 276.5 88.9 277.5 89.1 278.5 89.4 279.7 89.6 280.8 89.8 282.0 90.1 283.0 90.3 283.9 90.6 284.7 90.8 285.2 91.0 285.4 91.3 285.4 91.5 285.3 91.8 285.2 92.0 285.1 92.3 284.9 92.5 284.7 92.7 284.4 93.0 284.1 93.2 283.8 93.5 283.5 93.7 283.2 93.9 282.8 94.2 282.5 94.4 282.1 94.7 281.6 94.9 281.0 95.2 280.2 95.4 279.2 95.6 278.2 95.9 277.1 96.1 275.9 96.4 274.8 96.6 273.8 96.8 272.8 97.1 271.9 97.3 271.2 97.6 270.6 97.8 270.3 98.1 270.2 98.3 270.3 98.5 270.5 98.8 270.7 99.0 271.1 99.3 271.5 99.5 271.9 99.7 272.4 100.0 272.9 100.2 273.5 100.5 274.1 100.7 274.6 101.0 275.2 101.2 275.8 101.4 276.3 101.7 276.8 101.9 277.3 102.2 277.7 102.4 278.0 102.6 278.3 102.9 278.5 103.1 278.5 103.4 278.5 103.6 278.3 103.9 278.0 104.1 277.6 104.3 277.1 104.6 276.5 104.8 275.8 105.1 275.1 105.3 274.4 105.5 273.7 105.8 273.0 106.0 272.3 106.3 271.6 106.5 271.0 106.8 270.5 107.0 270.1 107.2 269.6 107.5 269.2 107.7 268.8 108.0 268.3 108.2 267.9 108.4 267.5 108.7 267.0 108.9 266.6 109.2 266.2 109.4 265.7 109.6 265.3 109.9 264.9 110.1 264.5 110.4 264.1 110.6 263.8 110.9 263.4 111.1 263.1 111.3 262.8 111.6 262.5 111.8 262.3 112.1 262.0 112.3 261.8 112.5 261.7 112.8 261.5 113.0 261.4 113.3 261.3 113.5 261.3 113.8 261.3 114.0 261.5 114.2 261.8 114.5 262.3 114.7 262.8 115.0 263.4 115.2 264.1 115.4 264.9 115.7 265.7 115.9 266.5 116.2 267.4 116.4 268.2 116.7 269.0 116.9 269.7 117.1 270.4 117.4 271.0 117.6 271.7 117.9 272.4 118.1 273.1 118.3 273.9 118.6 274.7 118.8 275.4 119.1 276.2 119.3 276.9 119.6 277.6 119.8 278.2 120.0 278.7 120.3 279.1 120.5 279.5 120.8 279.7 121.0 279.7 121.2 279.6 121.5 279.3 121.7 278.8 122.0 278.2 122.2 277.4 122.5 276.5 122.7 275.6 122.9 274.6 123.2 273.6 123.4 272.6 123.7 271.6 123.9 270.6 124.1 269.7 124.4 268.9 124.6 268.3 124.9 267.8 125.1 267.4 125.4 267.3 125.6 267.3 125.8 267.5 126.1 267.8 126.3 268.1 126.6 268.6 126.8 269.1 127.0 269.6 127.3 270.2 127.5 270.8 127.8 271.3 128.0 271.8 128.3 272.3 128.5 272.7 128.7 272.9 129.0 273.1 129.2 273.2 129.5 273.1 129.7 272.9 129.9 272.6 130.2 272.1 130.4 271.6 130.7 271.0 130.9 270.4 131.2 269.7 131.4 269.1 131.6 268.4 131.9 267.7 132.1 267.1 132.4 266.5 132.6 266.0 132.8 265.5 133.1 265.2 133.3 265.0 133.6 264.9 133.8 264.9 134.1 264.9 134.3 265.0 134.5 265.0 134.8 265.1 135.0 265.2 135.3 265.2 135.5 265.3 135.7 265.4 136.0 265.4 136.2 265.5 136.5 265.5 136.7 265.3 137.0 264.8 137.2 264.0 137.4 262.8 137.7 261.5 137.9 260.0 138.2 258.4 138.4 256.7 138.6 255.0 138.9 253.3 139.1 251.7 139.4 250.2 139.6 248.9 139.8 247.8 140.1 247.0 140.3 246.6 140.6 246.5 140.8 246.7 141.1 247.0 141.3 247.6 141.5 248.4 141.8 249.3 142.0 250.3 142.3 251.4 142.5 252.7 142.7 254.0 143.0 255.4 143.2 256.8 143.5 258.2 143.7 259.6 144.0 261.0 144.2 262.4 144.4 263.7 144.7 264.9 144.9 266.0 145.2 267.0 145.4 267.9 145.6 268.6 145.9 269.1 146.1 269.5 146.4 269.6 146.6 269.5 146.9 269.3 147.1 268.8 147.3 268.1 147.6 267.4 147.8 266.5 148.1 265.5 148.3 264.4 148.5 263.2 148.8 262.1 149.0 260.9 149.3 259.7 149.5 258.5 149.8 257.4 150.0 256.3 150.2 255.3 150.5 254.5 150.7 253.7 151.0 253.1 151.2 252.7 151.4 252.4 151.7 252.4 151.9 252.5 152.2 252.8 152.4 253.2 152.7 253.7 152.9 254.2 153.1 254.8 153.4 255.5 153.6 256.1 153.9 256.7 154.1 257.3 154.3 257.9 154.6 258.3 154.8 258.6 155.1 258.9 155.3 258.9 155.6 258.9 155.8 258.7 156.0 258.4 156.3 258.1 156.5 257.7 156.8 257.3 157.0 256.8 157.2 256.2 157.5 255.7 157.7 255.2 158.0 254.6 158.2 254.1 158.5 253.7 158.7 253.3 158.9 252.9 159.2 252.7 159.4 252.5 159.7 252.4 159.9 252.4 160.1 252.5 160.4 252.7 160.6 253.0 160.9 253.3 161.1 253.6 161.4 253.9 161.6 254.2 161.8 254.5 162.1 254.8 162.3 255.0 162.6 255.2 162.8 255.3 163.0 255.4 163.3 255.1 163.5 254.6 163.8 253.8 164.0 252.8 164.3 251.7 164.5 250.4 164.7 249.1 165.0 247.7 165.2 246.4 165.5 245.1 165.7 243.9 165.9 242.9 166.2 241.6 166.4 240.3 166.7 238.9 166.9 237.6 167.2 236.3 167.4 235.1 167.6 234.1 167.9 233.4 168.1 232.9 168.4 232.8 168.6 233.1 168.8 233.7 169.1 234.6 169.3 235.8 169.6 237.1 169.8 238.6 170.0 240.2 170.3 241.9 170.5 243.5 170.8 245.1 171.0 246.6 171.3 248.0 171.5 249.2 171.7 250.1 172.0 250.8 172.2 251.5 172.5 252.1 172.7 252.7 172.9 253.2 173.2 253.7 173.4 254.1 173.7 254.5 173.9 254.7 174.2 254.8 174.4 254.7 174.6 254.6 174.9 254.4 175.1 254.1 175.4 253.7 175.6 253.4 175.8 253.0 176.1 252.6 176.3 252.3 176.6 252.1 176.8 251.9 177.1 251.8 177.3 251.9 177.5 252.1 177.8 252.5 178.0 253.0 178.3 253.6 178.5 254.3 178.7 255.0 179.0 255.8 179.2 256.5 179.5 257.3 179.7 257.9 180.0 258.5 180.2 259.0 180.4 259.3 180.7 259.5 180.9 259.5 181.2 259.4 181.4 259.3 181.6 259.1 181.9 258.8 182.1 258.5 182.4 258.1 182.6 257.8 182.9 257.5 183.1 257.1 183.3 256.8 183.6 256.5 183.8 256.3 184.1 256.1 184.3 256.0 184.5 256.0 184.8 256.1 185.0 256.4 185.3 256.8 185.5 257.4 185.8 258.1 186.0 258.8 186.2 259.7 186.5 260.6 186.7 261.5 187.0 262.5 187.2 263.5 187.4 264.5 187.7 265.5 187.9 266.4 188.2 267.2 188.4 268.0 188.7 268.7 188.9 269.3 189.1 269.8 189.4 270.1 189.6 270.2 189.9 270.2 190.1 269.9 190.3 269.4 190.6 268.8 190.8 268.0 191.1 267.0 191.3 265.9 191.6 264.7 191.8 263.4 192.0 262.0 192.3 260.6 192.5 259.1 192.8 257.7 193.0 256.2 193.2 254.8 193.5 253.4 193.7 252.0 194.0 250.8 194.2 249.6 194.5 248.6 194.7 247.7 194.9 247.0 195.2 246.4 195.4 246.0 195.7 245.9 195.9 246.0 196.1 246.3 196.4 246.9 196.6 247.7 196.9 248.7 197.1 249.9 197.4 251.1 197.6 252.5 197.8 253.8 198.1 255.3 198.3 256.7 198.6 258.0 198.8 259.3 199.0 260.5 199.3 261.5 199.5 262.4 199.8 263.1 200.0 263.6 200.2 263.8 200.5 264.0 200.7 264.2 201.0 264.3 201.2 264.4 201.5 264.5 201.7 264.6 201.9 264.7 202.2 264.8 202.4 265.0 202.7 265.1 202.9 265.3 203.1 265.5 203.4 265.8 203.6 266.2 203.9 266.7 204.1 267.2 204.4 267.7 204.6 268.2 204.8 268.7 205.1 269.3 205.3 269.9 205.6 270.6 205.8 271.2 206.0 271.8 206.3 272.4 206.5 272.9 206.8 273.3 207.0 273.5 207.3 273.7 207.5 273.6 207.7 273.5 208.0 273.2 208.2 272.8 208.5 272.3 208.7 271.7 208.9 271.1 209.2 270.5 209.4 269.9 209.7 269.2 209.9 268.7 210.2 268.1 210.4 267.7 210.6 267.3 210.9 267.1 211.1 267.0 211.4 267.1 211.6 267.4 211.8 267.9 212.1 268.5 212.3 269.3 212.6 270.2 212.8 271.2 213.1 272.3 213.3 273.4 213.5 274.6 213.8 275.9 214.0 277.2 214.3 278.4 214.5 279.7 214.7 280.9 215.0 282.0 215.2 283.1 215.5 284.1 215.7 284.9 216.0 285.7 216.2 286.3 216.4 286.7 216.7 286.9 216.9 287.0 217.2 286.7 217.4 286.2 217.6 285.5 217.9 284.6 218.1 283.5 218.4 282.2 218.6 280.8 218.9 279.3 219.1 277.8 219.3 276.1 219.6 274.4 219.8 272.7 220.1 271.1 220.3 269.4 220.5 267.9 220.8 266.4 221.0 265.0 221.3 263.7 221.5 262.7 221.8 261.8 222.0 261.1 222.2 260.6 222.5 260.4 222.7 260.4 223.0 260.6 223.2 260.9 223.4 261.3 223.7 261.8 223.9 262.4 224.2 263.0 224.4 263.7 224.7 264.4 224.9 265.1 225.1 265.8 225.4 266.5 225.6 267.2 225.9 267.8 226.1 268.4 226.3 268.9 226.6 269.3 226.8 269.6 227.1 269.8 227.3 269.9 227.6 269.9 227.8 269.8 228.0 269.7 228.3 269.6 228.5 269.5 228.8 269.4 229.0 269.3 229.2 269.1 229.5 269.1 229.7 269.0 230.0 268.9 230.2 268.9 230.4 269.1 230.7 269.5 230.9 270.1 231.2 270.9 231.4 271.7 231.7 272.6 231.9 273.6 232.1 274.6 232.4 275.6 232.6 276.5 232.9 277.4 233.1 278.1 233.3 278.7 233.6 279.1 233.8 279.4 234.1 279.4 234.3 279.2 234.6 279.0 234.8 278.6 235.0 278.2 235.3 277.7 235.5 277.1 235.8 276.5 236.0 275.9 236.2 275.2 236.5 274.6 236.7 274.0 237.0 273.3 237.2 272.8 237.5 272.2 237.7 271.8 237.9 271.4 238.2 271.1 238.4 270.9 238.7 270.8 238.9 271.0 239.1 271.4 239.4 272.0 239.6 272.9 239.9 273.9 240.1 275.0 240.4 276.2 240.6 277.5 240.8 278.8 241.1 280.1 241.3 281.3 241.6 282.5 241.8 283.5 242.0 284.3 242.3 284.9 242.5 285.3 242.8 285.4 243.0 285.5 243.3 285.6 243.5 285.7 243.7 285.8 244.0 285.8 244.2 285.9 244.5 285.9 244.7 286.0 244.9 286.0 245.2 286.0 245.4 286.1 245.7 286.1 245.9 286.1 246.2 286.0 246.4 285.7 246.6 285.0 246.9 284.2 247.1 283.2 247.4 282.0 247.6 280.8 247.8 279.6 248.1 278.4 248.3 277.3 248.6 276.3 248.8 275.5 249.1 275.0 249.3 274.7 249.5 274.8 249.8 274.9 250.0 275.2 250.3 275.6 250.5 276.0 250.7 276.5 251.0 277.0 251.2 277.5 251.5 278.0 251.7 278.4 252.0 278.8 252.2 279.1 252.4 279.3 252.7 279.4 252.9 279.4 253.2 279.3 253.4 279.2 253.6 279.0 253.9 278.8 254.1 278.6 254.4 278.4 254.6 278.2 254.9 278.0 255.1 277.8 255.3 277.6 255.6 277.5 255.8 277.4 256.1 277.4 256.3 277.5 256.5 277.7 256.8 278.0 257.0 278.4 257.3 278.8 257.5 279.3 257.8 279.9 258.0 280.4 258.2 281.0 258.5 281.6 258.7 282.2 259.0 282.7 259.2 283.1 259.4 283.5 259.7 283.9 259.9 284.3 260.2 284.8 260.4 285.2 260.6 285.5 260.9 285.8 261.1 286.0 261.4 286.1 261.6 286.0 261.9 285.8 262.1 285.5 262.3 285.0 262.6 284.5 262.8 283.9 263.1 283.3 263.3 282.6 263.5 282.0 263.8 281.3 264.0 280.7 264.3 280.1 264.5 279.6 264.8 279.2 265.0 278.9 265.2 278.8 265.5 278.7 265.7 278.9 266.0 279.3 266.2 279.8 266.4 280.3 266.7 281.0 266.9 281.6 267.2 282.2 267.4 282.7 267.7 283.1 267.9 283.4 268.1 283.4 268.4 283.1 268.6 282.6 268.9 281.8 269.1 280.9 269.3 279.9 269.6 278.8 269.8 277.8 270.1 276.8 270.3 275.9 270.6 275.3 270.8 274.8 271.0 274.7 271.3 274.8 271.5 275.1 271.8 275.5 272.0 276.1 272.2 276.7 272.5 277.4 272.7 278.1 273.0 278.9 273.2 279.6 273.5 280.4 273.7 281.0 273.9 281.6 274.2 282.1 274.4 282.5 274.7 282.7 274.9 282.8 275.1 282.9 275.4 282.9 275.6 283.0 275.9 283.1 276.1 283.1 276.4 283.2 276.6 283.2 276.8 283.2 277.1 283.3 277.3 283.3 277.6 283.3 277.8 283.4 278.0 283.4 278.3 283.4 278.5 283.4 278.8 283.4 279.0 283.4 279.3 283.2 279.5 283.0 279.7 282.8 280.0 282.5 280.2 282.2 280.5 281.8 280.7 281.5 280.9 281.1 281.2 280.8 281.4 280.4 281.7 280.1 281.9 279.9 282.2 279.7 282.4 279.5 282.6 279.4 282.9 279.4 283.1 279.5 283.4 279.8 283.6 280.1 283.8 280.5 284.1 280.9 284.3 281.4 284.6 282.0 284.8 282.5 285.1 283.0 285.3 283.6 285.5 284.0 285.8 284.5 286.0 284.9 286.3 285.1 286.5 285.3 286.7 285.4 287.0 285.4 287.2 285.1 287.5 284.8 287.7 284.4 288.0 283.8 288.2 283.2 288.4 282.5 288.7 281.8 288.9 281.0 289.2 280.3 289.4 279.5 289.6 278.7 289.9 278.0 290.1 277.3 290.4 276.8 290.6 276.2 290.8 275.8 291.1 275.6 291.3 275.4 291.6 275.4 291.8 275.7 292.1 276.1 292.3 276.8 292.5 277.6 292.8 278.4 293.0 279.4 293.3 280.3 293.5 281.2 293.7 282.1 294.0 282.8 294.2 283.4 294.5 283.9 294.7 284.1 295.0 284.1 295.2 284.0 295.4 283.8 295.7 283.6 295.9 283.4 296.2 283.1 296.4 282.9 296.6 282.7 296.9 282.4 297.1 282.3 297.4 282.1 297.6 282.1 297.9 282.1 298.1 282.3 298.3 282.6 298.6 283.0 298.8 283.5 299.1 284.1 299.3 284.7 299.5 285.3 299.8 285.9 300.0 286.5 300.3 287.0 300.5 287.5 300.8 287.8 301.0 288.1 301.2 288.2 301.5 288.4 301.7 288.5 302.0 288.7 302.2 288.8 302.4 288.9 302.7 289.0 302.9 289.1 303.2 289.2 303.4 289.3 303.7 289.3 303.9 289.4 304.1 289.4 304.4 289.4 304.6 289.3 304.9 289.1 305.1 288.7 305.3 288.2 305.6 287.6 305.8 286.9 306.1 286.2 306.3 285.4 306.6 284.5 306.8 283.6 307.0 282.7 307.3 281.8 307.5 280.9 307.8 280.1 308.0 279.2 308.2 278.5 308.5 277.8 308.7 277.2 309.0 276.7 309.2 276.4 309.5 276.1 309.7 276.1 309.9 276.2 310.2 276.6 310.4 277.1 310.7 277.9 310.9 278.8 311.1 279.8 311.4 280.9 311.6 282.0 311.9 283.2 312.1 284.3 312.4 285.4 312.6 286.4 312.8 287.2 313.1 287.9 313.3 288.4 313.6 288.7 313.8 288.7 314.0 288.6 314.3 288.2 314.5 287.6 314.8 286.9 315.0 286.1 315.3 285.1 315.5 284.1 315.7 282.9 316.0 281.8 316.2 280.6 316.5 279.3 316.7 278.1 316.9 276.9 317.2 275.8 317.4 274.7 317.7 273.7 317.9 272.8 318.2 272.1 318.4 271.5 318.6 271.0 318.9 270.8 319.1 270.7 319.4 270.9 319.6 271.3 319.8 272.0 320.1 272.8 320.3 273.7 320.6 274.8 320.8 275.9 321.0 277.0 321.3 278.2 321.5 279.4 321.8 280.5 322.0 281.5 322.3 282.4 322.5 283.1 322.7 283.7 323.0 284.0 323.2 284.2 323.5 284.3 323.7 284.4 323.9 284.6 324.2 284.7 324.4 284.8 324.7 284.9 324.9 285.0 325.2 285.1 325.4 285.2 325.6 285.2 325.9 285.3 326.1 285.3 326.4 285.4 326.6 285.4 326.8 285.4 327.1 285.4 327.3 285.4 327.6 285.4 327.8 285.4 328.1 285.4 328.3 285.3 328.5 285.3 328.8 285.3 329.0 285.2 329.3 285.2 329.5 285.1 329.7 285.1 330.0 285.0 330.2 285.0 330.5 284.9 330.7 284.9 331.0 284.8 331.2 284.7 331.4 284.5 331.7 284.3 331.9 283.9 332.2 283.5 332.4 283.0 332.6 282.4 332.9 281.9 333.1 281.3 333.4 280.7 333.6 280.1 333.9 279.5 334.1 278.9 334.3 278.4 334.6 277.9 334.8 277.5 335.1 277.2 335.3 276.9 335.5 276.8 335.8 276.7 336.0 276.8 336.3 277.1 336.5 277.5 336.8 278.0 337.0 278.5 337.2 279.2 337.5 279.9 337.7 280.6 338.0 281.3 338.2 282.0 338.4 282.7 338.7 283.3 338.9 283.8 339.2 284.3 339.4 284.6 339.7 284.7 339.9 284.7 340.1 284.7 340.4 284.7 340.6 284.6 340.9 284.5 341.1 284.4 341.3 284.2 341.6 284.1 341.8 283.9 342.1 283.7 342.3 283.5 342.6 283.3 342.8 282.8 343.0 282.1 343.3 281.1 343.5 280.0 343.8 278.9 344.0 277.6 344.2 276.4 344.5 275.1 344.7 274.0 345.0 273.0 345.2 272.2 345.5 271.7 345.7 271.4 345.9 271.4 346.2 271.6 346.4 272.0 346.7 272.5 346.9 273.1 347.1 273.8 347.4 274.6 347.6 275.4 347.9 276.2 348.1 277.1 348.4 277.9 348.6 278.7 348.8 279.5 349.1 280.1 349.3 280.7 349.6 281.1 349.8 281.4 350.0 281.6 350.3 281.8 350.5 281.9 350.8 282.0 351.0 282.2 351.2 282.3 351.5 282.4 351.7 282.5 352.0 282.6 352.2 282.7 352.5 282.8 352.7 282.9 352.9 283.0 353.2 283.2 353.4 283.4 353.7 283.6 353.9 283.9 354.1 284.3 354.4 284.6 354.6 285.0 354.9 285.4 355.1 285.9 355.4 286.3 355.6 286.8 355.8 287.2 356.1 287.6 356.3 288.0 356.6 288.4 356.8 288.8 357.0 289.1 357.3 289.3 357.5 289.5 357.8 289.7 358.0 289.8 358.3 289.8 358.5 289.5 358.7 289.1 359.0 288.4 359.2 287.6 359.5 286.6 359.7 285.5 359.9 284.4 360.2 283.1 360.4 281.8 360.7 280.5 360.9 279.1 361.2 277.8 361.4 276.6 361.6 275.5 361.9 274.4 362.1 273.5 362.4 272.8 362.6 272.3 362.8 271.9 363.1 271.8 363.3 272.0 363.6 272.4 363.8 273.1 364.1 273.9 364.3 274.9 364.5 276.0 364.8 277.2 365.0 278.4 365.3 279.6 365.5 280.8 365.7 282.0 366.0 283.0 366.2 283.9 366.5 284.7 366.7 285.3 367.0 285.6 367.2 285.7 367.4 285.4 367.7 284.7 367.9 283.8 368.2 282.5 368.4 281.1 368.6 279.5 368.9 277.7 369.1 275.9 369.4 274.1 369.6 272.3 369.9 270.6 370.1 268.9 370.3 267.5 370.6 266.3 370.8 265.3 371.1 264.7 371.3 264.4 371.5 264.2 371.8 264.0 372.0 263.9 372.3 263.7 372.5 263.6 372.8 263.5 373.0 263.4 373.2 263.3 373.5 263.2 373.7 263.1 374.0 263.0 374.2 263.0 374.4 262.9 374.7 262.8 374.9 262.7 375.2 262.6 375.4 262.4 375.7 262.3 375.9 262.2 376.1 262.2 376.4 262.1 376.6 262.1 376.9 262.0 377.1 262.1 377.3 262.1 377.6 262.3 377.8 262.5 378.1 262.7 378.3 263.0 378.6 263.3 378.8 263.6 379.0 264.0 379.3 264.3 379.5 264.7 379.8 265.2 380.0 265.9 380.2 266.7 380.5 267.6 380.7 268.5 381.0 269.6 381.2 270.7 381.4 271.8 381.7 272.9 381.9 274.0 382.2 275.1 382.4 276.2 382.7 277.2 382.9 278.1 383.1 278.9 383.4 279.6 383.6 280.1 383.9 280.5 384.1 280.8 384.3 280.8 384.6 280.6 384.8 280.1 385.1 279.4 385.3 278.5 385.6 277.5 385.8 276.3 386.0 275.0 386.3 273.6 386.5 272.2 386.8 270.8 387.0 269.3 387.2 267.9 387.5 266.6 387.7 265.3 388.0 264.2 388.2 263.2 388.5 262.3 388.7 261.7 388.9 261.3 389.2 261.2 389.4 261.4 389.7 261.8 389.9 262.4 390.1 263.2 390.4 264.2 390.6 265.3 390.9 266.4 391.1 267.7 391.4 268.9 391.6 270.1 391.8 271.3 392.1 272.3 392.3 273.3 392.6 274.0 392.8 274.6 393.0 275.0 393.3 275.1 393.5 275.0 393.8 274.8 394.0 274.4 394.3 274.0 394.5 273.4 394.7 272.8 395.0 272.1 395.2 271.3 395.5 270.5 395.7 269.6 395.9 268.7 396.2 267.9 396.4 267.0 396.7 266.1 396.9 265.3 397.2 264.5 397.4 263.8 397.6 263.1 397.9 262.5 398.1 262.0 398.4 261.6 398.6 261.4 398.8 261.2 399.1 261.2 399.3 261.3 399.6 261.4 399.8 261.5 400.1 261.6 400.3 261.8 400.5 262.0 400.8 262.2 401.0 262.3 401.3 262.5 401.5 262.6 401.7 262.8 402.0 262.8 402.2 262.8 402.5 262.8 402.7 262.5 403.0 262.1 403.2 261.5 403.4 260.9 403.7 260.2 403.9 259.5 404.2 258.8 404.4 258.0 404.6 257.3 404.9 256.7 405.1 256.2 405.4 255.8 405.6 255.6 405.9 255.5 406.1 255.5 406.3 255.6 406.6 255.8 406.8 256.0 407.1 256.2 407.3 256.5 407.5 256.8 407.8 257.2 408.0 257.6 408.3 258.0 408.5 258.7 408.8 259.9 409.0 261.5 409.2 263.4 409.5 265.6 409.7 267.9 410.0 270.3 410.2 272.5 410.4 274.7 410.7 276.6 410.9 278.2 411.2 279.3 411.4 279.9 411.6 280.0 411.9 279.7 412.1 279.2 412.4 278.6 412.6 277.8 412.9 276.8 413.1 275.8 413.3 274.6 413.6 273.4 413.8 272.2 414.1 271.0 414.3 269.8 414.5 268.6 414.8 267.6 415.0 266.6 415.3 265.8 415.5 265.2 415.8 264.7 416.0 264.5 416.2 264.5 416.5 264.8 416.7 265.3 417.0 266.0 417.2 266.9 417.4 268.0 417.7 269.1 417.9 270.3 418.2 271.6 418.4 272.8 418.7 274.1 418.9 275.3 419.1 276.4 419.4 277.5 419.6 278.4 419.9 279.1 420.1 279.6 420.3 279.9 420.6 280.0 420.8 279.8 421.1 279.6 421.3 279.1 421.6 278.6 421.8 278.0 422.0 277.3 422.3 276.6 422.5 275.9 422.8 275.1 423.0 274.3 423.2 273.6 423.5 272.9 423.7 272.3 424.0 271.8 424.2 271.4 424.5 271.1 424.7 271.0 424.9 270.8 425.2 270.8 425.4 270.7 425.7 270.6 425.9 270.6 426.1 270.5 426.4 270.5 426.6 270.4 426.9 270.3 427.1 270.1 427.4 269.9 427.6 269.6 427.8 269.2 428.1 268.7 428.3 268.2 428.6 267.6 428.8 266.9 429.0 266.2 429.3 265.4 429.5 264.6 429.8 263.8 430.0 263.0 430.3 262.2 430.5 261.3 430.7 260.5 431.0 259.7 431.2 259.0 431.5 258.2 431.7 257.5 431.9 256.9 432.2 256.3 432.4 255.8 432.7 255.4 432.9 255.1 433.2 254.9 433.4 254.7 433.6 254.7 433.9 255.1 434.1 256.0 434.4 257.2 434.6 258.8 434.8 260.6 435.1 262.6 435.3 264.8 435.6 267.0 435.8 269.3 436.1 271.4 436.3 273.5 436.5 275.4 436.8 277.0 437.0 278.4 437.3 279.4 437.5 279.9 437.7 280.0 438.0 279.8 438.2 279.4 438.5 278.9 438.7 278.2 439.0 277.4 439.2 276.5 439.4 275.5 439.7 274.5 439.9 273.4 440.2 272.3 440.4 271.3 440.6 270.2 440.9 269.2 441.1 268.3 441.4 267.4 441.6 266.7 441.8 266.1 442.1 265.6 442.3 265.4 442.6 265.3 442.8 265.5 443.1 265.9 443.3 266.6 443.5 267.4 443.8 268.4 444.0 269.5 444.3 270.6 444.5 271.9 444.7 273.1 445.0 274.3 445.2 275.5 445.5 276.5 445.7 277.4 446.0 278.2 446.2 278.8 446.4 279.1 446.7 279.2 446.9 279.1 447.2 279.1 447.4 278.9 447.6 278.8 447.9 278.6 448.1 278.4 448.4 278.2 448.6 278.0 448.9 277.8 449.1 277.6 449.3 277.4 449.6 277.2 449.8 277.0 450.1 276.9 450.3 276.8 450.5 276.7 450.8 276.7 451.0 276.8 451.3 277.0 451.5 277.2 451.8 277.5 452.0 277.9 452.2 278.3 452.5 278.7 452.7 279.1 453.0 279.6 453.2 280.0 453.4 280.4 453.7 280.8 453.9 281.1 454.2 281.3 454.4 281.5 454.7 281.6 454.9 281.6 455.1 281.3 455.4 280.7 455.6 280.0 455.9 279.0 456.1 277.8 456.3 276.5 456.6 275.1 456.8 273.6 457.1 272.0 457.3 270.5 457.6 268.9 457.8 267.4 458.0 265.9 458.3 264.6 458.5 263.4 458.8 262.3 459.0 261.5 459.2 260.9 459.5 260.5 459.7 260.4 460.0 261.1 460.2 261.9 460.5 262.6 460.7 263.5 460.9 264.4 461.2 265.3 461.4 266.3 461.7 267.3 461.9 268.4 462.1 269.5 462.4 270.7 462.6 272.0 462.9 273.7 463.1 275.7 463.4 277.8 463.6 280.0 463.8 282.1 464.1 284.0 464.3 285.6 464.6 286.7 464.8 287.3 465.0 287.3 465.3 287.1 465.5 286.7 465.8 286.1 466.0 285.4 466.3 284.6 466.5 283.7 466.7 282.8 467.0 281.9 467.2 280.9 467.5 280.0 467.7 279.2 467.9 278.4 468.2 277.8 468.4 277.3 468.7 276.9 468.9 276.7 469.2 276.8 469.4 277.0 469.6 277.3 469.9 277.7 470.1 278.3 470.4 278.9 470.6 279.6 470.8 280.3 471.1 281.0 471.3 281.7 471.6 282.4 471.8 283.1 472.0 283.6 472.3 284.1 472.5 284.5 472.8 284.8 473.0 284.9 473.3 284.9 473.5 284.8 473.7 284.8 474.0 284.7 474.2 284.6 474.5 284.4 474.7 284.3 474.9 284.2 475.2 284.0 475.4 283.9 475.7 283.7 475.9 283.6 476.2 283.5 476.4 283.4 476.6 283.3 476.9 283.3 477.1 283.3 477.4 283.3 477.6 283.3 477.8 283.4 478.1 283.4 478.3 283.5 478.6 283.6 478.8 283.7 479.1 283.8 479.3 283.9 479.5 283.9 479.8 284.0 480.0 284.0 480.3 284.1 480.5 284.0 480.7 283.8 481.0 283.4 481.2 282.9 481.5 282.2 481.7 281.5 482.0 280.8 482.2 280.0 482.4 279.3 482.7 278.7 482.9 278.2 483.2 277.8 483.4 277.3 483.6 276.8 483.9 276.3 484.1 275.8 484.4 275.4 484.6 274.9 484.9 274.5 485.1 274.2 485.3 273.9 485.6 273.7 485.8 273.5 486.1 273.5 486.3 273.5 486.5 273.8 486.8 274.3 487.0 274.9 487.3 275.6 487.5 276.3 487.8 277.2 488.0 278.0 488.2 278.7 488.5 279.4 488.7 280.0 489.0 280.5 489.2 280.7 489.4 280.8 489.7 280.8 489.9 280.8 490.2 280.7 490.4 280.7 490.7 280.6 490.9 280.5 491.1 280.4 491.4 280.3 491.6 280.2 491.9 280.1 492.1 279.9 492.3 279.8 492.6 279.7 492.8 279.5 493.1 279.4 493.3 279.3 493.6 279.1 493.8 278.9 494.0 278.7 494.3 278.5 494.5 278.3 494.8 278.0 495.0 277.7 495.2 277.4 495.5 277.1 495.7 276.7 496.0 276.4 496.2 276.1 496.5 275.7 496.7 275.4 496.9 275.0 497.2 274.7 497.4 274.4 497.7 274.1 497.9 273.8 498.1 273.5 498.4 273.3 498.6 273.0 498.9 272.8 499.1 272.7 499.4 272.5 499.6 272.4 499.8 272.3 500.1 272.2 500.3 272.1 500.6 272.0 500.8 271.9 501.0 271.9 501.3 271.8 501.5 271.7 501.8 271.6 502.0 271.5 502.2 271.5 502.5 271.4 502.7 271.3 503.0 271.1 503.2 271.0 503.5 270.9 503.7 270.7 503.9 270.5 504.2 270.3 504.4 270.0 504.7 269.8 504.9 269.5 505.1 269.3 505.4 269.0 505.6 268.8 505.9 268.5 506.1 268.3 506.4 268.1 506.6 268.0 506.8 267.8 507.1 267.8 507.3 267.7 507.6 267.8 507.8 268.0 508.0 268.3 508.3 268.6 508.5 268.9 508.8 269.3 509.0 269.6 509.3 269.9 509.5 270.1 509.7 270.2 510.0 270.1 510.2 269.9 510.5 269.6 510.7 269.1 510.9 268.7 511.2 268.2 511.4 267.7 511.7 267.4 511.9 267.1 512.2 266.9 512.4 267.0 512.6 267.1 512.9 267.2 513.1 267.5 513.4 267.7 513.6 268.1 513.8 268.4 514.1 268.8 514.3 269.2 514.6 269.6 514.8 270.0 515.1 270.4 515.3 270.8 515.5 271.1 515.8 271.4 516.0 271.8 516.3 272.1 516.5 272.5 516.7 272.9 517.0 273.3 517.2 273.7 517.5 274.1 517.7 274.4 518.0 274.7 518.2 274.9 518.4 275.0 518.7 275.1 518.9 275.1 519.2 275.0 519.4 274.9 519.6 274.8 519.9 274.6 520.1 274.5 520.4 274.3 520.6 274.1 520.9 273.9 521.1 273.8 521.3 273.6 521.6 273.5 521.8 273.5 522.1 273.5 522.3 273.5 522.5 273.5 522.8 273.6 523.0 273.6 523.3 273.7 523.5 273.8 523.8 273.9 524.0 274.0 524.2 274.1 524.5 274.1 524.7 274.2 525.0 274.3 525.2 274.3 525.4 274.3 525.7 274.1 525.9 273.9 526.2 273.7 526.4 273.4 526.7 273.0 526.9 272.7 527.1 272.3 527.4 272.0 527.6 271.7 527.9 271.4 528.1 271.2 528.3 271.0 528.6 271.0 528.8 271.0 529.1 271.1 529.3 271.1 529.6 271.2 529.8 271.3 530.0 271.5 530.3 271.7 530.5 271.9 530.8 272.2 531.0 272.4" fill="none" stroke="#00ffff" stroke-width="1" stroke-linejoin="round"/><path d="M47.8 285.2h0M48.5 284.8h0M49.2 284.4h0M50.0 283.9h0M50.7 283.1h0M51.2 282.6h0M51.7 282.0h0M52.1 281.4h0M52.9 280.8h0M53.6 280.5h0M54.3 280.7h0M55.0 281.4h0M55.5 282.0h0M56.0 282.6h0M56.7 283.3h0M57.5 283.5h0M58.2 283.7h0M58.9 283.9h0M59.6 284.0h0M60.4 284.1h0M61.1 284.1h0M61.8 283.5h0M62.3 282.6h0M62.8 281.5h0M63.3 280.3h0M63.5 279.6h0M63.7 278.9h0M64.0 278.3h0M64.5 277.0h0M65.0 276.0h0M65.4 275.2h0M66.2 274.7h0M66.6 275.4h0M66.9 276.1h0M67.1 276.9h0M67.4 277.9h0M67.6 278.8h0M67.9 279.8h0M68.1 280.7h0M68.3 281.5h0M68.8 282.6h0M69.5 282.4h0M70.0 281.5h0M70.5 280.5h0M71.0 279.5h0M71.5 278.8h0M72.2 279.2h0M72.7 280.3h0M72.9 281.1h0M73.2 281.8h0M73.4 282.6h0M73.7 283.3h0M74.1 284.4h0M74.9 285.0h0M75.6 285.4h0M76.3 285.7h0M77.0 285.8h0M77.8 285.2h0M78.2 284.2h0M78.7 283.0h0M79.0 282.3h0M79.2 281.6h0M79.4 280.9h0M79.7 280.2h0M80.2 279.1h0M80.7 278.3h0M81.4 278.1h0M82.1 278.3h0M82.8 278.5h0M83.6 278.7h0M84.3 278.5h0M85.0 277.8h0M85.5 277.1h0M86.0 276.4h0M86.5 275.7h0M86.9 275.2h0M87.7 274.7h0M88.4 275.7h0M88.6 276.5h0M88.9 277.5h0M89.1 278.5h0M89.4 279.7h0M89.6 280.8h0M89.8 282.0h0M90.1 283.0h0M90.3 283.9h0M90.6 284.7h0M91.0 285.4h0M91.8 285.2h0M92.5 284.7h0M93.0 284.1h0M93.5 283.5h0M93.9 282.8h0M94.4 282.1h0M94.9 281.0h0M95.2 280.2h0M95.4 279.2h0M95.6 278.2h0M95.9 277.1h0M96.1 275.9h0M96.4 274.8h0M96.6 273.8h0M96.8 272.8h0M97.1 271.9h0M97.3 271.2h0M97.8 270.3h0M98.5 270.5h0M99.0 271.1h0M99.5 271.9h0M100.0 272.9h0M100.5 274.1h0M101.0 275.2h0M101.4 276.3h0M101.9 277.3h0M102.4 278.0h0M103.1 278.5h0M103.9 278.0h0M104.3 277.1h0M104.8 275.8h0M105.1 275.1h0M105.3 274.4h0M105.5 273.7h0M105.8 273.0h0M106.0 272.3h0M106.5 271.0h0M107.0 270.1h0M107.5 269.2h0M108.0 268.3h0M108.4 267.5h0M108.9 266.6h0M109.4 265.7h0M109.9 264.9h0M110.4 264.1h0M110.9 263.4h0M111.3 262.8h0M111.8 262.3h0M112.5 261.7h0M113.3 261.3h0M114.0 261.5h0M114.5 262.3h0M115.0 263.4h0M115.2 264.1h0M115.4 264.9h0M115.7 265.7h0M115.9 266.5h0M116.2 267.4h0M116.4 268.2h0M116.7 269.0h0M116.9 269.7h0M117.1 270.4h0M117.6 271.7h0M117.9 272.4h0M118.1 273.1h0M118.3 273.9h0M118.6 274.7h0M118.8 275.4h0M119.1 276.2h0M119.3 276.9h0M119.6 277.6h0M120.0 278.7h0M120.5 279.5h0M121.2 279.6h0M121.7 278.8h0M122.2 277.4h0M122.5 276.5h0M122.7 275.6h0M122.9 274.6h0M123.2 273.6h0M123.4 272.6h0M123.7 271.6h0M123.9 270.6h0M124.1 269.7h0M124.4 268.9h0M124.6 268.3h0M125.1 267.4h0M125.8 267.5h0M126.3 268.1h0M126.8 269.1h0M127.3 270.2h0M127.8 271.3h0M128.3 272.3h0M128.7 272.9h0M129.5 273.1h0M129.9 272.6h0M130.4 271.6h0M130.9 270.4h0M131.2 269.7h0M131.4 269.1h0M131.6 268.4h0M131.9 267.7h0M132.4 266.5h0M132.8 265.5h0M133.3 265.0h0M134.1 264.9h0M134.8 265.1h0M135.5 265.3h0M136.2 265.5h0M137.0 264.8h0M137.2 264.0h0M137.4 262.8h0M137.7 261.5h0M137.9 260.0h0M138.2 258.4h0M138.4 256.7h0M138.6 255.0h0M138.9 253.3h0M139.1 251.7h0M139.4 250.2h0M139.6 248.9h0M139.8 247.8h0M140.1 247.0h0M140.6 246.5h0M141.1 247.0h0M141.5 248.4h0M141.8 249.3h0M142.0 250.3h0M142.3 251.4h0M142.5 252.7h0M142.7 254.0h0M143.0 255.4h0M143.2 256.8h0M143.5 258.2h0M143.7 259.6h0M144.0 261.0h0M144.2 262.4h0M144.4 263.7h0M144.7 264.9h0M144.9 266.0h0M145.2 267.0h0M145.4 267.9h0M145.6 268.6h0M146.1 269.5h0M146.9 269.3h0M147.3 268.1h0M147.6 267.4h0M147.8 266.5h0M148.1 265.5h0M148.3 264.4h0M148.5 263.2h0M148.8 262.1h0M149.0 260.9h0M149.3 259.7h0M149.5 258.5h0M149.8 257.4h0M150.0 256.3h0M150.2 255.3h0M150.5 254.5h0M150.7 253.7h0M151.2 252.7h0M151.9 252.5h0M152.4 253.2h0M152.9 254.2h0M153.4 255.5h0M153.9 256.7h0M154.3 257.9h0M154.8 258.6h0M155.6 258.9h0M156.3 258.1h0M156.8 257.3h0M157.2 256.2h0M157.7 255.2h0M158.2 254.1h0M158.7 253.3h0M159.2 252.7h0M159.9 252.4h0M160.6 253.0h0M161.1 253.6h0M161.6 254.2h0M162.1 254.8h0M162.8 255.3h0M163.5 254.6h0M163.8 253.8h0M164.0 252.8h0M164.3 251.7h0M164.5 250.4h0M164.7 249.1h0M165.0 247.7h0M165.2 246.4h0M165.5 245.1h0M165.7 243.9h0M165.9 242.9h0M166.2 241.6h0M166.4 240.3h0M166.7 238.9h0M166.9 237.6h0M167.2 236.3h0M167.4 235.1h0M167.6 234.1h0M167.9 233.4h0M168.4 232.8h0M168.8 233.7h0M169.1 234.6h0M169.3 235.8h0M169.6 237.1h0M169.8 238.6h0M170.0 240.2h0M170.3 241.9h0M170.5 243.5h0M170.8 245.1h0M171.0 246.6h0M171.3 248.0h0M171.5 249.2h0M171.7 250.1h0M172.0 250.8h0M172.5 252.1h0M172.9 253.2h0M173.4 254.1h0M173.9 254.7h0M174.6 254.6h0M175.1 254.1h0M175.6 253.4h0M176.1 252.6h0M176.6 252.1h0M177.3 251.9h0M177.8 252.5h0M178.3 253.6h0M178.5 254.3h0M178.7 255.0h0M179.0 255.8h0M179.2 256.5h0M179.5 257.3h0M179.7 257.9h0M180.2 259.0h0M180.7 259.5h0M181.4 259.3h0M182.1 258.5h0M182.6 257.8h0M183.1 257.1h0M183.6 256.5h0M184.3 256.0h0M185.0 256.4h0M185.5 257.4h0M185.8 258.1h0M186.0 258.8h0M186.2 259.7h0M186.5 260.6h0M186.7 261.5h0M187.0 262.5h0M187.2 263.5h0M187.4 264.5h0M187.7 265.5h0M187.9 266.4h0M188.2 267.2h0M188.4 268.0h0M188.7 268.7h0M189.1 269.8h0M189.9 270.2h0M190.3 269.4h0M190.8 268.0h0M191.1 267.0h0M191.3 265.9h0M191.6 264.7h0M191.8 263.4h0M192.0 262.0h0M192.3 260.6h0M192.5 259.1h0M192.8 257.7h0M193.0 256.2h0M193.2 254.8h0M193.5 253.4h0M193.7 252.0h0M194.0 250.8h0M194.2 249.6h0M194.5 248.6h0M194.7 247.7h0M194.9 247.0h0M195.4 246.0h0M196.1 246.3h0M196.6 247.7h0M196.9 248.7h0M197.1 249.9h0M197.4 251.1h0M197.6 252.5h0M197.8 253.8h0M198.1 255.3h0M198.3 256.7h0M198.6 258.0h0M198.8 259.3h0M199.0 260.5h0M199.3 261.5h0M199.5 262.4h0M199.8 263.1h0M200.2 263.8h0M201.0 264.3h0M201.7 264.6h0M202.4 265.0h0M203.1 265.5h0M203.6 266.2h0M204.1 267.2h0M204.6 268.2h0M205.1 269.3h0M205.6 270.6h0M206.0 271.8h0M206.5 272.9h0M207.0 273.5h0M207.7 273.5h0M208.2 272.8h0M208.7 271.7h0M209.2 270.5h0M209.7 269.2h0M210.2 268.1h0M210.6 267.3h0M211.4 267.1h0M211.8 267.9h0M212.3 269.3h0M212.6 270.2h0M212.8 271.2h0M213.1 272.3h0M213.3 273.4h0M213.5 274.6h0M213.8 275.9h0M214.0 277.2h0M214.3 278.4h0M214.5 279.7h0M214.7 280.9h0M215.0 282.0h0M215.2 283.1h0M215.5 284.1h0M215.7 284.9h0M216.0 285.7h0M216.4 286.7h0M217.2 286.7h0M217.6 285.5h0M217.9 284.6h0M218.1 283.5h0M218.4 282.2h0M218.6 280.8h0M218.9 279.3h0M219.1 277.8h0M219.3 276.1h0M219.6 274.4h0M219.8 272.7h0M220.1 271.1h0M220.3 269.4h0M220.5 267.9h0M220.8 266.4h0M221.0 265.0h0M221.3 263.7h0M221.5 262.7h0M221.8 261.8h0M222.0 261.1h0M222.5 260.4h0M223.2 260.9h0M223.7 261.8h0M224.2 263.0h0M224.4 263.7h0M224.7 264.4h0M224.9 265.1h0M225.1 265.8h0M225.4 266.5h0M225.6 267.2h0M226.1 268.4h0M226.6 269.3h0M227.3 269.9h0M228.0 269.7h0M228.8 269.4h0M229.5 269.1h0M230.2 268.9h0M230.7 269.5h0M231.2 270.9h0M231.4 271.7h0M231.7 272.6h0M231.9 273.6h0M232.1 274.6h0M232.4 275.6h0M232.6 276.5h0M232.9 277.4h0M233.1 278.1h0M233.6 279.1h0M234.3 279.2h0M234.8 278.6h0M235.3 277.7h0M235.8 276.5h0M236.2 275.2h0M236.7 274.0h0M237.2 272.8h0M237.7 271.8h0M238.2 271.1h0M238.9 271.0h0M239.4 272.0h0M239.6 272.9h0M239.9 273.9h0M240.1 275.0h0M240.4 276.2h0M240.6 277.5h0M240.8 278.8h0M241.1 280.1h0M241.3 281.3h0M241.6 282.5h0M241.8 283.5h0M242.0 284.3h0M242.5 285.3h0M243.3 285.6h0M244.0 285.8h0M244.7 286.0h0M245.4 286.1h0M246.2 286.0h0M246.6 285.0h0M246.9 284.2h0M247.1 283.2h0M247.4 282.0h0M247.6 280.8h0M247.8 279.6h0M248.1 278.4h0M248.3 277.3h0M248.6 276.3h0M248.8 275.5h0M249.3 274.7h0M250.0 275.2h0M250.5 276.0h0M251.0 277.0h0M251.5 278.0h0M252.0 278.8h0M252.4 279.3h0M253.2 279.3h0M253.9 278.8h0M254.6 278.2h0M255.3 277.6h0M256.1 277.4h0M256.8 278.0h0M257.3 278.8h0M257.8 279.9h0M258.2 281.0h0M258.7 282.2h0M259.2 283.1h0M259.7 283.9h0M260.2 284.8h0M260.6 285.5h0M261.4 286.1h0M262.1 285.5h0M262.6 284.5h0M263.1 283.3h0M263.3 282.6h0M263.5 282.0h0M264.0 280.7h0M264.5 279.6h0M265.0 278.9h0M265.7 278.9h0M266.2 279.8h0M266.7 281.0h0M267.2 282.2h0M267.7 283.1h0M268.4 283.1h0M268.9 281.8h0M269.1 280.9h0M269.3 279.9h0M269.6 278.8h0M269.8 277.8h0M270.1 276.8h0M270.3 275.9h0M270.6 275.3h0M271.0 274.7h0M271.8 275.5h0M272.2 276.7h0M272.5 277.4h0M272.7 278.1h0M273.0 278.9h0M273.2 279.6h0M273.5 280.4h0M273.7 281.0h0M274.2 282.1h0M274.7 282.7h0M275.4 282.9h0M276.1 283.1h0M276.8 283.2h0M277.6 283.3h0M278.3 283.4h0M279.0 283.4h0M279.7 282.8h0M280.2 282.2h0M280.7 281.5h0M281.2 280.8h0M281.7 280.1h0M282.4 279.5h0M283.1 279.5h0M283.6 280.1h0M284.1 280.9h0M284.6 282.0h0M285.1 283.0h0M285.5 284.0h0M286.0 284.9h0M286.7 285.4h0M287.5 284.8h0M288.0 283.8h0M288.4 282.5h0M288.7 281.8h0M288.9 281.0h0M289.2 280.3h0M289.4 279.5h0M289.6 278.7h0M289.9 278.0h0M290.1 277.3h0M290.6 276.2h0M291.1 275.6h0M291.8 275.7h0M292.3 276.8h0M292.5 277.6h0M292.8 278.4h0M293.0 279.4h0M293.3 280.3h0M293.5 281.2h0M293.7 282.1h0M294.0 282.8h0M294.5 283.9h0M295.2 284.0h0M295.9 283.4h0M296.6 282.7h0M297.4 282.1h0M298.1 282.3h0M298.6 283.0h0M299.1 284.1h0M299.5 285.3h0M300.0 286.5h0M300.5 287.5h0M301.0 288.1h0M301.7 288.5h0M302.4 288.9h0M303.2 289.2h0M303.9 289.4h0M304.6 289.3h0M305.1 288.7h0M305.6 287.6h0M305.8 286.9h0M306.1 286.2h0M306.3 285.4h0M306.6 284.5h0M306.8 283.6h0M307.0 282.7h0M307.3 281.8h0M307.5 280.9h0M307.8 280.1h0M308.0 279.2h0M308.2 278.5h0M308.5 277.8h0M309.0 276.7h0M309.5 276.1h0M310.2 276.6h0M310.7 277.9h0M310.9 278.8h0M311.1 279.8h0M311.4 280.9h0M311.6 282.0h0M311.9 283.2h0M312.1 284.3h0M312.4 285.4h0M312.6 286.4h0M312.8 287.2h0M313.1 287.9h0M313.6 288.7h0M314.3 288.2h0M314.8 286.9h0M315.0 286.1h0M315.3 285.1h0M315.5 284.1h0M315.7 282.9h0M316.0 281.8h0M316.2 280.6h0M316.5 279.3h0M316.7 278.1h0M316.9 276.9h0M317.2 275.8h0M317.4 274.7h0M317.7 273.7h0M317.9 272.8h0M318.2 272.1h0M318.6 271.0h0M319.4 270.9h0M319.8 272.0h0M320.1 272.8h0M320.3 273.7h0M320.6 274.8h0M320.8 275.9h0M321.0 277.0h0M321.3 278.2h0M321.5 279.4h0M321.8 280.5h0M322.0 281.5h0M322.3 282.4h0M322.5 283.1h0M323.0 284.0h0M323.7 284.4h0M324.4 284.8h0M325.2 285.1h0M325.9 285.3h0M326.6 285.4h0M327.3 285.4h0M328.1 285.4h0M328.8 285.3h0M329.5 285.1h0M330.2 285.0h0M331.0 284.8h0M331.7 284.3h0M332.2 283.5h0M332.6 282.4h0M333.1 281.3h0M333.6 280.1h0M334.1 278.9h0M334.6 277.9h0M335.1 277.2h0M335.8 276.7h0M336.5 277.5h0M337.0 278.5h0M337.5 279.9h0M337.7 280.6h0M338.0 281.3h0M338.2 282.0h0M338.4 282.7h0M338.9 283.8h0M339.4 284.6h0M340.1 284.7h0M340.9 284.5h0M341.6 284.1h0M342.3 283.5h0M342.8 282.8h0M343.0 282.1h0M343.3 281.1h0M343.5 280.0h0M343.8 278.9h0M344.0 277.6h0M344.2 276.4h0M344.5 275.1h0M344.7 274.0h0M345.0 273.0h0M345.2 272.2h0M345.7 271.4h0M346.4 272.0h0M346.9 273.1h0M347.1 273.8h0M347.4 274.6h0M347.6 275.4h0M347.9 276.2h0M348.1 277.1h0M348.4 277.9h0M348.6 278.7h0M348.8 279.5h0M349.1 280.1h0M349.6 281.1h0M350.3 281.8h0M351.0 282.2h0M351.7 282.5h0M352.5 282.8h0M353.2 283.2h0M353.9 283.9h0M354.4 284.6h0M354.9 285.4h0M355.4 286.3h0M355.8 287.2h0M356.3 288.0h0M356.8 288.8h0M357.3 289.3h0M358.0 289.8h0M358.7 289.1h0M359.2 287.6h0M359.5 286.6h0M359.7 285.5h0M359.9 284.4h0M360.2 283.1h0M360.4 281.8h0M360.7 280.5h0M360.9 279.1h0M361.2 277.8h0M361.4 276.6h0M361.6 275.5h0M361.9 274.4h0M362.1 273.5h0M362.4 272.8h0M362.8 271.9h0M363.6 272.4h0M364.1 273.9h0M364.3 274.9h0M364.5 276.0h0M364.8 277.2h0M365.0 278.4h0M365.3 279.6h0M365.5 280.8h0M365.7 282.0h0M366.0 283.0h0M366.2 283.9h0M366.5 284.7h0M367.0 285.6h0M367.7 284.7h0M367.9 283.8h0M368.2 282.5h0M368.4 281.1h0M368.6 279.5h0M368.9 277.7h0M369.1 275.9h0M369.4 274.1h0M369.6 272.3h0M369.9 270.6h0M370.1 268.9h0M370.3 267.5h0M370.6 266.3h0M370.8 265.3h0M371.3 264.4h0M372.0 263.9h0M372.8 263.5h0M373.5 263.2h0M374.2 263.0h0M374.9 262.7h0M375.7 262.3h0M376.4 262.1h0M377.1 262.1h0M377.8 262.5h0M378.3 263.0h0M378.8 263.6h0M379.3 264.3h0M379.8 265.2h0M380.0 265.9h0M380.2 266.7h0M380.5 267.6h0M380.7 268.5h0M381.0 269.6h0M381.2 270.7h0M381.4 271.8h0M381.7 272.9h0M381.9 274.0h0M382.2 275.1h0M382.4 276.2h0M382.7 277.2h0M382.9 278.1h0M383.1 278.9h0M383.4 279.6h0M383.9 280.5h0M384.6 280.6h0M385.1 279.4h0M385.3 278.5h0M385.6 277.5h0M385.8 276.3h0M386.0 275.0h0M386.3 273.6h0M386.5 272.2h0M386.8 270.8h0M387.0 269.3h0M387.2 267.9h0M387.5 266.6h0M387.7 265.3h0M388.0 264.2h0M388.2 263.2h0M388.5 262.3h0M388.9 261.3h0M389.7 261.8h0M390.1 263.2h0M390.4 264.2h0M390.6 265.3h0M390.9 266.4h0M391.1 267.7h0M391.4 268.9h0M391.6 270.1h0M391.8 271.3h0M392.1 272.3h0M392.3 273.3h0M392.6 274.0h0M393.0 275.0h0M393.8 274.8h0M394.3 274.0h0M394.7 272.8h0M395.0 272.1h0M395.2 271.3h0M395.5 270.5h0M395.7 269.6h0M395.9 268.7h0M396.2 267.9h0M396.4 267.0h0M396.7 266.1h0M396.9 265.3h0M397.2 264.5h0M397.4 263.8h0M397.6 263.1h0M398.1 262.0h0M398.6 261.4h0M399.3 261.3h0M400.1 261.6h0M400.8 262.2h0M401.5 262.6h0M402.2 262.8h0M403.0 262.1h0M403.4 260.9h0M403.7 260.2h0M403.9 259.5h0M404.2 258.8h0M404.4 258.0h0M404.6 257.3h0M405.1 256.2h0M405.6 255.6h0M406.3 255.6h0M407.1 256.2h0M407.5 256.8h0M408.0 257.6h0M408.5 258.7h0M408.8 259.9h0M409.0 261.5h0M409.2 263.4h0M409.5 265.6h0M409.7 267.9h0M410.0 270.3h0M410.2 272.5h0M410.4 274.7h0M410.7 276.6h0M410.9 278.2h0M411.2 279.3h0M411.6 280.0h0M412.1 279.2h0M412.6 277.8h0M412.9 276.8h0M413.1 275.8h0M413.3 274.6h0M413.6 273.4h0M413.8 272.2h0M414.1 271.0h0M414.3 269.8h0M414.5 268.6h0M414.8 267.6h0M415.0 266.6h0M415.3 265.8h0M415.8 264.7h0M416.5 264.8h0M417.0 266.0h0M417.2 266.9h0M417.4 268.0h0M417.7 269.1h0M417.9 270.3h0M418.2 271.6h0M418.4 272.8h0M418.7 274.1h0M418.9 275.3h0M419.1 276.4h0M419.4 277.5h0M419.6 278.4h0M419.9 279.1h0M420.3 279.9h0M421.1 279.6h0M421.6 278.6h0M422.0 277.3h0M422.3 276.6h0M422.5 275.9h0M422.8 275.1h0M423.0 274.3h0M423.2 273.6h0M423.5 272.9h0M424.0 271.8h0M424.5 271.1h0M425.2 270.8h0M425.9 270.6h0M426.6 270.4h0M427.4 269.9h0M427.8 269.2h0M428.3 268.2h0M428.8 266.9h0M429.0 266.2h0M429.3 265.4h0M429.5 264.6h0M429.8 263.8h0M430.0 263.0h0M430.3 262.2h0M430.5 261.3h0M430.7 260.5h0M431.0 259.7h0M431.2 259.0h0M431.5 258.2h0M431.7 257.5h0M432.2 256.3h0M432.7 255.4h0M433.2 254.9h0M433.9 255.1h0M434.1 256.0h0M434.4 257.2h0M434.6 258.8h0M434.8 260.6h0M435.1 262.6h0M435.3 264.8h0M435.6 267.0h0M435.8 269.3h0M436.1 271.4h0M436.3 273.5h0M436.5 275.4h0M436.8 277.0h0M437.0 278.4h0M437.3 279.4h0M437.7 280.0h0M438.2 279.4h0M438.7 278.2h0M439.0 277.4h0M439.2 276.5h0M439.4 275.5h0M439.7 274.5h0M439.9 273.4h0M440.2 272.3h0M440.4 271.3h0M440.6 270.2h0M440.9 269.2h0M441.1 268.3h0M441.4 267.4h0M441.6 266.7h0M442.1 265.6h0M442.8 265.5h0M443.3 266.6h0M443.5 267.4h0M443.8 268.4h0M444.0 269.5h0M444.3 270.6h0M444.5 271.9h0M444.7 273.1h0M445.0 274.3h0M445.2 275.5h0M445.5 276.5h0M445.7 277.4h0M446.0 278.2h0M446.4 279.1h0M447.2 279.1h0M447.9 278.6h0M448.6 278.0h0M449.3 277.4h0M450.1 276.9h0M450.8 276.7h0M451.5 277.2h0M452.0 277.9h0M452.5 278.7h0M453.0 279.6h0M453.4 280.4h0M453.9 281.1h0M454.7 281.6h0M455.4 280.7h0M455.6 280.0h0M455.9 279.0h0M456.1 277.8h0M456.3 276.5h0M456.6 275.1h0M456.8 273.6h0M457.1 272.0h0M457.3 270.5h0M457.6 268.9h0M457.8 267.4h0M458.0 265.9h0M458.3 264.6h0M458.5 263.4h0M458.8 262.3h0M459.0 261.5h0M459.5 260.5h0M460.0 261.1h0M460.2 261.9h0M460.5 262.6h0M460.7 263.5h0M460.9 264.4h0M461.2 265.3h0M461.4 266.3h0M461.7 267.3h0M461.9 268.4h0M462.1 269.5h0M462.4 270.7h0M462.6 272.0h0M462.9 273.7h0M463.1 275.7h0M463.4 277.8h0M463.6 280.0h0M463.8 282.1h0M464.1 284.0h0M464.3 285.6h0M464.6 286.7h0M465.0 287.3h0M465.5 286.7h0M466.0 285.4h0M466.3 284.6h0M466.5 283.7h0M466.7 282.8h0M467.0 281.9h0M467.2 280.9h0M467.5 280.0h0M467.7 279.2h0M467.9 278.4h0M468.4 277.3h0M468.9 276.7h0M469.6 277.3h0M470.1 278.3h0M470.6 279.6h0M470.8 280.3h0M471.1 281.0h0M471.3 281.7h0M471.6 282.4h0M472.0 283.6h0M472.5 284.5h0M473.3 284.9h0M474.0 284.7h0M474.7 284.3h0M475.4 283.9h0M476.2 283.5h0M476.9 283.3h0M477.6 283.3h0M478.3 283.5h0M479.1 283.8h0M479.8 284.0h0M480.5 284.0h0M481.0 283.4h0M481.5 282.2h0M481.7 281.5h0M482.0 280.8h0M482.2 280.0h0M482.4 279.3h0M482.9 278.2h0M483.4 277.3h0M483.9 276.3h0M484.4 275.4h0M484.9 274.5h0M485.3 273.9h0M486.1 273.5h0M486.8 274.3h0M487.3 275.6h0M487.5 276.3h0M487.8 277.2h0M488.0 278.0h0M488.2 278.7h0M488.5 279.4h0M489.0 280.5h0M489.7 280.8h0M490.4 280.7h0M491.1 280.4h0M491.9 280.1h0M492.6 279.7h0M493.3 279.3h0M494.0 278.7h0M494.8 278.0h0M495.2 277.4h0M495.7 276.7h0M496.2 276.1h0M496.7 275.4h0M497.2 274.7h0M497.7 274.1h0M498.1 273.5h0M498.9 272.8h0M499.6 272.4h0M500.3 272.1h0M501.0 271.9h0M501.8 271.6h0M502.5 271.4h0M503.2 271.0h0M503.9 270.5h0M504.7 269.8h0M505.1 269.3h0M505.9 268.5h0M506.6 268.0h0M507.3 267.7h0M508.0 268.3h0M508.5 268.9h0M509.0 269.6h0M509.7 270.2h0M510.5 269.6h0M510.9 268.7h0M511.4 267.7h0M511.9 267.1h0M512.6 267.1h0M513.4 267.7h0M513.8 268.4h0M514.3 269.2h0M514.8 270.0h0M515.3 270.8h0M515.8 271.4h0M516.3 272.1h0M516.7 272.9h0M517.2 273.7h0M517.7 274.4h0M518.4 275.0h0M519.2 275.0h0M519.9 274.6h0M520.6 274.1h0M521.3 273.6h0M522.1 273.5h0M522.8 273.6h0M523.5 273.8h0M524.2 274.1h0M525.0 274.3h0M525.7 274.1h0M526.4 273.4h0M526.9 272.7h0M527.4 272.0h0M527.9 271.4h0M528.6 271.0h0M529.3 271.1h0M530.0 271.5h0M530.8 272.2h0" fill="none" stroke="#00ffff" stroke-width="3.1" stroke-linecap="round"/>
</g>
<text x="42.2" y="298.00" text-anchor="end" class="tl">0</text>
<text x="42.2" y="268.30" text-anchor="end" class="tl">0.5</text>
<text x="42.2" y="238.60" text-anchor="end" class="tl">1</text>
<text x="47.40" y="310.60" text-anchor="middle" class="tl">0</text>
<text x="95.72" y="310.60" text-anchor="middle" class="tl">200</text>
<text x="144.04" y="310.60" text-anchor="middle" class="tl">400</text>
<text x="192.36" y="310.60" text-anchor="middle" class="tl">600</text>
<text x="240.68" y="310.60" text-anchor="middle" class="tl">800</text>
<text x="289.00" y="310.60" text-anchor="middle" class="tl">1000</text>
<text x="337.32" y="310.60" text-anchor="middle" class="tl">1200</text>
<text x="385.64" y="310.60" text-anchor="middle" class="tl">1400</text>
<text x="433.96" y="310.60" text-anchor="middle" class="tl">1600</text>
<text x="482.28" y="310.60" text-anchor="middle" class="tl">1800</text>
<text x="530.60" y="310.60" text-anchor="middle" class="tl">2000</text>
<text x="289.40" y="330.20" text-anchor="middle" class="lb">columns</text>
<text transform="translate(18 263.40) rotate(-90)" text-anchor="middle" class="lb">coherency</text>
<path d="M434.3 237.8H467.1" stroke="#ff00ff" stroke-width="1"/>
<circle cx="450.70" cy="237.8" r="1.3" fill="#ff00ff"/>
<text x="469.5" y="242.60" class="lg">FOCUSS</text>
<path d="M434.3 253.7H467.1" stroke="#00ffff" stroke-width="1"/>
<circle cx="450.70" cy="253.7" r="1.3" fill="#00ffff"/>
<text x="469.5" y="258.50" class="lg">MPM</text>
</svg>
</body></html>
